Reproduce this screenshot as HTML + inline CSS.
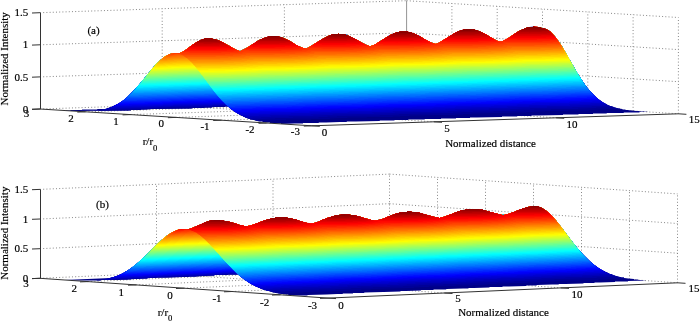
<!DOCTYPE html>
<html><head><meta charset="utf-8"><title>Normalized intensity</title>
<style>
html,body{margin:0;padding:0;background:#fff}
svg{display:block}
text{font-family:"Liberation Serif","Times New Roman",serif;font-size:11px;fill:#000;stroke:#000;stroke-width:.18px}
.g{stroke:#6a6a6a;stroke-width:.8;stroke-dasharray:1 2.2;fill:none}
.gs{stroke:#777;stroke-width:.8;fill:none}
.ax{stroke:#333;stroke-width:1;fill:none}
</style></head><body>
<svg width="700" height="323" viewBox="0 0 700 323">
<rect width="700" height="323" fill="#fff"/>
<g><path class="g" d="M40.0 109.0L406.6 97.0"/>
<path class="g" d="M406.6 97.0L678.4 113.8"/>
<path class="g" d="M40.0 76.9L406.6 64.9"/>
<path class="g" d="M406.6 64.9L678.4 81.7"/>
<path class="g" d="M40.0 44.8L406.6 32.8"/>
<path class="g" d="M406.6 32.8L678.4 49.6"/>
<path class="g" d="M40.0 12.7L406.6 0.7"/>
<path class="g" d="M406.6 0.7L678.4 17.5"/>
<path class="g" d="M162.2 105.0L162.2 8.7"/>
<path class="g" d="M162.2 105.0L434.0 121.8"/>
<path class="g" d="M284.4 101.0L284.4 4.7"/>
<path class="g" d="M284.4 101.0L556.2 117.8"/>
<path class="gs" d="M406.6 97.0L406.6 0.7"/>
<path class="g" d="M451.9 99.8L451.9 3.5"/>
<path class="g" d="M497.2 102.6L497.2 6.3"/>
<path class="g" d="M542.5 105.4L542.5 9.1"/>
<path class="g" d="M587.8 108.2L587.8 11.9"/>
<path class="g" d="M633.1 111.0L633.1 14.7"/>
<path class="g" d="M678.4 113.8L678.4 17.5"/>
<path class="g" d="M85.3 111.8L451.9 99.8"/>
<path class="g" d="M130.6 114.6L497.2 102.6"/>
<path class="g" d="M175.9 117.4L542.5 105.4"/>
<path class="g" d="M221.2 120.2L587.8 108.2"/>
<path class="g" d="M266.5 123.0L633.1 111.0"/></g>
<g shape-rendering="auto"><path fill="#000087" d="M648.9 111.9l-6 -0.3l-0.3 -0.2l-3 0l-0.2 -0.3l-2.8 0l-0.2 -0.2l-4.8 -0.3l-0.2 -0.2l-4 -0.3l-0.3 -0.2l-1.5 0l-0.2 -0.3l-1.3 0l-0.2 -0.2l-1.3 0l-0.2 -0.3l-3.5 -0.5l-0.3 -0.2l-3.7 -0.8l-6.3 -2.2l-5 -2.5l-4.5 -3l-6.5 -5.8l-4.2 -4.7l-4.8 -6.3l-4 -6l-5 -8.2l-0.5 -1.3l-4.5 -7.5l-0.7 -1.7l-0.5 -0.5l-0.5 -1.3l-0.5 -0.5l-0.5 -1.2l-5.5 -9.3l-3.5 -5.2l-3.5 -4.5l-4.3 -4.3l-4 -2.5l-2.2 -0.7l-1.5 0l-3.8 -1.3l-1 0l-0.2 -0.2l-3 0l-0.3 -0.3l-5 0.5l-5.5 1.8l-6.2 3.2l-10.5 6.8l-5.3 2.5l-2.5 0l-2.7 -1l-6.3 -3.3l-4 -2.5l-6 -3l-0.5 0l-1.2 -0.7l-2.3 -0.8l-0.7 0l-2.3 -0.7l-1.5 0l-0.2 -0.3l-5.3 0l-0.2 0.3l-1.5 0l-5 1.5l-5.3 2.5l-12.2 7.7l-3.3 1.8l-2.7 1l-2 -0.3l-2.8 -1l-6.2 -3.2l-4.5 -2.8l-5.5 -2.7l-5 -1.8l-2 -0.2l-0.3 -0.3l-2 0l-0.2 -0.2l-3.8 0l-0.2 0.2l-2.8 0.3l-3.5 1l-2.5 1.2l-0.5 0l-6.7 3.8l-8 5.2l-4.3 2.3l-0.5 0l-1.5 0.7l-1.7 0l-3 -1l-5 -2.5l-6.3 -3.7l-5 -2.5l-4.7 -1.8l-0.8 0l-1.2 -0.5l-1.3 0l-0.2 -0.2l-3.5 0l-0.3 -0.3l-0.2 0.3l-4 0.2l-5.5 1.8l-5 2.5l-12.3 7.7l-3.5 1.8l-2.2 0.7l-3.8 -1l-5.5 -2.7l-6.2 -3.8l-6.3 -3l-3.7 -1.2l-2 -0.3l-0.3 -0.2l-1.2 0l-0.3 -0.3l-5.2 0l-0.3 0.3l-1.5 0l-6.2 2l-4.5 2.2l-11.8 7.5l-6 2.8l-1.2 0l-3 -1l-5.5 -2.8l-0.5 -0.5l-5.8 -3l-0.5 -0.5l-6.5 -3l-4.2 -1.2l-1 0l-0.3 -0.3l-2 0l-0.2 -0.2l-5 0.2l-4 1.3l-3 1.5l-5 3.2l-6.5 5l-5 3l-1.5 0.5l-6.3 0l-0.2 0.3l-2.3 0.2l-4.2 1.8l-3.8 2.5l-3 2.5l-6.5 6.7l-10.5 13l-7.2 8.5l-10 9.8l-3.3 2.5l-5 3.2l-6.2 3l-6.5 2l-7.5 0l-0.3 0.3l-7.2 0l-0.3 0.2l-7.5 0l-0.2 0.3l-8 0l-0.3 0.2l-7.7 0l-0.3 0.3l-2.7 0l7.5 0.2l0.2 0.3l6.3 0l0.2 0.2l46.5 -0.5l0.3 -0.2l7 0l0.2 -0.3l9.8 -0.2l0.2 -0.3l3.8 0l0.2 -0.2l7.5 -0.3l0.3 -0.2l31.5 -0.3l0.2 -0.2l8 0l0.3 -0.3l11 -0.2l0.2 -0.3l4 0l0.3 -0.2l3.7 0l0.3 -0.3l3.5 0l0.2 -0.2l8.8 0l0.2 -0.3l3.3 0l5.5 4.5l4.7 3l6.8 3.3l5.7 2l0.8 0l5.2 1.5l3.8 0.5l0.2 0.2l1.3 0l0.2 0.3l5.3 0.5l0.2 0.2l1.8 0l0.2 0.3l4.8 0.2l0.2 0.3l5.8 0.2l0.2 0.3l13.3 -0.3l0.2 -0.2l8.3 0l0.2 -0.3l7.8 0l0.2 -0.2l7.5 0l0.3 -0.3l7 0l0.2 -0.2l13.8 -0.3l0.2 -0.2l6.5 0l0.3 -0.3l8.5 0l0.2 -0.2l24 -0.5l0.3 -0.3l14.5 -0.2l0.2 -0.3l6.8 0l0.2 -0.2l6.5 0l0.3 -0.3l16.2 -0.2l0.3 -0.3l8 0l0.2 -0.2l7.8 0l0.2 -0.3l14.8 -0.2l0.2 -0.3l13.8 -0.2l0.2 -0.3l6.5 0l0.3 -0.2l25 -0.5l0.2 -0.3l15 -0.2l0.3 -0.3l7 0l0.2 -0.2l6.8 0l0.2 -0.3l6.5 0l0.3 -0.2l24.5 -0.5l0.2 -0.3l7.5 0l0.3 -0.2l7.5 0l0.2 -0.3l7 0l0.3 -0.2l7 0l0.2 -0.3l13.5 -0.2l0.3 -0.3l16.7 -0.2l0.3 -0.3l7.7 0l0.3 -0.2l7.5 0l0.2 -0.3l7.3 0l0.2 -0.2z"/>
<path fill="#000097" d="M621.1 108.9l-1 0l-0.2 -0.3l-1 0l-0.3 -0.2l-3.7 -0.8l-6.3 -2.2l-5 -2.5l-2.7 -1.8l-4.3 -3.2l-3 -2.8l-3.7 -4l-3.5 -4.2l-6.8 -9.8l-5 -8.2l-0.5 -1.3l-4.5 -7.5l-0.7 -1.7l-0.5 -0.5l-0.5 -1.3l-0.5 -0.5l-0.5 -1.2l-5.5 -9.3l-3.5 -5.2l-3.5 -4.5l-4.3 -4.3l-4 -2.5l-2.2 -0.7l-1.5 0l-1.8 -0.8l-3 -0.5l-0.2 -0.2l-3 0l-0.3 -0.3l-1 0l-0.2 0.3l-3.8 0.2l-5.5 1.8l-6.2 3.2l-10.5 6.8l-5.3 2.5l-2.5 0l-2.7 -1l-6.3 -3.3l-4 -2.5l-6 -3l-0.5 0l-1.2 -0.7l-2.3 -0.8l-0.7 0l-2.3 -0.7l-1.5 0l-0.2 -0.3l-5.3 0l-0.2 0.3l-1.5 0l-5 1.5l-5.3 2.5l-12.2 7.7l-3.3 1.8l-2.7 1l-2 -0.3l-2.8 -1l-6.2 -3.2l-4.5 -2.8l-5.5 -2.7l-5 -1.8l-2 -0.2l-0.3 -0.3l-2 0l-0.2 -0.2l-3.8 0l-0.2 0.2l-2.8 0.3l-3.5 1l-2.5 1.2l-0.5 0l-6.7 3.8l-8 5.2l-4.3 2.3l-0.5 0l-1.5 0.7l-1.7 0l-3 -1l-5 -2.5l-6.3 -3.7l-5 -2.5l-4.7 -1.8l-0.8 0l-1.2 -0.5l-1.3 0l-0.2 -0.2l-3.5 0l-0.3 -0.3l-0.2 0.3l-4 0.2l-5.5 1.8l-5 2.5l-12.3 7.7l-3.5 1.8l-2.2 0.7l-3.8 -1l-5.5 -2.7l-6.2 -3.8l-6.3 -3l-3.7 -1.2l-2 -0.3l-0.3 -0.2l-1.2 0l-0.3 -0.3l-5.2 0l-0.3 0.3l-1.5 0l-6.2 2l-4.5 2.2l-11.8 7.5l-6 2.8l-1.2 0l-3 -1l-5.5 -2.8l-0.5 -0.5l-5.8 -3l-0.5 -0.5l-6.5 -3l-4.2 -1.2l-1 0l-0.3 -0.3l-2 0l-0.2 -0.2l-5 0.2l-4 1.3l-3 1.5l-5 3.2l-6.5 5l-5 3l-1.5 0.5l-6.3 0l-0.2 0.3l-2.3 0.2l-4.2 1.8l-3.8 2.5l-3 2.5l-6.5 6.7l-10.5 13l-7.2 8.5l-8.3 8.3l-5 4l-3.7 2.5l-5.8 3l-7 2.5l-4.2 0.7l-0.3 0.3l-1 0l-0.2 0.2l-1.5 0l-0.3 0.3l-4.2 0.2l-0.3 0.3l-2.7 0l38.2 -0.5l0.3 -0.3l11 -0.2l0.2 -0.3l3.8 0l0.2 -0.2l7.5 -0.3l0.3 -0.2l38 -0.5l0.2 -0.3l7.3 0l0.2 -0.2l9.5 -0.3l0.3 -0.2l3.7 0l0.3 -0.3l7.7 -0.2l0.3 -0.3l8 0l2.5 2.3l5.2 3.7l7.5 4l7.5 2.8l0.8 0l5.2 1.5l3.3 0.5l0.2 -0.3l4 0l0.3 -0.2l3.7 0l0.3 -0.3l6.5 -0.2l0.2 -0.3l4.3 0l0.2 -0.2l5.8 0l0.2 -0.3l25 -0.2l0.3 -0.3l14 0l0.2 -0.2l4 0l0.3 -0.3l11.7 -0.5l0.3 -0.2l5.2 0l0.3 -0.3l19.2 -0.2l0.3 -0.3l25.7 -0.2l0.3 -0.3l3.5 0l0.2 -0.2l3.5 0l0.3 -0.3l8.7 -0.2l0.3 -0.3l6 0l0.2 -0.2l23.8 -0.3l0.2 -0.2l15.3 0l0.2 -0.3l4.3 0l0.2 -0.2l3.5 0l0.3 -0.3l3.5 0l0.2 -0.2l4.3 0l0.2 -0.3l5 0l0.3 -0.2l18.5 -0.3l0.2 -0.2l26.5 -0.3l0.3 -0.2l3.7 0l0.3 -0.3l7.5 -0.2l0.2 -0.3l4.5 0l0.3 -0.2l6 0l0.2 -0.3l22.8 -0.2l0.2 -0.3l16 0l0.3 -0.2l4.5 0l0.2 -0.3l3.8 0l0.2 -0.2l7.8 -0.3l0.2 -0.2l5 0l0.3 -0.3z"/>
<path fill="#0000a7" d="M613.9 107.1l-5.3 -1.7l-5 -2.5l-2.7 -1.8l-4.3 -3.2l-3 -2.8l-5.2 -5.7l-4.8 -6.3l-5.2 -8l-17 -29.5l-5.8 -8.2l-5.5 -5.8l-2.5 -1.7l-3.7 -1.5l-1.5 0l-1.8 -0.8l-3 -0.5l-0.2 -0.2l-3 0l-0.3 -0.3l-1 0l-0.2 0.3l-3.8 0.2l-5.5 1.8l-6.2 3.2l-10.5 6.8l-5.3 2.5l-2.5 0l-2.7 -1l-6.3 -3.3l-4 -2.5l-6 -3l-0.5 0l-1.2 -0.7l-2.3 -0.8l-0.7 0l-2.3 -0.7l-1.5 0l-0.2 -0.3l-5.3 0l-0.2 0.3l-1.5 0l-5 1.5l-5.3 2.5l-12.2 7.7l-3.3 1.8l-2.7 1l-2 -0.3l-2.8 -1l-6.2 -3.2l-4.5 -2.8l-5.5 -2.7l-5 -1.8l-2 -0.2l-0.3 -0.3l-2 0l-0.2 -0.2l-3.8 0l-0.2 0.2l-2.8 0.3l-3.5 1l-2.5 1.2l-0.5 0l-6.7 3.8l-8 5.2l-4.3 2.3l-0.5 0l-1.5 0.7l-1.7 0l-3 -1l-5 -2.5l-6.3 -3.7l-5 -2.5l-4.7 -1.8l-0.8 0l-1.2 -0.5l-1.3 0l-0.2 -0.2l-3.5 0l-0.3 -0.3l-0.2 0.3l-4 0.2l-5.5 1.8l-5 2.5l-12.3 7.7l-3.5 1.8l-2.2 0.7l-3.8 -1l-5.5 -2.7l-6.2 -3.8l-6.3 -3l-3.7 -1.2l-2 -0.3l-0.3 -0.2l-1.2 0l-0.3 -0.3l-5.2 0l-0.3 0.3l-1.5 0l-6.2 2l-4.5 2.2l-11.8 7.5l-6 2.8l-1.2 0l-3 -1l-5.5 -2.8l-0.5 -0.5l-5.8 -3l-0.5 -0.5l-6.5 -3l-4.2 -1.2l-1 0l-0.3 -0.3l-2 0l-0.2 -0.2l-5 0.2l-4 1.3l-3 1.5l-5 3.2l-6.5 5l-5 3l-1.5 0.5l-6.3 0l-0.2 0.3l-2.3 0.2l-2.2 0.8l-4.8 2.7l-4 3.3l-4.2 4.2l-6.3 7.3l-13.7 16.7l-10 9.8l-7 5l-5.8 3l-7 2.5l-4.2 0.7l-0.3 0.3l-1 0l-0.2 0.2l-1.3 0l36 -0.5l0.3 -0.2l11.7 -0.3l0.3 -0.2l4.2 0l0.3 -0.3l4 0l0.2 -0.2l4 0l0.3 -0.3l35.5 -0.5l0.2 -0.2l7.5 0l0.3 -0.3l6 0l0.2 -0.2l4.5 0l0.3 -0.3l4 0l0.2 -0.2l4 0l0.3 -0.3l4.5 0l1.5 1.5l4.5 3.5l4.7 3l8 3.8l4.5 1.5l1.5 0.2l0.3 -0.2l5 0l0.2 -0.3l3.8 0l0.2 -0.2l7.8 -0.3l0.2 -0.2l5 0l0.3 -0.3l17.5 -0.2l0.2 -0.3l25.5 -0.2l0.3 -0.3l4.2 0l0.3 -0.2l4 0l0.2 -0.3l4 0l0.3 -0.2l5 0l0.2 -0.3l6 0l0.3 -0.2l21.2 -0.3l0.3 -0.2l14.7 0l0.3 -0.3l6 0l0.2 -0.2l12.8 -0.5l0.2 -0.3l5.3 0l0.2 -0.2l17.5 -0.3l0.3 -0.2l26 -0.3l0.2 -0.2l4.3 0l0.2 -0.3l8.3 -0.2l0.2 -0.3l4.8 0l0.2 -0.2l6 0l0.3 -0.3l20.7 -0.2l0.3 -0.3l15 0l0.2 -0.2l6.5 0l0.3 -0.3l8 -0.2l0.2 -0.3l4.5 0l0.3 -0.2l5.2 0l0.3 -0.3l16.5 -0.2l0.2 -0.3l26.8 -0.2l0.2 -0.3l4.5 0l0.3 -0.2l13 -0.5l0.2 -0.3z"/>
<path fill="#0000b7" d="M609.6 105.6l-1 -0.2l-5 -2.5l-7 -5l-4 -3.8l-6.2 -7.2l-8 -11.8l-17 -29.5l-3.5 -5.2l-3.5 -4.5l-4.3 -4.3l-4 -2.5l-2.2 -0.7l-1.5 0l-1.8 -0.8l-3 -0.5l-0.2 -0.2l-3 0l-0.3 -0.3l-1 0l-0.2 0.3l-3.8 0.2l-5.5 1.8l-6.2 3.2l-10.5 6.8l-5.3 2.5l-2.5 0l-2.7 -1l-6.3 -3.3l-4 -2.5l-6 -3l-0.5 0l-1.2 -0.7l-2.3 -0.8l-0.7 0l-2.3 -0.7l-1.5 0l-0.2 -0.3l-5.3 0l-0.2 0.3l-1.5 0l-5 1.5l-5.3 2.5l-12.2 7.7l-3.3 1.8l-2.7 1l-2 -0.3l-2.8 -1l-6.2 -3.2l-4.5 -2.8l-5.5 -2.7l-5 -1.8l-2 -0.2l-0.3 -0.3l-2 0l-0.2 -0.2l-3.8 0l-0.2 0.2l-2.8 0.3l-3.5 1l-2.5 1.2l-0.5 0l-6.7 3.8l-8 5.2l-4.3 2.3l-0.5 0l-1.5 0.7l-1.7 0l-3 -1l-5 -2.5l-6.3 -3.7l-5 -2.5l-4.7 -1.8l-0.8 0l-1.2 -0.5l-1.3 0l-0.2 -0.2l-3.5 0l-0.3 -0.3l-0.2 0.3l-4 0.2l-5.5 1.8l-5 2.5l-12.3 7.7l-3.5 1.8l-2.2 0.7l-3.8 -1l-5.5 -2.7l-6.2 -3.8l-6.3 -3l-3.7 -1.2l-2 -0.3l-0.3 -0.2l-1.2 0l-0.3 -0.3l-5.2 0l-0.3 0.3l-1.5 0l-6.2 2l-4.5 2.2l-11.8 7.5l-6 2.8l-1.2 0l-3 -1l-5.5 -2.8l-0.5 -0.5l-5.8 -3l-0.5 -0.5l-6.5 -3l-4.2 -1.2l-1 0l-0.3 -0.3l-2 0l-0.2 -0.2l-5 0.2l-4 1.3l-3 1.5l-5 3.2l-6.5 5l-5 3l-1.5 0.5l-6.3 0l-0.2 0.3l-2.3 0.2l-2.2 0.8l-4.8 2.7l-4 3.3l-4.2 4.2l-6.3 7.3l-11.7 14.5l-10.3 10.5l-5 4l-5 3.2l-6.2 3l-7.3 2.3l0.8 0l0.2 -0.3l11 0l0.3 -0.2l24.2 -0.3l0.3 -0.2l11.7 -0.3l0.3 -0.2l4.5 0l0.2 -0.3l9 -0.2l0.3 -0.3l34.7 -0.5l0.3 -0.2l7.2 0l0.3 -0.3l5.7 0l0.3 -0.2l4.7 0l0.3 -0.3l6.5 -0.2l4 3.5l5.2 3.7l7.5 4l0.5 0l1.3 0.8l2.2 0.7l0.3 -0.2l4.5 0l0.2 -0.3l4.3 0l0.2 -0.2l4 0l0.3 -0.3l4 0l0.2 -0.2l5.3 0l0.2 -0.3l17.5 -0.2l0.3 -0.3l13.5 0l0.2 -0.2l10.5 0l0.3 -0.3l4.7 0l0.3 -0.2l8.7 -0.3l0.3 -0.2l5 0l0.2 -0.3l6.5 0l0.3 -0.2l20.2 -0.3l0.3 -0.2l13.7 0l0.3 -0.3l6.7 0l0.3 -0.2l13.7 -0.5l0.3 -0.3l5.5 0l0.2 -0.2l17 -0.3l0.3 -0.2l13.5 0l0.2 -0.3l11.3 0l0.2 -0.2l4.5 0l0.3 -0.3l9 -0.2l0.2 -0.3l5 0l0.3 -0.2l6 0l0.2 -0.3l20 -0.2l0.3 -0.3l13.7 0l0.3 -0.2l7.2 0l0.3 -0.3l4.5 0l0.2 -0.2l9 -0.3l0.3 -0.2l5.5 0l0.2 -0.3l16.8 -0.2l0.2 -0.3l13.3 0l0.2 -0.2l11.8 0l0.2 -0.3l4.8 0l0.2 -0.2l14 -0.5l0.3 -0.3l6.2 0l0.3 -0.2z"/>
<path fill="#0000c7" d="M606.4 104.1l-4.8 -2.5l-5 -3.7l-4 -3.8l-6.2 -7.2l-8 -11.8l-17 -29.5l-3.5 -5.2l-3.5 -4.5l-4.3 -4.3l-4 -2.5l-2.2 -0.7l-1.5 0l-1.8 -0.8l-3 -0.5l-0.2 -0.2l-3 0l-0.3 -0.3l-1 0l-0.2 0.3l-3.8 0.2l-5.5 1.8l-6.2 3.2l-10.5 6.8l-5.3 2.5l-2.5 0l-2.7 -1l-6.3 -3.3l-4 -2.5l-6 -3l-0.5 0l-1.2 -0.7l-2.3 -0.8l-0.7 0l-2.3 -0.7l-1.5 0l-0.2 -0.3l-5.3 0l-0.2 0.3l-1.5 0l-5 1.5l-5.3 2.5l-12.2 7.7l-3.3 1.8l-2.7 1l-2 -0.3l-2.8 -1l-6.2 -3.2l-4.5 -2.8l-5.5 -2.7l-5 -1.8l-2 -0.2l-0.3 -0.3l-2 0l-0.2 -0.2l-3.8 0l-0.2 0.2l-2.8 0.3l-3.5 1l-2.5 1.2l-0.5 0l-6.7 3.8l-8 5.2l-4.3 2.3l-0.5 0l-1.5 0.7l-1.7 0l-3 -1l-5 -2.5l-6.3 -3.7l-5 -2.5l-4.7 -1.8l-0.8 0l-1.2 -0.5l-1.3 0l-0.2 -0.2l-3.5 0l-0.3 -0.3l-0.2 0.3l-4 0.2l-5.5 1.8l-5 2.5l-12.3 7.7l-3.5 1.8l-2.2 0.7l-3.8 -1l-5.5 -2.7l-6.2 -3.8l-6.3 -3l-3.7 -1.2l-2 -0.3l-0.3 -0.2l-1.2 0l-0.3 -0.3l-5.2 0l-0.3 0.3l-1.5 0l-6.2 2l-4.5 2.2l-11.8 7.5l-6 2.8l-1.2 0l-3 -1l-5.5 -2.8l-0.5 -0.5l-5.8 -3l-0.5 -0.5l-6.5 -3l-4.2 -1.2l-1 0l-0.3 -0.3l-2 0l-0.2 -0.2l-5 0.2l-4 1.3l-3 1.5l-5 3.2l-6.5 5l-5 3l-1.5 0.5l-6.3 0l-0.2 0.3l-2.3 0.2l-2.2 0.8l-4.8 2.7l-4 3.3l-4.2 4.2l-6.3 7.3l-11.7 14.5l-10.3 10.5l-5 4l-5 3.2l-4.5 2.3l-0.5 0l-3.2 1.5l-1.5 0.2l0 0.3l0.7 0l0.3 -0.3l10.5 0l0.2 -0.2l23.5 -0.3l0.3 -0.2l12.2 -0.3l0.3 -0.2l4.7 0l0.3 -0.3l9.5 -0.2l0.2 -0.3l33.3 -0.5l0.2 -0.2l7.5 0l0.3 -0.3l6 0l0.2 -0.2l8 -0.3l3.3 3l4.5 3.5l4.7 3l5.3 2.5l0.2 -0.2l5.8 0l0.2 -0.3l4.3 0l0.2 -0.2l4 0l0.3 -0.3l4.7 0l0.3 -0.2l5.7 0l0.3 -0.3l40.7 -0.7l0.3 -0.3l14.2 -0.5l0.3 -0.2l12.7 -0.3l0.3 -0.2l9 0l0.2 -0.3l24.5 -0.2l0.3 -0.3l5.5 0l0.2 -0.2l14.5 -0.5l0.3 -0.3l6.2 0l0.3 -0.2l40.7 -0.8l0.3 -0.2l4.7 0l0.3 -0.3l9.5 -0.2l0.2 -0.3l5.5 0l0.3 -0.2l15.7 -0.3l0.3 -0.2l11.7 0l0.3 -0.3l12.2 0l0.3 -0.2l6.2 0l0.3 -0.3l14.5 -0.5l0.2 -0.2l6 0l0.3 -0.3l18 -0.2l0.2 -0.3l12.5 0l0.3 -0.2l10 0l0.2 -0.3l4.8 0l0.2 -0.2l9.5 -0.3l0.3 -0.2l12 -0.3l0.2 -0.2l9 0z"/>
<path fill="#0000d7" d="M603.9 102.9l-4.8 -3l-5.5 -4.8l-5.2 -5.7l-3.5 -4.5l-5.3 -7.8l-5 -8.2l-0.5 -1.3l-4.5 -7.5l-0.7 -1.7l-0.5 -0.5l-0.5 -1.3l-0.5 -0.5l-0.5 -1.2l-5.5 -9.3l-3.5 -5.2l-3.5 -4.5l-4.3 -4.3l-4 -2.5l-2.2 -0.7l-1.5 0l-1.8 -0.8l-3 -0.5l-0.2 -0.2l-3 0l-0.3 -0.3l-1 0l-0.2 0.3l-3.8 0.2l-5.5 1.8l-6.2 3.2l-10.5 6.8l-5.3 2.5l-2.5 0l-2.7 -1l-6.3 -3.3l-4 -2.5l-6 -3l-0.5 0l-1.2 -0.7l-2.3 -0.8l-0.7 0l-2.3 -0.7l-1.5 0l-0.2 -0.3l-5.3 0l-0.2 0.3l-1.5 0l-5 1.5l-5.3 2.5l-12.2 7.7l-3.3 1.8l-2.7 1l-2 -0.3l-2.8 -1l-6.2 -3.2l-4.5 -2.8l-5.5 -2.7l-5 -1.8l-2 -0.2l-0.3 -0.3l-2 0l-0.2 -0.2l-3.8 0l-0.2 0.2l-2.8 0.3l-3.5 1l-2.5 1.2l-0.5 0l-6.7 3.8l-8 5.2l-4.3 2.3l-0.5 0l-1.5 0.7l-1.7 0l-3 -1l-5 -2.5l-6.3 -3.7l-5 -2.5l-4.7 -1.8l-0.8 0l-1.2 -0.5l-1.3 0l-0.2 -0.2l-3.5 0l-0.3 -0.3l-0.2 0.3l-4 0.2l-5.5 1.8l-5 2.5l-12.3 7.7l-3.5 1.8l-2.2 0.7l-3.8 -1l-5.5 -2.7l-6.2 -3.8l-6.3 -3l-3.7 -1.2l-2 -0.3l-0.3 -0.2l-1.2 0l-0.3 -0.3l-5.2 0l-0.3 0.3l-1.5 0l-6.2 2l-4.5 2.2l-11.8 7.5l-6 2.8l-1.2 0l-3 -1l-5.5 -2.8l-0.5 -0.5l-5.8 -3l-0.5 -0.5l-6.5 -3l-4.2 -1.2l-1 0l-0.3 -0.3l-2 0l-0.2 -0.2l-5 0.2l-4 1.3l-3 1.5l-5 3.2l-6.5 5l-5 3l-1.5 0.5l-6.3 0l-0.2 0.3l-2.3 0.2l-2.2 0.8l-4.8 2.7l-4 3.3l-4.2 4.2l-6.3 7.3l-11.7 14.5l-10.3 10.5l-5 4l-3.7 2.5l-5.8 3l-2.2 0.7l33 -0.5l0.2 -0.2l12.8 -0.3l0.2 -0.2l5.3 0l0.2 -0.3l9.8 -0.2l0.2 -0.3l31.8 -0.5l0.2 -0.2l8 0l0.3 -0.3l6.2 0l0.3 -0.2l5.5 0l0.2 -0.3l5.8 5.3l5.2 3.7l4.5 2.5l2 0l0.3 -0.2l5.5 0l0.2 -0.3l14.5 -0.5l0.3 -0.2l7 0l0.2 -0.3l20 -0.2l0.3 -0.3l12 0l0.2 -0.2l6.3 0l0.2 -0.3l15.3 -0.5l0.2 -0.2l6 0l0.3 -0.3l18 -0.2l0.2 -0.3l12 0l0.3 -0.2l9.7 0l0.3 -0.3l5 0l0.2 -0.2l9.8 -0.3l0.2 -0.2l5.5 0l0.3 -0.3l6.7 0l0.3 -0.2l20 -0.3l0.2 -0.2l12 0l0.3 -0.3l6.7 0l0.3 -0.2l15.2 -0.5l0.3 -0.3l6 0l0.2 -0.2l17.3 -0.3l0.2 -0.2l12 0l0.3 -0.3l10.2 0l0.3 -0.2l5.2 0l0.3 -0.3l4.7 0l0.3 -0.2l4.7 0l0.3 -0.3l5.5 0l0.2 -0.2l6.5 0l0.3 -0.3l20 -0.2l0.2 -0.3l11.8 0l0.2 -0.2l7.3 0l0.2 -0.3l15.3 -0.5l0.2 -0.2l5.8 0l0.2 -0.3z"/>
<path fill="#0000e7" d="M601.4 101.4l-4.8 -3.5l-3 -2.8l-5.2 -5.7l-3.5 -4.5l-5.3 -7.8l-5 -8.2l-0.5 -1.3l-4.5 -7.5l-0.7 -1.7l-0.5 -0.5l-0.5 -1.3l-0.5 -0.5l-0.5 -1.2l-5.5 -9.3l-3.5 -5.2l-3.5 -4.5l-4.3 -4.3l-4 -2.5l-2.2 -0.7l-1.5 0l-1.8 -0.8l-3 -0.5l-0.2 -0.2l-3 0l-0.3 -0.3l-1 0l-0.2 0.3l-3.8 0.2l-5.5 1.8l-6.2 3.2l-10.5 6.8l-5.3 2.5l-2.5 0l-2.7 -1l-6.3 -3.3l-4 -2.5l-6 -3l-0.5 0l-1.2 -0.7l-2.3 -0.8l-0.7 0l-2.3 -0.7l-1.5 0l-0.2 -0.3l-5.3 0l-0.2 0.3l-1.5 0l-5 1.5l-5.3 2.5l-12.2 7.7l-3.3 1.8l-2.7 1l-2 -0.3l-2.8 -1l-6.2 -3.2l-4.5 -2.8l-5.5 -2.7l-5 -1.8l-2 -0.2l-0.3 -0.3l-2 0l-0.2 -0.2l-3.8 0l-0.2 0.2l-2.8 0.3l-3.5 1l-2.5 1.2l-0.5 0l-6.7 3.8l-8 5.2l-4.3 2.3l-0.5 0l-1.5 0.7l-1.7 0l-3 -1l-5 -2.5l-6.3 -3.7l-5 -2.5l-4.7 -1.8l-0.8 0l-1.2 -0.5l-1.3 0l-0.2 -0.2l-3.5 0l-0.3 -0.3l-0.2 0.3l-4 0.2l-5.5 1.8l-5 2.5l-12.3 7.7l-3.5 1.8l-2.2 0.7l-3.8 -1l-5.5 -2.7l-6.2 -3.8l-6.3 -3l-3.7 -1.2l-2 -0.3l-0.3 -0.2l-1.2 0l-0.3 -0.3l-5.2 0l-0.3 0.3l-1.5 0l-6.2 2l-4.5 2.2l-11.8 7.5l-6 2.8l-1.2 0l-3 -1l-5.5 -2.8l-0.5 -0.5l-5.8 -3l-0.5 -0.5l-6.5 -3l-4.2 -1.2l-1 0l-0.3 -0.3l-2 0l-0.2 -0.2l-5 0.2l-4 1.3l-3 1.5l-5 3.2l-6.5 5l-5 3l-1.5 0.5l-6.3 0l-0.2 0.3l-2.3 0.2l-2.2 0.8l-4.8 2.7l-4 3.3l-4.2 4.2l-6.3 7.3l-11.7 14.5l-10.3 10.5l-5 4l-3.7 2.5l-5.5 2.7l18.2 -0.2l0.3 -0.3l11 0l0.2 -0.2l14.3 -0.3l0.2 -0.2l5.5 0l0.3 -0.3l10 -0.2l0.2 -0.3l7 0l0.3 -0.2l22.2 -0.3l0.3 -0.2l8.7 0l0.3 -0.3l12 -0.2l3.2 3.2l6.3 5l4.5 2.8l0.2 -0.3l14.5 -0.5l0.3 -0.2l5 0l0.2 -0.3l6 0l0.3 -0.2l17.7 -0.3l0.3 -0.2l11.5 0l0.2 -0.3l9.5 0l0.3 -0.2l5 0l0.2 -0.3l5 0l0.3 -0.2l5 0l0.2 -0.3l5.8 0l0.2 -0.2l15.8 -0.3l0.2 -0.2l11.3 0l0.2 -0.3l11.3 0l0.2 -0.2l6.5 0l0.3 -0.3l15.7 -0.5l0.3 -0.2l6.2 0l0.3 -0.3l17.7 -0.2l0.3 -0.3l11.2 0l0.3 -0.2l9.7 0l0.3 -0.3l5.2 0l0.3 -0.2l5 0l0.2 -0.3l5 0l0.3 -0.2l5.7 0l0.3 -0.3l15.5 -0.2l0.2 -0.3l10.5 0l0.3 -0.2l11.7 0l0.3 -0.3l7 0l0.2 -0.2l15.8 -0.5l0.2 -0.3l6.3 0l0.2 -0.2l7.5 0l0.3 -0.3l31.2 -0.5l0.3 -0.2l5.5 0l0.2 -0.3l5 0l0.3 -0.2l5 0l0.2 -0.3l12.5 -0.2l0.3 -0.3l8.5 0z"/>
<path fill="#0000f7" d="M599.6 100.1l-3 -2.2l-4 -3.8l-4.2 -4.7l-4.8 -6.3l-4 -6l-5 -8.2l-0.5 -1.3l-4.5 -7.5l-0.7 -1.7l-0.5 -0.5l-0.5 -1.3l-0.5 -0.5l-0.5 -1.2l-5.5 -9.3l-3.5 -5.2l-3.5 -4.5l-4.3 -4.3l-4 -2.5l-2.2 -0.7l-1.5 0l-1.8 -0.8l-3 -0.5l-0.2 -0.2l-3 0l-0.3 -0.3l-1 0l-0.2 0.3l-3.8 0.2l-5.5 1.8l-6.2 3.2l-10.5 6.8l-5.3 2.5l-2.5 0l-2.7 -1l-6.3 -3.3l-4 -2.5l-6 -3l-0.5 0l-1.2 -0.7l-2.3 -0.8l-0.7 0l-2.3 -0.7l-1.5 0l-0.2 -0.3l-5.3 0l-0.2 0.3l-1.5 0l-5 1.5l-5.3 2.5l-12.2 7.7l-3.3 1.8l-2.7 1l-2 -0.3l-2.8 -1l-6.2 -3.2l-4.5 -2.8l-5.5 -2.7l-5 -1.8l-2 -0.2l-0.3 -0.3l-2 0l-0.2 -0.2l-3.8 0l-0.2 0.2l-2.8 0.3l-3.5 1l-2.5 1.2l-0.5 0l-6.7 3.8l-8 5.2l-4.3 2.3l-0.5 0l-1.5 0.7l-1.7 0l-3 -1l-5 -2.5l-6.3 -3.7l-5 -2.5l-4.7 -1.8l-0.8 0l-1.2 -0.5l-1.3 0l-0.2 -0.2l-3.5 0l-0.3 -0.3l-0.2 0.3l-4 0.2l-5.5 1.8l-5 2.5l-12.3 7.7l-3.5 1.8l-2.2 0.7l-3.8 -1l-5.5 -2.7l-6.2 -3.8l-6.3 -3l-3.7 -1.2l-2 -0.3l-0.3 -0.2l-1.2 0l-0.3 -0.3l-5.2 0l-0.3 0.3l-1.5 0l-6.2 2l-4.5 2.2l-11.8 7.5l-6 2.8l-1.2 0l-3 -1l-5.5 -2.8l-0.5 -0.5l-5.8 -3l-0.5 -0.5l-6.5 -3l-4.2 -1.2l-1 0l-0.3 -0.3l-2 0l-0.2 -0.2l-5 0.2l-4 1.3l-3 1.5l-5 3.2l-6.5 5l-5 3l-1.5 0.5l-6.3 0l-0.2 0.3l-2.3 0.2l-2.2 0.8l-4.8 2.7l-4 3.3l-4.2 4.2l-6.3 7.3l-11.7 14.5l-10.3 10.5l-5 4l-3.7 2.5l-3.3 1.7l2.8 0l0.2 -0.2l10.3 0l0.2 -0.3l11.5 0l0.3 -0.2l16 -0.3l0.2 -0.2l5.8 0l0.2 -0.3l16.5 -0.5l0.3 -0.2l21.2 -0.3l0.3 -0.2l9.5 0l0.2 -0.3l12.3 -0.2l6 5.7l6.7 5l1.8 -0.5l6 0l0.2 -0.2l15.8 -0.5l0.2 -0.3l7 0l0.3 -0.2l19.5 -0.3l0.2 -0.2l11.3 0l0.2 -0.3l6.3 0l0.2 -0.2l5.3 0l0.2 -0.3l10.8 -0.2l0.2 -0.3l6.5 0l0.3 -0.2l17.7 -0.3l0.3 -0.2l11.2 0l0.3 -0.3l9 0l0.2 -0.2l10.8 -0.3l0.2 -0.2l5 0l0.3 -0.3l6 0l0.2 -0.2l16.3 -0.3l0.2 -0.2l10.3 0l0.2 -0.3l11.3 0l0.2 -0.2l6.5 0l0.3 -0.3l16.5 -0.5l0.2 -0.2l6 0l0.3 -0.3l17.7 -0.2l0.3 -0.3l11 0l0.2 -0.2l9.3 0l0.2 -0.3l5.8 0l0.2 -0.2l16.5 -0.5l0.3 -0.3l15.7 -0.2l0.3 -0.3l10.5 0l0.2 -0.2l10.8 0l0.2 -0.3l7.3 0l0.2 -0.2l5.3 0l0.2 -0.3l10.8 -0.2l0.2 -0.3z"/>
<path fill="#0008ff" d="M598.1 98.9l-1.5 -1l-4 -3.8l-4.2 -4.7l-4.8 -6.3l-4 -6l-5 -8.2l-0.5 -1.3l-4.5 -7.5l-0.7 -1.7l-0.5 -0.5l-0.5 -1.3l-0.5 -0.5l-0.5 -1.2l-5.5 -9.3l-3.5 -5.2l-3.5 -4.5l-4.3 -4.3l-4 -2.5l-2.2 -0.7l-1.5 0l-1.8 -0.8l-3 -0.5l-0.2 -0.2l-3 0l-0.3 -0.3l-1 0l-0.2 0.3l-3.8 0.2l-5.5 1.8l-6.2 3.2l-10.5 6.8l-5.3 2.5l-2.5 0l-2.7 -1l-6.3 -3.3l-4 -2.5l-6 -3l-0.5 0l-1.2 -0.7l-2.3 -0.8l-0.7 0l-2.3 -0.7l-1.5 0l-0.2 -0.3l-5.3 0l-0.2 0.3l-1.5 0l-5 1.5l-5.3 2.5l-12.2 7.7l-3.3 1.8l-2.7 1l-2 -0.3l-2.8 -1l-6.2 -3.2l-4.5 -2.8l-5.5 -2.7l-5 -1.8l-2 -0.2l-0.3 -0.3l-2 0l-0.2 -0.2l-3.8 0l-0.2 0.2l-2.8 0.3l-3.5 1l-2.5 1.2l-0.5 0l-6.7 3.8l-8 5.2l-4.3 2.3l-0.5 0l-1.5 0.7l-1.7 0l-3 -1l-5 -2.5l-6.3 -3.7l-5 -2.5l-4.7 -1.8l-0.8 0l-1.2 -0.5l-1.3 0l-0.2 -0.2l-3.5 0l-0.3 -0.3l-0.2 0.3l-4 0.2l-5.5 1.8l-5 2.5l-12.3 7.7l-3.5 1.8l-2.2 0.7l-3.8 -1l-5.5 -2.7l-6.2 -3.8l-6.3 -3l-3.7 -1.2l-2 -0.3l-0.3 -0.2l-1.2 0l-0.3 -0.3l-5.2 0l-0.3 0.3l-1.5 0l-6.2 2l-4.5 2.2l-11.8 7.5l-6 2.8l-1.2 0l-3 -1l-5.5 -2.8l-0.5 -0.5l-5.8 -3l-0.5 -0.5l-6.5 -3l-4.2 -1.2l-1 0l-0.3 -0.3l-2 0l-0.2 -0.2l-5 0.2l-4 1.3l-3 1.5l-5 3.2l-6.5 5l-5 3l-1.5 0.5l-6.3 0l-0.2 0.3l-2.3 0.2l-2.2 0.8l-4.8 2.7l-4 3.3l-6.5 6.7l-10.5 13l-7.2 8.5l-10 9.8l-3.3 2.5l-4.7 3l29.7 -0.5l0.3 -0.3l14 -0.2l0.2 -0.3l5.8 0l0.2 -0.2l11 -0.3l0.3 -0.2l7.7 0l0.3 -0.3l10.5 0l0.2 -0.2l10 0l0.3 -0.3l14 -0.2l5.2 5.2l3.3 2.8l3.2 2.2l0.3 -0.2l5.5 0l0.2 -0.3l16 -0.5l0.3 -0.2l6.7 0l0.3 -0.3l37.2 -0.7l0.3 -0.3l5.5 0l0.2 -0.2l11 -0.3l0.3 -0.2l6 0l0.2 -0.3l16.3 -0.2l0.2 -0.3l10.8 0l0.2 -0.2l10.3 0l0.2 -0.3l6.3 0l0.2 -0.2l5.3 0l0.2 -0.3l5.3 0l0.2 -0.2l6 0l0.3 -0.3l6.5 0l0.2 -0.2l37.8 -0.8l0.2 -0.2l5.5 0l0.3 -0.3l5.2 0l0.3 -0.2l5.2 0l0.3 -0.3l6.2 0l0.3 -0.2l16.2 -0.3l0.3 -0.2l10.2 0l0.3 -0.3l10.7 0l0.3 -0.2l6.2 0l0.3 -0.3l5.2 0l0.3 -0.2l5.2 0l0.3 -0.3l6 0l0.2 -0.2l6.8 0l0.2 -0.3l17.5 -0.2l0.3 -0.3l10.2 0l0.3 -0.2l0.2 0.2l0.3 -0.2l8.5 0l0.2 -0.3l5.8 0l0.2 -0.2l17.3 -0.5l0.2 -0.3z"/>
<path fill="#0018ff" d="M596.1 97.4l-2.5 -2.3l-3.7 -4l-6.3 -8l-4 -6l-5 -8.2l-0.5 -1.3l-4.5 -7.5l-0.7 -1.7l-0.5 -0.5l-0.5 -1.3l-0.5 -0.5l-0.5 -1.2l-5.5 -9.3l-3.5 -5.2l-3.5 -4.5l-4.3 -4.3l-4 -2.5l-2.2 -0.7l-1.5 0l-1.8 -0.8l-3 -0.5l-0.2 -0.2l-3 0l-0.3 -0.3l-1 0l-0.2 0.3l-3.8 0.2l-5.5 1.8l-6.2 3.2l-10.5 6.8l-5.3 2.5l-2.5 0l-2.7 -1l-6.3 -3.3l-4 -2.5l-6 -3l-0.5 0l-1.2 -0.7l-2.3 -0.8l-0.7 0l-2.3 -0.7l-1.5 0l-0.2 -0.3l-5.3 0l-0.2 0.3l-1.5 0l-5 1.5l-5.3 2.5l-12.2 7.7l-3.3 1.8l-2.7 1l-2 -0.3l-2.8 -1l-6.2 -3.2l-4.5 -2.8l-5.5 -2.7l-5 -1.8l-2 -0.2l-0.3 -0.3l-2 0l-0.2 -0.2l-3.8 0l-0.2 0.2l-2.8 0.3l-3.5 1l-2.5 1.2l-0.5 0l-6.7 3.8l-8 5.2l-4.3 2.3l-0.5 0l-1.5 0.7l-1.7 0l-3 -1l-5 -2.5l-6.3 -3.7l-5 -2.5l-4.7 -1.8l-0.8 0l-1.2 -0.5l-1.3 0l-0.2 -0.2l-3.5 0l-0.3 -0.3l-0.2 0.3l-4 0.2l-5.5 1.8l-5 2.5l-12.3 7.7l-3.5 1.8l-2.2 0.7l-3.8 -1l-5.5 -2.7l-6.2 -3.8l-6.3 -3l-3.7 -1.2l-2 -0.3l-0.3 -0.2l-1.2 0l-0.3 -0.3l-5.2 0l-0.3 0.3l-1.5 0l-6.2 2l-4.5 2.2l-11.8 7.5l-6 2.8l-1.2 0l-3 -1l-5.5 -2.8l-0.5 -0.5l-5.8 -3l-0.5 -0.5l-6.5 -3l-4.2 -1.2l-1 0l-0.3 -0.3l-2 0l-0.2 -0.2l-5 0.2l-4 1.3l-3 1.5l-5 3.2l-6.5 5l-5 3l-1.5 0.5l-6.3 0l-0.2 0.3l-2.3 0.2l-4.2 1.8l-3.8 2.5l-3 2.5l-6.5 6.7l-10.5 13l-7.2 8.5l-8.3 8.3l-3 2.5l-5 3.5l3.5 0l0.3 -0.3l10.5 0l0.2 -0.2l10.5 0l0.3 -0.3l8.2 0l0.3 -0.2l7 0l0.2 -0.3l6 0l0.3 -0.2l5.5 0l0.2 -0.3l5.5 0l0.3 -0.2l6.2 0l0.3 -0.3l9.7 0l0.3 -0.2l10 0l0.2 -0.3l0.3 0.3l0.2 -0.3l15.8 -0.2l6.2 6.2l4.3 3.5l3.5 0l0.2 -0.2l5.8 0l0.2 -0.3l5.3 0l0.2 -0.2l5.3 0l0.2 -0.3l6.5 0l0.3 -0.2l17 -0.3l0.2 -0.2l10.3 0l0.2 -0.3l9.3 0l0.2 -0.2l6 0l0.3 -0.3l17.5 -0.5l0.2 -0.2l6.8 0l0.2 -0.3l36.8 -0.7l0.2 -0.3l17.3 -0.5l0.2 -0.2l6.5 0l0.3 -0.3l7.5 0l0.2 -0.2l29.5 -0.5l0.3 -0.3l6 0l0.2 -0.2l17.3 -0.5l0.2 -0.3l15.8 -0.2l0.2 -0.3l9.5 0l0.3 -0.2l10.2 0l0.3 -0.3l8 0l0.2 -0.2l17.3 -0.5l0.2 -0.3l6.3 0l0.2 -0.2l16.8 -0.3l0.2 -0.2l9.8 0l0.2 -0.3l10 0l0.3 -0.2l6.2 0l0.3 -0.3l5.2 0l0.3 -0.2l11.7 -0.3l0.3 -0.2l7 0l0.2 -0.3l8 0l0.3 -0.2z"/>
<path fill="#0028ff" d="M594.9 96.1l-1.3 -1l-3.7 -4l-6.3 -8l-4 -6l-5 -8.2l-0.5 -1.3l-4.5 -7.5l-0.7 -1.7l-0.5 -0.5l-0.5 -1.3l-0.5 -0.5l-0.5 -1.2l-5.5 -9.3l-3.5 -5.2l-3.5 -4.5l-4.3 -4.3l-4 -2.5l-2.2 -0.7l-1.5 0l-1.8 -0.8l-3 -0.5l-0.2 -0.2l-3 0l-0.3 -0.3l-1 0l-0.2 0.3l-3.8 0.2l-5.5 1.8l-6.2 3.2l-10.5 6.8l-5.3 2.5l-2.5 0l-2.7 -1l-6.3 -3.3l-4 -2.5l-6 -3l-0.5 0l-1.2 -0.7l-2.3 -0.8l-0.7 0l-2.3 -0.7l-1.5 0l-0.2 -0.3l-5.3 0l-0.2 0.3l-1.5 0l-5 1.5l-5.3 2.5l-12.2 7.7l-3.3 1.8l-2.7 1l-2 -0.3l-2.8 -1l-6.2 -3.2l-4.5 -2.8l-5.5 -2.7l-5 -1.8l-2 -0.2l-0.3 -0.3l-2 0l-0.2 -0.2l-3.8 0l-0.2 0.2l-2.8 0.3l-3.5 1l-2.5 1.2l-0.5 0l-6.7 3.8l-8 5.2l-4.3 2.3l-0.5 0l-1.5 0.7l-1.7 0l-3 -1l-5 -2.5l-6.3 -3.7l-5 -2.5l-4.7 -1.8l-0.8 0l-1.2 -0.5l-1.3 0l-0.2 -0.2l-3.5 0l-0.3 -0.3l-0.2 0.3l-4 0.2l-5.5 1.8l-5 2.5l-12.3 7.7l-3.5 1.8l-2.2 0.7l-3.8 -1l-5.5 -2.7l-6.2 -3.8l-6.3 -3l-3.7 -1.2l-2 -0.3l-0.3 -0.2l-1.2 0l-0.3 -0.3l-5.2 0l-0.3 0.3l-1.5 0l-6.2 2l-4.5 2.2l-11.8 7.5l-6 2.8l-1.2 0l-3 -1l-5.5 -2.8l-0.5 -0.5l-5.8 -3l-0.5 -0.5l-6.5 -3l-4.2 -1.2l-1 0l-0.3 -0.3l-2 0l-0.2 -0.2l-5 0.2l-4 1.3l-3 1.5l-5 3.2l-6.5 5l-5 3l-1.5 0.5l-6.3 0l-0.2 0.3l-2.3 0.2l-4.2 1.8l-3.8 2.5l-3 2.5l-6.5 6.7l-10.5 13l-7.2 8.5l-8.3 8.3l-3 2.5l-3.2 2.2l29 -0.5l0.2 -0.2l14.3 -0.3l0.2 -0.2l6 0l0.3 -0.3l11.5 -0.2l0.2 -0.3l28 -0.5l0.3 -0.2l8.2 0l0.8 -0.3l7.2 7.5l2.8 2.3l0.7 0l0.3 -0.3l6.7 0l0.3 -0.2l17.2 -0.5l0.3 -0.3l16.2 -0.2l0.3 -0.3l9.2 0l0.3 -0.2l0.2 0.2l0.3 -0.2l9.5 0l0.2 -0.3l6.8 0l0.2 -0.2l6 0l0.3 -0.3l11.7 -0.2l0.3 -0.3l6.7 0l0.3 -0.2l27.2 -0.5l0.3 -0.3l9 0l0.2 -0.2l6 0l0.3 -0.3l11.2 -0.2l0.3 -0.3l6.5 0l0.2 -0.2l15.8 -0.3l0.2 -0.2l10 0l0.3 -0.3l9.7 0l0.3 -0.2l6.7 0l0.3 -0.3l18 -0.5l0.2 -0.2l6.5 0l0.3 -0.3l17 -0.2l0.2 -0.3l10.3 0l0.2 -0.2l9 0l0.3 -0.3l11.7 -0.2l0.3 -0.3l5.5 0l0.2 -0.2l6.3 0l0.2 -0.3l16.3 -0.2l0.2 -0.3l9.3 0l0.2 -0.2l10.3 0l0.2 -0.3l7 0l0.3 -0.2l5.7 0l0.3 -0.3l5.5 0l0.2 -0.2l6 0l0.3 -0.3l6.7 0l0.3 -0.2z"/>
<path fill="#0038ff" d="M593.4 94.9l-7 -8l-6.8 -9.8l-5 -8.2l-0.5 -1.3l-4.5 -7.5l-0.7 -1.7l-0.5 -0.5l-0.5 -1.3l-0.5 -0.5l-0.5 -1.2l-5.5 -9.3l-3.5 -5.2l-3.5 -4.5l-4.3 -4.3l-4 -2.5l-2.2 -0.7l-1.5 0l-1.8 -0.8l-3 -0.5l-0.2 -0.2l-3 0l-0.3 -0.3l-1 0l-0.2 0.3l-3.8 0.2l-5.5 1.8l-6.2 3.2l-10.5 6.8l-5.3 2.5l-2.5 0l-2.7 -1l-6.3 -3.3l-4 -2.5l-6 -3l-0.5 0l-1.2 -0.7l-2.3 -0.8l-0.7 0l-2.3 -0.7l-1.5 0l-0.2 -0.3l-5.3 0l-0.2 0.3l-1.5 0l-5 1.5l-5.3 2.5l-12.2 7.7l-3.3 1.8l-2.7 1l-2 -0.3l-2.8 -1l-6.2 -3.2l-4.5 -2.8l-5.5 -2.7l-5 -1.8l-2 -0.2l-0.3 -0.3l-2 0l-0.2 -0.2l-3.8 0l-0.2 0.2l-2.8 0.3l-3.5 1l-2.5 1.2l-0.5 0l-6.7 3.8l-8 5.2l-4.3 2.3l-0.5 0l-1.5 0.7l-1.7 0l-3 -1l-5 -2.5l-6.3 -3.7l-5 -2.5l-4.7 -1.8l-0.8 0l-1.2 -0.5l-1.3 0l-0.2 -0.2l-3.5 0l-0.3 -0.3l-0.2 0.3l-4 0.2l-5.5 1.8l-5 2.5l-12.3 7.7l-3.5 1.8l-2.2 0.7l-3.8 -1l-5.5 -2.7l-6.2 -3.8l-6.3 -3l-3.7 -1.2l-2 -0.3l-0.3 -0.2l-1.2 0l-0.3 -0.3l-5.2 0l-0.3 0.3l-1.5 0l-6.2 2l-4.5 2.2l-11.8 7.5l-6 2.8l-1.2 0l-3 -1l-5.5 -2.8l-0.5 -0.5l-5.8 -3l-0.5 -0.5l-6.5 -3l-4.2 -1.2l-1 0l-0.3 -0.3l-2 0l-0.2 -0.2l-5 0.2l-4 1.3l-3 1.5l-5 3.2l-6.5 5l-5 3l-1.5 0.5l-6.3 0l-0.2 0.3l-2.3 0.2l-4.2 1.8l-3.8 2.5l-3 2.5l-6.5 6.7l-10.5 13l-7.2 8.5l-8.3 8.3l-4.7 3.7l13.7 -0.2l0.3 -0.3l9.7 0l0.3 -0.2l8.2 0l0.3 -0.3l13.7 -0.2l0.3 -0.3l5.7 0l0.3 -0.2l5.7 0l0.3 -0.3l6.7 0l0.3 -0.2l9 0l0.2 -0.3l9.5 0l0.3 -0.2l9 0l0.2 -0.3l2.8 0l1.7 2l7.8 7.5l0.2 -0.2l5.8 0l0.2 -0.3l17.5 -0.5l0.3 -0.2l7 0l0.2 -0.3l35.5 -0.7l0.3 -0.3l6 0l0.2 -0.2l12 -0.3l0.3 -0.2l6.5 0l0.2 -0.3l16.5 -0.2l0.3 -0.3l9.5 0l0.2 -0.2l9.5 0l0.3 -0.3l6.5 0l0.2 -0.2l18 -0.5l0.3 -0.3l15.5 -0.2l0.2 -0.3l9.3 0l0.2 -0.2l9.8 0l0.2 -0.3l8 0l0.3 -0.2l18 -0.5l0.2 -0.3l6.5 0l0.3 -0.2l16.5 -0.3l0.2 -0.2l9.3 0l0.2 -0.3l9.8 0l0.2 -0.2l6.3 0l0.2 -0.3l6 0l0.3 -0.2l12.2 -0.3l0.3 -0.2l6.7 0l0.3 -0.3l27.2 -0.5l0.3 -0.2l8.5 0l0.2 -0.3l18 -0.5l0.3 -0.2z"/>
<path fill="#0048ff" d="M592.4 93.6l-2.5 -2.5l-3.5 -4.2l-6.8 -9.8l-5 -8.2l-0.5 -1.3l-4.5 -7.5l-0.7 -1.7l-0.5 -0.5l-0.5 -1.3l-0.5 -0.5l-0.5 -1.2l-5.5 -9.3l-3.5 -5.2l-3.5 -4.5l-4.3 -4.3l-4 -2.5l-2.2 -0.7l-1.5 0l-1.8 -0.8l-3 -0.5l-0.2 -0.2l-3 0l-0.3 -0.3l-1 0l-0.2 0.3l-3.8 0.2l-5.5 1.8l-6.2 3.2l-10.5 6.8l-5.3 2.5l-2.5 0l-2.7 -1l-6.3 -3.3l-4 -2.5l-6 -3l-0.5 0l-1.2 -0.7l-2.3 -0.8l-0.7 0l-2.3 -0.7l-1.5 0l-0.2 -0.3l-5.3 0l-0.2 0.3l-1.5 0l-5 1.5l-5.3 2.5l-12.2 7.7l-3.3 1.8l-2.7 1l-2 -0.3l-2.8 -1l-6.2 -3.2l-4.5 -2.8l-5.5 -2.7l-5 -1.8l-2 -0.2l-0.3 -0.3l-2 0l-0.2 -0.2l-3.8 0l-0.2 0.2l-2.8 0.3l-3.5 1l-2.5 1.2l-0.5 0l-6.7 3.8l-8 5.2l-4.3 2.3l-0.5 0l-1.5 0.7l-1.7 0l-3 -1l-5 -2.5l-6.3 -3.7l-5 -2.5l-4.7 -1.8l-0.8 0l-1.2 -0.5l-1.3 0l-0.2 -0.2l-3.5 0l-0.3 -0.3l-0.2 0.3l-4 0.2l-5.5 1.8l-5 2.5l-12.3 7.7l-3.5 1.8l-2.2 0.7l-3.8 -1l-5.5 -2.7l-6.2 -3.8l-6.3 -3l-3.7 -1.2l-2 -0.3l-0.3 -0.2l-1.2 0l-0.3 -0.3l-5.2 0l-0.3 0.3l-1.5 0l-6.2 2l-4.5 2.2l-11.8 7.5l-6 2.8l-1.2 0l-3 -1l-5.5 -2.8l-0.5 -0.5l-5.8 -3l-0.5 -0.5l-6.5 -3l-4.2 -1.2l-1 0l-0.3 -0.3l-2 0l-0.2 -0.2l-5 0.2l-4 1.3l-3 1.5l-5 3.2l-6.5 5l-5 3l-1.5 0.5l-6.3 0l-0.2 0.3l-2.3 0.2l-4.2 1.8l-3.8 2.5l-3 2.5l-6.5 6.7l-10.5 13l-7.2 8.5l-8.3 8.3l-3.2 2.5l27.2 -0.5l0.3 -0.3l14.7 -0.2l0.3 -0.3l6.2 0l0.3 -0.2l6 0l0.2 -0.3l6 0l0.3 -0.2l7.7 0l0.3 -0.3l9.2 0l0.3 -0.2l15.2 -0.3l2.5 3l6.3 6.3l0.2 -0.3l4 0l0.3 -0.2l18.2 -0.5l0.3 -0.3l6.5 0l0.2 -0.2l17 -0.3l0.3 -0.2l9.5 0l0.2 -0.3l8.3 0l0.2 -0.2l6.3 0l0.2 -0.3l19 -0.5l0.3 -0.2l16 -0.3l0.2 -0.2l9 0l0.3 -0.3l9.2 0l0.3 -0.2l7.5 0l0.2 -0.3l18.5 -0.5l0.3 -0.2l6.7 0l0.3 -0.3l16.7 -0.2l0.3 -0.3l9.5 0l0.2 -0.2l8.5 0l0.3 -0.3l6.2 0l0.3 -0.2l18.7 -0.5l0.3 -0.3l0.2 0.3l0.3 -0.3l6.7 0l0.3 -0.2l27.5 -0.5l0.2 -0.3l7.3 0l0.2 -0.2l18.8 -0.5l0.2 -0.3l6.5 0l0.3 -0.2l16.7 -0.3l0.3 -0.2l9.5 0l0.2 -0.3l8.8 0l0.2 -0.2l6.3 0l0.2 -0.3l6 0l0.3 -0.2l5.7 0l0.3 -0.3z"/>
<path fill="#0058ff" d="M590.9 92.1l-4.5 -5.2l-6.8 -9.8l-5 -8.2l-0.5 -1.3l-4.5 -7.5l-0.7 -1.7l-0.5 -0.5l-0.5 -1.3l-0.5 -0.5l-0.5 -1.2l-5.5 -9.3l-3.5 -5.2l-3.5 -4.5l-4.3 -4.3l-4 -2.5l-2.2 -0.7l-1.5 0l-1.8 -0.8l-3 -0.5l-0.2 -0.2l-3 0l-0.3 -0.3l-1 0l-0.2 0.3l-3.8 0.2l-5.5 1.8l-6.2 3.2l-10.5 6.8l-5.3 2.5l-2.5 0l-2.7 -1l-6.3 -3.3l-4 -2.5l-6 -3l-0.5 0l-1.2 -0.7l-2.3 -0.8l-0.7 0l-2.3 -0.7l-1.5 0l-0.2 -0.3l-5.3 0l-0.2 0.3l-1.5 0l-5 1.5l-5.3 2.5l-12.2 7.7l-3.3 1.8l-2.7 1l-2 -0.3l-2.8 -1l-6.2 -3.2l-4.5 -2.8l-5.5 -2.7l-5 -1.8l-2 -0.2l-0.3 -0.3l-2 0l-0.2 -0.2l-3.8 0l-0.2 0.2l-2.8 0.3l-3.5 1l-2.5 1.2l-0.5 0l-6.7 3.8l-8 5.2l-4.3 2.3l-0.5 0l-1.5 0.7l-1.7 0l-3 -1l-5 -2.5l-6.3 -3.7l-5 -2.5l-4.7 -1.8l-0.8 0l-1.2 -0.5l-1.3 0l-0.2 -0.2l-3.5 0l-0.3 -0.3l-0.2 0.3l-4 0.2l-5.5 1.8l-5 2.5l-12.3 7.7l-3.5 1.8l-2.2 0.7l-3.8 -1l-5.5 -2.7l-6.2 -3.8l-6.3 -3l-3.7 -1.2l-2 -0.3l-0.3 -0.2l-1.2 0l-0.3 -0.3l-5.2 0l-0.3 0.3l-1.5 0l-6.2 2l-4.5 2.2l-11.8 7.5l-6 2.8l-1.2 0l-3 -1l-5.5 -2.8l-0.5 -0.5l-5.8 -3l-0.5 -0.5l-6.5 -3l-4.2 -1.2l-1 0l-0.3 -0.3l-2 0l-0.2 -0.2l-5 0.2l-4 1.3l-3 1.5l-5 3.2l-6.5 5l-5 3l-1.5 0.5l-6.3 0l-0.2 0.3l-2.3 0.2l-4.2 1.8l-3.8 2.5l-3 2.5l-4.2 4.2l-6.3 7.3l-13.7 16.7l-10 9.8l3 0l0.2 -0.3l8.5 0l0.3 -0.2l9.5 0l0.2 -0.3l8.8 0l0.2 -0.2l14 -0.3l0.3 -0.2l6.2 0l0.3 -0.3l12.7 -0.2l0.3 -0.3l17.7 -0.2l0.3 -0.3l0.2 0.3l0.3 -0.3l8.2 0l0.3 -0.2l3.7 4.2l4.8 4.8l2.2 0l0.3 -0.3l6.5 0l0.2 -0.2l19 -0.5l0.3 -0.3l25.5 -0.5l0.2 -0.2l9 0l0.3 -0.3l6.5 0l0.2 -0.2l6.3 0l0.2 -0.3l6.3 0l0.2 -0.2l6.3 0l0.2 -0.3l24.5 -0.5l0.3 -0.2l9 0l0.2 -0.3l8 0l0.3 -0.2l6.2 0l0.3 -0.3l12.5 -0.2l0.2 -0.3l6.8 0l0.2 -0.2l16.3 -0.3l0.2 -0.2l9.3 0l0.2 -0.3l8.5 0l0.3 -0.2l7 0l0.2 -0.3l19 -0.5l0.3 -0.2l15.5 -0.3l0.2 -0.2l9 0l0.3 -0.3l8.5 0l0.2 -0.2l0.3 0.2l0.2 -0.2l7.8 0l0.2 -0.3l6.3 0l0.2 -0.2l12.3 -0.3l0.2 -0.2l14.8 -0.3l0.2 -0.2l8.3 0l0.2 -0.3l9.3 0l0.2 -0.2l8.8 0l0.2 -0.3l7 0l0.3 -0.2l19 -0.5l0.2 -0.3l7 0l0.3 -0.2l8.2 0z"/>
<path fill="#0068ff" d="M589.9 90.9l-1.5 -1.5l-3.5 -4.5l-5.3 -7.8l-5 -8.2l-0.5 -1.3l-4.5 -7.5l-0.7 -1.7l-0.5 -0.5l-0.5 -1.3l-0.5 -0.5l-0.5 -1.2l-5.5 -9.3l-3.5 -5.2l-3.5 -4.5l-4.3 -4.3l-4 -2.5l-2.2 -0.7l-1.5 0l-1.8 -0.8l-3 -0.5l-0.2 -0.2l-3 0l-0.3 -0.3l-1 0l-0.2 0.3l-3.8 0.2l-5.5 1.8l-6.2 3.2l-10.5 6.8l-5.3 2.5l-2.5 0l-2.7 -1l-6.3 -3.3l-4 -2.5l-6 -3l-0.5 0l-1.2 -0.7l-2.3 -0.8l-0.7 0l-2.3 -0.7l-1.5 0l-0.2 -0.3l-5.3 0l-0.2 0.3l-1.5 0l-5 1.5l-5.3 2.5l-12.2 7.7l-3.3 1.8l-2.7 1l-2 -0.3l-2.8 -1l-6.2 -3.2l-4.5 -2.8l-5.5 -2.7l-5 -1.8l-2 -0.2l-0.3 -0.3l-2 0l-0.2 -0.2l-3.8 0l-0.2 0.2l-2.8 0.3l-3.5 1l-2.5 1.2l-0.5 0l-6.7 3.8l-8 5.2l-4.3 2.3l-0.5 0l-1.5 0.7l-1.7 0l-3 -1l-5 -2.5l-6.3 -3.7l-5 -2.5l-4.7 -1.8l-0.8 0l-1.2 -0.5l-1.3 0l-0.2 -0.2l-3.5 0l-0.3 -0.3l-0.2 0.3l-4 0.2l-5.5 1.8l-5 2.5l-12.3 7.7l-3.5 1.8l-2.2 0.7l-3.8 -1l-5.5 -2.7l-6.2 -3.8l-6.3 -3l-3.7 -1.2l-2 -0.3l-0.3 -0.2l-1.2 0l-0.3 -0.3l-5.2 0l-0.3 0.3l-1.5 0l-6.2 2l-4.5 2.2l-11.8 7.5l-6 2.8l-1.2 0l-3 -1l-5.5 -2.8l-0.5 -0.5l-5.8 -3l-0.5 -0.5l-6.5 -3l-4.2 -1.2l-1 0l-0.3 -0.3l-2 0l-0.2 -0.2l-5 0.2l-4 1.3l-3 1.5l-5 3.2l-6.5 5l-5 3l-1.5 0.5l-6.3 0l-0.2 0.3l-2.3 0.2l-4.2 1.8l-3.8 2.5l-3 2.5l-4.2 4.2l-6.3 7.3l-13.7 16.7l-8.8 8.5l16 -0.2l0.3 -0.3l9 0l0.2 -0.2l15 -0.3l0.3 -0.2l6.5 0l0.2 -0.3l12.8 -0.2l0.2 -0.3l7.3 0l0.2 -0.2l9 0l0.3 -0.3l8.7 0l0.3 -0.2l3.2 0l4.5 5.2l3.8 3.5l0.2 -0.2l7 0l0.3 -0.3l19.5 -0.5l0.2 -0.2l7 0l0.3 -0.3l26.5 -0.5l0.2 -0.2l7.3 0l0.2 -0.3l19.3 -0.5l0.2 -0.2l15.3 -0.3l0.2 -0.2l8.8 0l0.2 -0.3l8.5 0l0.3 -0.2l8 0l0.2 -0.3l0.3 0.3l0.2 -0.3l13 -0.2l0.3 -0.3l13 -0.2l0.2 -0.3l24.8 -0.5l0.2 -0.2l8.8 0l0.2 -0.3l7.5 0l0.3 -0.2l19.2 -0.5l0.3 -0.3l15 -0.2l0.2 -0.3l8.3 0l0.2 -0.2l0.3 0.2l0.5 -0.2l8.5 0l0.2 -0.3l8.3 0l0.2 -0.2l13.3 -0.3l0.2 -0.2l6.3 0l0.2 -0.3l6.3 0l0.2 -0.2l0.3 0.2l0.2 -0.2l7 0l0.3 -0.3l26.5 -0.5l0.2 -0.2l7 0l0.3 -0.3l6.5 0l0.2 -0.2l6.3 0l0.2 -0.3l6.5 0l0.3 -0.2l7 0l0.2 -0.3l7.8 0l0.2 -0.2z"/>
<path fill="#0078ff" d="M588.6 89.6l-3.7 -4.7l-5.3 -7.8l-5 -8.2l-0.5 -1.3l-4.5 -7.5l-0.7 -1.7l-0.5 -0.5l-0.5 -1.3l-0.5 -0.5l-0.5 -1.2l-5.5 -9.3l-3.5 -5.2l-3.5 -4.5l-4.3 -4.3l-4 -2.5l-2.2 -0.7l-1.5 0l-1.8 -0.8l-3 -0.5l-0.2 -0.2l-3 0l-0.3 -0.3l-1 0l-0.2 0.3l-3.8 0.2l-5.5 1.8l-6.2 3.2l-10.5 6.8l-5.3 2.5l-2.5 0l-2.7 -1l-6.3 -3.3l-4 -2.5l-6 -3l-0.5 0l-1.2 -0.7l-2.3 -0.8l-0.7 0l-2.3 -0.7l-1.5 0l-0.2 -0.3l-5.3 0l-0.2 0.3l-1.5 0l-5 1.5l-5.3 2.5l-12.2 7.7l-3.3 1.8l-2.7 1l-2 -0.3l-2.8 -1l-6.2 -3.2l-4.5 -2.8l-5.5 -2.7l-5 -1.8l-2 -0.2l-0.3 -0.3l-2 0l-0.2 -0.2l-3.8 0l-0.2 0.2l-2.8 0.3l-3.5 1l-2.5 1.2l-0.5 0l-6.7 3.8l-8 5.2l-4.3 2.3l-0.5 0l-1.5 0.7l-1.7 0l-3 -1l-5 -2.5l-6.3 -3.7l-5 -2.5l-4.7 -1.8l-0.8 0l-1.2 -0.5l-1.3 0l-0.2 -0.2l-3.5 0l-0.3 -0.3l-0.2 0.3l-4 0.2l-5.5 1.8l-5 2.5l-12.3 7.7l-3.5 1.8l-2.2 0.7l-3.8 -1l-5.5 -2.7l-6.2 -3.8l-6.3 -3l-3.7 -1.2l-2 -0.3l-0.3 -0.2l-1.2 0l-0.3 -0.3l-5.2 0l-0.3 0.3l-1.5 0l-6.2 2l-4.5 2.2l-11.8 7.5l-6 2.8l-1.2 0l-3 -1l-5.5 -2.8l-0.5 -0.5l-5.8 -3l-0.5 -0.5l-6.5 -3l-4.2 -1.2l-1 0l-0.3 -0.3l-2 0l-0.2 -0.2l-5 0.2l-4 1.3l-3 1.5l-5 3.2l-6.5 5l-5 3l-1.5 0.5l-6.3 0l-0.2 0.3l-2.3 0.2l-4.2 1.8l-3.8 2.5l-3 2.5l-4.2 4.2l-6.3 7.3l-11.7 14.5l-9.3 9.7l1.8 0l0.2 -0.2l7.8 0l0.2 -0.3l9 0l0.3 -0.2l8.7 0l0.3 -0.3l14.5 -0.2l0.2 -0.3l6.5 0l0.3 -0.2l13 -0.3l0.2 -0.2l24.3 -0.5l3.2 4l4.3 4.5l0.2 -0.3l18.8 -0.5l0.2 -0.2l6.8 0l0.2 -0.3l7.5 0l0.3 -0.2l8 0l0.2 -0.3l25 -0.5l0.3 -0.2l6.5 0l0.2 -0.3l20 -0.5l0.3 -0.2l16.2 -0.3l0.3 -0.2l9 0l0.2 -0.3l8 0l0.3 -0.2l7 0l0.2 -0.3l6.5 0l0.3 -0.2l13.2 -0.3l0.3 -0.2l15.2 -0.3l0.3 -0.2l8.7 0l0.3 -0.3l8.2 0l0.3 -0.2l0.2 0.2l0.3 -0.2l7.5 0l0.2 -0.3l19.8 -0.5l0.2 -0.2l7.3 0l0.2 -0.3l7.3 0l0.2 -0.2l8.5 0l0.3 -0.3l8.5 0l0.2 -0.2l8.5 0l0.3 -0.3l6.7 0l0.3 -0.2l6.5 0l0.2 -0.3l13.3 -0.2l0.2 -0.3l24 -0.5l0.3 -0.2l8.5 0l0.2 -0.3l0.3 0.3l0.2 -0.3l7.5 0l0.3 -0.2l6.5 0l0.2 -0.3l6.5 0l0.3 -0.2l6.5 0l0.2 -0.3l7 0l0.3 -0.2z"/>
<path fill="#0087ff" d="M587.6 88.4l-4 -5.3l-4 -6l-5 -8.2l-0.5 -1.3l-4.5 -7.5l-0.7 -1.7l-0.5 -0.5l-0.5 -1.3l-0.5 -0.5l-0.5 -1.2l-5.5 -9.3l-3.5 -5.2l-3.5 -4.5l-4.3 -4.3l-4 -2.5l-2.2 -0.7l-1.5 0l-1.8 -0.8l-3 -0.5l-0.2 -0.2l-3 0l-0.3 -0.3l-1 0l-0.2 0.3l-3.8 0.2l-5.5 1.8l-6.2 3.2l-10.5 6.8l-5.3 2.5l-2.5 0l-2.7 -1l-6.3 -3.3l-4 -2.5l-6 -3l-0.5 0l-1.2 -0.7l-2.3 -0.8l-0.7 0l-2.3 -0.7l-1.5 0l-0.2 -0.3l-5.3 0l-0.2 0.3l-1.5 0l-5 1.5l-5.3 2.5l-12.2 7.7l-3.3 1.8l-2.7 1l-2 -0.3l-2.8 -1l-6.2 -3.2l-4.5 -2.8l-5.5 -2.7l-5 -1.8l-2 -0.2l-0.3 -0.3l-2 0l-0.2 -0.2l-3.8 0l-0.2 0.2l-2.8 0.3l-3.5 1l-2.5 1.2l-0.5 0l-6.7 3.8l-8 5.2l-4.3 2.3l-0.5 0l-1.5 0.7l-1.7 0l-3 -1l-5 -2.5l-6.3 -3.7l-5 -2.5l-4.7 -1.8l-0.8 0l-1.2 -0.5l-1.3 0l-0.2 -0.2l-3.5 0l-0.3 -0.3l-0.2 0.3l-4 0.2l-5.5 1.8l-5 2.5l-12.3 7.7l-3.5 1.8l-2.2 0.7l-3.8 -1l-5.5 -2.7l-6.2 -3.8l-6.3 -3l-3.7 -1.2l-2 -0.3l-0.3 -0.2l-1.2 0l-0.3 -0.3l-5.2 0l-0.3 0.3l-1.5 0l-6.2 2l-4.5 2.2l-11.8 7.5l-6 2.8l-1.2 0l-3 -1l-5.5 -2.8l-0.5 -0.5l-5.8 -3l-0.5 -0.5l-6.5 -3l-4.2 -1.2l-1 0l-0.3 -0.3l-2 0l-0.2 -0.2l-5 0.2l-4 1.3l-3 1.5l-5 3.2l-6.5 5l-5 3l-1.5 0.5l-6.3 0l-0.2 0.3l-2.3 0.2l-2.2 0.8l-4.8 2.7l-4 3.3l-4.2 4.2l-6.3 7.3l-11.7 14.5l-8 8.5l13.7 -0.3l0.3 -0.2l8 0l0.2 -0.3l8 0l0.3 -0.2l0.2 0.2l0.3 -0.2l6.7 0l0.3 -0.3l6.7 0l0.3 -0.2l6.7 0l0.3 -0.3l6.7 0l0.3 -0.2l15.7 -0.3l0.3 -0.2l8 0l0.2 -0.3l1.8 0l2.7 3.5l4.5 5l0.3 -0.2l4.5 0l0.2 -0.3l6.8 0l0.2 -0.2l6.5 0l0.3 -0.3l6.2 0l0.3 -0.2l23.7 -0.5l0.3 -0.3l8.2 0l0.3 -0.2l7.7 0l0.3 -0.3l6.7 0l0.3 -0.2l6.7 0l0.3 -0.3l13.7 -0.2l0.3 -0.3l24.5 -0.5l0.2 -0.2l8.3 0l0.2 -0.3l7 0l0.3 -0.2l20.5 -0.5l0.2 -0.3l23.8 -0.5l0.2 -0.2l8.5 0l0.3 -0.3l7.5 0l0.2 -0.2l0.3 0.2l0.2 -0.2l6.8 0l0.2 -0.3l20.3 -0.5l0.2 -0.2l15.5 -0.3l0.3 -0.2l0.2 0.2l0.3 -0.2l8.2 0l0.3 -0.3l8 0l0.2 -0.2l0.3 0.2l0.2 -0.2l14 -0.3l0.3 -0.2l13 -0.3l0.2 -0.2l0.3 0.2l0.2 -0.2l6.8 0l0.2 -0.3l8 0l0.3 -0.2l25.2 -0.5l0.3 -0.3l6.5 0l0.2 -0.2l6.3 0l0.2 -0.3l6.8 0l0.2 -0.2l7.3 0l0.2 -0.3z"/>
<path fill="#0097ff" d="M586.6 87.1l-3 -4l-5.2 -8l-17 -29.5l-3.5 -5.2l-3.5 -4.5l-4.3 -4.3l-4 -2.5l-2.2 -0.7l-1.5 0l-1.8 -0.8l-3 -0.5l-0.2 -0.2l-3 0l-0.3 -0.3l-1 0l-0.2 0.3l-3.8 0.2l-5.5 1.8l-6.2 3.2l-10.5 6.8l-5.3 2.5l-2.5 0l-2.7 -1l-6.3 -3.3l-4 -2.5l-6 -3l-0.5 0l-1.2 -0.7l-2.3 -0.8l-0.7 0l-2.3 -0.7l-1.5 0l-0.2 -0.3l-5.3 0l-0.2 0.3l-1.5 0l-5 1.5l-5.3 2.5l-12.2 7.7l-3.3 1.8l-2.7 1l-2 -0.3l-2.8 -1l-6.2 -3.2l-4.5 -2.8l-5.5 -2.7l-5 -1.8l-2 -0.2l-0.3 -0.3l-2 0l-0.2 -0.2l-3.8 0l-0.2 0.2l-2.8 0.3l-3.5 1l-2.5 1.2l-0.5 0l-6.7 3.8l-8 5.2l-4.3 2.3l-0.5 0l-1.5 0.7l-1.7 0l-3 -1l-5 -2.5l-6.3 -3.7l-5 -2.5l-4.7 -1.8l-0.8 0l-1.2 -0.5l-1.3 0l-0.2 -0.2l-3.5 0l-0.3 -0.3l-0.2 0.3l-4 0.2l-5.5 1.8l-5 2.5l-12.3 7.7l-3.5 1.8l-2.2 0.7l-3.8 -1l-5.5 -2.7l-6.2 -3.8l-6.3 -3l-3.7 -1.2l-2 -0.3l-0.3 -0.2l-1.2 0l-0.3 -0.3l-5.2 0l-0.3 0.3l-1.5 0l-6.2 2l-4.5 2.2l-11.8 7.5l-6 2.8l-1.2 0l-3 -1l-5.5 -2.8l-0.5 -0.5l-5.8 -3l-0.5 -0.5l-6.5 -3l-4.2 -1.2l-1 0l-0.3 -0.3l-2 0l-0.2 -0.2l-5 0.2l-4 1.3l-3 1.5l-5 3.2l-6.5 5l-5 3l-1.5 0.5l-6.3 0l-0.2 0.3l-2.3 0.2l-2.2 0.8l-4.8 2.7l-4 3.3l-4.2 4.2l-6.3 7.3l-10.2 12.7l-8.5 9.3l0.5 -0.3l24.5 -0.5l0.2 -0.2l7.8 0l0.2 -0.3l7 0l0.3 -0.2l6.7 0l0.3 -0.3l7 0l0.2 -0.2l7 0l0.3 -0.3l21.2 -0.5l3.5 4.5l3.3 3.5l3.2 0l0.3 -0.2l7 0l0.2 -0.3l21 -0.5l0.3 -0.2l24.2 -0.5l0.3 -0.3l15.2 -0.2l0.3 -0.3l20.5 -0.5l0.2 -0.2l24.3 -0.5l0.2 -0.3l8.3 0l0.2 -0.2l6.8 0l0.2 -0.3l0.3 0.3l0.2 -0.3l6.5 0l0.3 -0.2l6.5 0l0.2 -0.3l0.3 0.3l0.2 -0.3l6.8 0l0.2 -0.2l7.3 0l0.2 -0.3l7.3 0l0.2 -0.2l25 -0.5l0.3 -0.3l6.7 0l0.3 -0.2l6.7 0l0.3 -0.3l6.7 0l0.3 -0.2l7 0l0.2 -0.3l7.8 0l0.2 -0.2l15.8 -0.3l0.2 -0.2l8.3 0l0.2 -0.3l14.5 -0.2l0.3 -0.3l6.7 0l0.3 -0.2l6.7 0l0.3 -0.3l6.7 0l0.3 -0.2l8 0l0.2 -0.3l7.8 0l0.2 -0.2l0.3 0.2l0.2 -0.2l8 0l0.3 -0.3l8 0l0.2 -0.2l7 0l0.3 -0.3l6.7 0l0.3 -0.2l6.5 0l0.2 -0.3z"/>
<path fill="#00a7ff" d="M585.6 85.6l-2 -2.5l-5.2 -8l-17 -29.5l-3.5 -5.2l-3.5 -4.5l-4.3 -4.3l-4 -2.5l-2.2 -0.7l-1.5 0l-1.8 -0.8l-3 -0.5l-0.2 -0.2l-3 0l-0.3 -0.3l-1 0l-0.2 0.3l-3.8 0.2l-5.5 1.8l-6.2 3.2l-10.5 6.8l-5.3 2.5l-2.5 0l-2.7 -1l-6.3 -3.3l-4 -2.5l-6 -3l-0.5 0l-1.2 -0.7l-2.3 -0.8l-0.7 0l-2.3 -0.7l-1.5 0l-0.2 -0.3l-5.3 0l-0.2 0.3l-1.5 0l-5 1.5l-5.3 2.5l-12.2 7.7l-3.3 1.8l-2.7 1l-2 -0.3l-2.8 -1l-6.2 -3.2l-4.5 -2.8l-5.5 -2.7l-5 -1.8l-2 -0.2l-0.3 -0.3l-2 0l-0.2 -0.2l-3.8 0l-0.2 0.2l-2.8 0.3l-3.5 1l-2.5 1.2l-0.5 0l-6.7 3.8l-8 5.2l-4.3 2.3l-0.5 0l-1.5 0.7l-1.7 0l-3 -1l-5 -2.5l-6.3 -3.7l-5 -2.5l-4.7 -1.8l-0.8 0l-1.2 -0.5l-1.3 0l-0.2 -0.2l-3.5 0l-0.3 -0.3l-0.2 0.3l-4 0.2l-5.5 1.8l-5 2.5l-12.3 7.7l-3.5 1.8l-2.2 0.7l-3.8 -1l-5.5 -2.7l-6.2 -3.8l-6.3 -3l-3.7 -1.2l-2 -0.3l-0.3 -0.2l-1.2 0l-0.3 -0.3l-5.2 0l-0.3 0.3l-1.5 0l-6.2 2l-4.5 2.2l-11.8 7.5l-6 2.8l-1.2 0l-3 -1l-5.5 -2.8l-0.5 -0.5l-5.8 -3l-0.5 -0.5l-6.5 -3l-4.2 -1.2l-1 0l-0.3 -0.3l-2 0l-0.2 -0.2l-5 0.2l-4 1.3l-3 1.5l-5 3.2l-6.5 5l-5 3l-1.5 0.5l-6.3 0l-0.2 0.3l-2.3 0.2l-2.2 0.8l-4.8 2.7l-4 3.3l-4.2 4.2l-6.3 7.3l-10.2 12.7l-7.3 8l3 0l0.3 -0.2l0.2 0.2l0.3 -0.2l7.7 0l0.3 -0.3l8 0l0.2 -0.2l7.8 0l0.2 -0.3l7.5 0l0.3 -0.2l6.7 0l0.3 -0.3l7.2 0l0.3 -0.2l6.5 0l0.2 -0.3l7.5 0l0.3 -0.2l7.5 0l0.2 -0.3l8 0l0.5 -0.2l6.5 8l2 0l0.3 -0.3l7 0l0.2 -0.2l14 -0.3l0.3 -0.2l6.7 0l0.3 -0.3l8 0l0.2 -0.2l7.8 0l0.2 -0.3l16.3 -0.2l0.2 -0.3l7 0l0.3 -0.2l21 -0.5l0.2 -0.3l23.5 -0.5l0.3 -0.2l8 0l0.2 -0.3l7.5 0l0.3 -0.2l7 0l0.2 -0.3l7 0l0.3 -0.2l14.2 -0.3l0.3 -0.2l7.5 0l0.2 -0.3l8 0l0.3 -0.2l8 0l0.2 -0.3l7.8 0l0.2 -0.2l7.3 0l0.2 -0.3l7 0l0.3 -0.2l13.7 -0.3l0.3 -0.2l7.7 0l0.3 -0.3l7.2 0l0.3 -0.2l24.2 -0.5l0.3 -0.3l7 0l0.2 -0.2l21 -0.5l0.3 -0.3l16 -0.2l0.2 -0.3l7.8 0l0.2 -0.2l8 0l0.3 -0.3l7 0l0.2 -0.2l0.3 0.2l0.2 -0.2l6.5 0l0.3 -0.3l0.2 0.3l0.3 -0.3l13.5 -0.2l0.2 -0.3l0.3 0.3l0.2 -0.3l6.8 0l0.2 -0.2l7 0z"/>
<path fill="#00b7ff" d="M584.9 84.6l-1.3 -1.5l-5.2 -8l-17 -29.5l-3.5 -5.2l-3.5 -4.5l-4.3 -4.3l-4 -2.5l-2.2 -0.7l-1.5 0l-1.8 -0.8l-3 -0.5l-0.2 -0.2l-3 0l-0.3 -0.3l-1 0l-0.2 0.3l-3.8 0.2l-5.5 1.8l-6.2 3.2l-10.5 6.8l-5.3 2.5l-2.5 0l-2.7 -1l-6.3 -3.3l-4 -2.5l-6 -3l-0.5 0l-1.2 -0.7l-2.3 -0.8l-0.7 0l-2.3 -0.7l-1.5 0l-0.2 -0.3l-5.3 0l-0.2 0.3l-1.5 0l-5 1.5l-5.3 2.5l-12.2 7.7l-3.3 1.8l-2.7 1l-2 -0.3l-2.8 -1l-6.2 -3.2l-4.5 -2.8l-5.5 -2.7l-5 -1.8l-2 -0.2l-0.3 -0.3l-2 0l-0.2 -0.2l-3.8 0l-0.2 0.2l-2.8 0.3l-3.5 1l-2.5 1.2l-0.5 0l-6.7 3.8l-8 5.2l-4.3 2.3l-0.5 0l-1.5 0.7l-1.7 0l-3 -1l-5 -2.5l-6.3 -3.7l-5 -2.5l-4.7 -1.8l-0.8 0l-1.2 -0.5l-1.3 0l-0.2 -0.2l-3.5 0l-0.3 -0.3l-0.2 0.3l-4 0.2l-5.5 1.8l-5 2.5l-12.3 7.7l-3.5 1.8l-2.2 0.7l-3.8 -1l-5.5 -2.7l-6.2 -3.8l-6.3 -3l-3.7 -1.2l-2 -0.3l-0.3 -0.2l-1.2 0l-0.3 -0.3l-5.2 0l-0.3 0.3l-1.5 0l-6.2 2l-4.5 2.2l-11.8 7.5l-6 2.8l-1.2 0l-3 -1l-5.5 -2.8l-0.5 -0.5l-5.8 -3l-0.5 -0.5l-6.5 -3l-4.2 -1.2l-1 0l-0.3 -0.3l-2 0l-0.2 -0.2l-5 0.2l-4 1.3l-3 1.5l-5 3.2l-6.5 5l-5 3l-1.5 0.5l-6.3 0l-0.2 0.3l-2.3 0.2l-2.2 0.8l-4.8 2.7l-4 3.3l-4.2 4.2l-6.3 7.3l-10.2 12.7l-6.3 6.8l13.8 -0.3l0.2 -0.2l8 0l0.3 -0.3l8 0l0.2 -0.2l7 0l0.3 -0.3l7.5 0l0.2 -0.2l6.8 0l0.2 -0.3l7.3 0l0.2 -0.2l7.3 0l0.2 -0.3l11.8 -0.2l5.2 6.7l1 1l0.5 0l0.3 -0.2l7.2 0l0.3 -0.3l21.7 -0.5l0.3 -0.2l7.5 0l0.2 -0.3l7.8 0l0.2 -0.2l8 0l0.3 -0.3l7.2 0l0.3 -0.2l7 0l0.2 -0.3l14.8 -0.2l0.2 -0.3l6.8 0l0.2 -0.2l15.5 -0.3l0.3 -0.2l7.5 0l0.2 -0.3l8.3 0l0.2 -0.2l7.3 0l0.2 -0.3l7 0l0.3 -0.2l0.2 0.2l0.3 -0.2l6.7 0l0.3 -0.3l6.5 0l0.2 -0.2l0.3 0.2l0.2 -0.2l14.5 -0.3l0.3 -0.2l8 0l0.2 -0.3l8 0l0.3 -0.2l7.5 0l0.2 -0.3l7.5 0l0.3 -0.2l7 0l0.2 -0.3l7 0l0.3 -0.2l7 0l0.2 -0.3l7 0l0.3 -0.2l24.2 -0.5l0.3 -0.3l14.7 -0.2l0.3 -0.3l7 0l0.2 -0.2l6.8 0l0.2 -0.3l0.3 0.3l0.2 -0.3l6.8 0l0.2 -0.2l7.8 0l0.2 -0.3l8 0l0.3 -0.2l7.2 0l0.3 -0.3l15.5 -0.2l0.2 -0.3l7 0l0.3 -0.2l7 0l0.2 -0.3l7 0l0.3 -0.2z"/>
<path fill="#00c7ff" d="M583.6 82.9l-4 -5.8l-5 -8.2l-0.5 -1.3l-4.5 -7.5l-0.7 -1.7l-0.5 -0.5l-0.5 -1.3l-0.5 -0.5l-0.5 -1.2l-5.5 -9.3l-3.5 -5.2l-3.5 -4.5l-4.3 -4.3l-4 -2.5l-2.2 -0.7l-1.5 0l-1.8 -0.8l-3 -0.5l-0.2 -0.2l-3 0l-0.3 -0.3l-1 0l-0.2 0.3l-3.8 0.2l-5.5 1.8l-6.2 3.2l-10.5 6.8l-5.3 2.5l-2.5 0l-2.7 -1l-6.3 -3.3l-4 -2.5l-6 -3l-0.5 0l-1.2 -0.7l-2.3 -0.8l-0.7 0l-2.3 -0.7l-1.5 0l-0.2 -0.3l-5.3 0l-0.2 0.3l-1.5 0l-5 1.5l-5.3 2.5l-12.2 7.7l-3.3 1.8l-2.7 1l-2 -0.3l-2.8 -1l-6.2 -3.2l-4.5 -2.8l-5.5 -2.7l-5 -1.8l-2 -0.2l-0.3 -0.3l-2 0l-0.2 -0.2l-3.8 0l-0.2 0.2l-2.8 0.3l-3.5 1l-2.5 1.2l-0.5 0l-6.7 3.8l-8 5.2l-4.3 2.3l-0.5 0l-1.5 0.7l-1.7 0l-3 -1l-5 -2.5l-6.3 -3.7l-5 -2.5l-4.7 -1.8l-0.8 0l-1.2 -0.5l-1.3 0l-0.2 -0.2l-3.5 0l-0.3 -0.3l-0.2 0.3l-4 0.2l-5.5 1.8l-5 2.5l-12.3 7.7l-3.5 1.8l-2.2 0.7l-3.8 -1l-5.5 -2.7l-6.2 -3.8l-6.3 -3l-3.7 -1.2l-2 -0.3l-0.3 -0.2l-1.2 0l-0.3 -0.3l-5.2 0l-0.3 0.3l-1.5 0l-6.2 2l-4.5 2.2l-11.8 7.5l-6 2.8l-1.2 0l-3 -1l-5.5 -2.8l-0.5 -0.5l-5.8 -3l-0.5 -0.5l-6.5 -3l-4.2 -1.2l-1 0l-0.3 -0.3l-2 0l-0.2 -0.2l-5 0.2l-4 1.3l-3 1.5l-5 3.2l-6.5 5l-5 3l-1.5 0.5l-6.3 0l-0.2 0.3l-2.3 0.2l-2.2 0.8l-4.8 2.7l-4 3.3l-6.5 6.7l-10.5 13l-8.7 10.3l1 0l0.2 -0.3l0.3 0.3l0.2 -0.3l7 0l0.3 -0.2l7.5 0l0.2 -0.3l15.3 -0.2l0.2 -0.3l0.3 0.3l0.2 -0.3l7 0l0.3 -0.2l7.5 0l0.2 -0.3l7 0l0.3 -0.2l7.2 0l0.3 -0.3l14.7 -0.2l5.8 7.2l6.7 0l0.3 -0.2l7.5 0l0.2 -0.3l7 0l0.3 -0.2l7 0l0.2 -0.3l8 0l0.3 -0.2l7 0l0.2 -0.3l8.3 0l0.2 -0.2l15 -0.3l0.3 -0.2l22 -0.5l0.2 -0.3l7.3 0l0.2 -0.2l7.5 0l0.3 -0.3l7.2 0l0.3 -0.2l7.7 0l0.3 -0.3l7.7 0l0.3 -0.2l22 -0.5l0.2 -0.3l7 0l0.3 -0.2l7.7 0l0.3 -0.3l7.5 0l0.2 -0.2l7.5 0l0.3 -0.3l7.5 0l0.2 -0.2l7.8 0l0.2 -0.3l14.5 -0.2l0.3 -0.3l7 0l0.2 -0.2l0.3 0.2l0.2 -0.2l7 0l0.3 -0.3l7.7 0l0.3 -0.2l7.2 0l0.3 -0.3l7.7 0l0.3 -0.2l7.2 0l0.3 -0.3l7.2 0l0.3 -0.2l7.2 0l0.3 -0.3l0.2 0.3l0.3 -0.3l14.2 -0.2l0.3 -0.3l7.5 0l0.2 -0.2l7.8 0l0.2 -0.3l7.3 0l0.2 -0.2l15.5 -0.3l0.3 -0.2l7 0l0.2 -0.3l0.3 0.3l0.2 -0.3l21.8 -0.5l0.2 -0.2l7.8 0l0.7 -0.3z"/>
<path fill="#00d7ff" d="M582.9 81.9l-3.3 -4.8l-5 -8.2l-0.5 -1.3l-4.5 -7.5l-0.7 -1.7l-0.5 -0.5l-0.5 -1.3l-0.5 -0.5l-0.5 -1.2l-5.5 -9.3l-3.5 -5.2l-3.5 -4.5l-4.3 -4.3l-4 -2.5l-2.2 -0.7l-1.5 0l-1.8 -0.8l-3 -0.5l-0.2 -0.2l-3 0l-0.3 -0.3l-1 0l-0.2 0.3l-3.8 0.2l-5.5 1.8l-6.2 3.2l-10.5 6.8l-5.3 2.5l-2.5 0l-2.7 -1l-6.3 -3.3l-4 -2.5l-6 -3l-0.5 0l-1.2 -0.7l-2.3 -0.8l-0.7 0l-2.3 -0.7l-1.5 0l-0.2 -0.3l-5.3 0l-0.2 0.3l-1.5 0l-5 1.5l-5.3 2.5l-12.2 7.7l-3.3 1.8l-2.7 1l-2 -0.3l-2.8 -1l-6.2 -3.2l-4.5 -2.8l-5.5 -2.7l-5 -1.8l-2 -0.2l-0.3 -0.3l-2 0l-0.2 -0.2l-3.8 0l-0.2 0.2l-2.8 0.3l-3.5 1l-2.5 1.2l-0.5 0l-6.7 3.8l-8 5.2l-4.3 2.3l-0.5 0l-1.5 0.7l-1.7 0l-3 -1l-5 -2.5l-6.3 -3.7l-5 -2.5l-4.7 -1.8l-0.8 0l-1.2 -0.5l-1.3 0l-0.2 -0.2l-3.5 0l-0.3 -0.3l-0.2 0.3l-4 0.2l-5.5 1.8l-5 2.5l-12.3 7.7l-3.5 1.8l-2.2 0.7l-3.8 -1l-5.5 -2.7l-6.2 -3.8l-6.3 -3l-3.7 -1.2l-2 -0.3l-0.3 -0.2l-1.2 0l-0.3 -0.3l-5.2 0l-0.3 0.3l-1.5 0l-6.2 2l-4.5 2.2l-11.8 7.5l-6 2.8l-1.2 0l-3 -1l-5.5 -2.8l-0.5 -0.5l-5.8 -3l-0.5 -0.5l-6.5 -3l-4.2 -1.2l-1 0l-0.3 -0.3l-2 0l-0.2 -0.2l-5 0.2l-4 1.3l-3 1.5l-5 3.2l-6.5 5l-5 3l-1.5 0.5l-6.3 0l-0.2 0.3l-2.3 0.2l-2.2 0.8l-4.8 2.7l-4 3.3l-6.5 6.7l-10.5 13l-7.7 9l75.2 -2.5l5.8 7.3l5.7 0l0.3 -0.3l7.2 0l0.3 -0.2l7 0l0.2 -0.3l0.3 0.3l0.2 -0.3l6.8 0l0.2 -0.2l0.3 0.2l0.2 -0.2l7.5 0l0.3 -0.3l7.2 0l0.3 -0.2l15.2 -0.3l0.3 -0.2l15 -0.3l0.2 -0.2l7.3 0l0.2 -0.3l7.3 0l0.2 -0.2l7.3 0l0.2 -0.3l7.3 0l0.2 -0.2l8 0l0.3 -0.3l7.5 0l0.2 -0.2l6.8 0l0.2 -0.3l7.8 0l0.2 -0.2l15 -0.3l0.3 -0.2l7 0l0.2 -0.3l23 -0.5l0.3 -0.2l22.7 -0.5l0.3 -0.3l7.2 0l0.3 -0.2l0.2 0.2l0.3 -0.2l6.5 0l0.2 -0.3l0.3 0.3l0.2 -0.3l22.5 -0.5l0.3 -0.2l8 0l0.2 -0.3l6.5 0l0.3 -0.2l0.2 0.2l0.3 -0.2l7.5 0l0.2 -0.3l7 0l0.3 -0.2l7.5 0l0.2 -0.3l7.3 0l0.2 -0.2l15.3 -0.3l0.2 -0.2l7.3 0l0.2 -0.3l7.5 0l0.3 -0.2l15.2 -0.3l0.3 -0.2l7.5 0l0.2 -0.3l7 0l0.3 -0.2l7 0l0.2 -0.3l7.8 0l0.2 -0.2z"/>
<path fill="#00e7ff" d="M582.1 80.6l-2.5 -3.5l-5 -8.2l-0.5 -1.3l-4.5 -7.5l-0.7 -1.7l-0.5 -0.5l-0.5 -1.3l-0.5 -0.5l-0.5 -1.2l-5.5 -9.3l-3.5 -5.2l-3.5 -4.5l-4.3 -4.3l-4 -2.5l-2.2 -0.7l-1.5 0l-1.8 -0.8l-3 -0.5l-0.2 -0.2l-3 0l-0.3 -0.3l-1 0l-0.2 0.3l-3.8 0.2l-5.5 1.8l-6.2 3.2l-10.5 6.8l-5.3 2.5l-2.5 0l-2.7 -1l-6.3 -3.3l-4 -2.5l-6 -3l-0.5 0l-1.2 -0.7l-2.3 -0.8l-0.7 0l-2.3 -0.7l-1.5 0l-0.2 -0.3l-5.3 0l-0.2 0.3l-1.5 0l-5 1.5l-5.3 2.5l-12.2 7.7l-3.3 1.8l-2.7 1l-2 -0.3l-2.8 -1l-6.2 -3.2l-4.5 -2.8l-5.5 -2.7l-5 -1.8l-2 -0.2l-0.3 -0.3l-2 0l-0.2 -0.2l-3.8 0l-0.2 0.2l-2.8 0.3l-3.5 1l-2.5 1.2l-0.5 0l-6.7 3.8l-8 5.2l-4.3 2.3l-0.5 0l-1.5 0.7l-1.7 0l-3 -1l-5 -2.5l-6.3 -3.7l-5 -2.5l-4.7 -1.8l-0.8 0l-1.2 -0.5l-1.3 0l-0.2 -0.2l-3.5 0l-0.3 -0.3l-0.2 0.3l-4 0.2l-5.5 1.8l-5 2.5l-12.3 7.7l-3.5 1.8l-2.2 0.7l-3.8 -1l-5.5 -2.7l-6.2 -3.8l-6.3 -3l-3.7 -1.2l-2 -0.3l-0.3 -0.2l-1.2 0l-0.3 -0.3l-5.2 0l-0.3 0.3l-1.5 0l-6.2 2l-4.5 2.2l-11.8 7.5l-6 2.8l-1.2 0l-3 -1l-5.5 -2.8l-0.5 -0.5l-5.8 -3l-0.5 -0.5l-6.5 -3l-4.2 -1.2l-1 0l-0.3 -0.3l-2 0l-0.2 -0.2l-5 0.2l-4 1.3l-3 1.5l-5 3.2l-6.5 5l-5 3l-1.5 0.5l-6.3 0l-0.2 0.3l-2.3 0.2l-2.2 0.8l-4.8 2.7l-4 3.3l-4.2 4.2l-6.3 7.3l-10.2 12.7l-3 3.3l6.7 0l0.3 -0.3l6.7 0l0.3 -0.2l7.2 0l0.3 -0.3l0.2 0.3l0.3 -0.3l6.7 0l0.3 -0.2l0.2 0.2l0.3 -0.2l7.5 0l0.2 -0.3l7 0l0.3 -0.2l0.2 0.2l0.3 -0.2l7 0l0.2 -0.3l7.8 0l0.2 -0.2l13.3 -0.3l5.5 7.3l0.2 -0.3l4.3 0l0.2 -0.2l15.5 -0.3l0.3 -0.2l6.7 0l0.3 -0.3l0.5 0.3l0.2 -0.3l22.5 -0.5l0.3 -0.2l7 0l0.2 -0.3l7 0l0.3 -0.2l8.2 0l0.3 -0.3l7.2 0l0.3 -0.2l7 0l0.2 -0.3l23.3 -0.5l0.2 -0.2l7 0l0.3 -0.3l6.7 0l0.3 -0.2l0.2 0.2l0.3 -0.2l15.2 -0.3l0.3 -0.2l15 -0.3l0.2 -0.2l15 -0.3l0.3 -0.2l7.7 0l0.3 -0.3l7 0l0.2 -0.2l6.8 0l0.2 -0.3l8 0l0.3 -0.2l7.5 0l0.2 -0.3l7.5 0l0.3 -0.2l7 0l0.2 -0.3l7.5 0l0.3 -0.2l7.5 0l0.2 -0.3l7.3 0l0.2 -0.2l7 0l0.3 -0.3l15.5 -0.2l0.2 -0.3l7.3 0l0.2 -0.2l15.3 -0.3l0.2 -0.2l7 0l0.3 -0.3l7.5 0l0.2 -0.2l7.5 0l0.3 -0.3l7.2 0l0.3 -0.2l7.2 0l0.3 -0.3l7.7 0l0.3 -0.2l7.5 0l0.2 -0.3l7.5 0l0.3 -0.2l7.2 0l0.3 -0.3z"/>
<path fill="#00f7ff" d="M581.1 79.1l-1.5 -2l-5 -8.2l-0.5 -1.3l-4.5 -7.5l-0.7 -1.7l-0.5 -0.5l-0.5 -1.3l-0.5 -0.5l-0.5 -1.2l-5.5 -9.3l-3.5 -5.2l-3.5 -4.5l-4.3 -4.3l-4 -2.5l-2.2 -0.7l-1.5 0l-1.8 -0.8l-3 -0.5l-0.2 -0.2l-3 0l-0.3 -0.3l-1 0l-0.2 0.3l-3.8 0.2l-5.5 1.8l-6.2 3.2l-10.5 6.8l-5.3 2.5l-2.5 0l-2.7 -1l-6.3 -3.3l-4 -2.5l-6 -3l-0.5 0l-1.2 -0.7l-2.3 -0.8l-0.7 0l-2.3 -0.7l-1.5 0l-0.2 -0.3l-5.3 0l-0.2 0.3l-1.5 0l-5 1.5l-5.3 2.5l-12.2 7.7l-3.3 1.8l-2.7 1l-2 -0.3l-2.8 -1l-6.2 -3.2l-4.5 -2.8l-5.5 -2.7l-5 -1.8l-2 -0.2l-0.3 -0.3l-2 0l-0.2 -0.2l-3.8 0l-0.2 0.2l-2.8 0.3l-3.5 1l-2.5 1.2l-0.5 0l-6.7 3.8l-8 5.2l-4.3 2.3l-0.5 0l-1.5 0.7l-1.7 0l-3 -1l-5 -2.5l-6.3 -3.7l-5 -2.5l-4.7 -1.8l-0.8 0l-1.2 -0.5l-1.3 0l-0.2 -0.2l-3.5 0l-0.3 -0.3l-0.2 0.3l-4 0.2l-5.5 1.8l-5 2.5l-12.3 7.7l-3.5 1.8l-2.2 0.7l-3.8 -1l-5.5 -2.7l-6.2 -3.8l-6.3 -3l-3.7 -1.2l-2 -0.3l-0.3 -0.2l-1.2 0l-0.3 -0.3l-5.2 0l-0.3 0.3l-1.5 0l-6.2 2l-4.5 2.2l-11.8 7.5l-6 2.8l-1.2 0l-3 -1l-5.5 -2.8l-0.5 -0.5l-5.8 -3l-0.5 -0.5l-6.5 -3l-4.2 -1.2l-1 0l-0.3 -0.3l-2 0l-0.2 -0.2l-5 0.2l-4 1.3l-3 1.5l-5 3.2l-6.5 5l-5 3l-1.5 0.5l-6.3 0l-0.2 0.3l-2.3 0.2l-2.2 0.8l-4.8 2.7l-4 3.3l-6.5 6.7l-16.2 19.8l1.5 0l0.2 -0.3l0.3 0.3l0.2 -0.3l7 0l0.3 -0.2l6.5 0l0.2 -0.3l7.3 0l0.2 -0.2l0.3 0.2l0.2 -0.2l7 0l0.3 -0.3l15 -0.2l0.2 -0.3l16.3 -0.2l0.2 -0.3l6.8 0l0.2 -0.2l1.3 0l5.5 7l3 0l0.2 -0.3l8 0l0.3 -0.2l7.2 0l0.3 -0.3l15.7 -0.2l0.3 -0.3l7.2 0l0.3 -0.2l7 0l0.2 -0.3l0.3 0.3l0.2 -0.3l13.5 -0.2l0.3 -0.3l0.2 0.3l0.3 -0.3l7.5 0l0.2 -0.2l8 0l0.3 -0.3l7.7 0l0.3 -0.2l7 0l0.2 -0.3l22.8 -0.5l0.2 -0.2l14 -0.3l0.3 -0.2l8.5 0l0.2 -0.3l7.8 0l0.2 -0.2l7.3 0l0.2 -0.3l7.3 0l0.2 -0.2l15 -0.3l0.3 -0.2l14 -0.3l0.2 -0.2l8 0l0.3 -0.3l7.2 0l0.3 -0.2l8 0l0.2 -0.3l7 0l0.3 -0.2l15.5 -0.3l0.2 -0.2l7 0l0.3 -0.3l14.2 -0.2l0.3 -0.3l8 0l0.2 -0.2l8 0l0.3 -0.3l7.2 0l0.3 -0.2l7.2 0l0.3 -0.3l7.5 0l0.2 -0.2l14.5 -0.3l0.3 -0.2l6.7 0l0.3 -0.3l7.7 0l0.3 -0.2l7.7 0l0.3 -0.3l23.2 -0.5l0.3 -0.2l3.2 0z"/>
<path fill="#09fff6" d="M580.4 78.1l-5.8 -9.2l-0.5 -1.3l-4.5 -7.5l-0.7 -1.7l-0.5 -0.5l-0.5 -1.3l-0.5 -0.5l-0.5 -1.2l-5.5 -9.3l-3.5 -5.2l-3.5 -4.5l-4.3 -4.3l-4 -2.5l-2.2 -0.7l-1.5 0l-1.8 -0.8l-3 -0.5l-0.2 -0.2l-3 0l-0.3 -0.3l-1 0l-0.2 0.3l-3.8 0.2l-5.5 1.8l-6.2 3.2l-10.5 6.8l-5.3 2.5l-2.5 0l-2.7 -1l-6.3 -3.3l-4 -2.5l-6 -3l-0.5 0l-1.2 -0.7l-2.3 -0.8l-0.7 0l-2.3 -0.7l-1.5 0l-0.2 -0.3l-5.3 0l-0.2 0.3l-1.5 0l-5 1.5l-5.3 2.5l-12.2 7.7l-3.3 1.8l-2.7 1l-2 -0.3l-2.8 -1l-6.2 -3.2l-4.5 -2.8l-5.5 -2.7l-5 -1.8l-2 -0.2l-0.3 -0.3l-2 0l-0.2 -0.2l-3.8 0l-0.2 0.2l-2.8 0.3l-3.5 1l-2.5 1.2l-0.5 0l-6.7 3.8l-8 5.2l-4.3 2.3l-0.5 0l-1.5 0.7l-1.7 0l-3 -1l-5 -2.5l-6.3 -3.7l-5 -2.5l-4.7 -1.8l-0.8 0l-1.2 -0.5l-1.3 0l-0.2 -0.2l-3.5 0l-0.3 -0.3l-0.2 0.3l-4 0.2l-5.5 1.8l-5 2.5l-12.3 7.7l-3.5 1.8l-2.2 0.7l-3.8 -1l-5.5 -2.7l-6.2 -3.8l-6.3 -3l-3.7 -1.2l-2 -0.3l-0.3 -0.2l-1.2 0l-0.3 -0.3l-5.2 0l-0.3 0.3l-1.5 0l-6.2 2l-4.5 2.2l-11.8 7.5l-6 2.8l-1.2 0l-3 -1l-5.5 -2.8l-0.5 -0.5l-5.8 -3l-0.5 -0.5l-6.5 -3l-4.2 -1.2l-1 0l-0.3 -0.3l-2 0l-0.2 -0.2l-5 0.2l-4 1.3l-3 1.5l-5 3.2l-6.5 5l-5 3l-1.5 0.5l-6.3 0l-0.2 0.3l-2.3 0.2l-2.2 0.8l-4.8 2.7l-4 3.3l-4.2 4.2l-17.5 21l69.7 -2.2l5.3 6.7l2 0l0.2 -0.2l24.3 -0.5l0.2 -0.3l14.5 -0.2l0.3 -0.3l0.2 0.3l0.3 -0.3l6.7 0l0.3 -0.2l0.2 0.2l0.3 -0.2l13.5 -0.3l0.2 -0.2l24.5 -0.5l0.3 -0.3l14.7 -0.2l0.3 -0.3l7 0l0.2 -0.2l0.3 0.2l0.2 -0.2l21.3 -0.5l0.2 -0.3l16.5 -0.2l0.3 -0.3l14.7 -0.2l0.3 -0.3l7.2 0l0.3 -0.2l7.2 0l0.3 -0.3l14 -0.2l0.2 -0.3l8 0l0.3 -0.2l7.7 0l0.3 -0.3l7.5 0l0.2 -0.2l8 0l0.3 -0.3l14.5 -0.2l0.2 -0.3l7 0l0.3 -0.2l7 0l0.2 -0.3l7 0l0.3 -0.2l8.5 0l0.2 -0.3l7.5 0l0.3 -0.2l7.2 0l0.3 -0.3l7.5 0l0.2 -0.2l7.5 0l0.3 -0.3l7 0l0.2 -0.2l0.3 0.2l0.2 -0.2l6.8 0l0.2 -0.3l6.8 0l0.2 -0.2l7.5 0l0.3 -0.3l0.2 0.3l0.3 -0.3l7.2 0l0.3 -0.2l7.7 0l0.3 -0.3l7.5 0l0.2 -0.2z"/>
<path fill="#1affe5" d="M579.6 76.9l-5 -8l-0.5 -1.3l-4.5 -7.5l-0.7 -1.7l-0.5 -0.5l-0.5 -1.3l-0.5 -0.5l-0.5 -1.2l-5.5 -9.3l-3.5 -5.2l-3.5 -4.5l-4.3 -4.3l-4 -2.5l-2.2 -0.7l-1.5 0l-1.8 -0.8l-3 -0.5l-0.2 -0.2l-3 0l-0.3 -0.3l-1 0l-0.2 0.3l-3.8 0.2l-5.5 1.8l-6.2 3.2l-10.5 6.8l-5.3 2.5l-2.5 0l-2.7 -1l-6.3 -3.3l-4 -2.5l-6 -3l-0.5 0l-1.2 -0.7l-2.3 -0.8l-0.7 0l-2.3 -0.7l-1.5 0l-0.2 -0.3l-5.3 0l-0.2 0.3l-1.5 0l-5 1.5l-5.3 2.5l-12.2 7.7l-3.3 1.8l-2.7 1l-2 -0.3l-2.8 -1l-6.2 -3.2l-4.5 -2.8l-5.5 -2.7l-5 -1.8l-2 -0.2l-0.3 -0.3l-2 0l-0.2 -0.2l-3.8 0l-0.2 0.2l-2.8 0.3l-3.5 1l-2.5 1.2l-0.5 0l-6.7 3.8l-8 5.2l-4.3 2.3l-0.5 0l-1.5 0.7l-1.7 0l-3 -1l-5 -2.5l-6.3 -3.7l-5 -2.5l-4.7 -1.8l-0.8 0l-1.2 -0.5l-1.3 0l-0.2 -0.2l-3.5 0l-0.3 -0.3l-0.2 0.3l-4 0.2l-5.5 1.8l-5 2.5l-12.3 7.7l-3.5 1.8l-2.2 0.7l-3.8 -1l-5.5 -2.7l-6.2 -3.8l-6.3 -3l-3.7 -1.2l-2 -0.3l-0.3 -0.2l-1.2 0l-0.3 -0.3l-5.2 0l-0.3 0.3l-1.5 0l-6.2 2l-4.5 2.2l-11.8 7.5l-6 2.8l-1.2 0l-3 -1l-5.5 -2.8l-0.5 -0.5l-5.8 -3l-0.5 -0.5l-6.5 -3l-4.2 -1.2l-1 0l-0.3 -0.3l-2 0l-0.2 -0.2l-5 0.2l-4 1.3l-3 1.5l-5 3.2l-6.5 5l-5 3l-1.5 0.5l-6.3 0l-0.2 0.3l-2.3 0.2l-2.2 0.8l-4.8 2.7l-4 3.3l-4.2 4.2l-16.5 19.8l6.5 0l0.2 -0.3l0.3 0.3l0.2 -0.3l20.5 -0.5l0.3 -0.2l0.2 0.2l0.3 -0.2l7 0l0.2 -0.3l7.5 0l0.3 -0.2l8 0l0.2 -0.3l8.5 0l0.3 -0.2l7 0l0.2 -0.3l1 1l4.3 5.8l0.7 0l0.3 -0.3l8 0l0.2 -0.2l8.5 0l0.3 -0.3l7.5 0l0.2 -0.2l7.8 0l0.2 -0.3l7.3 0l0.2 -0.2l6.8 0l0.2 -0.3l7.3 0l0.2 -0.2l6 0l0.3 -0.3l8 0l0.2 -0.2l8 0l0.3 -0.3l0.5 0.3l0.2 -0.3l7.5 0l0.3 -0.2l7.2 0l0.3 -0.3l7.2 0l0.3 -0.2l0.2 0.2l0.3 -0.2l6.7 0l0.3 -0.3l0.2 0.3l0.3 -0.3l6.7 0l0.3 -0.2l13.7 -0.3l0.3 -0.2l16.7 -0.3l0.3 -0.2l22.7 -0.5l0.3 -0.3l7 0l0.2 -0.2l0.3 0.2l0.2 -0.2l6.5 0l0.3 -0.3l6.5 0l0.2 -0.2l16.3 -0.3l0.2 -0.2l7.8 0l0.2 -0.3l7.8 0l0.2 -0.2l14.5 -0.3l0.3 -0.2l0.2 0.2l0.3 -0.2l21 -0.5l0.2 -0.3l8 0l0.3 -0.2l15.7 -0.3l0.3 -0.2l7.5 0l0.2 -0.3l7 0l0.3 -0.2l0.5 0.2l0.2 -0.2l6.8 0l0.2 -0.3l6.5 0l0.3 -0.2l0.2 0.2l0.3 -0.2l6.5 0l0.2 -0.3l7.5 0l0.3 -0.2l8 0l0.2 -0.3l0.5 0.3l0.3 -0.3l7 0l0.2 -0.2l8.3 0l0.2 -0.3z"/>
<path fill="#2bffd4" d="M578.9 75.6l-4.3 -6.7l-0.5 -1.3l-4.5 -7.5l-0.7 -1.7l-0.5 -0.5l-0.5 -1.3l-0.5 -0.5l-0.5 -1.2l-5.5 -9.3l-3.5 -5.2l-3.5 -4.5l-4.3 -4.3l-4 -2.5l-2.2 -0.7l-1.5 0l-1.8 -0.8l-3 -0.5l-0.2 -0.2l-3 0l-0.3 -0.3l-1 0l-0.2 0.3l-3.8 0.2l-5.5 1.8l-6.2 3.2l-10.5 6.8l-5.3 2.5l-2.5 0l-2.7 -1l-6.3 -3.3l-4 -2.5l-6 -3l-0.5 0l-1.2 -0.7l-2.3 -0.8l-0.7 0l-2.3 -0.7l-1.5 0l-0.2 -0.3l-5.3 0l-0.2 0.3l-1.5 0l-5 1.5l-5.3 2.5l-12.2 7.7l-3.3 1.8l-2.7 1l-2 -0.3l-2.8 -1l-6.2 -3.2l-4.5 -2.8l-5.5 -2.7l-5 -1.8l-2 -0.2l-0.3 -0.3l-2 0l-0.2 -0.2l-3.8 0l-0.2 0.2l-2.8 0.3l-3.5 1l-2.5 1.2l-0.5 0l-6.7 3.8l-8 5.2l-4.3 2.3l-0.5 0l-1.5 0.7l-1.7 0l-3 -1l-5 -2.5l-6.3 -3.7l-5 -2.5l-4.7 -1.8l-0.8 0l-1.2 -0.5l-1.3 0l-0.2 -0.2l-3.5 0l-0.3 -0.3l-0.2 0.3l-4 0.2l-5.5 1.8l-5 2.5l-12.3 7.7l-3.5 1.8l-2.2 0.7l-3.8 -1l-5.5 -2.7l-6.2 -3.8l-6.3 -3l-3.7 -1.2l-2 -0.3l-0.3 -0.2l-1.2 0l-0.3 -0.3l-5.2 0l-0.3 0.3l-1.5 0l-6.2 2l-4.5 2.2l-11.8 7.5l-6 2.8l-1.2 0l-3 -1l-5.5 -2.8l-0.5 -0.5l-5.8 -3l-0.5 -0.5l-6.5 -3l-4.2 -1.2l-1 0l-0.3 -0.3l-2 0l-0.2 -0.2l-5 0.2l-4 1.3l-3 1.5l-5 3.2l-6.5 5l-5 3l-1.5 0.5l-6.3 0l-0.2 0.3l-2.3 0.2l-2.2 0.8l-4.8 2.7l-4 3.3l-4.2 4.2l-6.3 7.3l-9.2 11.5l2 0l0.2 -0.3l6.8 0l0.2 -0.2l6.3 0l0.2 -0.3l6.8 0l0.2 -0.2l7 0l0.3 -0.3l7.5 0l0.2 -0.2l0.3 0.2l0.2 -0.2l7.3 0l0.2 -0.3l8.8 0l0.2 -0.2l8.3 0l0.2 -0.3l3 0l4.8 6.5l0.2 -0.2l7.3 0l0.2 -0.3l8.5 0l0.3 -0.2l0.2 0.2l0.3 -0.2l7.7 0l0.3 -0.3l22.5 -0.5l0.2 -0.2l6.5 0l0.3 -0.3l6.5 0l0.2 -0.2l7.8 0l0.2 -0.3l8.5 0l0.3 -0.2l8.5 0l0.2 -0.3l22.3 -0.5l0.2 -0.2l20.3 -0.5l0.2 -0.3l8.5 0l0.3 -0.2l24.5 -0.5l0.2 -0.3l21.3 -0.5l0.2 -0.2l6 0l0.3 -0.3l8 0l0.2 -0.2l8 0l0.3 -0.3l0.2 0.3l0.3 -0.3l7.7 0l0.3 -0.2l23 -0.5l0.2 -0.3l6.8 0l0.2 -0.2l13 -0.3l0.3 -0.2l8.2 0l0.3 -0.3l0.2 0.3l0.3 -0.3l7.7 0l0.3 -0.2l0.5 0.2l0.2 -0.2l22.8 -0.5l0.2 -0.3l7 0l0.3 -0.2l6.7 0l0.3 -0.3l6.5 0l0.2 -0.2l7.5 0l0.3 -0.3l8.2 0l0.3 -0.2l0.2 0.2l0.3 -0.2l8 0l0.2 -0.3l7.5 0l0.3 -0.2z"/>
<path fill="#3dffc2" d="M578.1 74.4l-3.5 -5.5l-0.5 -1.3l-4.5 -7.5l-0.7 -1.7l-0.5 -0.5l-0.5 -1.3l-0.5 -0.5l-0.5 -1.2l-5.5 -9.3l-3.5 -5.2l-3.5 -4.5l-4.3 -4.3l-4 -2.5l-2.2 -0.7l-1.5 0l-1.8 -0.8l-3 -0.5l-0.2 -0.2l-3 0l-0.3 -0.3l-1 0l-0.2 0.3l-3.8 0.2l-5.5 1.8l-6.2 3.2l-10.5 6.8l-5.3 2.5l-2.5 0l-2.7 -1l-6.3 -3.3l-4 -2.5l-6 -3l-0.5 0l-1.2 -0.7l-2.3 -0.8l-0.7 0l-2.3 -0.7l-1.5 0l-0.2 -0.3l-5.3 0l-0.2 0.3l-1.5 0l-5 1.5l-5.3 2.5l-12.2 7.7l-3.3 1.8l-2.7 1l-2 -0.3l-2.8 -1l-6.2 -3.2l-4.5 -2.8l-5.5 -2.7l-5 -1.8l-2 -0.2l-0.3 -0.3l-2 0l-0.2 -0.2l-3.8 0l-0.2 0.2l-2.8 0.3l-3.5 1l-2.5 1.2l-0.5 0l-6.7 3.8l-8 5.2l-4.3 2.3l-0.5 0l-1.5 0.7l-1.7 0l-3 -1l-5 -2.5l-6.3 -3.7l-7.5 -3.5l-4.2 -1.3l-1.3 0l-0.2 -0.2l-3.5 0l-0.3 -0.3l-0.2 0.3l-2.5 0l-0.3 0.2l-1.2 0l-0.3 0.3l-1.7 0.2l-3.5 1.3l-6.8 3.5l-10.5 6.7l-3.5 1.8l-2.2 0.7l-3.8 -1l-5.5 -2.7l-6.2 -3.8l-6.3 -3l-3.7 -1.2l-2 -0.3l-0.3 -0.2l-1.2 0l-0.3 -0.3l-5.2 0l-0.3 0.3l-1.5 0l-6.2 2l-4.5 2.2l-11.8 7.5l-6 2.8l-1.2 0l-3 -1l-5.5 -2.8l-0.5 -0.5l-5.8 -3l-0.5 -0.5l-6.5 -3l-4.2 -1.2l-1 0l-0.3 -0.3l-5.5 -0.2l-0.2 0.2l-2.5 0.3l-3 1l-3 1.5l-5 3.2l-6.5 5l-5 3l-1.5 0.5l-6.3 0l-0.2 0.3l-2.3 0.2l-2.2 0.8l-4.8 2.7l-4 3.3l-4.2 4.2l-6.3 7.3l-8.2 10.2l17.2 -0.5l0.3 -0.2l7 0l0.2 -0.3l7 0l0.3 -0.2l7.7 0l0.3 -0.3l24.5 -0.5l4.5 6.3l0.2 -0.3l6.3 0l0.2 -0.2l9 0l0.3 -0.3l16.2 -0.2l0.3 -0.3l14.5 -0.2l0.2 -0.3l6.8 0l0.2 -0.2l13.3 -0.3l0.2 -0.2l0.3 0.2l0.2 -0.2l8.5 0l0.3 -0.3l0.2 0.3l0.3 -0.3l23.7 -0.5l0.3 -0.2l6.7 0l0.3 -0.3l6.5 0l0.2 -0.2l6.5 0l0.3 -0.3l6.5 0l0.2 -0.2l8.5 0l0.3 -0.3l8.5 0l0.2 -0.2l8.5 0l0.3 -0.3l7 0l0.2 -0.2l7.8 0l0.2 -0.3l13.8 -0.2l0.2 -0.3l13.3 -0.2l0.2 -0.3l17.8 -0.2l0.2 -0.3l7.3 0l0.2 -0.2l7.3 0l0.2 -0.3l0.5 0.3l0.3 -0.3l14 -0.2l0.2 -0.3l13 -0.2l0.3 -0.3l17 -0.2l0.2 -0.3l7.8 0l0.2 -0.2l7.5 0l0.3 -0.3l7.5 0l0.2 -0.2l0.3 0.2l0.2 -0.2l6.3 0l0.2 -0.3l0.3 0.3l0.2 -0.3l6.5 0l0.3 -0.2l6 0l0.2 -0.3l7.3 0l0.2 -0.2l8.8 0l0.2 -0.3l8.3 0l0.2 -0.2l8 0l0.3 -0.3z"/>
<path fill="#4effb1" d="M577.1 72.9l-15.7 -27.3l-3.5 -5.2l-3.5 -4.5l-4.3 -4.3l-4 -2.5l-2.2 -0.7l-1.5 0l-1.8 -0.8l-3 -0.5l-0.2 -0.2l-3 0l-0.3 -0.3l-1 0l-0.2 0.3l-3.8 0.2l-5.5 1.8l-6.2 3.2l-10.5 6.8l-5.3 2.5l-2.5 0l-2.7 -1l-6.3 -3.3l-4 -2.5l-6 -3l-0.5 0l-1.2 -0.7l-2.3 -0.8l-0.7 0l-2.3 -0.7l-1.5 0l-0.2 -0.3l-5.3 0l-0.2 0.3l-1.5 0l-5 1.5l-5.3 2.5l-12.2 7.7l-3.3 1.8l-2.7 1l-2 -0.3l-2.8 -1l-6.2 -3.2l-4.5 -2.8l-5.5 -2.7l-5 -1.8l-2 -0.2l-0.3 -0.3l-2 0l-0.2 -0.2l-3.8 0l-0.2 0.2l-2.8 0.3l-3.5 1l-2.5 1.2l-0.5 0l-6.7 3.8l-8 5.2l-4.3 2.3l-0.5 0l-1.5 0.7l-1.7 0l-3 -1l-5 -2.5l-6.3 -3.7l-7.5 -3.5l-4.2 -1.3l-1.3 0l-0.2 -0.2l-3.5 0l-0.3 -0.3l-0.2 0.3l-2.5 0l-0.3 0.2l-1.2 0l-0.3 0.3l-1.7 0.2l-3.5 1.3l-6.8 3.5l-10.5 6.7l-3.5 1.8l-2.2 0.7l-3.8 -1l-5.5 -2.7l-6.2 -3.8l-6.3 -3l-3.7 -1.2l-2 -0.3l-0.3 -0.2l-1.2 0l-0.3 -0.3l-5.2 0l-0.3 0.3l-1.5 0l-6.2 2l-4.5 2.2l-11.8 7.5l-6 2.8l-1.2 0l-3 -1l-5.5 -2.8l-0.5 -0.5l-5.8 -3l-0.5 -0.5l-6.5 -3l-4.2 -1.2l-1 0l-0.3 -0.3l-5.5 -0.2l-0.2 0.2l-2.5 0.3l-3 1l-3 1.5l-5 3.2l-6.5 5l-5 3l-1.5 0.5l-6.3 0l-0.2 0.3l-1.3 0l-3.2 1l-3.3 1.7l-5.5 4.3l-4.2 4.2l-13.5 16.3l6.7 0l0.3 -0.3l12 -0.2l0.2 -0.3l7 0l0.3 -0.2l7.5 0l0.2 -0.3l7.5 0l0.3 -0.2l8.7 0l0.3 -0.3l8.7 0l0.3 -0.2l0.2 0.2l0.3 -0.2l2 0l4.5 6l5.2 0l0.3 -0.3l9.5 0l0.2 -0.2l8.3 0l0.2 -0.3l0.3 0.3l0.2 -0.3l22.3 -0.5l0.2 -0.2l6.5 0l0.3 -0.3l12.7 -0.2l0.3 -0.3l0.2 0.3l0.3 -0.3l17.7 -0.2l0.3 -0.3l8.2 0l0.3 -0.2l6.7 0l0.3 -0.3l0.5 0.3l0.2 -0.3l20.3 -0.5l0.2 -0.2l6 0l0.3 -0.3l7.7 0l0.3 -0.2l0.5 0.2l0.2 -0.2l8.8 0l0.2 -0.3l8.3 0l0.2 -0.2l22.3 -0.5l0.2 -0.3l12.5 -0.2l0.3 -0.3l7 0l0.2 -0.2l26.5 -0.5l0.3 -0.3l7 0l0.2 -0.2l7 0l0.3 -0.3l0.2 0.3l0.3 -0.3l13 -0.2l0.2 -0.3l5.8 0l0.2 -0.2l8 0l0.3 -0.3l0.5 0.3l0.2 -0.3l8.5 0l0.3 -0.2l8.5 0l0.2 -0.3l15 -0.2l0.3 -0.3l7 0l0.2 -0.2l19.8 -0.5l0.2 -0.3l26.3 -0.5l0.2 -0.2l14.5 -0.3z"/>
<path fill="#5fffa0" d="M576.4 71.6l-15 -26l-3.5 -5.2l-3.5 -4.5l-4.3 -4.3l-4 -2.5l-2.2 -0.7l-1.5 0l-1.8 -0.8l-3 -0.5l-0.2 -0.2l-3 0l-0.3 -0.3l-1 0l-0.2 0.3l-3.8 0.2l-5.5 1.8l-6.2 3.2l-10.5 6.8l-5.3 2.5l-2.5 0l-2.7 -1l-6.3 -3.3l-4 -2.5l-6 -3l-0.5 0l-1.2 -0.7l-2.3 -0.8l-0.7 0l-2.3 -0.7l-1.5 0l-0.2 -0.3l-5.3 0l-0.2 0.3l-1.5 0l-5 1.5l-5.3 2.5l-12.2 7.7l-3.3 1.8l-2.7 1l-2 -0.3l-2.8 -1l-6.2 -3.2l-4.5 -2.8l-5.5 -2.7l-5 -1.8l-2 -0.2l-0.3 -0.3l-2 0l-0.2 -0.2l-3.8 0l-0.2 0.2l-2.8 0.3l-3.5 1l-2.5 1.2l-0.5 0l-6.7 3.8l-8 5.2l-4.3 2.3l-0.5 0l-1.5 0.7l-1.7 0l-3 -1l-5 -2.5l-6.3 -3.7l-7.5 -3.5l-4.2 -1.3l-1.3 0l-0.2 -0.2l-3.5 0l-0.3 -0.3l-0.2 0.3l-2.5 0l-0.3 0.2l-1.2 0l-0.3 0.3l-1.7 0.2l-3.5 1.3l-6.8 3.5l-10.5 6.7l-3.5 1.8l-2.2 0.7l-3.8 -1l-5.5 -2.7l-6.2 -3.8l-6.3 -3l-3.7 -1.2l-2 -0.3l-0.3 -0.2l-1.2 0l-0.3 -0.3l-5.2 0l-0.3 0.3l-1.5 0l-6.2 2l-4.5 2.2l-11.8 7.5l-6 2.8l-1.2 0l-3 -1l-5.5 -2.8l-0.5 -0.5l-5.8 -3l-0.5 -0.5l-6.5 -3l-4.2 -1.2l-1 0l-0.3 -0.3l-5.5 -0.2l-0.2 0.2l-2.5 0.3l-3 1l-3 1.5l-5 3.2l-6.5 5l-5 3l-1.5 0.5l-6.3 0l-0.2 0.3l-1.3 0l-3.2 1l-3.3 1.7l-5.5 4.3l-4.2 4.2l-6.3 7.3l-4.2 5.5l-1.3 1.2l-0.7 1.3l2 0l0.2 -0.3l6.5 0l0.3 -0.2l5.2 0l0.3 -0.3l6.5 0l0.2 -0.2l6.5 0l0.3 -0.3l0.2 0.3l0.3 -0.3l15.5 -0.2l0.2 -0.3l16.5 -0.2l4.3 5.7l3.7 0l0.3 -0.2l10.5 0l0.2 -0.3l8.8 0l0.2 -0.2l7.8 0l0.2 -0.3l14 -0.2l0.3 -0.3l6.5 0l0.2 -0.2l12.8 -0.3l0.2 -0.2l9.5 0l0.3 -0.3l8.5 0l0.2 -0.2l0.3 0.2l0.2 -0.2l7.8 0l0.2 -0.3l7.3 0l0.2 -0.2l0.3 0.2l0.2 -0.2l6.5 0l0.3 -0.3l0.2 0.3l0.3 -0.3l6.2 0l0.3 -0.2l6 0l0.2 -0.3l6 0l0.3 -0.2l8.2 0l0.3 -0.3l9 0l0.2 -0.2l24 -0.5l0.3 -0.3l7 0l0.2 -0.2l19 -0.5l0.3 -0.3l9.7 0l0.3 -0.2l8.2 0l0.3 -0.3l0.2 0.3l0.3 -0.3l8.2 0l0.3 -0.2l7 0l0.2 -0.3l7 0l0.3 -0.2l0.2 0.2l0.3 -0.2l6.2 0l0.3 -0.3l12.5 -0.2l0.2 -0.3l7.8 0l0.2 -0.2l9 0l0.3 -0.3l0.2 0.3l0.3 -0.3l24 -0.5l0.2 -0.2l13.3 -0.3l0.2 -0.2l12.8 -0.3l0.2 -0.2l26.8 -0.5l0.2 -0.3l7 0l0.3 -0.2l0.2 0.2l0.3 -0.2l6.7 0z"/>
<path fill="#71ff8e" d="M575.6 70.4l-14.2 -24.8l-3.5 -5.2l-3.5 -4.5l-4.3 -4.3l-4 -2.5l-2.2 -0.7l-1.5 0l-1.8 -0.8l-3 -0.5l-0.2 -0.2l-3 0l-0.3 -0.3l-1 0l-0.2 0.3l-3.8 0.2l-5.5 1.8l-6.2 3.2l-10.5 6.8l-5.3 2.5l-2.5 0l-2.7 -1l-6.3 -3.3l-4 -2.5l-6 -3l-0.5 0l-1.2 -0.7l-2.3 -0.8l-0.7 0l-2.3 -0.7l-1.5 0l-0.2 -0.3l-5.3 0l-0.2 0.3l-1.5 0l-5 1.5l-5.3 2.5l-12.2 7.7l-3.3 1.8l-2.7 1l-2 -0.3l-2.8 -1l-6.2 -3.2l-4.5 -2.8l-5.5 -2.7l-5 -1.8l-2 -0.2l-0.3 -0.3l-2 0l-0.2 -0.2l-3.8 0l-0.2 0.2l-2.8 0.3l-3.5 1l-2.5 1.2l-0.5 0l-6.7 3.8l-8 5.2l-4.3 2.3l-0.5 0l-1.5 0.7l-1.7 0l-3 -1l-5 -2.5l-6.3 -3.7l-7.5 -3.5l-4.2 -1.3l-1.3 0l-0.2 -0.2l-3.5 0l-0.3 -0.3l-0.2 0.3l-2.5 0l-0.3 0.2l-1.2 0l-0.3 0.3l-1.7 0.2l-3.5 1.3l-6.8 3.5l-10.5 6.7l-3.5 1.8l-2.2 0.7l-3.8 -1l-5.5 -2.7l-6.2 -3.8l-6.3 -3l-3.7 -1.2l-2 -0.3l-0.3 -0.2l-1.2 0l-0.3 -0.3l-5.2 0l-0.3 0.3l-1.5 0l-6.2 2l-4.5 2.2l-11.8 7.5l-6 2.8l-1.2 0l-3 -1l-5.5 -2.8l-0.5 -0.5l-5.8 -3l-0.5 -0.5l-6.5 -3l-4.2 -1.2l-1 0l-0.3 -0.3l-5.5 -0.2l-0.2 0.2l-2.5 0.3l-3 1l-3 1.5l-5 3.2l-6.5 5l-5 3l-1.5 0.5l-6.3 0l-0.2 0.3l-1.3 0l-3.2 1l-3.3 1.7l-5.5 4.3l-4.2 4.2l-6.3 7.3l-5.2 6.7l10 -0.2l0.2 -0.3l0.3 0.3l0.2 -0.3l5.5 0l0.3 -0.2l6 0l0.2 -0.3l7.3 0l0.2 -0.2l7.5 0l0.3 -0.3l8.5 0l0.2 -0.2l9.5 0l0.3 -0.3l2.2 0l3.8 4.8l0.5 1l3.2 0l0.3 -0.3l9.5 0l0.2 -0.2l9.3 0l0.2 -0.3l15.8 -0.2l0.2 -0.3l6.5 0l0.3 -0.2l6.2 0l0.3 -0.3l0.2 0.3l0.3 -0.3l11.5 -0.2l0.2 -0.3l0.3 0.3l0.2 -0.3l9.3 0l0.2 -0.2l9.3 0l0.2 -0.3l16 -0.2l0.3 -0.3l7 0l0.2 -0.2l6.5 0l0.3 -0.3l6 0l0.2 -0.2l6 0l0.3 -0.3l7 0l0.2 -0.2l19.3 -0.3l0.2 -0.2l22.3 -0.5l0.2 -0.3l6 0l0.3 -0.2l5.7 0l0.3 -0.3l0.2 0.3l0.3 -0.3l6 0l0.2 -0.2l27.3 -0.5l0.2 -0.3l21.5 -0.5l0.3 -0.2l6 0l0.2 -0.3l5.8 0l0.2 -0.2l34.8 -0.8l0.2 -0.2l14.3 -0.3l0.2 -0.2l12.5 -0.3l0.3 -0.2l5.7 0l0.3 -0.3l18.7 -0.2l0.3 -0.3l8 0l0.2 -0.2l8 0l0.3 -0.3l6.7 0l0.3 -0.2l0.2 0.2l0.3 -0.2z"/>
<path fill="#82ff7d" d="M574.9 69.1l-13.5 -23.5l-3.5 -5.2l-3.5 -4.5l-4.3 -4.3l-4 -2.5l-2.2 -0.7l-1.5 0l-1.8 -0.8l-3 -0.5l-0.2 -0.2l-3 0l-0.3 -0.3l-1 0l-0.2 0.3l-3.8 0.2l-5.5 1.8l-6.2 3.2l-10.5 6.8l-5.3 2.5l-2.5 0l-2.7 -1l-6.3 -3.3l-4 -2.5l-6 -3l-0.5 0l-1.2 -0.7l-2.3 -0.8l-0.7 0l-2.3 -0.7l-1.5 0l-0.2 -0.3l-5.3 0l-0.2 0.3l-1.5 0l-5 1.5l-5.3 2.5l-12.2 7.7l-3.3 1.8l-2.7 1l-2 -0.3l-2.8 -1l-6.2 -3.2l-4.5 -2.8l-5.5 -2.7l-5 -1.8l-2 -0.2l-0.3 -0.3l-2 0l-0.2 -0.2l-3.8 0l-0.2 0.2l-2.8 0.3l-3.5 1l-2.5 1.2l-0.5 0l-6.7 3.8l-8 5.2l-4.3 2.3l-0.5 0l-1.5 0.7l-1.7 0l-3 -1l-5 -2.5l-6.3 -3.7l-7.5 -3.5l-4.2 -1.3l-1.3 0l-0.2 -0.2l-3.5 0l-0.3 -0.3l-0.2 0.3l-2.5 0l-0.3 0.2l-1.2 0l-0.3 0.3l-1.7 0.2l-3.5 1.3l-6.8 3.5l-10.5 6.7l-3.5 1.8l-2.2 0.7l-3.8 -1l-5.5 -2.7l-6.2 -3.8l-6.3 -3l-3.7 -1.2l-2 -0.3l-0.3 -0.2l-1.2 0l-0.3 -0.3l-5.2 0l-0.3 0.3l-1.5 0l-6.2 2l-4.5 2.2l-11.8 7.5l-6 2.8l-1.2 0l-3 -1l-5.5 -2.8l-0.5 -0.5l-5.8 -3l-0.5 -0.5l-6.5 -3l-4.2 -1.2l-1 0l-0.3 -0.3l-5.5 -0.2l-0.2 0.2l-2.5 0.3l-3 1l-3 1.5l-5 3.2l-6.5 5l-5 3l-1.5 0.5l-6.3 0l-0.2 0.3l-1.3 0l-3.2 1l-3.3 1.7l-5.5 4.3l-4.2 4.2l-6.3 7.3l-4.2 5.5l6.2 0l0.3 -0.3l11.2 -0.2l0.3 -0.3l6.2 0l0.3 -0.2l7.5 0l0.2 -0.3l7.5 0l0.3 -0.2l17 -0.3l1 1l0.5 1l2.7 3.5l2 0l0.3 -0.2l28 -0.5l0.2 -0.3l14.3 -0.2l0.2 -0.3l6.3 0l0.2 -0.2l11.8 -0.3l0.2 -0.2l18.5 -0.3l0.3 -0.2l0.5 0.2l0.2 -0.2l7.8 0l0.2 -0.3l0.5 0.3l0.3 -0.3l15 -0.2l0.2 -0.3l12.5 -0.2l0.3 -0.3l5.7 0l0.3 -0.2l7 0l0.2 -0.3l27.5 -0.5l0.3 -0.2l14 -0.3l0.2 -0.2l6.3 0l0.2 -0.3l11.5 -0.2l0.3 -0.3l9.5 0l0.2 -0.2l9 0l0.3 -0.3l0.5 0.3l0.2 -0.3l16 -0.2l0.3 -0.3l14 -0.2l0.2 -0.3l5.8 0l0.2 -0.2l5.8 0l0.2 -0.3l6.8 0l0.2 -0.2l19.3 -0.3l0.2 -0.2l8 0l0.3 -0.3l7.5 0l0.2 -0.2l0.3 0.2l0.2 -0.2l12.8 -0.3l0.2 -0.2l5.8 0l0.2 -0.3l5.8 0l0.2 -0.2l19 -0.3l0.3 -0.2l8.5 0l0.2 -0.3l7.5 0l0.3 -0.2l6.7 0l0.3 -0.3l0.2 0.3l0.3 -0.3z"/>
<path fill="#93ff6c" d="M574.1 67.6l-0.5 -0.5l-0.5 -1.2l-3.5 -5.8l-0.7 -1.7l-0.5 -0.5l-0.5 -1.3l-0.5 -0.5l-0.5 -1.2l-5.5 -9.3l-3.5 -5.2l-3.5 -4.5l-4.3 -4.3l-4 -2.5l-2.2 -0.7l-1.5 0l-1.8 -0.8l-3 -0.5l-0.2 -0.2l-3 0l-0.3 -0.3l-1 0l-0.2 0.3l-3.8 0.2l-5.5 1.8l-6.2 3.2l-10.5 6.8l-5.3 2.5l-2.5 0l-2.7 -1l-6.3 -3.3l-4 -2.5l-6 -3l-0.5 0l-1.2 -0.7l-2.3 -0.8l-0.7 0l-2.3 -0.7l-1.5 0l-0.2 -0.3l-5.3 0l-0.2 0.3l-1.5 0l-5 1.5l-5.3 2.5l-12.2 7.7l-3.3 1.8l-2.7 1l-2 -0.3l-2.8 -1l-6.2 -3.2l-4.5 -2.8l-5.5 -2.7l-5 -1.8l-2 -0.2l-0.3 -0.3l-2 0l-0.2 -0.2l-3.8 0l-0.2 0.2l-2.8 0.3l-3.5 1l-2.5 1.2l-0.5 0l-6.7 3.8l-8 5.2l-4.3 2.3l-0.5 0l-1.5 0.7l-1.7 0l-3 -1l-5 -2.5l-6.3 -3.7l-7.5 -3.5l-4.2 -1.3l-1.3 0l-0.2 -0.2l-3.5 0l-0.3 -0.3l-0.2 0.3l-2.5 0l-0.3 0.2l-1.2 0l-0.3 0.3l-1.7 0.2l-3.5 1.3l-6.8 3.5l-10.5 6.7l-3.5 1.8l-2.2 0.7l-3.8 -1l-5.5 -2.7l-6.2 -3.8l-6.3 -3l-3.7 -1.2l-2 -0.3l-0.3 -0.2l-1.2 0l-0.3 -0.3l-5.2 0l-0.3 0.3l-1.5 0l-6.2 2l-4.5 2.2l-11.8 7.5l-6 2.8l-1.2 0l-3 -1l-5.5 -2.8l-0.5 -0.5l-5.8 -3l-0.5 -0.5l-6.5 -3l-4.2 -1.2l-1 0l-0.3 -0.3l-5.5 -0.2l-0.2 0.2l-2.5 0.3l-3 1l-3 1.5l-5 3.2l-6.5 5l-5 3l-1.5 0.5l-6.3 0l-0.2 0.3l-1.3 0l-3.2 1l-3.3 1.7l-5.5 4.3l-4.2 4.2l-6.3 7.3l-3.5 4.5l2 0l0.3 -0.3l5.7 0l0.3 -0.2l5.2 0l0.3 -0.3l5.7 0l0.3 -0.2l6.5 0l0.2 -0.3l7.5 0l0.3 -0.2l8.2 0l0.3 -0.3l0.2 0.3l0.3 -0.3l9.5 0l0.2 -0.2l2.5 0l4 5.5l1 0l0.3 -0.3l8.5 0l0.2 -0.2l0.3 0.2l0.2 -0.2l10.5 0l0.3 -0.3l9 0l0.2 -0.2l14.3 -0.3l0.2 -0.2l11.8 -0.3l0.2 -0.2l5.3 0l0.2 -0.3l8.8 0l0.2 -0.2l0.3 0.2l0.2 -0.2l9.8 0l0.2 -0.3l9 0l0.3 -0.2l15 -0.3l0.2 -0.2l12.3 -0.3l0.2 -0.2l12 -0.3l0.3 -0.2l10 0l0.2 -0.3l0.5 0.3l0.3 -0.3l8.7 0l0.3 -0.2l0.2 0.2l0.3 -0.2l7.7 0l0.3 -0.3l7.5 0l0.2 -0.2l0.3 0.2l0.2 -0.2l12.8 -0.3l0.2 -0.2l5.8 0l0.2 -0.3l5.5 0l0.3 -0.2l19 -0.3l0.2 -0.2l8.5 0l0.3 -0.3l0.2 0.3l0.3 -0.3l7 0l0.2 -0.2l0.5 0.2l0.3 -0.2l7 0l0.2 -0.3l6 0l0.3 -0.2l6 0l0.2 -0.3l12.3 -0.2l0.2 -0.3l10.3 0l0.2 -0.2l9.5 0l0.3 -0.3l15.7 -0.2l0.3 -0.3l6.7 0l0.3 -0.2l6 0l0.2 -0.3l0.3 0.3l0.2 -0.3l11 -0.2l0.3 -0.3l8.2 0l0.3 -0.2l0.5 0.2l0.2 -0.2l9.8 0l0.2 -0.3l16.3 -0.2l0.2 -0.3l7.3 0l0.2 -0.2l2.5 0z"/>
<path fill="#a5ff5a" d="M573.4 66.4l-3.8 -6.3l-3.7 -7l-8 -12.7l-3.5 -4.5l-4.3 -4.3l-2.5 -1.7l-3.7 -1.5l-1.5 0l-1.8 -0.8l-3 -0.5l-0.2 -0.2l-3 0l-0.3 -0.3l-1 0l-0.2 0.3l-3.8 0.2l-5.5 1.8l-6.2 3.2l-10.5 6.8l-5.3 2.5l-2.5 0l-2.7 -1l-6.3 -3.3l-4 -2.5l-6 -3l-0.5 0l-1.2 -0.7l-2.3 -0.8l-0.7 0l-2.3 -0.7l-1.5 0l-0.2 -0.3l-5.3 0l-0.2 0.3l-1.5 0l-5 1.5l-5.3 2.5l-12.2 7.7l-3.3 1.8l-2.7 1l-2 -0.3l-2.8 -1l-6.2 -3.2l-4.5 -2.8l-5.5 -2.7l-5 -1.8l-2 -0.2l-0.3 -0.3l-2 0l-0.2 -0.2l-3.8 0l-0.2 0.2l-2.8 0.3l-3.5 1l-2.5 1.2l-0.5 0l-6.7 3.8l-8 5.2l-4.3 2.3l-0.5 0l-1.5 0.7l-1.7 0l-3 -1l-5 -2.5l-6.3 -3.7l-7.5 -3.5l-4.2 -1.3l-1.3 0l-0.2 -0.2l-3.5 0l-0.3 -0.3l-0.2 0.3l-2.5 0l-0.3 0.2l-1.2 0l-0.3 0.3l-1.7 0.2l-3.5 1.3l-6.8 3.5l-10.5 6.7l-3.5 1.8l-2.2 0.7l-3.8 -1l-5.5 -2.7l-6.2 -3.8l-6.3 -3l-3.7 -1.2l-2 -0.3l-0.3 -0.2l-1.2 0l-0.3 -0.3l-5.2 0l-0.3 0.3l-1.5 0l-6.2 2l-4.5 2.2l-11.8 7.5l-6 2.8l-1.2 0l-3 -1l-5.5 -2.8l-0.5 -0.5l-5.8 -3l-0.5 -0.5l-6.5 -3l-4.2 -1.2l-1 0l-0.3 -0.3l-5.5 -0.2l-0.2 0.2l-2.5 0.3l-3 1l-3 1.5l-5 3.2l-6.5 5l-5 3l-1.5 0.5l-6.3 0l-0.2 0.3l-1.3 0l-3.2 1l-3.3 1.7l-5.5 4.3l-4.2 4.2l-8.8 10.5l15 -0.5l0.3 -0.2l6 0l0.2 -0.3l6.5 0l0.3 -0.2l0.2 0.2l0.3 -0.2l7.7 0l0.3 -0.3l17 -0.2l3.7 5.2l0.3 -0.2l8.2 0l0.3 -0.3l0.5 0.3l0.2 -0.3l11 0l0.3 -0.2l8.2 0l0.3 -0.3l0.5 0.3l0.2 -0.3l14.3 -0.2l0.2 -0.3l11.8 -0.2l0.2 -0.3l5 0l0.3 -0.2l8.2 0l0.3 -0.3l0.2 0.3l0.3 -0.3l10 0l0.2 -0.2l9 0l0.3 -0.3l0.2 0.3l0.3 -0.3l15.2 -0.2l0.3 -0.3l5.7 0l0.3 -0.2l0.2 0.2l0.3 -0.2l17.5 -0.5l0.2 -0.3l20.3 -0.2l0.2 -0.3l8.5 0l0.3 -0.2l7.2 0l0.3 -0.3l0.2 0.3l0.3 -0.3l6.7 0l0.3 -0.2l11.7 -0.3l0.3 -0.2l5.2 0l0.3 -0.3l36.5 -0.7l0.2 -0.3l6.3 0l0.2 -0.2l0.5 0.2l0.3 -0.2l12.2 -0.3l0.3 -0.2l11.5 -0.3l0.2 -0.2l20.5 -0.3l0.3 -0.2l8 0l0.2 -0.3l7.3 0l0.2 -0.2l0.3 0.2l0.2 -0.2l13 -0.3l0.3 -0.2l5.7 0l0.3 -0.3l5.2 0l0.3 -0.2l27.7 -0.5l0.3 -0.3l7.7 0l0.3 -0.2l7 0l0.2 -0.3l0.3 0.3l0.2 -0.3l2.8 0z"/>
<path fill="#b6ff49" d="M572.6 65.1l-3 -5l-1.7 -3.5l-0.5 -0.5l-0.5 -1.2l-0.5 -0.5l-0.5 -1.3l-8 -12.7l-3.5 -4.5l-4.3 -4.3l-2.5 -1.7l-3.7 -1.5l-1.5 0l-1.8 -0.8l-3 -0.5l-0.2 -0.2l-3 0l-0.3 -0.3l-1 0l-0.2 0.3l-3.8 0.2l-5.5 1.8l-6.2 3.2l-10.5 6.8l-5.3 2.5l-2.5 0l-2.7 -1l-6.3 -3.3l-4 -2.5l-6 -3l-0.5 0l-1.2 -0.7l-2.3 -0.8l-0.7 0l-2.3 -0.7l-1.5 0l-0.2 -0.3l-5.3 0l-0.2 0.3l-1.5 0l-5 1.5l-5.3 2.5l-12.2 7.7l-3.3 1.8l-2.7 1l-2 -0.3l-2.8 -1l-6.2 -3.2l-4.5 -2.8l-5.5 -2.7l-5 -1.8l-2 -0.2l-0.3 -0.3l-2 0l-0.2 -0.2l-3.8 0l-0.2 0.2l-2.8 0.3l-3.5 1l-2.5 1.2l-0.5 0l-6.7 3.8l-8 5.2l-4.3 2.3l-0.5 0l-1.5 0.7l-1.7 0l-3 -1l-5 -2.5l-6.3 -3.7l-7.5 -3.5l-4.2 -1.3l-1.3 0l-0.2 -0.2l-3.5 0l-0.3 -0.3l-0.2 0.3l-2.5 0l-0.3 0.2l-1.2 0l-0.3 0.3l-1.7 0.2l-3.5 1.3l-6.8 3.5l-10.5 6.7l-3.5 1.8l-2.2 0.7l-3.8 -1l-5.5 -2.7l-6.2 -3.8l-6.3 -3l-3.7 -1.2l-2 -0.3l-0.3 -0.2l-1.2 0l-0.3 -0.3l-5.2 0l-0.3 0.3l-1.5 0l-6.2 2l-4.5 2.2l-11.8 7.5l-6 2.8l-1.2 0l-3 -1l-5.5 -2.8l-0.5 -0.5l-5.8 -3l-0.5 -0.5l-6.5 -3l-4.2 -1.2l-1 0l-0.3 -0.3l-5.5 -0.2l-0.2 0.2l-2.5 0.3l-3 1l-3 1.5l-5 3.2l-6.5 5l-5 3l-1.5 0.5l-6.3 0l-0.2 0.3l-1.3 0l-3.2 1l-3.3 1.7l-5.5 4.3l-4.2 4.2l-7.8 9.3l6.3 0l0.2 -0.3l10 -0.2l0.3 -0.3l6 0l0.2 -0.2l6.8 0l0.2 -0.3l8 0l0.3 -0.2l0.2 0.2l0.3 -0.2l13 -0.3l3.7 5l7.3 0l0.2 -0.2l0.5 0.2l0.3 -0.2l11.2 0l0.3 -0.3l9 0l0.2 -0.2l0.3 0.2l0.2 -0.2l14.5 -0.3l0.3 -0.2l11.5 -0.3l0.2 -0.2l4.8 0l0.2 -0.3l7.5 0l0.3 -0.2l0.2 0.2l0.3 -0.2l10.5 0l0.2 -0.3l0.3 0.3l0.2 -0.3l8.8 0l0.2 -0.2l0.3 0.2l0.2 -0.2l15.5 -0.3l0.3 -0.2l6.2 0l0.3 -0.3l11.2 -0.2l0.3 -0.3l5.2 0l0.3 -0.2l10 0l0.2 -0.3l0.3 0.3l0.2 -0.3l10.5 0l0.3 -0.2l16.2 -0.3l0.3 -0.2l6.7 0l0.3 -0.3l11.5 -0.2l0.2 -0.3l5 0l0.3 -0.2l7.5 0l0.2 -0.3l11 0l0.3 -0.2l18.2 -0.3l0.3 -0.2l19.5 -0.5l0.2 -0.3l10.8 -0.2l0.2 -0.3l9.8 0l0.2 -0.2l0.3 0.2l0.2 -0.2l9.8 0l0.2 -0.3l16.8 -0.2l0.2 -0.3l7 0l0.3 -0.2l6 0l0.2 -0.3l5.5 0l0.3 -0.2l5.2 0l0.3 -0.3l7 0l0.2 -0.2l0.3 0.2l0.2 -0.2l10.8 0l0.2 -0.3l17.5 -0.2l0.3 -0.3l6.7 0l0.3 -0.2l0.2 0.2l0.3 -0.2l3.2 0z"/>
<path fill="#c7ff38" d="M572.1 64.1l-2.5 -4l-3.7 -7l-8 -12.7l-3.5 -4.5l-4.3 -4.3l-2.5 -1.7l-3.7 -1.5l-1.5 0l-1.8 -0.8l-3 -0.5l-0.2 -0.2l-3 0l-0.3 -0.3l-1 0l-0.2 0.3l-3.8 0.2l-5.5 1.8l-6.2 3.2l-10.5 6.8l-5.3 2.5l-2.5 0l-2.7 -1l-6.3 -3.3l-4 -2.5l-6 -3l-0.5 0l-1.2 -0.7l-2.3 -0.8l-0.7 0l-2.3 -0.7l-1.5 0l-0.2 -0.3l-5.3 0l-0.2 0.3l-1.5 0l-5 1.5l-5.3 2.5l-12.2 7.7l-3.3 1.8l-2.7 1l-2 -0.3l-2.8 -1l-6.2 -3.2l-4.5 -2.8l-5.5 -2.7l-5 -1.8l-2 -0.2l-0.3 -0.3l-2 0l-0.2 -0.2l-3.8 0l-0.2 0.2l-2.8 0.3l-3.5 1l-2.5 1.2l-0.5 0l-6.7 3.8l-8 5.2l-4.3 2.3l-0.5 0l-1.5 0.7l-1.7 0l-3 -1l-5 -2.5l-6.3 -3.7l-7.5 -3.5l-4.2 -1.3l-1.3 0l-0.2 -0.2l-3.5 0l-0.3 -0.3l-0.2 0.3l-2.5 0l-0.3 0.2l-1.2 0l-0.3 0.3l-1.7 0.2l-3.5 1.3l-6.8 3.5l-10.5 6.7l-3.5 1.8l-2.2 0.7l-3.8 -1l-5.5 -2.7l-6.2 -3.8l-6.3 -3l-3.7 -1.2l-2 -0.3l-0.3 -0.2l-1.2 0l-0.3 -0.3l-5.2 0l-0.3 0.3l-1.5 0l-6.2 2l-4.5 2.2l-11.8 7.5l-6 2.8l-1.2 0l-3 -1l-5.5 -2.8l-0.5 -0.5l-5.8 -3l-0.5 -0.5l-6.5 -3l-4.2 -1.2l-1 0l-0.3 -0.3l-5.5 -0.2l-0.2 0.2l-2.5 0.3l-3 1l-3 1.5l-5 3.2l-6.5 5l-5 3l-1.5 0.5l-6.3 0l-0.2 0.3l-1.3 0l-3.2 1l-2 1l-2.8 1.7l-4 3.3l-6.5 6.7l-4 4.8l-0.5 1l1.5 0l0.3 -0.3l0.2 0.3l0.3 -0.3l10.2 -0.2l0.3 -0.3l5.2 0l0.3 -0.2l6 0l0.2 -0.3l15.8 -0.2l0.2 -0.3l0.3 0.3l0.2 -0.3l9 0l3.8 5l0.2 -0.2l5.5 0l0.3 -0.3l12 0l0.2 -0.2l0.3 0.2l0.2 -0.2l9.5 0l0.3 -0.3l0.2 0.3l0.3 -0.3l7 0l0.2 -0.2l0.3 0.2l0.2 -0.2l12.5 -0.3l0.3 -0.2l5.5 0l0.2 -0.3l4.8 0l0.2 -0.2l7 0l0.3 -0.3l11 0l0.2 -0.2l0.8 0.2l0.2 -0.2l8.8 0l0.2 -0.3l0.5 0.3l0.3 -0.3l8 0l0.2 -0.2l6.8 0l0.2 -0.3l0.5 0.3l0.3 -0.3l12 -0.2l0.2 -0.3l5 0l0.3 -0.2l4.7 0l0.3 -0.3l9.7 0l0.3 -0.2l0.5 0.2l0.2 -0.2l10 0l0.3 -0.3l17.2 -0.2l0.3 -0.3l7 0l0.2 -0.2l11.5 -0.3l0.3 -0.2l5 0l0.2 -0.3l6.5 0l0.3 -0.2l11 0l0.2 -0.3l0.3 0.3l0.2 -0.3l18.3 -0.2l0.2 -0.3l13.8 -0.2l0.2 -0.3l5.8 0l0.2 -0.2l10.5 -0.3l0.3 -0.2l9 0l0.2 -0.3l0.5 0.3l0.3 -0.3l10.7 0l0.3 -0.2l16.7 -0.3l0.3 -0.2l13 -0.3l0.2 -0.2l17.3 -0.5l0.2 -0.3l0.3 0.3l0.5 -0.3l10.5 0l0.2 -0.2l0.3 0.2l0.2 -0.2l9.3 0l0.2 -0.3l0.5 0.3l0.3 -0.3l8.5 0l0.2 -0.2z"/>
<path fill="#d9ff26" d="M571.4 62.9l-1.8 -2.8l-2.7 -5.2l-0.5 -0.5l-0.5 -1.3l-8 -12.7l-3.5 -4.5l-4.3 -4.3l-2.5 -1.7l-3.7 -1.5l-1.5 0l-1.8 -0.8l-3 -0.5l-0.2 -0.2l-3 0l-0.3 -0.3l-1 0l-0.2 0.3l-3.8 0.2l-5.5 1.8l-6.2 3.2l-10.5 6.8l-5.3 2.5l-2.5 0l-2.7 -1l-6.3 -3.3l-4 -2.5l-6 -3l-0.5 0l-1.2 -0.7l-2.3 -0.8l-0.7 0l-2.3 -0.7l-1.5 0l-0.2 -0.3l-5.3 0l-0.2 0.3l-1.5 0l-5 1.5l-5.3 2.5l-12.2 7.7l-3.3 1.8l-2.7 1l-2 -0.3l-2.8 -1l-6.2 -3.2l-4.5 -2.8l-5.5 -2.7l-5 -1.8l-2 -0.2l-0.3 -0.3l-2 0l-0.2 -0.2l-3.8 0l-0.2 0.2l-2.8 0.3l-3.5 1l-2.5 1.2l-0.5 0l-6.7 3.8l-8 5.2l-4.3 2.3l-0.5 0l-1.5 0.7l-1.7 0l-3 -1l-5 -2.5l-6.3 -3.7l-7.5 -3.5l-4.2 -1.3l-1.3 0l-0.2 -0.2l-3.5 0l-0.3 -0.3l-0.2 0.3l-2.5 0l-0.3 0.2l-1.2 0l-0.3 0.3l-1.7 0.2l-3.5 1.3l-6.8 3.5l-10.5 6.7l-3.5 1.8l-2.2 0.7l-3.8 -1l-5.5 -2.7l-6.2 -3.8l-6.3 -3l-3.7 -1.2l-2 -0.3l-0.3 -0.2l-1.2 0l-0.3 -0.3l-5.2 0l-0.3 0.3l-1.5 0l-6.2 2l-4.5 2.2l-11.8 7.5l-6 2.8l-1.2 0l-3 -1l-5.5 -2.8l-0.5 -0.5l-5.8 -3l-0.5 -0.5l-6.5 -3l-4.2 -1.2l-1 0l-0.3 -0.3l-5.5 -0.2l-0.2 0.2l-2.5 0.3l-3 1l-3 1.5l-5 3.2l-6.5 5l-5 3l-1.5 0.5l-6.3 0l-0.2 0.3l-1.3 0l-3.2 1l-2 1l-2.8 1.7l-4 3.3l-6.5 6.7l-2.7 3.3l-0.8 1.2l14 -0.5l0.3 -0.2l5 0l0.2 -0.3l6.3 0l0.2 -0.2l7.8 0l0.2 -0.3l14 -0.2l3.8 5l0.2 -0.3l3.8 0l0.2 -0.2l12.8 0l0.2 -0.3l10.5 0l0.3 -0.2l14.7 -0.3l0.3 -0.2l6 0l0.2 -0.3l5.3 0l0.2 -0.2l4.8 0l0.2 -0.3l6 0l0.3 -0.2l22.5 -0.3l0.2 -0.2l8.5 0l0.3 -0.3l6.7 0l0.3 -0.2l0.2 0.2l0.3 -0.2l11.7 -0.3l0.3 -0.2l10.5 -0.3l0.2 -0.2l20.8 -0.3l0.2 -0.2l9.5 0l0.3 -0.3l14.7 -0.2l0.3 -0.3l11.2 -0.2l0.3 -0.3l10.7 -0.2l0.3 -0.3l0.5 0.3l0.2 -0.3l11.3 0l0.2 -0.2l18.8 -0.3l0.2 -0.2l7 0l0.3 -0.3l0.2 0.3l0.3 -0.3l12.2 -0.2l0.3 -0.3l10 -0.2l0.2 -0.3l9.3 0l0.2 -0.2l10.8 0l0.2 -0.3l0.5 0.3l0.3 -0.3l17 -0.2l0.2 -0.3l13.3 -0.2l0.2 -0.3l5 0l0.3 -0.2l5 0l0.2 -0.3l6.3 0l0.2 -0.2l10.8 0l0.2 -0.3l0.3 0.3l0.2 -0.3l9.8 0l0.2 -0.2l8.8 0l0.2 -0.3z"/>
<path fill="#eaff15" d="M570.6 61.6l-4.7 -8.5l-8 -12.7l-3.5 -4.5l-4.3 -4.3l-2.5 -1.7l-3.7 -1.5l-1.5 0l-1.8 -0.8l-3 -0.5l-0.2 -0.2l-3 0l-0.3 -0.3l-1 0l-0.2 0.3l-3.8 0.2l-5.5 1.8l-6.2 3.2l-10.5 6.8l-5.3 2.5l-2.5 0l-2.7 -1l-6.3 -3.3l-4 -2.5l-6 -3l-0.5 0l-1.2 -0.7l-2.3 -0.8l-0.7 0l-2.3 -0.7l-1.5 0l-0.2 -0.3l-5.3 0l-0.2 0.3l-1.5 0l-5 1.5l-5.3 2.5l-12.2 7.7l-3.3 1.8l-2.7 1l-2 -0.3l-2.8 -1l-6.2 -3.2l-4.5 -2.8l-5.5 -2.7l-5 -1.8l-2 -0.2l-0.3 -0.3l-2 0l-0.2 -0.2l-3.8 0l-0.2 0.2l-2.8 0.3l-3.5 1l-2.5 1.2l-0.5 0l-6.7 3.8l-8 5.2l-4.3 2.3l-0.5 0l-1.5 0.7l-1.7 0l-3 -1l-5 -2.5l-6.3 -3.7l-7.5 -3.5l-4.2 -1.3l-1.3 0l-0.2 -0.2l-3.5 0l-0.3 -0.3l-0.2 0.3l-2.5 0l-0.3 0.2l-1.2 0l-0.3 0.3l-1.7 0.2l-3.5 1.3l-6.8 3.5l-10.5 6.7l-3.5 1.8l-2.2 0.7l-3.8 -1l-5.5 -2.7l-6.2 -3.8l-6.3 -3l-3.7 -1.2l-2 -0.3l-0.3 -0.2l-1.2 0l-0.3 -0.3l-5.2 0l-0.3 0.3l-1.5 0l-6.2 2l-4.5 2.2l-11.8 7.5l-6 2.8l-1.2 0l-3 -1l-5.5 -2.8l-0.5 -0.5l-5.8 -3l-0.5 -0.5l-6.5 -3l-4.2 -1.2l-1 0l-0.3 -0.3l-5.5 -0.2l-0.2 0.2l-2.5 0.3l-3 1l-3 1.5l-5 3.2l-6.5 5l-5 3l-1.5 0.5l-6.3 0l-0.2 0.3l-1.3 0l-3.2 1l-2 1l-2.8 1.7l-4 3.3l-4.2 4.2l-5 5.8l6 0l0.2 -0.3l9.3 -0.2l0.2 -0.3l5.5 0l0.3 -0.2l6.5 0l0.2 -0.3l18.3 -0.2l3.5 4.5l3.2 0l0.3 -0.3l13 0l0.2 -0.2l10.8 0l0.2 -0.3l7.8 0l0.2 -0.2l13 -0.3l0.3 -0.2l5.2 0l0.3 -0.3l10.2 -0.2l0.3 -0.3l12.5 0l0.2 -0.2l10 0l0.3 -0.3l16.5 -0.2l0.2 -0.3l11.8 -0.2l0.2 -0.3l10 -0.2l0.3 -0.3l38.5 -0.7l0.2 -0.3l13.3 -0.2l0.2 -0.3l5 0l0.3 -0.2l5 0l0.2 -0.3l5 0l0.3 -0.2l23 -0.3l0.2 -0.2l8.5 0l0.3 -0.3l7.2 0l0.3 -0.2l12.2 -0.3l0.3 -0.2l5 0l0.2 -0.3l4.8 0l0.2 -0.2l38.8 -0.8l0.2 -0.2l12.5 -0.3l0.3 -0.2l5.5 0l0.2 -0.3l10 -0.2l0.3 -0.3l23 -0.2l0.2 -0.3l8.3 0l0.2 -0.2z"/>
<path fill="#fbff04" d="M569.9 60.4l-4 -7.3l-8 -12.7l-3.5 -4.5l-4.3 -4.3l-2.5 -1.7l-3.7 -1.5l-1.5 0l-1.8 -0.8l-3 -0.5l-0.2 -0.2l-3 0l-0.3 -0.3l-1 0l-0.2 0.3l-3.8 0.2l-5.5 1.8l-6.2 3.2l-10.5 6.8l-5.3 2.5l-2.5 0l-2.7 -1l-6.3 -3.3l-4 -2.5l-6 -3l-0.5 0l-1.2 -0.7l-2.3 -0.8l-0.7 0l-2.3 -0.7l-1.5 0l-0.2 -0.3l-5.3 0l-0.2 0.3l-1.5 0l-5 1.5l-5.3 2.5l-12.2 7.7l-3.3 1.8l-2.7 1l-2 -0.3l-2.8 -1l-6.2 -3.2l-4.5 -2.8l-5.5 -2.7l-5 -1.8l-2 -0.2l-0.3 -0.3l-2 0l-0.2 -0.2l-3.8 0l-0.2 0.2l-2.8 0.3l-3.5 1l-2.5 1.2l-0.5 0l-6.7 3.8l-8 5.2l-4.3 2.3l-0.5 0l-1.5 0.7l-1.7 0l-3 -1l-5 -2.5l-6.3 -3.7l-7.5 -3.5l-4.2 -1.3l-1.3 0l-0.2 -0.2l-3.5 0l-0.3 -0.3l-0.2 0.3l-2.5 0l-0.3 0.2l-1.2 0l-0.3 0.3l-1.7 0.2l-3.5 1.3l-6.8 3.5l-10.5 6.7l-3.5 1.8l-2.2 0.7l-3.8 -1l-5.5 -2.7l-6.2 -3.8l-6.3 -3l-3.7 -1.2l-2 -0.3l-0.3 -0.2l-1.2 0l-0.3 -0.3l-5.2 0l-0.3 0.3l-1.5 0l-6.2 2l-4.5 2.2l-11.8 7.5l-6 2.8l-1.2 0l-3 -1l-5.5 -2.8l-0.5 -0.5l-5.8 -3l-0.5 -0.5l-6.5 -3l-4.2 -1.2l-1 0l-0.3 -0.3l-5.5 -0.2l-0.2 0.2l-2.5 0.3l-3 1l-3 1.5l-5 3.2l-6.5 5l-5 3l-1.5 0.5l-6.3 0l-0.2 0.3l-1.3 0l-3.2 1l-2 1l-2.8 1.7l-4 3.3l-4.2 4.2l-4 4.8l1.7 0l0.3 -0.3l0.2 0.3l0.3 -0.3l5 0l0.2 -0.2l4.3 0l0.2 -0.3l4.3 0l0.2 -0.2l5.5 0l0.3 -0.3l0.2 0.3l0.3 -0.3l21.2 -0.5l1.5 1.5l2.3 3l2 0l0.2 -0.2l12.3 0l0.2 -0.3l11.5 0l0.3 -0.2l8.5 0l0.2 -0.3l0.5 0.3l0.3 -0.3l12.7 -0.2l0.3 -0.3l9.5 -0.2l0.2 -0.3l4.5 0l0.3 -0.2l11.2 0l0.3 -0.3l0.2 0.3l0.8 0l0.2 -0.3l20 -0.2l0.3 -0.3l7.5 0l0.2 -0.2l12.3 -0.3l0.2 -0.2l9 -0.3l0.3 -0.2l20.2 -0.3l0.3 -0.2l0.5 0.2l0.2 -0.2l9.5 0l0.3 -0.3l0.5 0.3l0.2 -0.3l14.8 -0.2l0.2 -0.3l11.3 -0.2l0.2 -0.3l9.8 -0.2l0.2 -0.3l11.5 0l0.3 -0.2l20.5 -0.3l0.2 -0.2l7.5 0l0.3 -0.3l12 -0.2l0.2 -0.3l9.5 -0.2l0.3 -0.3l30.5 -0.5l0.2 -0.2l7.8 0l0.2 -0.3l13.5 -0.2l0.3 -0.3l5 0l0.2 -0.2l10 -0.3l0.3 -0.2l22.5 -0.3l0.2 -0.2l9 0l0.3 -0.3l0.5 0.3l0.2 -0.3z"/>
<path fill="#fff300" d="M569.1 58.9l-7.7 -13.3l-3.5 -5.2l-3.5 -4.5l-4.3 -4.3l-2.5 -1.7l-3.7 -1.5l-1.5 0l-1.8 -0.8l-3 -0.5l-0.2 -0.2l-3 0l-0.3 -0.3l-1 0l-0.2 0.3l-3.8 0.2l-5.5 1.8l-6.2 3.2l-10.5 6.8l-5.3 2.5l-2.5 0l-2.7 -1l-6.3 -3.3l-4 -2.5l-6 -3l-0.5 0l-1.2 -0.7l-2.3 -0.8l-0.7 0l-2.3 -0.7l-1.5 0l-0.2 -0.3l-5.3 0l-0.2 0.3l-1.5 0l-5 1.5l-5.3 2.5l-12.2 7.7l-3.3 1.8l-2.7 1l-2 -0.3l-2.8 -1l-6.2 -3.2l-4.5 -2.8l-5.5 -2.7l-5 -1.8l-2 -0.2l-0.3 -0.3l-2 0l-0.2 -0.2l-3.8 0l-0.2 0.2l-2.8 0.3l-3.5 1l-2.5 1.2l-0.5 0l-6.7 3.8l-8 5.2l-4.3 2.3l-0.5 0l-1.5 0.7l-1.7 0l-3 -1l-5 -2.5l-6.3 -3.7l-7.5 -3.5l-4.2 -1.3l-1.3 0l-0.2 -0.2l-3.5 0l-0.3 -0.3l-0.2 0.3l-2.5 0l-0.3 0.2l-1.2 0l-0.3 0.3l-1.7 0.2l-3.5 1.3l-6.8 3.5l-10.5 6.7l-3.5 1.8l-2.2 0.7l-3.8 -1l-5.5 -2.7l-6.2 -3.8l-6.3 -3l-3.7 -1.2l-2 -0.3l-0.3 -0.2l-1.2 0l-0.3 -0.3l-5.2 0l-0.3 0.3l-1.5 0l-6.2 2l-4.5 2.2l-11.8 7.5l-6 2.8l-1.2 0l-3 -1l-5.5 -2.8l-0.5 -0.5l-5.8 -3l-0.5 -0.5l-6.5 -3l-4.2 -1.2l-1 0l-0.3 -0.3l-5.5 -0.2l-0.2 0.2l-2.5 0.3l-3 1l-3 1.5l-5 3.2l-6.5 5l-5 3l-1.5 0.5l-6.3 0l-0.2 0.3l-1.3 0l-3.2 1l-2 1l-2.8 1.7l-4 3.3l-4.2 4.2l-3 3.5l4.5 0l0.2 -0.2l8.5 -0.3l0.3 -0.2l4.7 0l0.3 -0.3l5.7 0l0.3 -0.2l16 -0.3l0.2 -0.2l1.5 0l3.8 4.5l0.7 0l0.3 -0.3l11.7 0l0.3 -0.2l0.5 0.2l0.2 -0.2l12.5 0l0.3 -0.3l8.5 0l0.2 -0.2l13 -0.3l0.3 -0.2l4.7 0l0.3 -0.3l4.5 0l0.2 -0.2l4.5 0l0.3 -0.3l23.2 -0.2l0.3 -0.3l0.2 0.3l0.3 -0.3l9 0l0.2 -0.2l0.3 0.2l0.2 -0.2l13.8 -0.3l0.2 -0.2l5 0l0.3 -0.3l0.2 0.3l0.3 -0.3l4.5 0l0.2 -0.2l4.3 0l0.2 -0.3l6.3 0l0.2 -0.2l13 0l0.3 -0.3l20 -0.2l0.2 -0.3l6.8 0l0.2 -0.2l5.5 0l0.3 -0.3l9.7 -0.2l0.3 -0.3l4.2 0l0.3 -0.2l0.2 0.2l0.3 -0.2l10.2 0l0.3 -0.3l0.5 0.3l0.2 -0.3l21.3 -0.2l0.2 -0.3l14.3 -0.2l0.2 -0.3l5.5 0l0.3 -0.2l4.5 0l0.2 -0.3l4.5 0l0.3 -0.2l6.2 0l0.3 -0.3l24 -0.2l0.2 -0.3l8 0l0.3 -0.2l7.5 0l0.2 -0.3l11 -0.2l0.3 -0.3l9.5 -0.2l0.2 -0.3l22.5 -0.2l0.3 -0.3l0.2 0.3l0.3 -0.3l9 0l0.2 -0.2l14 -0.3z"/>
<path fill="#ffe500" d="M568.4 57.6l-7 -12l-3.5 -5.2l-3.5 -4.5l-4.3 -4.3l-2.5 -1.7l-3.7 -1.5l-1.5 0l-1.8 -0.8l-3 -0.5l-0.2 -0.2l-3 0l-0.3 -0.3l-1 0l-0.2 0.3l-3.8 0.2l-5.5 1.8l-6.2 3.2l-10.5 6.8l-5.3 2.5l-2.5 0l-2.7 -1l-6.3 -3.3l-4 -2.5l-6 -3l-0.5 0l-1.2 -0.7l-2.3 -0.8l-0.7 0l-2.3 -0.7l-1.5 0l-0.2 -0.3l-5.3 0l-0.2 0.3l-1.5 0l-5 1.5l-5.3 2.5l-12.2 7.7l-3.3 1.8l-2.7 1l-2 -0.3l-2.8 -1l-6.2 -3.2l-4.5 -2.8l-5.5 -2.7l-5 -1.8l-2 -0.2l-0.3 -0.3l-2 0l-0.2 -0.2l-3.8 0l-0.2 0.2l-2.8 0.3l-3.5 1l-2.5 1.2l-0.5 0l-6.7 3.8l-8 5.2l-4.3 2.3l-0.5 0l-1.5 0.7l-1.7 0l-3 -1l-5 -2.5l-6.3 -3.7l-7.5 -3.5l-4.2 -1.3l-1.3 0l-0.2 -0.2l-3.5 0l-0.3 -0.3l-0.2 0.3l-2.5 0l-0.3 0.2l-1.2 0l-0.3 0.3l-1.7 0.2l-3.5 1.3l-6.8 3.5l-10.5 6.7l-3.5 1.8l-2.2 0.7l-3.8 -1l-5.5 -2.7l-6.2 -3.8l-6.3 -3l-3.7 -1.2l-2 -0.3l-0.3 -0.2l-1.2 0l-0.3 -0.3l-5.2 0l-0.3 0.3l-1.5 0l-6.2 2l-4.5 2.2l-11.8 7.5l-6 2.8l-1.2 0l-3 -1l-5.5 -2.8l-0.5 -0.5l-5.8 -3l-0.5 -0.5l-6.5 -3l-4.2 -1.2l-1 0l-0.3 -0.3l-5.5 -0.2l-0.2 0.2l-2.5 0.3l-3 1l-3 1.5l-5 3.2l-6.5 5l-5 3l-1.5 0.5l-6.3 0l-0.2 0.3l-1.3 0l-3.2 1l-2 1l-2.8 1.7l-4 3.3l-6.2 6.5l6 0l0.2 -0.3l3.8 0l0.2 -0.2l3.8 0l0.2 -0.3l5 0l0.3 -0.2l6 0l0.2 -0.3l14.8 -0.2l3.5 4.2l0.2 -0.2l10.3 0l0.2 -0.3l14.3 0l0.2 -0.2l0.8 0.2l0.2 -0.2l8.8 0l0.2 -0.3l12.8 -0.2l0.2 -0.3l4.8 0l0.2 -0.2l4.3 0l0.2 -0.3l4 0l0.3 -0.2l23.7 -0.3l0.3 -0.2l0.2 0.2l0.3 -0.2l8.7 0l0.3 -0.3l0.2 0.3l0.3 -0.3l7.5 0l0.2 -0.2l12 -0.3l0.3 -0.2l4.5 0l0.2 -0.3l4.3 0l0.2 -0.2l5.3 0l0.2 -0.3l13.5 0l0.3 -0.2l0.5 0.2l0.2 -0.2l19.5 -0.3l0.3 -0.2l7.2 0l0.3 -0.3l5.5 0l0.2 -0.2l9.8 -0.3l0.2 -0.2l4 0l0.3 -0.3l23 -0.2l0.2 -0.3l10 0l0.3 -0.2l7.5 0l0.2 -0.3l0.3 0.3l0.2 -0.3l11.8 -0.2l0.2 -0.3l4.3 0l0.2 -0.2l4.3 0l0.2 -0.3l5.3 0l0.2 -0.2l13.3 0l0.2 -0.3l0.8 0.3l0.2 -0.3l19.8 -0.2l0.2 -0.3l7.3 0l0.2 -0.2l15.5 -0.5l0.3 -0.3l4.2 0l0.3 -0.2l32.7 -0.5l0.3 -0.3l7.5 0l0.2 -0.2l0.3 0.2l0.2 -0.2l6 0z"/>
<path fill="#ffd600" d="M567.6 56.4l-6.2 -10.8l-3.5 -5.2l-3.5 -4.5l-4.3 -4.3l-2.5 -1.7l-3.7 -1.5l-1.5 0l-1.8 -0.8l-3 -0.5l-0.2 -0.2l-3 0l-0.3 -0.3l-1 0l-0.2 0.3l-3.8 0.2l-5.5 1.8l-6.2 3.2l-10.5 6.8l-5.3 2.5l-2.5 0l-2.7 -1l-6.3 -3.3l-4 -2.5l-6 -3l-0.5 0l-1.2 -0.7l-2.3 -0.8l-0.7 0l-2.3 -0.7l-1.5 0l-0.2 -0.3l-5.3 0l-0.2 0.3l-1.5 0l-5 1.5l-5.3 2.5l-12.2 7.7l-3.3 1.8l-2.7 1l-2 -0.3l-2.8 -1l-6.2 -3.2l-4.5 -2.8l-5.5 -2.7l-5 -1.8l-2 -0.2l-0.3 -0.3l-2 0l-0.2 -0.2l-3.8 0l-0.2 0.2l-2.8 0.3l-3.5 1l-2.5 1.2l-0.5 0l-6.7 3.8l-8 5.2l-4.3 2.3l-0.5 0l-1.5 0.7l-1.7 0l-3 -1l-5 -2.5l-6.3 -3.7l-7.5 -3.5l-4.2 -1.3l-1.3 0l-0.2 -0.2l-3.5 0l-0.3 -0.3l-0.2 0.3l-2.5 0l-0.3 0.2l-1.2 0l-0.3 0.3l-1.7 0.2l-3.5 1.3l-6.8 3.5l-10.5 6.7l-3.5 1.8l-2.2 0.7l-3.8 -1l-5.5 -2.7l-6.2 -3.8l-6.3 -3l-3.7 -1.2l-2 -0.3l-0.3 -0.2l-1.2 0l-0.3 -0.3l-5.2 0l-0.3 0.3l-1.5 0l-6.2 2l-4.5 2.2l-11.8 7.5l-6 2.8l-1.2 0l-3 -1l-5.5 -2.8l-0.5 -0.5l-5.8 -3l-0.5 -0.5l-6.5 -3l-4.2 -1.2l-1 0l-0.3 -0.3l-5.5 -0.2l-0.2 0.2l-2.5 0.3l-3 1l-3 1.5l-5 3.2l-6.5 5l-5 3l-1.5 0.5l-6.3 0l-0.2 0.3l-1.3 0l-3.2 1l-2 1l-2.8 1.7l-4 3.3l-4.2 4.2l-0.8 1.3l7.3 -0.3l0.2 -0.2l3.5 0l0.3 -0.3l4 0l0.2 -0.2l5 0l0.3 -0.3l15.2 -0.2l0.3 -0.3l1.7 0l2 2l1.8 2.3l0.2 -0.3l8.5 0l0.3 -0.2l15.2 0l0.3 -0.3l0.5 0.3l0.2 -0.3l8.8 0l0.2 -0.2l7.3 0l0.2 -0.3l11 -0.2l0.3 -0.3l4 0l0.2 -0.2l4 0l0.3 -0.3l23 -0.2l0.2 -0.3l10.5 0l0.3 -0.2l0.2 0.2l0.3 -0.2l7.2 0l0.3 -0.3l0.2 0.3l0.3 -0.3l11.2 -0.2l0.3 -0.3l4.5 0l0.2 -0.2l4.3 0l0.2 -0.3l4 0l0.3 -0.2l14 0l0.2 -0.3l21.8 -0.2l0.2 -0.3l6.8 0l0.2 -0.2l5.8 0l0.2 -0.3l9.3 -0.2l0.2 -0.3l4 0l0.3 -0.2l33.5 -0.5l0.2 -0.3l7.3 0l0.2 -0.2l0.3 0.2l0.2 -0.2l12 -0.3l0.3 -0.2l4.2 0l0.3 -0.3l8.7 -0.2l0.3 -0.3l13 0l0.2 -0.2l0.8 0.2l0.2 -0.2l21 -0.3l0.3 -0.2l6.7 0l0.3 -0.3l5.7 0l0.3 -0.2l9.7 -0.3l0.3 -0.2l4 0l0.2 -0.3l22.8 -0.2l0.2 -0.3l9.8 0l0.2 -0.2l0.3 0.2l0.2 -0.2l7.5 0l0.3 -0.3l0.2 0.3l0.3 -0.3l5.7 0l0.3 -0.2l0.2 0.2z"/>
<path fill="#ffc700" d="M566.9 54.9l-5.5 -9.3l-3.5 -5.2l-3.5 -4.5l-4.3 -4.3l-2.5 -1.7l-3.7 -1.5l-1.5 0l-1.8 -0.8l-3 -0.5l-0.2 -0.2l-3 0l-0.3 -0.3l-1 0l-0.2 0.3l-3.8 0.2l-5.5 1.8l-6.2 3.2l-10.5 6.8l-5.3 2.5l-2.5 0l-2.7 -1l-6.3 -3.3l-4 -2.5l-6 -3l-0.5 0l-1.2 -0.7l-2.3 -0.8l-0.7 0l-2.3 -0.7l-1.5 0l-0.2 -0.3l-5.3 0l-0.2 0.3l-1.5 0l-5 1.5l-5.3 2.5l-12.2 7.7l-3.3 1.8l-2.7 1l-2 -0.3l-2.8 -1l-6.2 -3.2l-4.5 -2.8l-5.5 -2.7l-5 -1.8l-2 -0.2l-0.3 -0.3l-2 0l-0.2 -0.2l-3.8 0l-0.2 0.2l-2.8 0.3l-3.5 1l-2.5 1.2l-0.5 0l-6.7 3.8l-8 5.2l-4.3 2.3l-0.5 0l-1.5 0.7l-1.7 0l-3 -1l-5 -2.5l-6.3 -3.7l-7.5 -3.5l-4.2 -1.3l-1.3 0l-0.2 -0.2l-3.5 0l-0.3 -0.3l-0.2 0.3l-2.5 0l-0.3 0.2l-1.2 0l-0.3 0.3l-1.7 0.2l-3.5 1.3l-6.8 3.5l-10.5 6.7l-3.5 1.8l-2.2 0.7l-3.8 -1l-5.5 -2.7l-6.2 -3.8l-6.3 -3l-3.7 -1.2l-2 -0.3l-0.3 -0.2l-1.2 0l-0.3 -0.3l-5.2 0l-0.3 0.3l-1.5 0l-6.2 2l-4.5 2.2l-11.8 7.5l-6 2.8l-1.2 0l-3 -1l-5.5 -2.8l-0.5 -0.5l-5.8 -3l-0.5 -0.5l-6.5 -3l-4.2 -1.2l-1 0l-0.3 -0.3l-5.5 -0.2l-0.2 0.2l-2.5 0.3l-3 1l-3 1.5l-5 3.2l-6.5 5l-5 3l-1.5 0.5l-6.3 0l-0.2 0.3l-1.3 0l-3.2 1l-2 1l-2.8 1.7l-4 3.3l-4 4.2l4.8 0l0.2 -0.2l3.5 0l0.3 -0.3l3.2 0l0.3 -0.2l4 0l0.2 -0.3l5.5 0l0.3 -0.2l14 -0.3l3.2 3.8l5.3 0l0.2 -0.3l0.3 0.3l0.2 -0.3l17.5 0l0.3 -0.2l10.2 0l0.3 -0.3l0.2 0.3l0.3 -0.3l12.7 -0.2l0.3 -0.3l5 0l0.2 -0.2l4 0l0.3 -0.3l3.7 0l0.3 -0.2l6.2 0l0.3 -0.3l0.2 0.3l0.3 -0.3l15.7 0l0.3 -0.2l19 -0.3l0.2 -0.2l6.5 0l0.3 -0.3l5 0l0.2 -0.2l8.8 -0.3l0.2 -0.2l3.8 0l0.2 -0.3l13 0l0.3 -0.2l0.5 0.2l0.2 -0.2l12.3 0l0.2 -0.3l0.3 0.3l0.2 -0.3l8.5 0l0.3 -0.2l0.7 0.2l0.3 -0.2l12.5 -0.3l0.2 -0.2l5 0l0.3 -0.3l4 0l0.2 -0.2l4 0l0.3 -0.3l6.2 0l0.3 -0.2l0.2 0.2l0.3 -0.2l26.7 -0.3l0.3 -0.2l7.5 0l0.2 -0.3l0.3 0.3l0.2 -0.3l11.5 -0.2l0.3 -0.3l4.5 0l0.2 -0.2l8.3 -0.3l0.2 -0.2l12 0l0.3 -0.3l0.2 0.3l0.5 -0.3l0.5 0.3l0.3 -0.3l22 -0.2l0.2 -0.3l13 -0.2l0.3 -0.3l5 0l0.2 -0.2l4 0l0.3 -0.3l3.7 0l0.3 -0.2l6.7 0l0.3 -0.3l0.2 0.3l0.3 -0.3l15 0l0.2 -0.2l10.5 0l0.3 -0.3l8.2 0l0.3 -0.2l6.2 0l0.3 -0.3l0.2 0.3l0.8 -0.3z"/>
<path fill="#ffb800" d="M566.1 53.6l-4.7 -8l-3.5 -5.2l-3.5 -4.5l-4.3 -4.3l-2.5 -1.7l-3.7 -1.5l-1.5 0l-1.8 -0.8l-3 -0.5l-0.2 -0.2l-3 0l-0.3 -0.3l-1 0l-0.2 0.3l-3.8 0.2l-5.5 1.8l-6.2 3.2l-10.5 6.8l-5.3 2.5l-2.5 0l-2.7 -1l-6.3 -3.3l-4 -2.5l-6 -3l-0.5 0l-1.2 -0.7l-2.3 -0.8l-0.7 0l-2.3 -0.7l-1.5 0l-0.2 -0.3l-5.3 0l-0.2 0.3l-1.5 0l-5 1.5l-5.3 2.5l-12.2 7.7l-3.3 1.8l-2.7 1l-2 -0.3l-2.8 -1l-6.2 -3.2l-4.5 -2.8l-5.5 -2.7l-5 -1.8l-2 -0.2l-0.3 -0.3l-2 0l-0.2 -0.2l-3.8 0l-0.2 0.2l-2.8 0.3l-3.5 1l-2.5 1.2l-0.5 0l-6.7 3.8l-8 5.2l-4.3 2.3l-0.5 0l-1.5 0.7l-1.7 0l-3 -1l-5 -2.5l-6.3 -3.7l-7.5 -3.5l-4.2 -1.3l-1.3 0l-0.2 -0.2l-3.5 0l-0.3 -0.3l-0.2 0.3l-2.5 0l-0.3 0.2l-1.2 0l-0.3 0.3l-1.7 0.2l-3.5 1.3l-6.8 3.5l-10.5 6.7l-3.5 1.8l-2.2 0.7l-3.8 -1l-5.5 -2.7l-6.2 -3.8l-6.3 -3l-3.7 -1.2l-2 -0.3l-0.3 -0.2l-1.2 0l-0.3 -0.3l-5.2 0l-0.3 0.3l-1.5 0l-6.2 2l-4.5 2.2l-11.8 7.5l-6 2.8l-1.2 0l-3 -1l-5.5 -2.8l-0.5 -0.5l-5.8 -3l-0.5 -0.5l-6.5 -3l-4.2 -1.2l-1 0l-0.3 -0.3l-5.5 -0.2l-0.2 0.2l-2.5 0.3l-3 1l-3 1.5l-5 3.2l-6.5 5l-5 3l-1.5 0.5l-6.3 0l-0.2 0.3l-1.3 0l-3.2 1l-2 1l-5 3.5l-1.8 1.5l-3 3.2l0.5 -0.2l5.5 0l0.3 -0.3l6.7 -0.2l0.3 -0.3l4.2 0l0.3 -0.2l16.2 -0.5l3.5 3.7l3.8 0l0.2 -0.2l30 -0.3l0.3 -0.2l6.7 0l0.3 -0.3l11 -0.2l0.2 -0.3l12.3 -0.5l0.2 -0.2l0.8 0.2l0.2 -0.2l16.3 0l0.2 -0.3l0.3 0.3l0.2 -0.3l19.8 -0.2l0.2 -0.3l6.5 0l0.3 -0.2l10 -0.3l0.2 -0.2l7.5 -0.3l0.3 -0.2l36.5 -0.5l0.2 -0.3l7 0l0.3 -0.2l11 -0.3l0.2 -0.2l3.8 0l0.2 -0.3l3.5 0l0.3 -0.2l5 0l0.2 -0.3l17 0l0.3 -0.2l0.2 0.2l0.3 -0.2l10.5 0l0.2 -0.3l8.5 0l0.3 -0.2l0.2 0.2l0.3 -0.2l6 0l0.2 -0.3l10 -0.2l0.3 -0.3l3.7 0l0.3 -0.2l3.5 0l0.2 -0.3l36 -0.5l0.3 -0.2l7.2 0l0.3 -0.3l11 -0.2l0.2 -0.3l4 0l0.3 -0.2l4 0l0.2 -0.3l5.3 0l0.2 -0.2l15.5 0l0.3 -0.3l0.2 0.3l0.3 -0.3l11.2 0l0.3 -0.2l8.2 0l0.3 -0.3l0.2 0.3l0.3 -0.3l6.2 0l0.3 -0.2l1.2 0z"/>
<path fill="#ffaa00" d="M565.4 52.4l-4 -6.8l-3.5 -5.2l-3.5 -4.5l-4.3 -4.3l-2.5 -1.7l-3.7 -1.5l-1.5 0l-1.8 -0.8l-3 -0.5l-0.2 -0.2l-3 0l-0.3 -0.3l-1 0l-0.2 0.3l-3.8 0.2l-5.5 1.8l-6.2 3.2l-10.5 6.8l-5.3 2.5l-2.5 0l-2.7 -1l-6.3 -3.3l-4 -2.5l-6 -3l-0.5 0l-1.2 -0.7l-2.3 -0.8l-0.7 0l-2.3 -0.7l-1.5 0l-0.2 -0.3l-5.3 0l-0.2 0.3l-1.5 0l-5 1.5l-5.3 2.5l-12.2 7.7l-3.3 1.8l-2.7 1l-2 -0.3l-2.8 -1l-6.2 -3.2l-4.5 -2.8l-5.5 -2.7l-5 -1.8l-2 -0.2l-0.3 -0.3l-2 0l-0.2 -0.2l-3.8 0l-0.2 0.2l-2.8 0.3l-3.5 1l-2.5 1.2l-0.5 0l-6.7 3.8l-8 5.2l-4.3 2.3l-0.5 0l-1.5 0.7l-1.7 0l-3 -1l-5 -2.5l-6.3 -3.7l-7.5 -3.5l-4.2 -1.3l-1.3 0l-0.2 -0.2l-3.5 0l-0.3 -0.3l-0.2 0.3l-2.5 0l-0.3 0.2l-1.2 0l-0.3 0.3l-1.7 0.2l-3.5 1.3l-6.8 3.5l-10.5 6.7l-3.5 1.8l-2.2 0.7l-3.8 -1l-5.5 -2.7l-6.2 -3.8l-6.3 -3l-3.7 -1.2l-2 -0.3l-0.3 -0.2l-1.2 0l-0.3 -0.3l-5.2 0l-0.3 0.3l-1.5 0l-6.2 2l-4.5 2.2l-11.8 7.5l-6 2.8l-1.2 0l-3 -1l-5.5 -2.8l-0.5 -0.5l-5.8 -3l-0.5 -0.5l-6.5 -3l-4.2 -1.2l-1 0l-0.3 -0.3l-5.5 -0.2l-0.2 0.2l-2.5 0.3l-3 1l-3 1.5l-5 3.2l-6.5 5l-5 3l-1.5 0.5l-6.3 0l-0.2 0.3l-1.3 0l-3.2 1l-3.3 1.7l-2.5 1.8l-3 2.5l-1.7 2l7 -0.3l0.2 -0.2l6.5 -0.3l0.3 -0.2l4.2 0l0.3 -0.3l13.2 -0.2l3.5 3.7l0.3 -0.2l1.5 0l0.2 -0.3l18.3 0l0.2 -0.2l1.5 0.2l0.3 -0.2l10.7 0l0.3 -0.3l0.5 0.3l0.2 -0.3l7 0l0.3 -0.2l5.7 0l0.3 -0.3l9 -0.2l0.2 -0.3l7.3 -0.2l0.2 -0.3l17 0l0.3 -0.2l0.5 0.2l0.2 -0.2l20.5 -0.3l0.3 -0.2l6.7 0l0.3 -0.3l9.5 -0.2l0.2 -0.3l3.5 0l0.3 -0.2l3.5 0l0.2 -0.3l26.8 -0.2l0.2 -0.3l17.5 -0.2l0.3 -0.3l10.7 -0.2l0.3 -0.3l3.7 0l0.3 -0.2l7.5 -0.3l0.2 -0.2l15.8 0l0.2 -0.3l0.8 0.3l0.2 -0.3l21.5 -0.2l0.3 -0.3l6.2 0l0.3 -0.2l9.7 -0.3l0.3 -0.2l3.7 0l0.3 -0.3l3.5 0l0.2 -0.2l36.3 -0.5l0.2 -0.3l7.3 0l0.2 -0.2l11.3 -0.3l0.2 -0.2l3.8 0l0.2 -0.3l7.5 -0.2l0.3 -0.3l29.7 -0.2l0.3 -0.3l8.5 0l0.2 -0.2l6 0l0.3 -0.3l0.2 0.3l0.3 -0.3l1.5 0z"/>
<path fill="#ff9b00" d="M564.6 51.1l-6.7 -10.7l-3.5 -4.5l-4.3 -4.3l-2.5 -1.7l-3.7 -1.5l-1.5 0l-1.8 -0.8l-3 -0.5l-0.2 -0.2l-3 0l-0.3 -0.3l-1 0l-0.2 0.3l-3.8 0.2l-5.5 1.8l-6.2 3.2l-10.5 6.8l-5.3 2.5l-2.5 0l-2.7 -1l-6.3 -3.3l-4 -2.5l-6 -3l-0.5 0l-1.2 -0.7l-2.3 -0.8l-0.7 0l-2.3 -0.7l-1.5 0l-0.2 -0.3l-5.3 0l-0.2 0.3l-1.5 0l-5 1.5l-5.3 2.5l-12.2 7.7l-3.3 1.8l-2.7 1l-2 -0.3l-2.8 -1l-6.2 -3.2l-4.5 -2.8l-5.5 -2.7l-5 -1.8l-2 -0.2l-0.3 -0.3l-2 0l-0.2 -0.2l-3.8 0l-0.2 0.2l-2.8 0.3l-3.5 1l-2.5 1.2l-0.5 0l-6.7 3.8l-8 5.2l-4.3 2.3l-0.5 0l-1.5 0.7l-1.7 0l-3 -1l-5 -2.5l-6.3 -3.7l-7.5 -3.5l-4.2 -1.3l-1.3 0l-0.2 -0.2l-3.5 0l-0.3 -0.3l-0.2 0.3l-2.5 0l-0.3 0.2l-1.2 0l-0.3 0.3l-1.7 0.2l-3.5 1.3l-6.8 3.5l-10.5 6.7l-3.5 1.8l-2.2 0.7l-3.8 -1l-5.5 -2.7l-6.2 -3.8l-6.3 -3l-3.7 -1.2l-2 -0.3l-0.3 -0.2l-1.2 0l-0.3 -0.3l-5.2 0l-0.3 0.3l-1.5 0l-6.2 2l-4.5 2.2l-11.8 7.5l-6 2.8l-1.2 0l-3 -1l-5.5 -2.8l-0.5 -0.5l-5.8 -3l-0.5 -0.5l-6.5 -3l-4.2 -1.2l-1 0l-0.3 -0.3l-5.5 -0.2l-0.2 0.2l-2.5 0.3l-3 1l-3 1.5l-5 3.2l-6.5 5l-5 3l-1.5 0.5l-6.3 0l-0.2 0.3l-1.3 0l-3.2 1l-4.8 2.7l-4.7 4l5 0l0.2 -0.2l2.8 0l0.2 -0.3l2.8 0l0.2 -0.2l3.5 0l0.3 -0.3l14.5 -0.5l3.5 3.5l0.7 0l0.3 -0.2l32.5 -0.3l0.2 -0.2l7.5 0l0.3 -0.3l10.5 -0.2l0.2 -0.3l3.8 0l0.2 -0.2l6.5 -0.3l0.3 -0.2l16 0l0.2 -0.3l0.8 0.3l0.2 -0.3l21.8 -0.2l0.2 -0.3l12.8 -0.2l0.2 -0.3l4 0l0.3 -0.2l3.5 0l0.2 -0.3l3 0l0.3 -0.2l6.7 0l0.3 -0.3l18.7 0l0.3 -0.2l19 -0.3l0.2 -0.2l5.8 0l0.2 -0.3l8.5 -0.2l0.3 -0.3l7 -0.2l0.2 -0.3l15.3 0l0.2 -0.2l1 0.2l0.3 -0.2l22.5 -0.3l0.2 -0.2l6 0l0.3 -0.3l0.2 0.3l0.3 -0.3l9.5 -0.2l0.2 -0.3l3.5 0l0.3 -0.2l3.2 0l0.3 -0.3l6.7 0l0.3 -0.2l18.2 0l0.3 -0.3l0.5 0.3l0.2 -0.3l10 0l0.3 -0.2l0.2 0.2l0.3 -0.2l7 0l0.2 -0.3l0.5 0.3l0.3 -0.3l10.5 -0.2l0.2 -0.3l3.8 0l0.2 -0.2l3.5 0l0.3 -0.3l3.5 0l0.2 -0.2l29.8 -0.3l0.2 -0.2l15.5 -0.3l0.3 -0.2l2.2 0z"/>
<path fill="#ff8c00" d="M561.4 45.6l-5.8 -8.2l-5.5 -5.8l-2.5 -1.7l-3.7 -1.5l-1.5 0l-1.8 -0.8l-3 -0.5l-0.2 -0.2l-3 0l-0.3 -0.3l-1 0l-0.2 0.3l-3.8 0.2l-5.5 1.8l-6.2 3.2l-10.5 6.8l-5.3 2.5l-2.5 0l-2.7 -1l-6.3 -3.3l-4 -2.5l-6 -3l-0.5 0l-1.2 -0.7l-2.3 -0.8l-0.7 0l-2.3 -0.7l-1.5 0l-0.2 -0.3l-5.3 0l-0.2 0.3l-1.5 0l-5 1.5l-5.3 2.5l-12.2 7.7l-3.3 1.8l-2.7 1l-2 -0.3l-2.8 -1l-6.2 -3.2l-4.5 -2.8l-5.5 -2.7l-5 -1.8l-2 -0.2l-0.3 -0.3l-2 0l-0.2 -0.2l-3.8 0l-0.2 0.2l-2.8 0.3l-3.5 1l-2.5 1.2l-0.5 0l-6.7 3.8l-8 5.2l-4.3 2.3l-0.5 0l-1.5 0.7l-1.7 0l-3 -1l-5 -2.5l-6.3 -3.7l-7.5 -3.5l-4.2 -1.3l-1.3 0l-0.2 -0.2l-3.5 0l-0.3 -0.3l-0.2 0.3l-2.5 0l-0.3 0.2l-1.2 0l-0.3 0.3l-1.7 0.2l-3.5 1.3l-6.8 3.5l-10.5 6.7l-3.5 1.8l-2.2 0.7l-3.8 -1l-5.5 -2.7l-6.2 -3.8l-6.3 -3l-3.7 -1.2l-2 -0.3l-0.3 -0.2l-1.2 0l-0.3 -0.3l-5.2 0l-0.3 0.3l-1.5 0l-6.2 2l-4.5 2.2l-11.8 7.5l-6 2.8l-1.2 0l-3 -1l-5.5 -2.8l-0.5 -0.5l-5.8 -3l-0.5 -0.5l-6.5 -3l-4.2 -1.2l-1 0l-0.3 -0.3l-5.5 -0.2l-0.2 0.2l-2.5 0.3l-3 1l-3 1.5l-5 3.2l-6.5 5l-5 3l-1.5 0.5l-6.3 0l-0.2 0.3l-1.3 0l-3.2 1l-4.8 2.7l-3.5 3l1.5 0l0.3 -0.2l4.5 0l0.2 -0.3l5.3 -0.2l0.2 -0.3l4 0l0.3 -0.2l10.7 -0.3l3.5 3.3l0.3 -0.3l14.5 0l0.2 -0.2l0.5 0.2l1.5 0l0.3 -0.2l0.2 0.2l0.3 -0.2l14.7 0l0.3 -0.3l8.5 0l0.2 -0.2l10.5 -0.3l0.3 -0.2l3.5 0l0.2 -0.3l3 0l0.3 -0.2l2.7 0l0.3 -0.3l40.2 -0.5l0.3 -0.2l6.5 0l0.2 -0.3l9.5 -0.2l0.3 -0.3l3.2 0l0.3 -0.2l3 0l0.2 -0.3l3.8 0l0.2 -0.2l21 0l0.3 -0.3l0.2 0.3l0.3 -0.3l19.5 -0.2l0.2 -0.3l5.8 0l0.2 -0.2l8.8 -0.3l0.2 -0.2l3 0l0.3 -0.3l3 0l0.2 -0.2l12.8 0l0.2 -0.3l0.3 0.3l0.2 -0.3l0.5 0.3l0.3 -0.3l0.2 0.3l0.3 -0.3l24.7 -0.2l0.3 -0.3l6.7 0l0.3 -0.2l9.7 -0.3l0.3 -0.2l3.2 0l0.3 -0.3l3.2 0l0.3 -0.2l4 0l0.2 -0.3l32.3 -0.2l0.2 -0.3l7.8 0l0.2 -0.2l11 -0.3l0.3 -0.2l3.7 0l0.3 -0.3l3.2 0l0.3 -0.2l3.2 0l0.3 -0.3l29.5 -0.2l0.2 -0.3l0.3 0.3l0.2 -0.3l9 0l0.3 -0.2l6.2 0l0.3 -0.3l0.2 0.3l0.3 -0.3l2.5 0z"/>
<path fill="#ff7d00" d="M561.4 45.6l-5.8 -8.2l-1.2 -1.5l-5.3 -5l-3 -1.8l-2.2 -0.7l-1.5 0l-1.8 -0.8l-3 -0.5l-0.2 -0.2l-3 0l-0.3 -0.3l-1 0l-0.2 0.3l-3.8 0.2l-5.5 1.8l-6.2 3.2l-10.5 6.8l-5.3 2.5l-2.5 0l-2.7 -1l-6.3 -3.3l-4 -2.5l-6 -3l-0.5 0l-1.2 -0.7l-2.3 -0.8l-0.7 0l-2.3 -0.7l-1.5 0l-0.2 -0.3l-5.3 0l-0.2 0.3l-1.5 0l-5 1.5l-5.3 2.5l-12.2 7.7l-3.3 1.8l-2.7 1l-2 -0.3l-2.8 -1l-6.2 -3.2l-4.5 -2.8l-5.5 -2.7l-5 -1.8l-2 -0.2l-0.3 -0.3l-2 0l-0.2 -0.2l-3.8 0l-0.2 0.2l-2.8 0.3l-3.5 1l-2.5 1.2l-0.5 0l-6.7 3.8l-8 5.2l-4.3 2.3l-0.5 0l-1.5 0.7l-1.7 0l-3 -1l-5 -2.5l-6.3 -3.7l-7.5 -3.5l-4.2 -1.3l-1.3 0l-0.2 -0.2l-3.5 0l-0.3 -0.3l-0.2 0.3l-2.5 0l-0.3 0.2l-1.2 0l-0.3 0.3l-1.7 0.2l-3.5 1.3l-6.8 3.5l-10.5 6.7l-3.5 1.8l-2.2 0.7l-3.8 -1l-5.5 -2.7l-6.2 -3.8l-6.3 -3l-3.7 -1.2l-2 -0.3l-0.3 -0.2l-1.2 0l-0.3 -0.3l-5.2 0l-0.3 0.3l-1.5 0l-6.2 2l-4.5 2.2l-11.8 7.5l-6 2.8l-1.2 0l-3 -1l-5.5 -2.8l-0.5 -0.5l-5.8 -3l-0.5 -0.5l-6.5 -3l-4.2 -1.2l-1 0l-0.3 -0.3l-5.5 -0.2l-0.2 0.2l-2.5 0.3l-3 1l-3 1.5l-5 3.2l-6.5 5l-5 3l-1.5 0.5l-6.3 0l-0.2 0.3l-2.3 0.2l-4.2 1.8l-2.8 1.7l-2 1.8l4.3 0l0.2 -0.3l2.5 0l0.3 -0.2l5 -0.3l0.2 -0.2l11.5 -0.5l3.8 3.2l0.2 -0.2l6.3 0l0.2 -0.3l0.5 0.3l0.3 -0.3l24.5 0l0.2 -0.2l0.8 0.2l0.2 -0.2l7.8 0l0.2 -0.3l10.5 -0.2l0.3 -0.3l3.5 0l0.2 -0.2l3 0l0.3 -0.3l2.5 0l0.2 -0.2l40.5 -0.5l0.3 -0.3l6.7 0l0.3 -0.2l9.5 -0.3l0.2 -0.2l3.3 0l0.2 -0.3l2.8 0l0.2 -0.2l2.8 0l0.2 -0.3l21 0l0.3 -0.2l21.2 -0.3l0.3 -0.2l5.5 0l0.2 -0.3l0.3 0.3l0.2 -0.3l8.3 -0.2l0.2 -0.3l3 0l0.3 -0.2l2.7 0l0.3 -0.3l39.7 -0.5l0.3 -0.2l7 0l0.2 -0.3l9.8 -0.2l0.2 -0.3l3.3 0l0.2 -0.2l6 -0.3l0.3 -0.2l34 -0.3l0.2 -0.2l7.5 0l0.3 -0.3l11 -0.2l0.2 -0.3l3.8 0l0.2 -0.2l6 -0.3l0.3 -0.2l40 -0.5l0.2 -0.3l10 -0.2z"/>
<path fill="#ff6f00" d="M562.4 47.4l-4.5 -7l-3.5 -4.5l-5.3 -5l-3 -1.8l-2.2 -0.7l-1.5 0l-1.8 -0.8l-3 -0.5l-0.2 -0.2l-3 0l-0.3 -0.3l-1 0l-0.2 0.3l-3.8 0.2l-5.5 1.8l-6.2 3.2l-10.5 6.8l-5.3 2.5l-2.5 0l-2.7 -1l-6.3 -3.3l-4 -2.5l-6 -3l-0.5 0l-1.2 -0.7l-2.3 -0.8l-0.7 0l-2.3 -0.7l-1.5 0l-0.2 -0.3l-5.3 0l-0.2 0.3l-1.5 0l-5 1.5l-5.3 2.5l-12.2 7.7l-3.3 1.8l-2.7 1l-2 -0.3l-2.8 -1l-6.2 -3.2l-4.5 -2.8l-5.5 -2.7l-5 -1.8l-2 -0.2l-0.3 -0.3l-2 0l-0.2 -0.2l-3.8 0l-0.2 0.2l-2.8 0.3l-3.5 1l-2.5 1.2l-0.5 0l-6.7 3.8l-8 5.2l-4.3 2.3l-0.5 0l-1.5 0.7l-1.7 0l-3 -1l-5 -2.5l-6.3 -3.7l-7.5 -3.5l-4.2 -1.3l-1.3 0l-0.2 -0.2l-3.5 0l-0.3 -0.3l-0.2 0.3l-2.5 0l-0.3 0.2l-1.2 0l-0.3 0.3l-1.7 0.2l-3.5 1.3l-6.8 3.5l-10.5 6.7l-3.5 1.8l-2.2 0.7l-3.8 -1l-5.5 -2.7l-6.2 -3.8l-6.3 -3l-3.7 -1.2l-2 -0.3l-0.3 -0.2l-1.2 0l-0.3 -0.3l-5.2 0l-0.3 0.3l-1.5 0l-6.2 2l-4.5 2.2l-11.8 7.5l-6 2.8l-1.2 0l-3 -1l-5.5 -2.8l-0.5 -0.5l-5.8 -3l-0.5 -0.5l-6.5 -3l-4.2 -1.2l-1 0l-0.3 -0.3l-5.5 -0.2l-0.2 0.2l-2.5 0.3l-3 1l-3 1.5l-5 3.2l-6.5 5l-5 3l-1.5 0.5l-6.3 0l-0.2 0.3l-2.3 0.2l-4.2 1.8l-3.5 2.5l1 0l0.2 -0.3l4.3 0l0.2 -0.2l4.3 -0.3l0.2 -0.2l2.8 0l0.2 -0.3l8 -0.2l2.5 1.7l1.3 1.3l0.2 -0.3l2.5 0l0.3 -0.2l28.2 0l0.3 -0.3l0.7 0l0.3 0.3l0.2 -0.3l8.3 0l0.2 -0.2l10.5 -0.3l0.3 -0.2l3.5 0l0.2 -0.3l2.8 0l0.2 -0.2l2.5 0l0.3 -0.3l3.2 0l0.3 -0.2l26.5 0l0.2 -0.3l10.3 0l0.2 -0.2l0.3 0.2l0.2 -0.2l6.8 0l0.2 -0.3l9.5 -0.2l0.3 -0.3l3 0l0.2 -0.2l2.5 0l0.3 -0.3l2.5 0l0.2 -0.2l18.5 0l0.3 -0.3l0.2 0.3l0.5 -0.3l0.8 0.3l0.2 -0.3l13.8 0l0.2 -0.2l0.5 0.2l0.3 -0.2l7.5 0l0.2 -0.3l0.3 0.3l0.2 -0.3l10.8 -0.2l0.2 -0.3l3.3 0l0.2 -0.2l2.8 0l0.2 -0.3l2.5 0l0.3 -0.2l3.7 0l0.3 -0.3l25.2 0l0.3 -0.2l0.5 0.2l0.2 -0.2l10 0l0.3 -0.3l0.2 0.3l0.3 -0.3l6.7 0l0.3 -0.2l9.5 -0.3l0.2 -0.2l3 0l0.3 -0.3l2.7 0l0.3 -0.2l2.7 0l0.3 -0.3l33.7 -0.2l0.3 -0.3l8.2 0l0.3 -0.2l11 -0.3l0.2 -0.2l3.8 0l0.2 -0.3l3 0l0.3 -0.2l2.5 0l0.2 -0.3l4.3 0l0.2 -0.2l0.5 0.2l0.3 -0.2l0.2 0.2l0.3 -0.2l23.5 0l0.2 -0.3l17.5 -0.2l0.3 -0.3l4 0z"/>
<path fill="#ff6000" d="M561.6 46.1l-6 -8.7l-1.2 -1.5l-5.3 -5l-3 -1.8l-2.2 -0.7l-1.5 0l-1.8 -0.8l-3 -0.5l-0.2 -0.2l-3 0l-0.3 -0.3l-1 0l-0.2 0.3l-3.8 0.2l-5.5 1.8l-6.2 3.2l-10.5 6.8l-5.3 2.5l-2.5 0l-2.7 -1l-6.3 -3.3l-4 -2.5l-6 -3l-0.5 0l-1.2 -0.7l-2.3 -0.8l-0.7 0l-2.3 -0.7l-1.5 0l-0.2 -0.3l-5.3 0l-0.2 0.3l-1.5 0l-5 1.5l-5.3 2.5l-12.2 7.7l-3.3 1.8l-2.7 1l-2 -0.3l-2.8 -1l-6.2 -3.2l-4.5 -2.8l-5.5 -2.7l-5 -1.8l-2 -0.2l-0.3 -0.3l-2 0l-0.2 -0.2l-3.8 0l-0.2 0.2l-2.8 0.3l-3.5 1l-2.5 1.2l-0.5 0l-6.7 3.8l-8 5.2l-4.3 2.3l-0.5 0l-1.5 0.7l-1.7 0l-3 -1l-5 -2.5l-6.3 -3.7l-7.5 -3.5l-4.2 -1.3l-1.3 0l-0.2 -0.2l-3.5 0l-0.3 -0.3l-0.2 0.3l-2.5 0l-0.3 0.2l-1.2 0l-0.3 0.3l-1.7 0.2l-3.5 1.3l-6.8 3.5l-10.5 6.7l-3.5 1.8l-2.2 0.7l-3.8 -1l-5.5 -2.7l-6.2 -3.8l-6.3 -3l-3.7 -1.2l-2 -0.3l-0.3 -0.2l-1.2 0l-0.3 -0.3l-5.2 0l-0.3 0.3l-1.5 0l-6.2 2l-4.5 2.2l-11.8 7.5l-6 2.8l-1.2 0l-3 -1l-5.5 -2.8l-0.5 -0.5l-5.8 -3l-0.5 -0.5l-6.5 -3l-4.2 -1.2l-1 0l-0.3 -0.3l-5.5 -0.2l-0.2 0.2l-2.5 0.3l-3 1l-3 1.5l-5 3.2l-6.5 5l-5 3l-1.5 0.5l-6.3 0l-0.2 0.3l-1.3 0l-3.2 1l-3.8 2.2l4 0l0.3 -0.2l1.7 0l0.3 -0.3l1.5 0l0.2 -0.2l5.3 -0.3l0.2 -0.2l4.5 0l3.5 2.5l0.8 0l0.2 -0.3l30 0l0.3 -0.2l0.5 0.2l0.2 -0.2l9.3 0l0.2 -0.3l0.3 0.3l0.2 -0.3l5.5 0l0.3 -0.2l8.2 -0.3l0.3 -0.2l2.5 0l0.2 -0.3l4.5 -0.2l0.3 -0.3l26.2 0l0.3 -0.2l0.7 0.2l0.3 -0.2l11.2 0l0.3 -0.3l7 0l0.2 -0.2l9.5 -0.3l0.3 -0.2l3 0l0.2 -0.3l2.3 0l0.2 -0.2l2 0l0.3 -0.3l34.7 -0.2l0.3 -0.3l0.2 0.3l0.3 -0.3l8.2 0l0.3 -0.2l0.2 0.2l0.3 -0.2l5.7 0l0.3 -0.3l8.2 -0.2l0.3 -0.3l2.5 0l0.2 -0.2l5 -0.3l0.3 -0.2l26 0l0.2 -0.3l0.5 0.3l0.3 -0.3l10.7 0l0.3 -0.2l7 0l0.2 -0.3l10 -0.2l0.3 -0.3l2.7 0l0.3 -0.2l2.5 0l0.2 -0.3l2.3 0l0.2 -0.2l34 -0.3l0.3 -0.2l0.2 0.2l0.3 -0.2l8.2 0l0.3 -0.3l0.2 0.3l0.3 -0.3l5.7 0l0.3 -0.2l8.5 -0.3l0.2 -0.2l2.8 0l0.2 -0.3l2.5 0l0.3 -0.2l2.5 0l0.2 -0.3l25 0l0.3 -0.2l0.2 0.2l0.5 -0.2l0.5 0.2l0.3 -0.2l18 -0.3l0.2 -0.2l4.5 0z"/>
<path fill="#ff5100" d="M560.9 44.9l-3 -4.5l-3.5 -4.5l-4.3 -4.3l-2.5 -1.7l-3.7 -1.5l-1.5 0l-3.8 -1.3l-5.5 -0.5l-0.2 0.3l-3.8 0.2l-5.5 1.8l-6.2 3.2l-10.5 6.8l-5.3 2.5l-2.5 0l-2.7 -1l-6.3 -3.3l-4 -2.5l-6 -3l-0.5 0l-1.2 -0.7l-2.3 -0.8l-0.7 0l-2.3 -0.7l-1.5 0l-0.2 -0.3l-5.3 0l-0.2 0.3l-1.5 0l-5 1.5l-5.3 2.5l-12.2 7.7l-3.3 1.8l-2.7 1l-2 -0.3l-2.8 -1l-6.2 -3.2l-4.5 -2.8l-5.5 -2.7l-5 -1.8l-2 -0.2l-0.3 -0.3l-2 0l-0.2 -0.2l-3.8 0l-0.2 0.2l-2.8 0.3l-3.5 1l-2.5 1.2l-0.5 0l-6.7 3.8l-8 5.2l-4.3 2.3l-0.5 0l-1.5 0.7l-1.7 0l-3 -1l-5 -2.5l-6.3 -3.7l-7.5 -3.5l-4.2 -1.3l-1.3 0l-0.2 -0.2l-3.5 0l-0.3 -0.3l-0.2 0.3l-2.5 0l-0.3 0.2l-1.2 0l-0.3 0.3l-1.7 0.2l-3.5 1.3l-6.8 3.5l-10.5 6.7l-3.5 1.8l-2.2 0.7l-3.8 -1l-5.5 -2.7l-6.2 -3.8l-6.3 -3l-3.7 -1.2l-2 -0.3l-0.3 -0.2l-1.2 0l-0.3 -0.3l-5.2 0l-0.3 0.3l-1.5 0l-6.2 2l-4.5 2.2l-11.8 7.5l-6 2.8l-1.2 0l-3 -1l-5.5 -2.8l-0.5 -0.5l-5.8 -3l-0.5 -0.5l-6.5 -3l-4.2 -1.2l-1 0l-0.3 -0.3l-5.5 -0.2l-0.2 0.2l-2.5 0.3l-3 1l-3 1.5l-5 3.2l-6.5 5l-5 3l-1.5 0.5l-6.3 0l-0.2 0.3l-1.3 0l-3.2 1l-2 1l0 0.2l0.7 0l0.3 -0.2l4 0l1.5 -0.5l3.7 -0.3l0.3 -0.2l3.7 0l3.8 2.2l0.2 -0.2l30.5 0l0.3 -0.3l10.7 0l0.3 -0.2l6 0l0.2 -0.3l8 -0.2l0.3 -0.3l4.5 -0.2l0.2 -0.3l1.5 0l0.3 -0.2l25.7 0l0.3 -0.3l0.2 0.3l0.3 -0.3l0.5 0.3l0.2 -0.3l20 -0.2l0.3 -0.3l5.2 0l0.3 -0.2l7 -0.3l0.2 -0.2l2 0l0.3 -0.3l4 -0.2l0.2 -0.3l32.8 0l0.2 -0.2l9 0l0.3 -0.3l6.5 0l0.2 -0.2l8 -0.3l0.3 -0.2l2.5 0l0.2 -0.3l2 0l0.3 -0.2l1.7 0l0.3 -0.3l38.5 -0.2l0.2 -0.3l7.8 0l0.2 -0.2l9.5 -0.3l0.3 -0.2l3 0l0.2 -0.3l2.3 0l0.2 -0.2l4.8 -0.3l0.2 -0.2l31.8 0l0.2 -0.3l8.8 0l0.2 -0.2l11.3 -0.3l0.2 -0.2l3.5 0l0.3 -0.3l2.5 0l0.2 -0.2l2 0l0.3 -0.3l2 0l0.2 -0.2l24.3 0l0.2 -0.3l0.5 0.3l0.3 -0.3l12.5 0l0.2 -0.2l0.8 0.2l0.2 -0.2l12.3 -0.3z"/>
<path fill="#ff4200" d="M559.9 43.4l-5.5 -7.5l-4.3 -4.3l-2.5 -1.7l-3.7 -1.5l-1.5 0l-3.8 -1.3l-5.5 -0.5l-0.2 0.3l-3.8 0.2l-5.5 1.8l-6.2 3.2l-10.5 6.8l-5.3 2.5l-2.5 0l-2.7 -1l-6.3 -3.3l-4 -2.5l-6 -3l-0.5 0l-1.2 -0.7l-2.3 -0.8l-0.7 0l-2.3 -0.7l-1.5 0l-0.2 -0.3l-5.3 0l-0.2 0.3l-1.5 0l-5 1.5l-5.3 2.5l-12.2 7.7l-3.3 1.8l-2.7 1l-2 -0.3l-2.8 -1l-6.2 -3.2l-4.5 -2.8l-5.5 -2.7l-5 -1.8l-2 -0.2l-0.3 -0.3l-2 0l-0.2 -0.2l-3.8 0l-0.2 0.2l-2.8 0.3l-3.5 1l-2.5 1.2l-0.5 0l-6.7 3.8l-8 5.2l-4.3 2.3l-0.5 0l-1.5 0.7l-1.7 0l-3 -1l-5 -2.5l-6.3 -3.7l-7.5 -3.5l-4.2 -1.3l-1.3 0l-0.2 -0.2l-3.5 0l-0.3 -0.3l-0.2 0.3l-2.5 0l-0.3 0.2l-1.2 0l-0.3 0.3l-1.7 0.2l-3.5 1.3l-6.8 3.5l-10.5 6.7l-3.5 1.8l-2.2 0.7l-3.8 -1l-5.5 -2.7l-6.2 -3.8l-6.3 -3l-3.7 -1.2l-2 -0.3l-0.3 -0.2l-1.2 0l-0.3 -0.3l-5.2 0l-0.3 0.3l-1.5 0l-6.2 2l-4.5 2.2l-11.8 7.5l-6 2.8l-1.2 0l-3 -1l-5.5 -2.8l-0.5 -0.5l-5.8 -3l-0.5 -0.5l-6.5 -3l-4.2 -1.2l-1 0l-0.3 -0.3l-5.5 -0.2l-0.2 0.2l-2.5 0.3l-3 1l-3 1.5l-5 3.2l-6.5 5l-5 3l-1.5 0.5l-6.3 0l-0.2 0.3l-2.3 0.2l-2 0.8l4.3 0l2 -0.8l2.5 -0.2l3.2 1l1.3 0.7l2.2 0l0.3 -0.2l10.2 0l0.3 0.2l0.2 -0.2l0.3 0.2l0.2 -0.2l0.3 0.2l28.5 -0.2l0.2 -0.3l6.3 0l0.2 -0.2l8 -0.3l0.3 -0.2l2.2 0l0.3 -0.3l1.5 0l0.2 -0.2l3 -0.3l0.3 -0.2l6 0l0.2 0.2l1 0l0.3 -0.2l0.7 0l0.3 0.2l1 0l0.2 -0.2l0.3 0.2l10 0l0.2 -0.2l0.3 0.2l0.2 -0.2l0.5 0.2l0.5 -0.2l0.3 0.2l0.2 -0.2l15.5 0l0.3 -0.3l0.2 0.3l0.3 -0.3l7.5 0l0.2 -0.2l9.8 -0.3l0.2 -0.2l2.8 0l0.2 -0.3l3.5 -0.2l1.8 -0.5l32.7 0l0.3 -0.3l0.5 0.3l0.2 -0.3l10 0l0.3 -0.2l6 0l0.2 -0.3l8 -0.2l0.3 -0.3l4.2 -0.2l1.8 -0.5l22 0l0.2 -0.3l0.8 0.3l0.2 -0.3l24.5 -0.2l0.3 -0.3l5 0l0.2 -0.2l7.3 -0.3l0.2 -0.2l2 0l0.3 -0.3l1.5 0l0.2 -0.2l1.5 0l0.3 -0.3l32 0l0.2 -0.2l0.5 0.2l0.3 -0.2l9.7 0l0.3 -0.3l6.2 0l0.3 -0.2l8.2 -0.3l0.3 -0.2l2.5 0l0.2 -0.3l1.8 0l0.2 -0.2l1.5 0l0.3 -0.3l39.2 -0.2l0.3 -0.3l13 -0.2z"/>
<path fill="#ff3400" d="M559.1 42.4l-4.7 -6.5l-4.3 -4.3l-2.5 -1.7l-3.7 -1.5l-1.5 0l-3.8 -1.3l-5.5 -0.5l-0.2 0.3l-3.8 0.2l-5.5 1.8l-6.2 3.2l-10.5 6.8l-5.3 2.5l-2.5 0l-2.7 -1l-6.3 -3.3l-4 -2.5l-6 -3l-0.5 0l-1.2 -0.7l-2.3 -0.8l-0.7 0l-2.3 -0.7l-1.5 0l-0.2 -0.3l-5.3 0l-0.2 0.3l-1.5 0l-5 1.5l-5.3 2.5l-12.2 7.7l-3.3 1.8l-2.7 1l-2 -0.3l-2.8 -1l-6.2 -3.2l-4.5 -2.8l-5.5 -2.7l-5 -1.8l-2 -0.2l-0.3 -0.3l-2 0l-0.2 -0.2l-3.8 0l-0.2 0.2l-2.8 0.3l-3.5 1l-2.5 1.2l-0.5 0l-6.7 3.8l-8 5.2l-4.3 2.3l-0.5 0l-1.5 0.7l-1.7 0l-3 -1l-5 -2.5l-6.3 -3.7l-7.5 -3.5l-4.2 -1.3l-1.3 0l-0.2 -0.2l-3.5 0l-0.3 -0.3l-0.2 0.3l-2.5 0l-0.3 0.2l-1.2 0l-0.3 0.3l-1.7 0.2l-3.5 1.3l-6.8 3.5l-10.5 6.7l-3.5 1.8l-2.2 0.7l-3.8 -1l-5.5 -2.7l-6.2 -3.8l-6.3 -3l-3.7 -1.2l-2 -0.3l-0.3 -0.2l-1.2 0l-0.3 -0.3l-5.2 0l-0.3 0.3l-1.5 0l-6.2 2l-4.5 2.2l-11.8 7.5l-6 2.8l-1.2 0l-3 -1l-5.5 -2.8l-0.5 -0.5l-5.8 -3l-0.5 -0.5l-6.5 -3l-4.2 -1.2l-1 0l-0.3 -0.3l-5.5 -0.2l-0.2 0.2l-2.5 0.3l-3 1l-3 1.5l-5 3.2l-6.5 5l-5 3l-1.5 0.5l-6.3 0l-0.2 0.3l-1 0l5.5 0l1.2 0.5l0.5 -0.3l43.5 0l0.3 -0.2l6.5 0l0.2 -0.3l8 -0.2l0.3 -0.3l3.7 -0.2l1.8 -0.8l39.7 0l0.3 -0.2l13.7 -0.3l0.3 -0.2l4 0l0.2 -0.3l4.5 -0.2l3.5 -1l3.3 0l0.2 0.2l27.5 0l0.3 -0.2l1.2 0l0.3 0.2l0.2 -0.2l10.3 0l0.2 -0.3l7 0l0.3 -0.2l7.7 -0.3l0.3 -0.2l4 -0.3l2.2 -0.7l38.8 0l0.2 -0.3l8.5 0l0.3 -0.2l9.2 -0.3l0.3 -0.2l5 -0.3l0.2 -0.2l1.3 0l1.2 -0.5l31.8 0l0.2 -0.3l0.8 0.3l0.2 -0.3l11 0l0.3 -0.2l6.2 0l0.3 -0.3l8.2 -0.2l0.3 -0.3l4.2 -0.2l0.3 -0.3l1 0l1.5 -0.5l37.5 0l0.2 -0.2l0.3 0.2l0.2 -0.2l8.3 0l0.2 -0.3l5.5 0z"/>
<path fill="#ff2500" d="M182.4 52.1l7 0l0.2 0.3l31.5 0l0.3 -0.3l12 -0.2l0.2 -0.3l5.3 -0.2l0.2 -0.3l1.8 -0.2l-1.5 0l-3 -1l-5.5 -2.8l-0.5 -0.5l-5.8 -3l-0.5 -0.5l-6.5 -3l-4.2 -1.2l-1 0l-0.3 -0.3l-5.5 -0.2l-0.2 0.2l-2.5 0.3l-3 1l-3 1.5l-5 3.2l-6.5 5zM242.4 50.1l6.5 0l0.2 0.3l0.3 -0.3l0.2 0.3l31.5 0l0.3 -0.3l9 0l0.2 -0.2l0.3 0.2l0.2 -0.2l9.3 -0.3l0.2 -0.2l4.3 -0.3l1.5 -0.5l-0.5 -0.2l-1 0.2l-3.3 -1l-5.5 -2.7l-6.2 -3.8l-4.5 -2.2l-0.5 0l-3.3 -1.5l-0.7 0l-1 -0.5l-2 -0.3l-0.3 -0.2l-1.2 0l-0.3 -0.3l-5.2 0l-0.3 0.3l-1.5 0l-0.2 0.2l-1.8 0.3l-4.2 1.5l-4.5 2.2l-11.8 7.5zM558.4 41.1l-4 -5.2l-4.3 -4.3l-2.5 -1.7l-3.7 -1.5l-1.5 0l-3.8 -1.3l-5.5 -0.5l-0.2 0.3l-3.8 0.2l-5.5 1.8l-6.2 3.2l-10.5 6.8l-5.3 2.5l-2.5 0l-2.7 -1l-6.3 -3.3l-4 -2.5l-7.7 -3.7l-5.3 -1.5l-1.5 0l-0.2 -0.3l-5.3 0l-0.2 0.3l-1.5 0l-0.3 0.2l-1.7 0.3l-4.8 1.7l-3.5 1.8l-14 8.7l-4.2 1.8l-2 -0.3l-2.8 -1l-6.2 -3.2l-4.5 -2.8l-5.5 -2.7l-2.5 -0.8l-0.8 -0.5l-0.7 0l-1 -0.5l-2 -0.2l-0.3 -0.3l-6 -0.2l-0.2 0.2l-1.5 0l-0.3 0.3l-3 0.5l-2.7 1l-1.3 0.7l-0.5 0l-6.7 3.8l-8 5.2l-4.3 2.3l-0.5 0l-1.5 0.7l-1.7 0l-3 -1l-5 -2.5l-6.3 -3.7l-7.5 -3.5l-4.2 -1.3l-5 -0.2l-0.3 -0.3l-0.2 0.3l-4 0.2l-5.5 1.8l-6.8 3.5l-10.5 6.7l-3.5 1.8l-0.5 0l1.8 0l0.2 0.2l11.8 0l0.2 0.3l0.3 -0.3l0.7 0.3l0.5 -0.3l0.3 0.3l28.7 -0.3l0.3 -0.2l7 0l0.2 -0.3l4.8 0l0.2 -0.2l5.3 -0.3l0.2 -0.2l2 -0.3l0.3 -0.2l-0.5 0l-0.3 -0.3l0.3 -0.2l6 0l0.2 0.2l33.8 0l0.2 -0.2l9.5 0l0.3 -0.3l9.5 -0.2l0.2 -0.3l2.5 0l0.3 -0.2l3 -0.3l0.5 -0.2l-0.3 -0.3l0.3 -0.2l12.2 0l0.3 0.2l0.5 -0.2l0.5 0.2l17 0l0.2 -0.2l0.5 0.2l0.3 -0.2l0.2 0.2l0.3 -0.2l20 -0.3l0.2 -0.2l4.5 0l0.3 -0.3l5.7 -0.2l0.3 -0.3l2.2 -0.2l0.5 -0.8l2 0l0.3 0.3l36.2 0l0.8 -0.3l0.2 0.3l0.3 -0.3l8.2 0l0.3 -0.2l0.2 0.2l0.3 -0.2l5.5 0l0.2 -0.3z"/>
<path fill="#ff1600" d="M184.6 50.6l0.8 0.3l7.5 0l0.2 0.2l26 0l0.3 -0.2l7.5 0l0.2 -0.3l4.5 0l0.3 -0.2l5.2 -0.3l-6.2 -3l-0.5 -0.5l-5.8 -3l-0.5 -0.5l-6.5 -3l-4.2 -1.2l-1 0l-0.3 -0.3l-5.5 -0.2l-0.2 0.2l-2.5 0.3l-3 1l-3 1.5l-5 3.2l-6.5 5zM245.4 48.6l0.7 0.3l8.3 0l0.2 0.2l23.8 0l0.2 -0.2l0.8 0.2l0.2 -0.2l15 -0.3l0.3 -0.2l4 0l0.2 -0.3l3.8 -0.2l-1.3 -0.3l-5.5 -2.7l-6.2 -3.8l-4.5 -2.2l-0.5 0l-3.3 -1.5l-0.7 0l-1 -0.5l-2 -0.3l-0.3 -0.2l-1.2 0l-0.3 -0.3l-5.2 0l-0.3 0.3l-1.5 0l-0.2 0.2l-1.8 0.3l-4.2 1.5l-4.5 2.2l-10.5 6.8zM309.9 46.6l3.2 0l0.3 0.3l0.2 -0.3l0.3 0.3l36.2 0l0.3 -0.3l11.7 -0.2l0.3 -0.3l3.2 0l0.3 -0.2l1.7 0l0.5 -0.3l-1.7 -0.5l-5 -2.5l-4 -2.5l-7.3 -3.7l-6.7 -2.3l-5 -0.2l-0.3 -0.3l-0.2 0.3l-4 0.2l-5.5 1.8l-6.8 3.5l-8 5.2zM374.9 44.4l0.2 0.2l8 0l0.3 0.3l25.7 0l0.3 -0.3l0.2 0.3l0.3 -0.3l15.5 -0.2l0.2 -0.3l3.8 0l0.2 -0.2l4.3 -0.3l-2.8 -1l-4 -2l-0.5 -0.5l-1.7 -0.7l-4.5 -2.8l-6.8 -3.2l-6 -1.8l-6 -0.2l-0.2 0.2l-1.5 0l-0.3 0.3l-3 0.5l-2.7 1l-1.3 0.7l-0.5 0l-4.2 2.3l-9.3 6zM439.4 42.4l3 0l0.2 0.2l19.3 0l0.2 0.3l0.5 -0.3l18 0l0.3 -0.2l11.7 -0.3l0.3 -0.2l3.2 0l0.3 -0.3l3.5 -0.2l-0.8 0l-2.7 -1l-6.3 -3.3l-4 -2.5l-7.7 -3.7l-5.3 -1.5l-1.5 0l-0.2 -0.3l-5.3 0l-0.2 0.3l-1.5 0l-0.3 0.2l-1.7 0.3l-4.8 1.7l-3.5 1.8l-9.7 6.2zM557.4 39.9l-3 -4l-4.3 -4.3l-2.5 -1.7l-3.7 -1.5l-1.5 0l-3.8 -1.3l-5.5 -0.5l-0.2 0.3l-3.8 0.2l-5.5 1.8l-6.2 3.2l-8 5.3l-5.3 2.7l0 0.3l7.5 0l0.3 0.2l27.5 0l0.2 -0.2l0.3 0.2l0.2 -0.2l9.5 0l0.3 -0.3l5.5 0l0.2 -0.2z"/>
<path fill="#ff0700" d="M186.6 49.4l1.3 0l0.2 0.2l8.3 0l0.2 0.3l19.8 0l0.2 -0.3l13.5 -0.2l0.3 -0.3l3 0l0.2 -0.2l1 0l-3.7 -1.8l-0.5 -0.5l-5.8 -3l-0.5 -0.5l-6.5 -3l-4.2 -1.2l-1 0l-0.3 -0.3l-5.5 -0.2l-0.2 0.2l-2.5 0.3l-3 1l-3 1.5l-5 3.2zM247.6 47.4l1.3 0l0.2 0.2l9.8 0l0.2 0.3l0.3 -0.3l0.5 0.3l14.5 0l0.2 -0.3l0.3 0.3l0.2 -0.3l0.3 0.3l0.2 -0.3l17.3 -0.2l0.2 -0.3l6.8 -0.2l0 -0.3l-3.8 -1.7l-6.2 -3.8l-4.5 -2.2l-0.5 0l-3.3 -1.5l-0.7 0l-1 -0.5l-2 -0.3l-0.3 -0.2l-1.2 0l-0.3 -0.3l-5.2 0l-0.3 0.3l-1.5 0l-0.2 0.2l-1.8 0.3l-4.2 1.5l-4.5 2.2zM312.1 45.4l5 0l0.3 0.2l30 0l0.2 -0.2l0.3 0.2l0.2 -0.2l7.5 0l0.3 -0.3l4.7 0l0.3 -0.2l4.7 -0.3l-4.2 -2l-4 -2.5l-7.3 -3.7l-6.7 -2.3l-5 -0.2l-0.3 -0.3l-0.2 0.3l-4 0.2l-5.5 1.8l-6.8 3.5l-1.2 1zM377.1 43.1l1.3 0l0.2 0.3l9.8 0l0.2 0.2l16.8 0l0.2 -0.2l0.8 0.2l0.2 -0.2l17 -0.3l0.3 -0.2l4 0l0.2 -0.3l2.3 0l0.5 -0.2l-3.8 -1.8l-0.5 -0.5l-1.7 -0.7l-4.5 -2.8l-6.8 -3.2l-6 -1.8l-6 -0.2l-0.2 0.2l-1.5 0l-0.3 0.3l-3 0.5l-2.7 1l-1.3 0.7l-0.5 0l-4.2 2.3zM441.6 41.1l5 0l0.3 0.3l31 0l0.2 -0.3l0.3 0.3l0.2 -0.3l7.5 0l0.3 -0.2l4.7 0l0.3 -0.3l5.2 -0.2l-4.2 -2l-6.3 -3.8l-7.7 -3.7l-5.3 -1.5l-1.5 0l-0.2 -0.3l-5.3 0l-0.2 0.3l-1.5 0l-0.3 0.2l-1.7 0.3l-4.8 1.7l-3.5 1.8zM556.4 38.4l-2 -2.5l-4.3 -4.3l-2.5 -1.7l-3.7 -1.5l-1.5 0l-3.8 -1.3l-5.5 -0.5l-0.2 0.3l-3.8 0.2l-5.5 1.8l-6.2 3.2l-8 5.3l-2.8 1.5l1 0l0.3 0.2l9.2 0l0.3 0.3l19.5 0l0.2 -0.3l17 -0.2l0.3 -0.3l2 0z"/>
<path fill="#f70000" d="M188.1 48.1l2.5 0l0.3 0.3l10.2 0l0.3 0.2l11.2 0l0.3 -0.2l0.5 0.2l0.2 -0.2l15 -0.3l0.3 -0.2l2.7 0l0.5 -0.3l-7.5 -4l-0.5 -0.5l-6.5 -3l-4.2 -1.2l-1 0l-0.3 -0.3l-5.5 -0.2l-0.2 0.2l-2.5 0.3l-3 1l-3 1.5zM249.6 46.1l2.8 0l0.2 0.3l32.3 0l0.2 -0.3l6.3 0l0.2 -0.2l6.3 -0.3l-1.8 -0.7l-6.2 -3.8l-4.5 -2.2l-0.5 0l-3.3 -1.5l-0.7 0l-1 -0.5l-2 -0.3l-0.3 -0.2l-1.2 0l-0.3 -0.3l-5.2 0l-0.3 0.3l-1.5 0l-0.2 0.2l-1.8 0.3l-4.2 1.5l-4.5 2.2zM314.6 44.1l7 0l0.3 0.3l23.7 0l0.3 -0.3l13.2 -0.2l0.3 -0.3l3 0l0.7 -0.2l-1.7 -0.8l-6.3 -3.7l-7.5 -3.5l-4.2 -1.3l-5 -0.2l-0.3 -0.3l-0.2 0.3l-4 0.2l-5.5 1.8l-6.8 3.5l-6 4l-0.7 0.2zM379.1 41.9l2.5 0l0.3 0.2l13.7 0l0.3 0.3l0.2 -0.3l0.5 0.3l0.3 -0.3l0.2 0.3l0.3 -0.3l0.5 0.3l0.2 -0.3l1.8 0l0.2 0.3l0.3 -0.3l15.2 0l0.3 -0.2l6 0l0.2 -0.3l6.5 -0.2l-5.5 -3l-0.5 -0.5l-1.7 -0.8l-0.5 -0.5l-5.5 -2.7l-2.5 -0.8l-0.8 -0.5l-0.7 0l-1 -0.5l-2 -0.2l-0.3 -0.3l-6 -0.2l-0.2 0.2l-1.5 0l-0.3 0.3l-3 0.5l-2.7 1l-1.3 0.7l-0.5 0l-4.2 2.3zM443.9 39.9l6.7 0l0.3 0.2l24.7 0l0.3 -0.2l13.7 -0.3l0.3 -0.2l3 0l0.2 -0.3l1 0l-4 -2l-4 -2.5l-7.7 -3.7l-5.3 -1.5l-1.5 0l-0.2 -0.3l-5.3 0l-0.2 0.3l-1.5 0l-0.3 0.2l-1.7 0.3l-4.8 1.7l-3.5 1.8zM555.6 37.4l-5.5 -5.8l-4 -2.5l-2.2 -0.7l-1.5 0l-1.8 -0.8l-3 -0.5l-0.2 -0.2l-3 0l-0.3 -0.3l-1 0l-0.2 0.3l-3.8 0.2l-5.5 1.8l-6.2 3.2l-8 5.3l-0.8 0.2l2 0l0.3 0.3l13 0l0.2 0.2l1.5 0l0.3 -0.2l0.2 0.2l2 0l0.3 -0.2l1 0l0.2 0.2l0.8 -0.2l0.2 0.2l0.3 -0.2l0.2 0.2l0.5 -0.2l0.3 0.2l0.2 -0.2l13.8 0l0.2 -0.3z"/>
<path fill="#e70000" d="M189.9 46.9l3.2 0l0.3 0.2l28 0l0.2 -0.2l8.3 -0.3l0 -0.2l-5.3 -2.8l-0.5 -0.5l-6.5 -3l-4.2 -1.2l-1 0l-0.3 -0.3l-5.5 -0.2l-0.2 0.2l-2.5 0.3l-3 1l-3 1.5zM251.6 44.9l4 0l0.3 0.2l26.5 0l0.2 -0.2l7 0l0.3 -0.3l5.7 -0.2l-5.2 -2.8l-0.5 -0.5l-4.5 -2.2l-0.5 0l-3.3 -1.5l-0.7 0l-1 -0.5l-2 -0.3l-0.3 -0.2l-1.2 0l-0.3 -0.3l-5.2 0l-0.3 0.3l-1.5 0l-0.2 0.2l-1.8 0.3l-4.2 1.5l-4.5 2.2zM316.6 42.6l0.8 0.3l8 0l0.2 0.2l0.3 -0.2l0.5 0.2l15.7 0l0.3 -0.2l15 -0.3l0.2 -0.2l3 0l0.3 -0.3l-5.3 -2.7l-0.5 -0.5l-7.5 -3.5l-4.2 -1.3l-5 -0.2l-0.3 -0.3l-0.2 0.3l-4 0.2l-5.5 1.8l-6.8 3.5zM381.1 40.6l3.8 0l0.2 0.3l28.3 0l0.2 -0.3l6.5 0l0.3 -0.2l6.2 -0.3l-1.7 -0.7l-4.5 -2.8l-5.5 -2.7l-2.5 -0.8l-0.8 -0.5l-0.7 0l-1 -0.5l-2 -0.2l-0.3 -0.3l-6 -0.2l-0.2 0.2l-1.5 0l-0.3 0.3l-3 0.5l-2.7 1l-1.3 0.7l-0.5 0l-4.2 2.3zM446.1 38.4l0.5 0.2l8 0l0.3 0.3l17.7 0l0.3 -0.3l15 -0.2l0.2 -0.3l3 0l0.8 -0.2l-1.8 -0.8l-4 -2.5l-7.7 -3.7l-5.3 -1.5l-1.5 0l-0.2 -0.3l-5.3 0l-0.2 0.3l-1.5 0l-0.3 0.2l-1.7 0.3l-4.8 1.7l-3.5 1.8zM554.4 35.9l-4.3 -4.3l-4 -2.5l-2.2 -0.7l-1.5 0l-1.8 -0.8l-3 -0.5l-0.2 -0.2l-3 0l-0.3 -0.3l-1 0l-0.2 0.3l-3.8 0.2l-5.5 1.8l-6.2 3.2l-6.8 4.3l3.3 0l0.2 0.2l29.8 0l0.2 -0.2l10.3 -0.3z"/>
<path fill="#d70000" d="M191.6 45.6l4.3 0l0.2 0.3l23 0l0.3 -0.3l8.5 -0.2l-7.3 -4l-0.5 0l-1.2 -0.8l-3.5 -1.2l-3 -0.5l-0.3 -0.3l-5.5 -0.2l-0.2 0.2l-2.5 0.3l-3 1l-4.3 2.2zM253.6 43.6l5.5 0l0.3 0.3l20 0l0.2 -0.3l8 0l0.3 -0.2l4 0l0.2 -0.3l1.3 0l-8 -4.2l-0.5 0l-3.3 -1.5l-0.7 0l-1 -0.5l-2 -0.3l-0.3 -0.2l-1.2 0l-0.3 -0.3l-5.2 0l-0.3 0.3l-1.5 0l-0.2 0.2l-1.8 0.3l-4.2 1.5l-4.5 2.2zM318.6 41.4l1.5 0l0.3 0.2l29.5 0l0.2 -0.2l8.5 -0.3l0 -0.2l-3 -1.5l-0.5 -0.5l-7.5 -3.5l-4.2 -1.3l-5 -0.2l-0.3 -0.3l-0.2 0.3l-4 0.2l-4.3 1.3l-6.2 3zM383.1 39.4l5.3 0l0.2 0.2l22 0l0.3 -0.2l7.2 0l0.3 -0.3l4.2 0l0.3 -0.2l1.5 0l-9.5 -5l-2.5 -0.8l-0.8 -0.5l-0.7 0l-1 -0.5l-2 -0.2l-0.3 -0.3l-6 -0.2l-0.2 0.2l-1.5 0l-0.3 0.3l-3 0.5l-2.7 1l-1.3 0.7l-0.5 0l-4.2 2.3zM448.1 37.1l1 0l0.3 0.3l11.5 0l0.2 0.2l0.3 -0.2l0.7 0l0.3 0.2l0.5 -0.2l0.2 0.2l0.8 -0.2l0.2 0.2l0.5 -0.2l1.3 0.2l0.5 -0.2l0.2 0.2l0.3 -0.2l13.5 0l0.2 -0.3l5.3 0l0.2 -0.2l3.3 0l0.2 -0.3l-9.5 -5l-0.5 0l-1.2 -0.7l-2.3 -0.8l-0.7 0l-2.3 -0.7l-1.5 0l-0.2 -0.3l-5.3 0l-0.2 0.3l-1.5 0l-0.3 0.2l-1.7 0.3l-4.8 1.7l-3.5 1.8zM553.1 34.6l-3 -3l-4 -2.5l-2.2 -0.7l-1.5 0l-1.8 -0.8l-3 -0.5l-0.2 -0.2l-3 0l-0.3 -0.3l-1 0l-0.2 0.3l-3.8 0.2l-5.5 1.8l-4.5 2.2l-6.5 4l4.5 0l0.3 0.3l23.7 0l0.3 -0.3l11.7 -0.2z"/>
<path fill="#c70000" d="M193.4 44.4l5.5 0l0.2 0.2l17.3 0l0.2 -0.2l9.3 -0.3l-5.3 -2.7l-0.5 0l-1.2 -0.8l-3.5 -1.2l-3 -0.5l-0.3 -0.3l-5.5 -0.2l-0.2 0.2l-2.5 0.3l-3 1l-3 1.5zM255.9 42.1l0.2 0.3l8 0l0.3 0.2l0.2 -0.2l0.3 0.2l10 0l0.2 -0.2l0.3 0.2l0.2 -0.2l9.8 0l0.2 -0.3l4.3 0l0.2 -0.2l1 0l-5.7 -3l-5.5 -2l-2 -0.3l-0.3 -0.2l-1.2 0l-0.3 -0.3l-5.2 0l-0.3 0.3l-1.5 0l-0.2 0.2l-1.8 0.3l-3 1l-5.7 2.7zM320.6 40.1l2.8 0l0.2 0.3l23.5 0l0.3 -0.3l9.2 -0.2l-1.5 -1l-7.5 -3.5l-4.2 -1.3l-5 -0.2l-0.3 -0.3l-0.2 0.3l-4 0.2l-4.3 1.3l-6.2 3zM385.4 38.1l21.7 0.3l0.3 -0.3l8.7 0l0.3 -0.2l4.2 0l0.3 -0.3l1.2 0l-7.2 -3.7l-2.5 -0.8l-0.8 -0.5l-0.7 0l-1 -0.5l-2 -0.2l-0.3 -0.3l-6 -0.2l-0.2 0.2l-1.5 0l-0.3 0.3l-3 0.5l-2.7 1l-6 3l-2.5 1.5zM450.1 35.9l2.3 0l0.2 0.2l25.3 0l0.2 -0.2l9.3 -0.3l0 -0.2l-7.3 -3.8l-0.5 0l-1.2 -0.7l-2.3 -0.8l-0.7 0l-2.3 -0.7l-1.5 0l-0.2 -0.3l-5.3 0l-0.2 0.3l-1.5 0l-0.3 0.2l-1.7 0.3l-3 1l-5.3 2.5zM514.6 33.9l6.8 0l0.2 0.2l15.8 0l0.2 -0.2l0.3 0.2l0.2 -0.2l8.5 0l0.3 -0.3l4.5 0l0.5 -0.2l-2.8 -2.5l-3 -1.8l-2.2 -0.7l-1.5 0l-1.8 -0.8l-3 -0.5l-0.2 -0.2l-3 0l-0.3 -0.3l-1 0l-0.2 0.3l-3.8 0.2l-4.2 1.3l-5.8 2.7z"/>
<path fill="#b70000" d="M195.6 43.1l7.8 0l0.2 0.3l0.3 -0.3l0.2 0.3l7.3 0l0.2 -0.3l0.5 0.3l0.3 -0.3l11.2 -0.2l-4.7 -2.3l-3.5 -1.2l-3 -0.5l-0.3 -0.3l-5.5 -0.2l-0.2 0.2l-2.5 0.3l-3 1l-5 2.7zM258.1 40.9l0.8 0l0.2 0.2l23.8 0l0.2 -0.2l4.5 0l0.3 -0.3l1 0l-5.3 -2.5l-3.7 -1.2l-2 -0.3l-0.3 -0.2l-1.2 0l-0.3 -0.3l-5.2 0l-0.3 0.3l-1.5 0l-0.2 0.2l-1.8 0.3l-3 1zM322.6 38.9l4.5 0l0.3 0.2l16.2 0l0.3 -0.2l10.5 -0.3l-4.3 -2.2l-4.7 -1.8l-0.8 0l-1.2 -0.5l-1.3 0l-0.2 -0.2l-3.5 0l-0.3 -0.3l-0.2 0.3l-4 0.2l-4.3 1.3zM387.6 36.6l0.8 0.3l25.5 0l0.2 -0.3l4.3 0l0.2 -0.2l1.3 0l-5 -2.5l-5 -1.8l-2 -0.2l-0.3 -0.3l-2 0l-0.2 -0.2l-3.8 0l-0.2 0.2l-1.5 0l-0.3 0.3l-1 0l-3.5 1l-2.5 1.2l-0.5 0zM452.1 34.6l3.8 0l0.2 0.3l18.5 0l0.3 -0.3l0.2 0.3l0.3 -0.3l10 -0.2l-5.3 -2.8l-5.7 -2l-2.8 -0.2l-0.2 -0.3l-5.3 0l-0.2 0.3l-1.5 0l-0.3 0.2l-1.7 0.3l-3 1l-5.3 2.5zM517.1 32.4l0.5 0.2l11.3 0l0.2 0.3l0.8 -0.3l0.2 0.3l0.3 -0.3l14 0l0.2 -0.2l4.8 0l0.2 -0.3l1 0l-3 -2.2l-3.7 -1.5l-1.5 0l-1.8 -0.8l-3 -0.5l-0.2 -0.2l-3 0l-0.3 -0.3l-1 0l-0.2 0.3l-3.8 0.2l-4.2 1.3l-5.8 2.7z"/>
<path fill="#a70000" d="M197.6 41.6l0.8 0.3l19 0l0.2 -0.3l3.5 0l-5.7 -2.2l-3 -0.5l-0.3 -0.3l-2 0l-0.2 -0.2l-3.3 0l-0.2 0.2l-2.5 0.3l-3 1zM260.4 39.6l2.2 0l0.3 0.3l16.5 0l0.2 -0.3l5.5 0l0.3 -0.2l1 0l-4.8 -2l-0.7 0l-2 -0.8l-2.5 -0.2l-0.3 -0.3l-5.2 0l-0.3 0.3l-1.5 0l-0.2 0.2l-1.8 0.3l-4.2 1.5zM324.9 37.6l9.7 0l0.3 0.3l0.2 -0.3l0.3 0.3l0.2 -0.3l0.3 0.3l1.5 -0.3l0.2 0.3l0.3 -0.3l10.5 0l0.2 -0.2l3.5 0l-6.7 -2.8l-0.8 0l-1.2 -0.5l-1.3 0l-0.2 -0.2l-3.5 0l-0.3 -0.3l-0.2 0.3l-2.5 0l-0.3 0.2l-1.2 0l-0.3 0.3l-1.7 0.2l-3.5 1.3zM389.9 35.4l1.5 0l0.2 0.2l19 0l0.3 -0.2l5.2 0l0.3 -0.3l1 0l-3.8 -1.7l-4.7 -1.5l-3.3 -0.3l-0.2 -0.2l-3.8 0l-0.2 0.2l-1.5 0l-0.3 0.3l-1 0l-3.5 1zM454.1 33.4l16 0.2l0.3 -0.2l9 0l0.2 -0.3l3.5 0l-4.7 -2.2l-2.3 -0.8l-0.7 0l-1 -0.5l-2.8 -0.2l-0.2 -0.3l-5.3 0l-0.2 0.3l-1.5 0l-0.3 0.2l-1.7 0.3l-3 1zM519.1 31.1l1.5 0l0.3 0.3l20.5 0l0.2 -0.3l5.5 0l0.3 -0.2l1.7 0l-3 -1.8l-2.2 -0.7l-1.5 0l-1.8 -0.8l-3 -0.5l-0.2 -0.2l-3 0l-0.3 -0.3l-1 0l-0.2 0.3l-2.3 0l-0.2 0.2l-1.3 0l-0.2 0.3l-1.8 0.2l-3.5 1.3z"/>
<path fill="#970000" d="M199.9 40.4l2.2 0l0.3 0.2l11 0l0.2 -0.2l4.3 0l-2.5 -1l-3 -0.5l-0.3 -0.3l-2 0l-0.2 -0.2l-5 0.2zM262.9 38.4l7.5 0l0.2 0.2l0.3 -0.2l0.2 0.2l0.3 -0.2l10.5 0l0.2 -0.3l1.5 0l-3.7 -1.2l-2 -0.3l-0.3 -0.2l-1.2 0l-0.3 -0.3l-5.2 0l-0.3 0.3l-1.5 0l-0.2 0.2l-1.8 0.3zM327.9 36.1l0.7 0.3l16.3 0l0.2 -0.3l4 0l-1.5 -0.7l-4.2 -1.3l-5 -0.2l-0.3 -0.3l-0.2 0.3l-4 0.2zM392.1 34.1l13.8 0.3l0.2 -0.3l7 0l0.3 -0.2l1.5 0l-2.5 -0.8l-0.8 -0.5l-0.7 0l-1 -0.5l-2 -0.2l-0.3 -0.3l-6 -0.2l-0.2 0.2l-1.5 0l-0.3 0.3l-3 0.5l-2.7 1l-1.3 0.7zM457.1 31.9l0.3 0.2l19 0l0.2 -0.2l3.8 0l-4.3 -1.8l-0.7 0l-2.3 -0.7l-1.5 0l-0.2 -0.3l-5.3 0l-0.2 0.3l-1.5 0l-5 1.5l-1.3 0.7zM521.6 29.9l3.5 0l0.3 0.2l12 0l0.2 -0.2l6.8 0l0.2 -0.3l2 0l0 -0.2l-2.7 -1l-1.5 0l-3.8 -1.3l-5.5 -0.5l-0.2 0.3l-2.3 0l-0.2 0.2l-1.3 0l-0.2 0.3l-1.8 0.2z"/>
<path fill="#870000" d="M203.1 39.1l10.3 0l0 -0.2l-3.3 -0.3l-0.2 -0.2l-3.3 0l-0.2 0.2l-1.5 0zM267.1 37.1l9.8 0l0.2 -0.2l2.8 0l-2 -0.3l-0.3 -0.2l-1.2 0l-0.3 -0.3l-5.2 0l-0.3 0.3l-1.5 0l-0.2 0.2l-1.8 0.3zM331.1 34.9l14 0l0.3 -0.3l-0.8 0l-1.2 -0.5l-1.3 0l-0.2 -0.2l-3.5 0l-0.3 -0.3l-0.2 0.3l-4 0.2l-0.3 0.3zM395.4 32.9l13.7 0l0.3 -0.3l2.2 0l-0.7 0l-1 -0.5l-2 -0.2l-0.3 -0.3l-6 -0.2l-0.2 0.2l-2.8 0.3zM460.1 30.6l2.3 0l0.2 0.3l8.8 0l0.2 -0.3l5.3 0l0 -0.2l-1.5 -0.3l-1 -0.5l-1 0l-0.3 -0.2l-1.5 0l-0.2 -0.3l-5.3 0l-0.2 0.3l-1.5 0zM524.4 28.6l16.2 0l0.3 -0.2l2.5 0l-1 0l-1.8 -0.8l-3 -0.5l-0.2 -0.2l-3 0l-0.3 -0.3l-1 0l-0.2 0.3l-3.8 0.2z"/></g>
<g><path class="ax" d="M40.5 109.0L40.5 12.7"/>
<path class="ax" d="M40.0 109.0L311.8 125.8"/>
<path class="ax" d="M311.8 125.8L678.4 113.8"/>
<path class="ax" d="M40.0 109.0L32.0 109.3"/>
<path class="ax" d="M40.0 76.9L32.0 77.2"/>
<path class="ax" d="M40.0 44.8L32.0 45.1"/>
<path class="ax" d="M40.0 12.7L32.0 13.0"/>
<path class="ax" d="M40.0 109.0L32.0 109.3"/>
<path class="ax" d="M85.3 111.8L77.3 112.1"/>
<path class="ax" d="M130.6 114.6L122.6 114.9"/>
<path class="ax" d="M175.9 117.4L167.9 117.7"/>
<path class="ax" d="M221.2 120.2L213.2 120.5"/>
<path class="ax" d="M266.5 123.0L258.5 123.3"/>
<path class="ax" d="M311.8 125.8L303.8 126.1"/>
<path class="ax" d="M311.8 125.8L319.8 126.3"/>
<path class="ax" d="M434.0 121.8L442.0 122.3"/>
<path class="ax" d="M556.2 117.8L564.2 118.3"/>
<path class="ax" d="M678.4 113.8L686.4 114.3"/></g>
<g><text x="26.5" y="117.4" text-anchor="middle">3</text>
<text x="71.0" y="121.6" text-anchor="middle">2</text>
<text x="116.0" y="125.1" text-anchor="middle">1</text>
<text x="161.3" y="127.2" text-anchor="middle">0</text>
<text x="205.0" y="130.2" text-anchor="middle">-1</text>
<text x="250.0" y="133.4" text-anchor="middle">-2</text>
<text x="295.4" y="135.4" text-anchor="middle">-3</text>
<text x="324.5" y="135.6" text-anchor="middle">0</text>
<text x="447.0" y="131.8" text-anchor="middle">5</text>
<text x="572.0" y="128.0" text-anchor="middle">10</text>
<text x="694.3" y="123.4" text-anchor="middle">15</text>
<text x="28.2" y="112.6" text-anchor="end">0</text>
<text x="28.2" y="80.5" text-anchor="end">0.5</text>
<text x="28.2" y="48.4" text-anchor="end">1</text>
<text x="28.2" y="16.3" text-anchor="end">1.5</text>
<text x="150.0" y="145.0" text-anchor="middle">r/r<tspan dy="5.6" font-size="8.6">0</tspan></text>
<text x="490.5" y="146.6" text-anchor="middle">Normalized distance</text>
<text transform="translate(8.4 58.8) rotate(-90)" text-anchor="middle" font-size="11.2">Normalized Intensity</text>
<text x="93.5" y="34.0" text-anchor="middle">(a)</text></g>
<g><path class="g" d="M40.0 278.3L389.5 263.0"/>
<path class="g" d="M389.5 263.0L677.5 282.8"/>
<path class="g" d="M40.0 248.7L389.5 233.3"/>
<path class="g" d="M389.5 233.3L677.5 253.2"/>
<path class="g" d="M40.0 219.0L389.5 203.7"/>
<path class="g" d="M389.5 203.7L677.5 223.5"/>
<path class="g" d="M40.0 189.4L389.5 174.1"/>
<path class="g" d="M389.5 174.1L677.5 193.9"/>
<path class="g" d="M156.5 273.2L156.5 184.2"/>
<path class="g" d="M156.5 273.2L444.5 293.0"/>
<path class="g" d="M273.0 268.1L273.0 179.2"/>
<path class="g" d="M273.0 268.1L561.0 287.9"/>
<path class="g" d="M389.5 263.0L389.5 174.1"/>
<path class="g" d="M437.5 266.3L437.5 177.4"/>
<path class="g" d="M485.5 269.6L485.5 180.7"/>
<path class="g" d="M533.5 272.9L533.5 183.9"/>
<path class="g" d="M581.5 276.2L581.5 187.2"/>
<path class="g" d="M629.5 279.5L629.5 190.6"/>
<path class="g" d="M677.5 282.8L677.5 193.9"/>
<path class="g" d="M88.0 281.6L437.5 266.3"/>
<path class="g" d="M136.0 284.9L485.5 269.6"/>
<path class="g" d="M184.0 288.2L533.5 272.9"/>
<path class="g" d="M232.0 291.5L581.5 276.2"/>
<path class="g" d="M280.0 294.8L629.5 279.5"/></g>
<g shape-rendering="auto"><path fill="#000087" d="M646.1 280.6l0 -0.2l-5.2 -0.3l-0.3 -0.2l-2.2 0l-0.3 -0.3l-2 0l-0.2 -0.2l-1.8 0l-0.2 -0.3l-5.3 -0.5l-0.2 -0.2l-4.3 -0.5l-0.2 -0.3l-1 0l-0.3 -0.2l-1 0l-1.2 -0.5l-3 -0.5l-1 -0.5l-0.8 0l-1 -0.5l-0.7 0l-2.3 -0.8l-0.7 -0.5l-1.3 -0.2l-2.5 -1.3l-0.5 0l-4.5 -2.2l-5.2 -3.3l-7 -5.5l-8 -8l-8.5 -10.2l-16.3 -21.5l-3.2 -3.8l-5.5 -5.5l-2.5 -2l-3.5 -2.2l-2.8 -1.3l-2.5 -0.7l-1.2 0l-0.3 -0.3l-3.7 0.3l-0.3 0.2l-1.2 0l-0.3 0.3l-3.2 0.5l-8.5 2.7l-0.8 0.5l-6.5 2.3l-0.7 0.5l-6.3 1.7l-4 -0.5l-0.2 -0.2l-3.8 -0.8l-1 -0.5l-0.7 0l-3.5 -1.2l-0.8 0l-1 -0.5l-0.7 0l-1 -0.5l-0.8 0l-2.2 -0.8l-1 0l-1.3 -0.5l-3 -0.2l-0.2 -0.3l-2.3 0l-0.2 -0.2l-6 0l-0.3 0.2l-2 0l-0.2 0.3l-2.8 0.2l-0.2 0.3l-3.8 0.7l-6 2l-0.7 0.5l-1.3 0.3l-0.7 0.5l-1.3 0.2l-4.7 2l-6.3 1.8l-1.5 0l-0.2 -0.3l-3.8 -0.5l-2 -0.7l-1.7 -0.3l-1.8 -0.7l-0.7 0l-1 -0.5l-0.8 0l-1 -0.5l-0.7 0l-1 -0.5l-0.8 0l-4.2 -1.3l-1 0l-0.3 -0.2l-3 -0.3l-0.2 -0.2l-3 0l-0.3 -0.3l-4 0l-0.2 0.3l-4.3 0.2l-0.2 0.3l-2.3 0.2l-3 1l-0.7 0l-5.3 1.8l-0.7 0.5l-1.3 0.2l-0.7 0.5l-1.3 0.3l-4.7 2l-6 1.7l-2.3 0l-0.2 -0.2l-2.5 -0.3l-15.8 -4.5l-3.7 -0.5l-0.3 -0.2l-5.7 -0.3l-0.3 -0.2l-6.7 0.5l-0.3 0.2l-4.5 0.8l-7 2.2l-0.7 0.5l-3.3 1l-4 1.8l-6.5 2l-3.2 0l-0.3 -0.3l-2.2 -0.2l-3 -1l-0.8 0l-1 -0.5l-0.7 0l-1 -0.5l-0.8 0l-1.7 -0.8l-0.8 0l-1 -0.5l-0.7 0l-4.3 -1.2l-2.2 -0.3l-0.3 -0.2l-3.5 -0.3l-0.2 -0.2l-7.8 0l-0.2 0.2l-1.8 0l-0.2 0.3l-2.5 0.2l-0.3 0.3l-2.7 0.5l-1 0.5l-0.8 0l-6.5 2.2l-0.7 0.5l-1.3 0.3l-4 1.7l-4.5 1.5l-3 0.5l-0.2 0.3l-2.5 -0.3l-0.3 -0.2l-1 0l-0.2 -0.3l-3.8 -0.7l-5.2 -1.8l-0.8 0l-2.7 -1l-0.8 0l-2.2 -0.7l-1 0l-1.3 -0.5l-1.2 0l-1.8 -0.5l-2.5 0l-0.2 -0.3l-6 0l-0.3 0.3l-1.7 0l-7 2l-5.3 2.5l-0.5 0l-2.2 1.2l-0.5 0l-1.8 1l-0.5 0l-2.7 1.3l-0.8 0l-1.2 0.5l-6.5 0l-0.3 0.2l-3 0.3l-3.2 1l-4.3 2l-4.2 2.7l-6.8 5.5l-15.5 15.3l-9.5 8.5l-8.2 6l-3.8 2l-0.5 0.5l-5.2 2.5l-7.3 2.5l-47 2l7.3 0.2l0.2 0.3l5.8 0l0.2 0.2l15 0l0.3 -0.2l7.7 0l0.3 -0.3l18.7 -0.2l0.3 -0.3l6 0l0.2 -0.2l5 0l0.3 -0.3l8.5 -0.2l0.2 -0.3l3.5 0l0.3 -0.2l3.5 0l0.2 -0.3l3.5 0l0.3 -0.2l4.7 0l0.3 -0.3l9.2 0l0.3 -0.2l16.5 -0.3l0.2 -0.2l6 0l0.3 -0.3l5.2 0l0.3 -0.2l8.7 -0.3l0.3 -0.2l3.5 0l0.2 -0.3l3.5 0l0.3 -0.2l3.5 0l0.2 -0.3l3.8 0l0.2 -0.2l9 0l0.3 -0.3l9 0l0.2 -0.2l1.3 0l4.7 4l7.3 5l5.5 3l0.5 0l5.2 2.5l6.8 2.2l0.7 0l4.3 1.3l1 0l1.2 0.5l2.5 0.2l0.3 0.3l2.5 0.2l0.2 0.3l3 0.2l0.3 0.3l1.7 0l0.3 0.2l1.7 0l0.3 0.3l1.7 0l0.3 0.2l2 0l0.2 0.3l2.3 0l0.2 0.2l5.8 0l0.2 -0.2l6.3 0l0.2 -0.3l18.8 -0.5l0.2 -0.2l10.8 -0.3l0.2 -0.2l5 0l0.3 -0.3l10 -0.2l0.2 -0.3l4.8 0l0.2 -0.2l6 0l0.3 -0.3l19 -0.5l0.2 -0.2l16.8 -0.5l0.2 -0.3l5 0l0.3 -0.2l15 -0.5l0.2 -0.3l5.8 0l0.2 -0.2l6.3 0l0.2 -0.3l6.3 0l0.2 -0.2l6 0l0.3 -0.3l16.7 -0.5l0.3 -0.2l5 0l0.2 -0.3l5 0l0.3 -0.2l15.5 -0.5l0.2 -0.3l6.5 0l0.3 -0.2l6 0l0.2 -0.3l6 0l0.3 -0.2l17.2 -0.5l0.3 -0.3l10.2 -0.2l0.3 -0.3l15.2 -0.5l0.3 -0.2l6.2 0l0.3 -0.3l6.2 0l0.3 -0.2l18 -0.5l0.2 -0.3l10.8 -0.2l0.2 -0.3l5 0l0.3 -0.2l15 -0.5l0.2 -0.3l6 0l0.3 -0.2l6.5 0l0.2 -0.3z"/>
<path fill="#000097" d="M626.9 278.1l-1.3 0l-0.2 -0.2l-1.3 0l-0.2 -0.3l-2.3 -0.2l-1.2 -0.5l-1 0l-3 -1l-0.8 0l-1 -0.5l-0.7 0l-3 -1.3l-1.3 -0.2l-7.5 -3.5l-0.5 -0.5l-2.5 -1.3l-5 -3.5l-4.2 -3.5l-9.8 -10l-6.7 -8.2l-16.3 -21.5l-3.2 -3.8l-5.5 -5.5l-2.5 -2l-5 -3l-3.8 -1.2l-3.2 -0.3l-0.3 0.3l-1.7 0l-0.3 0.2l-3.7 0.5l-4.5 1.5l-0.8 0l-1.5 0.8l-2.7 0.7l-2 1l-1.3 0.3l-0.7 0.5l-1.3 0.2l-0.7 0.5l-1.3 0.3l-0.7 0.5l-6.3 1.7l-4 -0.5l-0.2 -0.2l-3.8 -0.8l-1 -0.5l-0.7 0l-3.5 -1.2l-0.8 0l-1 -0.5l-0.7 0l-1 -0.5l-0.8 0l-2.2 -0.8l-1 0l-1.3 -0.5l-3 -0.2l-0.2 -0.3l-2.3 0l-0.2 -0.2l-6 0l-0.3 0.2l-2 0l-0.2 0.3l-2.8 0.2l-0.2 0.3l-3.8 0.7l-6 2l-0.7 0.5l-1.3 0.3l-0.7 0.5l-1.3 0.2l-4.7 2l-6.3 1.8l-1.5 0l-0.2 -0.3l-3.8 -0.5l-2 -0.7l-1.7 -0.3l-1.8 -0.7l-0.7 0l-1 -0.5l-0.8 0l-1 -0.5l-0.7 0l-1 -0.5l-0.8 0l-4.2 -1.3l-1 0l-0.3 -0.2l-3 -0.3l-0.2 -0.2l-3 0l-0.3 -0.3l-4 0l-0.2 0.3l-4.3 0.2l-0.2 0.3l-2.3 0.2l-3 1l-0.7 0l-5.3 1.8l-0.7 0.5l-1.3 0.2l-0.7 0.5l-1.3 0.3l-4.7 2l-6 1.7l-2.3 0l-0.2 -0.2l-2.5 -0.3l-15.8 -4.5l-3.7 -0.5l-0.3 -0.2l-5.7 -0.3l-0.3 -0.2l-6.7 0.5l-0.3 0.2l-4.5 0.8l-7 2.2l-0.7 0.5l-3.3 1l-4 1.8l-6.5 2l-3.2 0l-0.3 -0.3l-2.2 -0.2l-3 -1l-0.8 0l-1 -0.5l-0.7 0l-1 -0.5l-0.8 0l-1.7 -0.8l-0.8 0l-1 -0.5l-0.7 0l-4.3 -1.2l-2.2 -0.3l-0.3 -0.2l-3.5 -0.3l-0.2 -0.2l-7.8 0l-0.2 0.2l-1.8 0l-0.2 0.3l-2.5 0.2l-0.3 0.3l-2.7 0.5l-1 0.5l-0.8 0l-6.5 2.2l-0.7 0.5l-1.3 0.3l-4 1.7l-4.5 1.5l-3 0.5l-0.2 0.3l-2.5 -0.3l-0.3 -0.2l-1 0l-0.2 -0.3l-3.8 -0.7l-5.2 -1.8l-0.8 0l-2.7 -1l-0.8 0l-2.2 -0.7l-1 0l-1.3 -0.5l-1.2 0l-1.8 -0.5l-2.5 0l-0.2 -0.3l-6 0l-0.3 0.3l-1.7 0l-7 2l-5.3 2.5l-0.5 0l-2.2 1.2l-0.5 0l-1.8 1l-0.5 0l-2.7 1.3l-0.8 0l-1.2 0.5l-6.5 0l-0.3 0.2l-3 0.3l-3.2 1l-4.3 2l-4.2 2.7l-6.8 5.5l-15.5 15.3l-9.5 8.5l-8.2 6l-7.3 4l-0.5 0l-1.7 1l-6.3 2.2l-0.7 0l-4.3 1.3l-2.2 0.2l-0.3 0.3l-5 0.5l-0.2 0.2l-2.5 0l-0.3 0.3l-7.5 0.2l11.5 -0.2l0.3 -0.3l10.5 0l0.2 -0.2l14.3 -0.3l0.2 -0.2l9.5 -0.3l0.3 -0.2l4 0l0.2 -0.3l3.5 0l0.3 -0.2l3.5 0l0.2 -0.3l3.5 0l0.3 -0.2l4.7 0l0.3 -0.3l9.2 0l0.3 -0.2l16.5 -0.3l0.2 -0.2l6 0l0.3 -0.3l5.2 0l0.3 -0.2l8.7 -0.3l0.3 -0.2l3.5 0l0.2 -0.3l3.5 0l0.3 -0.2l3.5 0l0.2 -0.3l3.8 0l0.2 -0.2l9 0l0.3 -0.3l9 0l0.2 -0.2l1.3 0l4.7 4l4.5 3.2l0.8 0.3l3.7 2.5l6.5 3.2l9.8 3.5l0.7 0l4.3 1.3l1 0l1.2 0.5l6 1l0.3 -0.3l2.7 0l0.3 -0.2l3.7 0l0.3 -0.3l9.7 -0.5l0.3 -0.2l4 0l0.2 -0.3l4.8 0l0.2 -0.2l14.3 -0.3l0.2 -0.2l9.3 0l0.2 -0.3l9 0l0.3 -0.2l5 0l0.2 -0.3l3.5 0l0.3 -0.2l10.7 -0.5l0.3 -0.3l4.2 0l0.3 -0.2l4.7 0l0.3 -0.3l38.7 -1l0.3 -0.2l3.7 0l0.3 -0.3l10.5 -0.5l0.2 -0.2l4 0l0.3 -0.3l4.7 0l0.3 -0.2l13 -0.3l0.2 -0.2l8.5 0l0.3 -0.3l17 -0.2l0.2 -0.3l3.8 0l0.2 -0.2l10.5 -0.5l0.3 -0.3l4 0l0.2 -0.2l4.3 0l0.2 -0.3l12.5 -0.2l0.3 -0.3l8.2 0l0.3 -0.2l9.5 0l0.2 -0.3l8.3 0l0.2 -0.2l4 0l0.3 -0.3l10.5 -0.5l0.2 -0.2l3.8 0l0.2 -0.3l4.3 0l0.2 -0.2l11.8 -0.3l0.2 -0.2l8 0l0.3 -0.3l9.2 0l0.3 -0.2l9 0l0.2 -0.3l4.8 0l0.2 -0.2l3.5 0l0.3 -0.3l10.7 -0.5l0.3 -0.2z"/>
<path fill="#0000a7" d="M618.1 276.4l-4.2 -1l-5.5 -2l-1.3 -0.8l-0.5 0l-7.5 -4l-7.5 -5.5l-9.7 -9.5l-3.3 -3.7l-7.7 -9.8l-9 -12.2l-4.8 -6l-3.2 -3.8l-5.5 -5.5l-2.5 -2l-5 -3l-3.8 -1.2l-3.2 -0.3l-0.3 0.3l-1.7 0l-0.3 0.2l-3.7 0.5l-4.5 1.5l-0.8 0l-1.5 0.8l-2.7 0.7l-2 1l-1.3 0.3l-0.7 0.5l-1.3 0.2l-0.7 0.5l-1.3 0.3l-0.7 0.5l-6.3 1.7l-4 -0.5l-0.2 -0.2l-3.8 -0.8l-1 -0.5l-0.7 0l-3.5 -1.2l-0.8 0l-1 -0.5l-0.7 0l-1 -0.5l-0.8 0l-2.2 -0.8l-1 0l-1.3 -0.5l-3 -0.2l-0.2 -0.3l-2.3 0l-0.2 -0.2l-6 0l-0.3 0.2l-2 0l-0.2 0.3l-2.8 0.2l-0.2 0.3l-3.8 0.7l-6 2l-0.7 0.5l-1.3 0.3l-0.7 0.5l-1.3 0.2l-4.7 2l-6.3 1.8l-1.5 0l-0.2 -0.3l-3.8 -0.5l-2 -0.7l-1.7 -0.3l-1.8 -0.7l-0.7 0l-1 -0.5l-0.8 0l-1 -0.5l-0.7 0l-1 -0.5l-0.8 0l-4.2 -1.3l-1 0l-0.3 -0.2l-3 -0.3l-0.2 -0.2l-3 0l-0.3 -0.3l-4 0l-0.2 0.3l-4.3 0.2l-0.2 0.3l-2.3 0.2l-3 1l-0.7 0l-5.3 1.8l-0.7 0.5l-1.3 0.2l-0.7 0.5l-1.3 0.3l-4.7 2l-6 1.7l-2.3 0l-0.2 -0.2l-2.5 -0.3l-15.8 -4.5l-3.7 -0.5l-0.3 -0.2l-5.7 -0.3l-0.3 -0.2l-6.7 0.5l-0.3 0.2l-4.5 0.8l-7 2.2l-0.7 0.5l-3.3 1l-4 1.8l-6.5 2l-3.2 0l-0.3 -0.3l-2.2 -0.2l-3 -1l-0.8 0l-1 -0.5l-0.7 0l-1 -0.5l-0.8 0l-1.7 -0.8l-0.8 0l-1 -0.5l-0.7 0l-4.3 -1.2l-2.2 -0.3l-0.3 -0.2l-3.5 -0.3l-0.2 -0.2l-7.8 0l-0.2 0.2l-1.8 0l-0.2 0.3l-2.5 0.2l-0.3 0.3l-2.7 0.5l-1 0.5l-0.8 0l-6.5 2.2l-0.7 0.5l-1.3 0.3l-4 1.7l-4.5 1.5l-3 0.5l-0.2 0.3l-2.5 -0.3l-0.3 -0.2l-1 0l-0.2 -0.3l-3.8 -0.7l-5.2 -1.8l-0.8 0l-2.7 -1l-0.8 0l-2.2 -0.7l-1 0l-1.3 -0.5l-1.2 0l-1.8 -0.5l-2.5 0l-0.2 -0.3l-6 0l-0.3 0.3l-1.7 0l-7 2l-5.3 2.5l-0.5 0l-2.2 1.2l-0.5 0l-1.8 1l-0.5 0l-2.7 1.3l-0.8 0l-1.2 0.5l-6.5 0l-0.3 0.2l-3 0.3l-3.2 1l-4.3 2l-4.2 2.7l-4.8 3.8l-5.7 5.2l-15.8 15.5l-6.7 5.8l-7 5l-7.3 4l-0.5 0l-1.7 1l-6.3 2.2l-0.7 0l-4.3 1.3l-2.2 0.2l-0.3 0.3l-6.7 0.7l12.5 -0.2l0.2 -0.3l9.3 0l0.2 -0.2l7.5 0l0.3 -0.3l5.5 0l0.2 -0.2l9.3 -0.3l0.2 -0.2l7.5 -0.3l0.3 -0.2l3.5 0l0.2 -0.3l4 0l0.3 -0.2l31.5 -0.8l0.2 -0.2l5.8 0l0.2 -0.3l4.8 0l0.2 -0.2l12.3 -0.5l0.2 -0.3l7.5 -0.2l0.3 -0.3l15 -0.2l0.2 -0.3l1 0l7 5.8l5.3 3.5l4 2l0.5 0.5l9.5 4l2.2 0.5l1.8 0.7l4.7 1l0.3 -0.2l4.5 0l0.2 -0.3l3.5 0l0.3 -0.2l3.2 0l0.3 -0.3l3.2 0l0.3 -0.2l4 0l0.2 -0.3l4.5 0l0.3 -0.2l12.7 -0.3l0.3 -0.2l8 0l0.2 -0.3l8.5 0l0.3 -0.2l7.5 0l0.2 -0.3l4 0l0.3 -0.2l11.2 -0.5l0.3 -0.3l4.2 0l0.3 -0.2l4.5 0l0.2 -0.3l12.3 -0.2l0.2 -0.3l7.8 0l0.2 -0.2l8.8 0l0.2 -0.3l7.8 0l0.2 -0.2l4.8 0l0.2 -0.3l11.3 -0.5l0.2 -0.2l4 0l0.3 -0.3l4.5 0l0.2 -0.2l11.8 -0.3l0.2 -0.2l7.5 0l0.3 -0.3l8.5 0l0.2 -0.2l8.3 0l0.2 -0.3l5.3 0l0.2 -0.2l3.8 0l0.2 -0.3l11.5 -0.5l0.3 -0.2l9.7 -0.3l0.3 -0.2l6 0l0.2 -0.3l7.3 0l0.2 -0.2l8.3 0l0.2 -0.3l15 -0.2l0.3 -0.3l3.7 0l0.3 -0.2l3.5 0l0.2 -0.3l12.3 -0.5l0.2 -0.2l4.8 0l0.2 -0.3l5.8 0l0.2 -0.2l31.5 -0.8l0.3 -0.2l4 0l0.2 -0.3l11.5 -0.5l0.3 -0.2l4 0l0.2 -0.3l4.8 0z"/>
<path fill="#0000b7" d="M613.6 275.1l-5.2 -1.7l-6.3 -3l-5.2 -3.3l-7 -5.5l-8 -8l-3.3 -3.7l-7.7 -9.8l-9 -12.2l-4.8 -6l-3.2 -3.8l-5.5 -5.5l-2.5 -2l-5 -3l-3.8 -1.2l-3.2 -0.3l-0.3 0.3l-1.7 0l-0.3 0.2l-3.7 0.5l-4.5 1.5l-0.8 0l-1.5 0.8l-2.7 0.7l-2 1l-1.3 0.3l-0.7 0.5l-1.3 0.2l-0.7 0.5l-1.3 0.3l-0.7 0.5l-6.3 1.7l-4 -0.5l-0.2 -0.2l-3.8 -0.8l-1 -0.5l-0.7 0l-3.5 -1.2l-0.8 0l-1 -0.5l-0.7 0l-1 -0.5l-0.8 0l-2.2 -0.8l-1 0l-1.3 -0.5l-3 -0.2l-0.2 -0.3l-2.3 0l-0.2 -0.2l-6 0l-0.3 0.2l-2 0l-0.2 0.3l-2.8 0.2l-0.2 0.3l-3.8 0.7l-6 2l-0.7 0.5l-1.3 0.3l-0.7 0.5l-1.3 0.2l-4.7 2l-6.3 1.8l-1.5 0l-0.2 -0.3l-3.8 -0.5l-2 -0.7l-1.7 -0.3l-1.8 -0.7l-0.7 0l-1 -0.5l-0.8 0l-1 -0.5l-0.7 0l-1 -0.5l-0.8 0l-4.2 -1.3l-1 0l-0.3 -0.2l-3 -0.3l-0.2 -0.2l-3 0l-0.3 -0.3l-4 0l-0.2 0.3l-4.3 0.2l-0.2 0.3l-2.3 0.2l-3 1l-0.7 0l-5.3 1.8l-0.7 0.5l-1.3 0.2l-0.7 0.5l-1.3 0.3l-4.7 2l-6 1.7l-2.3 0l-0.2 -0.2l-2.5 -0.3l-15.8 -4.5l-3.7 -0.5l-0.3 -0.2l-5.7 -0.3l-0.3 -0.2l-6.7 0.5l-0.3 0.2l-4.5 0.8l-7 2.2l-0.7 0.5l-3.3 1l-4 1.8l-6.5 2l-3.2 0l-0.3 -0.3l-2.2 -0.2l-3 -1l-0.8 0l-1 -0.5l-0.7 0l-1 -0.5l-0.8 0l-1.7 -0.8l-0.8 0l-1 -0.5l-0.7 0l-4.3 -1.2l-2.2 -0.3l-0.3 -0.2l-3.5 -0.3l-0.2 -0.2l-7.8 0l-0.2 0.2l-1.8 0l-0.2 0.3l-2.5 0.2l-0.3 0.3l-2.7 0.5l-1 0.5l-0.8 0l-6.5 2.2l-0.7 0.5l-1.3 0.3l-4 1.7l-4.5 1.5l-3 0.5l-0.2 0.3l-2.5 -0.3l-0.3 -0.2l-1 0l-0.2 -0.3l-3.8 -0.7l-5.2 -1.8l-0.8 0l-2.7 -1l-0.8 0l-2.2 -0.7l-1 0l-1.3 -0.5l-1.2 0l-1.8 -0.5l-2.5 0l-0.2 -0.3l-6 0l-0.3 0.3l-1.7 0l-7 2l-5.3 2.5l-0.5 0l-2.2 1.2l-0.5 0l-1.8 1l-0.5 0l-2.7 1.3l-0.8 0l-1.2 0.5l-6.5 0l-0.3 0.2l-3 0.3l-3.2 1l-4.3 2l-4.2 2.7l-4.8 3.8l-5.7 5.2l-15.8 15.5l-5.5 4.8l-5.2 4l-7.3 4.5l-5.2 2.5l-9 3l-1 0l-0.3 0.2l-3.2 0.5l-0.3 0.3l-1.2 0l30.5 -0.8l0.2 -0.2l10.3 -0.3l0.2 -0.2l4.3 0l0.2 -0.3l3.8 0l0.2 -0.2l3.8 0l0.2 -0.3l3.8 0l0.2 -0.2l4.8 0l0.2 -0.3l7.5 0l0.3 -0.2l8.2 0l0.3 -0.3l14.2 -0.2l0.3 -0.3l5.5 0l0.2 -0.2l9.3 -0.3l0.2 -0.2l4 0l0.3 -0.3l3.7 0l0.3 -0.2l3.7 0l0.3 -0.3l11.5 -0.2l0.2 -0.3l1.5 0l5.5 4.8l7.3 5l8.2 4.2l9 3.3l1.3 -0.5l4.7 0l0.3 -0.3l11.2 -0.5l0.3 -0.2l4 0l0.2 -0.3l5 0l0.3 -0.2l36.2 -1l0.3 -0.3l4 0l0.2 -0.2l12 -0.5l0.3 -0.3l4.5 0l0.2 -0.2l4.8 0l0.2 -0.3l13 -0.2l0.3 -0.3l7.7 0l0.3 -0.2l8.2 0l0.3 -0.3l6.7 0l0.3 -0.2l4.2 0l0.3 -0.3l3.7 0l0.3 -0.2l3.7 0l0.3 -0.3l3.7 0l0.3 -0.2l4.5 0l0.2 -0.3l4.8 0l0.2 -0.2l12.3 -0.3l0.2 -0.2l7.8 0l0.2 -0.3l8.3 0l0.2 -0.2l7.3 0l0.2 -0.3l4.8 0l0.2 -0.2l3.8 0l0.2 -0.3l3.8 0l0.2 -0.2l3.8 0l0.2 -0.3l4.3 0l0.2 -0.2l4.5 0l0.3 -0.3l12 -0.2l0.2 -0.3l7.5 0l0.3 -0.2l8 0l0.2 -0.3l8 0l0.3 -0.2l5 0l0.2 -0.3l4 0l0.3 -0.2l12 -0.5l0.2 -0.3l4.5 0l0.3 -0.2l11.7 -0.3l0.3 -0.2l7 0l0.2 -0.3l8 0l0.3 -0.2l8 0l0.2 -0.3l6 0l0.3 -0.2l4 0l0.2 -0.3l3.8 0l0.2 -0.2l3.5 0l0.3 -0.3z"/>
<path fill="#0000c7" d="M609.4 273.6l-2.8 -1l-7.5 -4l-5 -3.5l-4.2 -3.5l-8 -8l-3.3 -3.7l-7.7 -9.8l-9 -12.2l-4.8 -6l-3.2 -3.8l-5.5 -5.5l-2.5 -2l-5 -3l-3.8 -1.2l-3.2 -0.3l-0.3 0.3l-1.7 0l-0.3 0.2l-3.7 0.5l-4.5 1.5l-0.8 0l-1.5 0.8l-2.7 0.7l-2 1l-1.3 0.3l-0.7 0.5l-1.3 0.2l-0.7 0.5l-1.3 0.3l-0.7 0.5l-6.3 1.7l-4 -0.5l-0.2 -0.2l-3.8 -0.8l-1 -0.5l-0.7 0l-3.5 -1.2l-0.8 0l-1 -0.5l-0.7 0l-1 -0.5l-0.8 0l-2.2 -0.8l-1 0l-1.3 -0.5l-3 -0.2l-0.2 -0.3l-2.3 0l-0.2 -0.2l-6 0l-0.3 0.2l-2 0l-0.2 0.3l-2.8 0.2l-0.2 0.3l-3.8 0.7l-6 2l-0.7 0.5l-1.3 0.3l-0.7 0.5l-1.3 0.2l-4.7 2l-6.3 1.8l-1.5 0l-0.2 -0.3l-3.8 -0.5l-2 -0.7l-1.7 -0.3l-1.8 -0.7l-0.7 0l-1 -0.5l-0.8 0l-1 -0.5l-0.7 0l-1 -0.5l-0.8 0l-4.2 -1.3l-1 0l-0.3 -0.2l-3 -0.3l-0.2 -0.2l-3 0l-0.3 -0.3l-4 0l-0.2 0.3l-4.3 0.2l-0.2 0.3l-2.3 0.2l-3 1l-0.7 0l-5.3 1.8l-0.7 0.5l-1.3 0.2l-0.7 0.5l-1.3 0.3l-4.7 2l-6 1.7l-2.3 0l-0.2 -0.2l-2.5 -0.3l-15.8 -4.5l-3.7 -0.5l-0.3 -0.2l-5.7 -0.3l-0.3 -0.2l-6.7 0.5l-0.3 0.2l-4.5 0.8l-7 2.2l-0.7 0.5l-3.3 1l-4 1.8l-6.5 2l-3.2 0l-0.3 -0.3l-2.2 -0.2l-3 -1l-0.8 0l-1 -0.5l-0.7 0l-1 -0.5l-0.8 0l-1.7 -0.8l-0.8 0l-1 -0.5l-0.7 0l-4.3 -1.2l-2.2 -0.3l-0.3 -0.2l-3.5 -0.3l-0.2 -0.2l-7.8 0l-0.2 0.2l-1.8 0l-0.2 0.3l-2.5 0.2l-0.3 0.3l-2.7 0.5l-1 0.5l-0.8 0l-6.5 2.2l-0.7 0.5l-1.3 0.3l-4 1.7l-4.5 1.5l-3 0.5l-0.2 0.3l-2.5 -0.3l-0.3 -0.2l-1 0l-0.2 -0.3l-3.8 -0.7l-5.2 -1.8l-0.8 0l-2.7 -1l-0.8 0l-2.2 -0.7l-1 0l-1.3 -0.5l-1.2 0l-1.8 -0.5l-2.5 0l-0.2 -0.3l-6 0l-0.3 0.3l-1.7 0l-7 2l-5.3 2.5l-0.5 0l-2.2 1.2l-0.5 0l-1.8 1l-0.5 0l-2.7 1.3l-0.8 0l-1.2 0.5l-6.5 0l-0.3 0.2l-3 0.3l-3.2 1l-4.3 2l-4.2 2.7l-4.8 3.8l-5.7 5.2l-15.8 15.5l-5.5 4.8l-5.2 4l-7.3 4.5l-5.2 2.5l-6.3 2.2l-4.7 1l35.2 -1l0.3 -0.2l9.2 -0.3l0.3 -0.2l8.2 -0.3l0.3 -0.2l3.7 0l0.3 -0.3l4.5 0l0.2 -0.2l7.3 0l0.2 -0.3l8 0l0.3 -0.2l14 -0.3l0.2 -0.2l5.8 0l0.2 -0.3l5 0l0.3 -0.2l4.5 0l0.2 -0.3l4 0l0.3 -0.2l8 -0.3l0.2 -0.2l8.8 -0.3l6.2 5.3l7.3 5l5.5 3l0.5 0l2.2 1.2l4.8 1.8l0.2 -0.3l4.5 0l0.3 -0.2l4 0l0.2 -0.3l3.5 0l0.3 -0.2l3.5 0l0.2 -0.3l4.3 0l0.2 -0.2l4.8 0l0.2 -0.3l12.8 -0.2l0.2 -0.3l7.3 0l0.2 -0.2l8 0l0.3 -0.3l7 0l0.2 -0.2l4.3 0l0.2 -0.3l4 0l0.3 -0.2l4 0l0.2 -0.3l4 0l0.3 -0.2l4.2 0l0.3 -0.3l4.7 0l0.3 -0.2l12.2 -0.3l0.3 -0.2l7.5 0l0.2 -0.3l7.8 0l0.2 -0.2l7.5 0l0.3 -0.3l4.7 0l0.3 -0.2l4 0l0.2 -0.3l12.5 -0.5l0.3 -0.2l4.7 0l0.3 -0.3l11.7 -0.2l0.3 -0.3l7.2 0l0.3 -0.2l7.7 0l0.3 -0.3l7.5 0l0.2 -0.2l5.5 0l0.3 -0.3l4 0l0.2 -0.2l4 0l0.3 -0.3l4 0l0.2 -0.2l4 0l0.3 -0.3l4.7 0l0.3 -0.2l5.2 0l0.3 -0.3l6 0l0.2 -0.2l7 0l0.3 -0.3l22 -0.5l0.2 -0.2l4 0l0.3 -0.3l4 0l0.2 -0.2l8.3 -0.3l0.2 -0.2l4.5 0l0.3 -0.3l5 0l0.2 -0.2l5.8 0l0.2 -0.3l22.5 -0.5l0.3 -0.2l7 0l0.2 -0.3l4.3 0l0.2 -0.2l12.3 -0.5l0.2 -0.3l4.5 0l0.3 -0.2l4.7 0z"/>
<path fill="#0000d7" d="M606.4 272.4l-6 -3l-6.3 -4.3l-4.2 -3.5l-8 -8l-8.5 -10.2l-16.3 -21.5l-3.2 -3.8l-5.5 -5.5l-2.5 -2l-5 -3l-3.8 -1.2l-3.2 -0.3l-0.3 0.3l-1.7 0l-0.3 0.2l-3.7 0.5l-4.5 1.5l-0.8 0l-1.5 0.8l-2.7 0.7l-2 1l-1.3 0.3l-0.7 0.5l-1.3 0.2l-0.7 0.5l-1.3 0.3l-0.7 0.5l-6.3 1.7l-4 -0.5l-0.2 -0.2l-3.8 -0.8l-1 -0.5l-0.7 0l-3.5 -1.2l-0.8 0l-1 -0.5l-0.7 0l-1 -0.5l-0.8 0l-2.2 -0.8l-1 0l-1.3 -0.5l-3 -0.2l-0.2 -0.3l-2.3 0l-0.2 -0.2l-6 0l-0.3 0.2l-2 0l-0.2 0.3l-2.8 0.2l-0.2 0.3l-3.8 0.7l-6 2l-0.7 0.5l-1.3 0.3l-0.7 0.5l-1.3 0.2l-4.7 2l-6.3 1.8l-1.5 0l-0.2 -0.3l-3.8 -0.5l-2 -0.7l-1.7 -0.3l-1.8 -0.7l-0.7 0l-1 -0.5l-0.8 0l-1 -0.5l-0.7 0l-1 -0.5l-0.8 0l-4.2 -1.3l-1 0l-0.3 -0.2l-3 -0.3l-0.2 -0.2l-3 0l-0.3 -0.3l-4 0l-0.2 0.3l-4.3 0.2l-0.2 0.3l-2.3 0.2l-3 1l-0.7 0l-5.3 1.8l-0.7 0.5l-1.3 0.2l-0.7 0.5l-1.3 0.3l-4.7 2l-6 1.7l-2.3 0l-0.2 -0.2l-2.5 -0.3l-15.8 -4.5l-3.7 -0.5l-0.3 -0.2l-5.7 -0.3l-0.3 -0.2l-6.7 0.5l-0.3 0.2l-4.5 0.8l-7 2.2l-0.7 0.5l-3.3 1l-4 1.8l-6.5 2l-3.2 0l-0.3 -0.3l-2.2 -0.2l-3 -1l-0.8 0l-1 -0.5l-0.7 0l-1 -0.5l-0.8 0l-1.7 -0.8l-0.8 0l-1 -0.5l-0.7 0l-4.3 -1.2l-2.2 -0.3l-0.3 -0.2l-3.5 -0.3l-0.2 -0.2l-7.8 0l-0.2 0.2l-1.8 0l-0.2 0.3l-2.5 0.2l-0.3 0.3l-2.7 0.5l-1 0.5l-0.8 0l-6.5 2.2l-0.7 0.5l-1.3 0.3l-4 1.7l-4.5 1.5l-3 0.5l-0.2 0.3l-2.5 -0.3l-0.3 -0.2l-1 0l-0.2 -0.3l-3.8 -0.7l-5.2 -1.8l-0.8 0l-2.7 -1l-0.8 0l-2.2 -0.7l-1 0l-1.3 -0.5l-1.2 0l-1.8 -0.5l-2.5 0l-0.2 -0.3l-6 0l-0.3 0.3l-1.7 0l-7 2l-5.3 2.5l-0.5 0l-2.2 1.2l-0.5 0l-1.8 1l-0.5 0l-2.7 1.3l-0.8 0l-1.2 0.5l-6.5 0l-0.3 0.2l-3 0.3l-3.2 1l-4.3 2l-4.2 2.7l-4.8 3.8l-5.7 5.2l-15.8 15.5l-5.5 4.8l-5.2 4l-5.5 3.5l-4.8 2.5l-0.5 0l-4.2 2l-5 1.5l10.7 -0.3l0.3 -0.2l8.2 0l0.3 -0.3l7.2 0l0.3 -0.2l5.7 0l0.3 -0.3l10 -0.2l0.2 -0.3l8.5 -0.2l0.3 -0.3l8.5 -0.2l0.2 -0.3l6.3 0l0.2 -0.2l7.5 0l0.3 -0.3l7.5 0l0.2 -0.2l12.8 -0.3l0.2 -0.2l10.3 -0.3l0.2 -0.2l4.3 0l0.2 -0.3l4 0l0.3 -0.2l4 0l0.2 -0.3l4.3 0l0.2 -0.2l1.5 0l4.5 4l7 5.2l0.8 0.3l3.7 2.5l2.3 1l0.5 0.5l5.2 2.2l0.3 -0.2l8.2 -0.3l0.3 -0.2l12 -0.5l0.2 -0.3l5 0l0.3 -0.2l12.2 -0.3l0.3 -0.2l7.2 0l0.3 -0.3l7.7 0l0.3 -0.2l6.7 0l0.3 -0.3l4.7 0l0.3 -0.2l12.7 -0.5l0.3 -0.3l4.5 0l0.2 -0.2l4.8 0l0.2 -0.3l12 -0.2l0.3 -0.3l7 0l0.2 -0.2l7.8 0l0.2 -0.3l7.3 0l0.2 -0.2l5 0l0.3 -0.3l4.2 0l0.3 -0.2l4 0l0.2 -0.3l4 0l0.3 -0.2l9.2 -0.3l0.3 -0.2l5.5 0l0.2 -0.3l6 0l0.3 -0.2l7 0l0.2 -0.3l7.5 0l0.3 -0.2l13.5 -0.3l0.2 -0.2l4 0l0.3 -0.3l4 0l0.2 -0.2l4 0l0.3 -0.3l4.5 0l0.2 -0.2l4.5 0l0.3 -0.3l5.2 0l0.3 -0.2l12.7 -0.3l0.3 -0.2l7.7 0l0.3 -0.3l7.5 0l0.2 -0.2l6.3 0l0.2 -0.3l4.3 0l0.2 -0.2l12.8 -0.5l0.2 -0.3l4.5 0l0.3 -0.2l11 -0.3l0.2 -0.2l6.5 0l0.3 -0.3l7.2 0l0.3 -0.2l7.5 0l0.2 -0.3l7 0l0.3 -0.2l4.5 0l0.2 -0.3l4.3 0l0.2 -0.2l13 -0.5l0.3 -0.3l5 0z"/>
<path fill="#0000e7" d="M603.9 271.1l-4.8 -2.5l-5 -3.5l-4.2 -3.5l-8 -8l-8.5 -10.2l-16.3 -21.5l-3.2 -3.8l-5.5 -5.5l-2.5 -2l-5 -3l-3.8 -1.2l-3.2 -0.3l-0.3 0.3l-1.7 0l-0.3 0.2l-3.7 0.5l-4.5 1.5l-0.8 0l-1.5 0.8l-2.7 0.7l-2 1l-1.3 0.3l-0.7 0.5l-1.3 0.2l-0.7 0.5l-1.3 0.3l-0.7 0.5l-6.3 1.7l-4 -0.5l-0.2 -0.2l-3.8 -0.8l-1 -0.5l-0.7 0l-3.5 -1.2l-0.8 0l-1 -0.5l-0.7 0l-1 -0.5l-0.8 0l-2.2 -0.8l-1 0l-1.3 -0.5l-3 -0.2l-0.2 -0.3l-2.3 0l-0.2 -0.2l-6 0l-0.3 0.2l-2 0l-0.2 0.3l-2.8 0.2l-0.2 0.3l-3.8 0.7l-6 2l-0.7 0.5l-1.3 0.3l-0.7 0.5l-1.3 0.2l-4.7 2l-6.3 1.8l-1.5 0l-0.2 -0.3l-3.8 -0.5l-2 -0.7l-1.7 -0.3l-1.8 -0.7l-0.7 0l-1 -0.5l-0.8 0l-1 -0.5l-0.7 0l-1 -0.5l-0.8 0l-4.2 -1.3l-1 0l-0.3 -0.2l-3 -0.3l-0.2 -0.2l-3 0l-0.3 -0.3l-4 0l-0.2 0.3l-4.3 0.2l-0.2 0.3l-2.3 0.2l-3 1l-0.7 0l-5.3 1.8l-0.7 0.5l-1.3 0.2l-0.7 0.5l-1.3 0.3l-4.7 2l-6 1.7l-2.3 0l-0.2 -0.2l-2.5 -0.3l-15.8 -4.5l-3.7 -0.5l-0.3 -0.2l-5.7 -0.3l-0.3 -0.2l-6.7 0.5l-0.3 0.2l-4.5 0.8l-7 2.2l-0.7 0.5l-3.3 1l-4 1.8l-6.5 2l-3.2 0l-0.3 -0.3l-2.2 -0.2l-3 -1l-0.8 0l-1 -0.5l-0.7 0l-1 -0.5l-0.8 0l-1.7 -0.8l-0.8 0l-1 -0.5l-0.7 0l-4.3 -1.2l-2.2 -0.3l-0.3 -0.2l-3.5 -0.3l-0.2 -0.2l-7.8 0l-0.2 0.2l-1.8 0l-0.2 0.3l-2.5 0.2l-0.3 0.3l-2.7 0.5l-1 0.5l-0.8 0l-6.5 2.2l-0.7 0.5l-1.3 0.3l-4 1.7l-4.5 1.5l-3 0.5l-0.2 0.3l-2.5 -0.3l-0.3 -0.2l-1 0l-0.2 -0.3l-3.8 -0.7l-5.2 -1.8l-0.8 0l-2.7 -1l-0.8 0l-2.2 -0.7l-1 0l-1.3 -0.5l-1.2 0l-1.8 -0.5l-2.5 0l-0.2 -0.3l-6 0l-0.3 0.3l-1.7 0l-7 2l-5.3 2.5l-0.5 0l-2.2 1.2l-0.5 0l-1.8 1l-0.5 0l-2.7 1.3l-0.8 0l-1.2 0.5l-6.5 0l-0.3 0.2l-3 0.3l-3.2 1l-4.3 2l-4.2 2.7l-6.8 5.5l-15.5 15.3l-10.7 9.5l-4 3l-7.3 4.5l-5.2 2.5l-4.8 1.7l1 0l0.3 -0.2l6 0l0.2 -0.3l8 0l0.3 -0.2l14.2 -0.3l0.3 -0.2l10.2 -0.3l0.3 -0.2l4.5 0l0.2 -0.3l4.3 0l0.2 -0.2l8.5 -0.3l0.3 -0.2l12.7 -0.3l0.3 -0.2l7.2 0l0.3 -0.3l7 0l0.2 -0.2l6.3 0l0.2 -0.3l5.5 0l0.3 -0.2l9.7 -0.3l0.3 -0.2l8.5 -0.3l0.2 -0.2l4.5 0l5 4.5l7 5.2l0.8 0.3l3.7 2.5l5 2.5l0.3 -0.3l4 0l0.2 -0.2l4 0l0.3 -0.3l4 0l0.2 -0.2l4 0l0.3 -0.3l4.2 0l0.3 -0.2l4.7 0l0.3 -0.3l12.5 -0.2l0.2 -0.3l7 0l0.3 -0.2l7.5 0l0.2 -0.3l6.8 0l0.2 -0.2l4.8 0l0.2 -0.3l13 -0.5l0.3 -0.2l4.5 0l0.2 -0.3l5 0l0.3 -0.2l12 -0.3l0.2 -0.2l7 0l0.3 -0.3l7.5 0l0.2 -0.2l6.8 0l0.2 -0.3l5.3 0l0.2 -0.2l4.3 0l0.2 -0.3l4 0l0.3 -0.2l14 -0.5l0.2 -0.3l5.5 0l0.3 -0.2l6 0l0.2 -0.3l7 0l0.3 -0.2l20.5 -0.5l0.2 -0.3l4.5 0l0.3 -0.2l13 -0.5l0.2 -0.3l4.8 0l0.2 -0.2l5.3 0l0.2 -0.3l6 0l0.3 -0.2l6.7 0l0.3 -0.3l21 -0.5l0.2 -0.2l4.5 0l0.3 -0.3l13 -0.5l0.2 -0.2l4.8 0l0.2 -0.3l5.3 0l0.2 -0.2l5.5 0l0.3 -0.3l21.5 -0.5l0.2 -0.2l6.8 0l0.2 -0.3l4.5 0l0.3 -0.2l4.2 0l0.3 -0.3l4.2 0l0.3 -0.2l4.2 0l0.3 -0.3l4.5 0l0.2 -0.2l5 0z"/>
<path fill="#0000f7" d="M601.9 270.1l-5 -3l-5.3 -4l-9.7 -9.5l-8.5 -10.2l-16.3 -21.5l-3.2 -3.8l-5.5 -5.5l-2.5 -2l-5 -3l-3.8 -1.2l-3.2 -0.3l-0.3 0.3l-1.7 0l-0.3 0.2l-3.7 0.5l-4.5 1.5l-0.8 0l-1.5 0.8l-2.7 0.7l-2 1l-1.3 0.3l-0.7 0.5l-1.3 0.2l-0.7 0.5l-1.3 0.3l-0.7 0.5l-6.3 1.7l-4 -0.5l-0.2 -0.2l-3.8 -0.8l-1 -0.5l-0.7 0l-3.5 -1.2l-0.8 0l-1 -0.5l-0.7 0l-1 -0.5l-0.8 0l-2.2 -0.8l-1 0l-1.3 -0.5l-3 -0.2l-0.2 -0.3l-2.3 0l-0.2 -0.2l-6 0l-0.3 0.2l-2 0l-0.2 0.3l-2.8 0.2l-0.2 0.3l-3.8 0.7l-6 2l-0.7 0.5l-1.3 0.3l-0.7 0.5l-1.3 0.2l-4.7 2l-6.3 1.8l-1.5 0l-0.2 -0.3l-3.8 -0.5l-2 -0.7l-1.7 -0.3l-1.8 -0.7l-0.7 0l-1 -0.5l-0.8 0l-1 -0.5l-0.7 0l-1 -0.5l-0.8 0l-4.2 -1.3l-1 0l-0.3 -0.2l-3 -0.3l-0.2 -0.2l-3 0l-0.3 -0.3l-4 0l-0.2 0.3l-4.3 0.2l-0.2 0.3l-2.3 0.2l-3 1l-0.7 0l-5.3 1.8l-0.7 0.5l-1.3 0.2l-0.7 0.5l-1.3 0.3l-4.7 2l-6 1.7l-2.3 0l-0.2 -0.2l-2.5 -0.3l-15.8 -4.5l-3.7 -0.5l-0.3 -0.2l-5.7 -0.3l-0.3 -0.2l-6.7 0.5l-0.3 0.2l-4.5 0.8l-7 2.2l-0.7 0.5l-3.3 1l-4 1.8l-6.5 2l-3.2 0l-0.3 -0.3l-2.2 -0.2l-3 -1l-0.8 0l-1 -0.5l-0.7 0l-1 -0.5l-0.8 0l-1.7 -0.8l-0.8 0l-1 -0.5l-0.7 0l-4.3 -1.2l-2.2 -0.3l-0.3 -0.2l-3.5 -0.3l-0.2 -0.2l-7.8 0l-0.2 0.2l-1.8 0l-0.2 0.3l-2.5 0.2l-0.3 0.3l-2.7 0.5l-1 0.5l-0.8 0l-6.5 2.2l-0.7 0.5l-1.3 0.3l-4 1.7l-4.5 1.5l-3 0.5l-0.2 0.3l-2.5 -0.3l-0.3 -0.2l-1 0l-0.2 -0.3l-3.8 -0.7l-5.2 -1.8l-0.8 0l-2.7 -1l-0.8 0l-2.2 -0.7l-1 0l-1.3 -0.5l-1.2 0l-1.8 -0.5l-2.5 0l-0.2 -0.3l-6 0l-0.3 0.3l-1.7 0l-7 2l-5.3 2.5l-0.5 0l-2.2 1.2l-0.5 0l-1.8 1l-0.5 0l-2.7 1.3l-0.8 0l-1.2 0.5l-6.5 0l-0.3 0.2l-3 0.3l-3.2 1l-4.3 2l-4.2 2.7l-6.8 5.5l-15.5 15.3l-10.7 9.5l-4 3l-5.5 3.5l-4.8 2.5l-0.5 0l-1.7 1l-2.3 0.7l11 -0.2l0.3 -0.3l7.5 0l0.2 -0.2l7 0l0.3 -0.3l6 0l0.2 -0.2l10 -0.3l0.3 -0.2l4.5 0l0.2 -0.3l13.5 -0.5l0.3 -0.2l20.7 -0.5l0.3 -0.3l6.7 0l0.3 -0.2l5.7 0l0.3 -0.3l5.2 0l0.3 -0.2l4.7 0l0.3 -0.3l13 -0.5l4.2 4l6 4.8l5.3 3.5l4.2 2.2l0.3 -0.2l4.5 0l0.2 -0.3l4.3 0l0.2 -0.2l12.8 -0.5l0.2 -0.3l5.3 0l0.2 -0.2l12.5 -0.3l0.3 -0.2l7 0l0.2 -0.3l7 0l0.3 -0.2l6.5 0l0.2 -0.3l4.8 0l0.2 -0.2l4.3 0l0.2 -0.3l4.3 0l0.2 -0.2l4.3 0l0.2 -0.3l4.8 0l0.2 -0.2l5 0l0.3 -0.3l12.2 -0.2l0.3 -0.3l6.7 0l0.3 -0.2l7.2 0l0.3 -0.3l6.7 0l0.3 -0.2l5 0l0.2 -0.3l13.5 -0.5l0.3 -0.2l4.5 0l0.2 -0.3l5 0l0.3 -0.2l5.2 0l0.3 -0.3l20.7 -0.5l0.3 -0.2l7 0l0.2 -0.3l5.5 0l0.3 -0.2l4.2 0l0.3 -0.3l4.2 0l0.3 -0.2l4.2 0l0.3 -0.3l4.5 0l0.2 -0.2l4.8 0l0.2 -0.3l11.5 -0.2l0.3 -0.3l6.7 0l0.3 -0.2l7 0l0.2 -0.3l7.3 0l0.2 -0.2l5.8 0l0.2 -0.3l4.5 0l0.3 -0.2l13.5 -0.5l0.2 -0.3l4.8 0l0.2 -0.2l11.3 -0.3l0.2 -0.2l6.5 0l0.3 -0.3l7 0l0.2 -0.2l7.3 0l0.2 -0.3l6.3 0l0.2 -0.2l4.8 0l0.2 -0.3l8.5 -0.2l0.3 -0.3z"/>
<path fill="#0008ff" d="M599.9 268.9l-3 -1.8l-5.3 -4l-9.7 -9.5l-8.5 -10.2l-16.3 -21.5l-3.2 -3.8l-5.5 -5.5l-2.5 -2l-5 -3l-3.8 -1.2l-3.2 -0.3l-0.3 0.3l-1.7 0l-0.3 0.2l-3.7 0.5l-4.5 1.5l-0.8 0l-1.5 0.8l-2.7 0.7l-2 1l-1.3 0.3l-0.7 0.5l-1.3 0.2l-0.7 0.5l-1.3 0.3l-0.7 0.5l-6.3 1.7l-4 -0.5l-0.2 -0.2l-3.8 -0.8l-1 -0.5l-0.7 0l-3.5 -1.2l-0.8 0l-1 -0.5l-0.7 0l-1 -0.5l-0.8 0l-2.2 -0.8l-1 0l-1.3 -0.5l-3 -0.2l-0.2 -0.3l-2.3 0l-0.2 -0.2l-6 0l-0.3 0.2l-2 0l-0.2 0.3l-2.8 0.2l-0.2 0.3l-3.8 0.7l-6 2l-0.7 0.5l-1.3 0.3l-0.7 0.5l-1.3 0.2l-4.7 2l-6.3 1.8l-1.5 0l-0.2 -0.3l-3.8 -0.5l-2 -0.7l-1.7 -0.3l-1.8 -0.7l-0.7 0l-1 -0.5l-0.8 0l-1 -0.5l-0.7 0l-1 -0.5l-0.8 0l-4.2 -1.3l-1 0l-0.3 -0.2l-3 -0.3l-0.2 -0.2l-3 0l-0.3 -0.3l-4 0l-0.2 0.3l-4.3 0.2l-0.2 0.3l-2.3 0.2l-3 1l-0.7 0l-5.3 1.8l-0.7 0.5l-1.3 0.2l-0.7 0.5l-1.3 0.3l-4.7 2l-6 1.7l-2.3 0l-0.2 -0.2l-2.5 -0.3l-15.8 -4.5l-3.7 -0.5l-0.3 -0.2l-5.7 -0.3l-0.3 -0.2l-6.7 0.5l-0.3 0.2l-4.5 0.8l-7 2.2l-0.7 0.5l-3.3 1l-4 1.8l-6.5 2l-3.2 0l-0.3 -0.3l-2.2 -0.2l-3 -1l-0.8 0l-1 -0.5l-0.7 0l-1 -0.5l-0.8 0l-1.7 -0.8l-0.8 0l-1 -0.5l-0.7 0l-4.3 -1.2l-2.2 -0.3l-0.3 -0.2l-3.5 -0.3l-0.2 -0.2l-7.8 0l-0.2 0.2l-1.8 0l-0.2 0.3l-2.5 0.2l-0.3 0.3l-2.7 0.5l-1 0.5l-0.8 0l-6.5 2.2l-0.7 0.5l-1.3 0.3l-4 1.7l-4.5 1.5l-3 0.5l-0.2 0.3l-2.5 -0.3l-0.3 -0.2l-1 0l-0.2 -0.3l-3.8 -0.7l-5.2 -1.8l-0.8 0l-2.7 -1l-0.8 0l-2.2 -0.7l-1 0l-1.3 -0.5l-1.2 0l-1.8 -0.5l-2.5 0l-0.2 -0.3l-6 0l-0.3 0.3l-1.7 0l-7 2l-5.3 2.5l-0.5 0l-2.2 1.2l-0.5 0l-1.8 1l-0.5 0l-2.7 1.3l-0.8 0l-1.2 0.5l-6.5 0l-0.3 0.2l-3 0.3l-3.2 1l-4.3 2l-4.2 2.7l-6.8 5.5l-15.5 15.3l-9.5 8.5l-8.2 6l-3.8 2l-0.5 0.5l-5.2 2.5l0.7 -0.3l5.8 0l0.2 -0.2l7.3 0l0.2 -0.3l7.3 0l0.2 -0.2l12.3 -0.3l0.2 -0.2l5 0l0.3 -0.3l9.2 -0.2l0.3 -0.3l9 -0.2l0.2 -0.3l5 0l0.3 -0.2l21 -0.5l0.2 -0.3l6.3 0l0.2 -0.2l5.5 0l0.3 -0.3l5.2 0l0.3 -0.2l4.7 0l0.3 -0.3l8.2 -0.2l3 3l6 5l4.5 3.2l4.8 2.8l0.2 -0.3l5.3 0l0.2 -0.2l4.3 0l0.2 -0.3l8.5 -0.2l0.3 -0.3l4.7 0l0.3 -0.2l5.2 0l0.3 -0.3l12.5 -0.2l0.2 -0.3l7 0l0.3 -0.2l6.7 0l0.3 -0.3l6.2 0l0.3 -0.2l4.5 0l0.2 -0.3l4.5 0l0.3 -0.2l14 -0.5l0.2 -0.3l5.3 0l0.2 -0.2l12.3 -0.3l0.2 -0.2l7 0l0.3 -0.3l7 0l0.2 -0.2l6.5 0l0.3 -0.3l4.7 0l0.3 -0.2l13.5 -0.5l0.2 -0.3l4.8 0l0.2 -0.2l5.3 0l0.2 -0.3l11.8 -0.2l0.2 -0.3l6.8 0l0.2 -0.2l7 0l0.3 -0.3l6.7 0l0.3 -0.2l5.2 0l0.3 -0.3l9 -0.2l0.2 -0.3l4.3 0l0.2 -0.2l4.8 0l0.2 -0.3l5 0l0.3 -0.2l11.7 -0.3l0.3 -0.2l6.7 0l0.3 -0.3l6.7 0l0.3 -0.2l7 0l0.2 -0.3l5.5 0l0.3 -0.2l4.5 0l0.2 -0.3l13.8 -0.5l0.2 -0.2l5 0l0.3 -0.3l11.5 -0.2l0.2 -0.3l6.5 0l0.3 -0.2l6.7 0l0.3 -0.3l7 0l0.2 -0.2l6 0l0.3 -0.3l4.5 0l0.2 -0.2l4.3 0l0.2 -0.3l4.5 0l0.3 -0.2z"/>
<path fill="#0018ff" d="M597.9 267.6l-2.8 -1.7l-5.2 -4.3l-8 -8l-8.5 -10.2l-16.3 -21.5l-3.2 -3.8l-5.5 -5.5l-2.5 -2l-5 -3l-3.8 -1.2l-3.2 -0.3l-0.3 0.3l-1.7 0l-0.3 0.2l-3.7 0.5l-4.5 1.5l-0.8 0l-1.5 0.8l-2.7 0.7l-2 1l-1.3 0.3l-0.7 0.5l-1.3 0.2l-0.7 0.5l-1.3 0.3l-0.7 0.5l-6.3 1.7l-4 -0.5l-0.2 -0.2l-3.8 -0.8l-1 -0.5l-0.7 0l-3.5 -1.2l-0.8 0l-1 -0.5l-0.7 0l-1 -0.5l-0.8 0l-2.2 -0.8l-1 0l-1.3 -0.5l-3 -0.2l-0.2 -0.3l-2.3 0l-0.2 -0.2l-6 0l-0.3 0.2l-2 0l-0.2 0.3l-2.8 0.2l-0.2 0.3l-3.8 0.7l-6 2l-0.7 0.5l-1.3 0.3l-0.7 0.5l-1.3 0.2l-4.7 2l-6.3 1.8l-1.5 0l-0.2 -0.3l-3.8 -0.5l-2 -0.7l-1.7 -0.3l-1.8 -0.7l-0.7 0l-1 -0.5l-0.8 0l-1 -0.5l-0.7 0l-1 -0.5l-0.8 0l-4.2 -1.3l-1 0l-0.3 -0.2l-3 -0.3l-0.2 -0.2l-3 0l-0.3 -0.3l-4 0l-0.2 0.3l-4.3 0.2l-0.2 0.3l-2.3 0.2l-3 1l-0.7 0l-5.3 1.8l-0.7 0.5l-1.3 0.2l-0.7 0.5l-1.3 0.3l-4.7 2l-6 1.7l-2.3 0l-0.2 -0.2l-2.5 -0.3l-15.8 -4.5l-3.7 -0.5l-0.3 -0.2l-5.7 -0.3l-0.3 -0.2l-6.7 0.5l-0.3 0.2l-4.5 0.8l-7 2.2l-0.7 0.5l-3.3 1l-4 1.8l-6.5 2l-3.2 0l-0.3 -0.3l-2.2 -0.2l-3 -1l-0.8 0l-1 -0.5l-0.7 0l-1 -0.5l-0.8 0l-1.7 -0.8l-0.8 0l-1 -0.5l-0.7 0l-4.3 -1.2l-2.2 -0.3l-0.3 -0.2l-3.5 -0.3l-0.2 -0.2l-7.8 0l-0.2 0.2l-1.8 0l-0.2 0.3l-2.5 0.2l-0.3 0.3l-2.7 0.5l-1 0.5l-0.8 0l-6.5 2.2l-0.7 0.5l-1.3 0.3l-4 1.7l-4.5 1.5l-3 0.5l-0.2 0.3l-2.5 -0.3l-0.3 -0.2l-1 0l-0.2 -0.3l-3.8 -0.7l-5.2 -1.8l-0.8 0l-2.7 -1l-0.8 0l-2.2 -0.7l-1 0l-1.3 -0.5l-1.2 0l-1.8 -0.5l-2.5 0l-0.2 -0.3l-6 0l-0.3 0.3l-1.7 0l-7 2l-5.3 2.5l-0.5 0l-2.2 1.2l-0.5 0l-1.8 1l-0.5 0l-2.7 1.3l-0.8 0l-1.2 0.5l-6.5 0l-0.3 0.2l-3 0.3l-3.2 1l-4.3 2l-4.2 2.7l-6.8 5.5l-15.5 15.3l-9.5 8.5l-8.2 6l-7.3 4l2.3 0l0.2 -0.3l6.3 0l0.2 -0.2l7.3 0l0.2 -0.3l6.8 0l0.2 -0.2l6.3 0l0.2 -0.3l10.5 -0.2l0.3 -0.3l4.5 0l0.2 -0.2l4.5 0l0.3 -0.3l4.5 0l0.2 -0.2l4.5 0l0.3 -0.3l12.5 -0.2l0.2 -0.3l7 0l0.3 -0.2l6.5 0l0.2 -0.3l6 0l0.3 -0.2l5.5 0l0.2 -0.3l5 0l0.3 -0.2l9 -0.3l3.7 3.8l8 6.5l5.3 3.5l1.5 -0.5l5 0l0.2 -0.3l13.5 -0.5l0.3 -0.2l4.7 0l0.3 -0.3l11.7 -0.2l0.3 -0.3l6.5 0l0.2 -0.2l6.8 0l0.2 -0.3l6.8 0l0.2 -0.2l5.5 0l0.3 -0.3l4.7 0l0.3 -0.2l14 -0.5l0.2 -0.3l5 0l0.3 -0.2l5.2 0l0.3 -0.3l19.5 -0.5l0.2 -0.2l6.8 0l0.2 -0.3l6.3 0l0.2 -0.2l4.5 0l0.3 -0.3l14 -0.5l0.2 -0.2l5 0l0.3 -0.3l5 0l0.2 -0.2l6 0l0.3 -0.3l6 0l0.2 -0.2l7 0l0.3 -0.3l6.7 0l0.3 -0.2l6.2 0l0.3 -0.3l5 0l0.2 -0.2l13.8 -0.5l0.2 -0.3l4.8 0l0.2 -0.2l5 0l0.3 -0.3l12.2 -0.2l0.3 -0.3l6.7 0l0.3 -0.2l6.7 0l0.3 -0.3l6.5 0l0.2 -0.2l5 0l0.3 -0.3l4.5 0l0.2 -0.2l4.5 0l0.3 -0.3l4.5 0l0.2 -0.2l4.5 0l0.3 -0.3l17.2 -0.5l0.3 -0.2l6.7 0l0.3 -0.3l6.7 0l0.3 -0.2l6.5 0l0.2 -0.3l5.5 0l0.3 -0.2l4.7 0l0.3 -0.3l4.2 0l0.3 -0.2l4.5 0l0.2 -0.3l4.5 0l0.3 -0.2z"/>
<path fill="#0028ff" d="M596.1 266.4l-2 -1.3l-4.2 -3.5l-8 -8l-8.5 -10.2l-16.3 -21.5l-3.2 -3.8l-5.5 -5.5l-2.5 -2l-5 -3l-3.8 -1.2l-3.2 -0.3l-0.3 0.3l-1.7 0l-0.3 0.2l-3.7 0.5l-4.5 1.5l-0.8 0l-1.5 0.8l-2.7 0.7l-2 1l-1.3 0.3l-0.7 0.5l-1.3 0.2l-0.7 0.5l-1.3 0.3l-0.7 0.5l-6.3 1.7l-4 -0.5l-0.2 -0.2l-3.8 -0.8l-1 -0.5l-0.7 0l-3.5 -1.2l-0.8 0l-1 -0.5l-0.7 0l-1 -0.5l-0.8 0l-2.2 -0.8l-1 0l-1.3 -0.5l-3 -0.2l-0.2 -0.3l-2.3 0l-0.2 -0.2l-6 0l-0.3 0.2l-2 0l-0.2 0.3l-2.8 0.2l-0.2 0.3l-3.8 0.7l-6 2l-0.7 0.5l-1.3 0.3l-0.7 0.5l-1.3 0.2l-4.7 2l-6.3 1.8l-1.5 0l-0.2 -0.3l-3.8 -0.5l-2 -0.7l-1.7 -0.3l-1.8 -0.7l-0.7 0l-1 -0.5l-0.8 0l-1 -0.5l-0.7 0l-1 -0.5l-0.8 0l-4.2 -1.3l-1 0l-0.3 -0.2l-3 -0.3l-0.2 -0.2l-3 0l-0.3 -0.3l-4 0l-0.2 0.3l-4.3 0.2l-0.2 0.3l-2.3 0.2l-3 1l-0.7 0l-5.3 1.8l-0.7 0.5l-1.3 0.2l-0.7 0.5l-1.3 0.3l-4.7 2l-6 1.7l-2.3 0l-0.2 -0.2l-2.5 -0.3l-15.8 -4.5l-3.7 -0.5l-0.3 -0.2l-5.7 -0.3l-0.3 -0.2l-6.7 0.5l-0.3 0.2l-4.5 0.8l-7 2.2l-0.7 0.5l-3.3 1l-4 1.8l-6.5 2l-3.2 0l-0.3 -0.3l-2.2 -0.2l-3 -1l-0.8 0l-1 -0.5l-0.7 0l-1 -0.5l-0.8 0l-1.7 -0.8l-0.8 0l-1 -0.5l-0.7 0l-4.3 -1.2l-2.2 -0.3l-0.3 -0.2l-3.5 -0.3l-0.2 -0.2l-7.8 0l-0.2 0.2l-1.8 0l-0.2 0.3l-2.5 0.2l-0.3 0.3l-2.7 0.5l-1 0.5l-0.8 0l-6.5 2.2l-0.7 0.5l-1.3 0.3l-4 1.7l-4.5 1.5l-3 0.5l-0.2 0.3l-2.5 -0.3l-0.3 -0.2l-1 0l-0.2 -0.3l-3.8 -0.7l-5.2 -1.8l-0.8 0l-2.7 -1l-0.8 0l-2.2 -0.7l-1 0l-1.3 -0.5l-1.2 0l-1.8 -0.5l-2.5 0l-0.2 -0.3l-6 0l-0.3 0.3l-1.7 0l-7 2l-5.3 2.5l-0.5 0l-2.2 1.2l-0.5 0l-1.8 1l-0.5 0l-2.7 1.3l-0.8 0l-1.2 0.5l-6.5 0l-0.3 0.2l-3 0.3l-3.2 1l-4.3 2l-4.2 2.7l-6.8 5.5l-15.5 15.3l-9.5 8.5l-8.2 6l-5.5 3l11.2 -0.3l0.3 -0.2l7 0l0.2 -0.3l6.3 0l0.2 -0.2l6 0l0.3 -0.3l5.2 0l0.3 -0.2l9.7 -0.3l0.3 -0.2l14.2 -0.5l0.3 -0.3l6.2 0l0.3 -0.2l6.5 0l0.2 -0.3l6.8 0l0.2 -0.2l12.3 -0.3l0.2 -0.2l5.3 0l0.2 -0.3l5 0l0.3 -0.2l4.7 0l0.3 -0.3l6.7 6.5l9 6.8l3.3 0l0.2 -0.3l4.8 0l0.2 -0.2l13.8 -0.5l0.2 -0.3l5 0l0.3 -0.2l5.7 0l0.3 -0.3l6 0l0.2 -0.2l6.8 0l0.2 -0.3l18.8 -0.5l0.2 -0.2l4.5 0l0.3 -0.3l4.5 0l0.2 -0.2l4.5 0l0.3 -0.3l16 -0.5l0.2 -0.2l6 0l0.3 -0.3l6.2 0l0.3 -0.2l6.7 0l0.3 -0.3l6.5 0l0.2 -0.2l5.5 0l0.3 -0.3l4.7 0l0.3 -0.2l14.2 -0.5l0.3 -0.3l5 0l0.2 -0.2l5.5 0l0.3 -0.3l5.7 0l0.3 -0.2l6.5 0l0.2 -0.3l19.8 -0.5l0.2 -0.2l4.5 0l0.3 -0.3l4.5 0l0.2 -0.2l4.5 0l0.3 -0.3l4.7 0l0.3 -0.2l5 0l0.2 -0.3l11.3 -0.2l0.2 -0.3l6.3 0l0.2 -0.2l6.5 0l0.3 -0.3l6.5 0l0.2 -0.2l6.5 0l0.3 -0.3l4.7 0l0.3 -0.2l9.5 -0.3l0.2 -0.2l9.5 -0.3l0.3 -0.2l17.5 -0.5l0.2 -0.3l6.5 0l0.3 -0.2l6.7 0l0.3 -0.3l6.5 0l0.2 -0.2l5.3 0l0.2 -0.3l4.5 0l0.3 -0.2l14.2 -0.5l0.3 -0.3l5.2 0z"/>
<path fill="#0038ff" d="M594.6 265.4l-4.7 -3.8l-8 -8l-8.5 -10.2l-16.3 -21.5l-3.2 -3.8l-5.5 -5.5l-2.5 -2l-5 -3l-3.8 -1.2l-3.2 -0.3l-0.3 0.3l-1.7 0l-0.3 0.2l-3.7 0.5l-4.5 1.5l-0.8 0l-1.5 0.8l-2.7 0.7l-2 1l-1.3 0.3l-0.7 0.5l-1.3 0.2l-0.7 0.5l-1.3 0.3l-0.7 0.5l-6.3 1.7l-4 -0.5l-0.2 -0.2l-3.8 -0.8l-1 -0.5l-0.7 0l-3.5 -1.2l-0.8 0l-1 -0.5l-0.7 0l-1 -0.5l-0.8 0l-2.2 -0.8l-1 0l-1.3 -0.5l-3 -0.2l-0.2 -0.3l-2.3 0l-0.2 -0.2l-6 0l-0.3 0.2l-2 0l-0.2 0.3l-2.8 0.2l-0.2 0.3l-3.8 0.7l-6 2l-0.7 0.5l-1.3 0.3l-0.7 0.5l-1.3 0.2l-4.7 2l-6.3 1.8l-1.5 0l-0.2 -0.3l-3.8 -0.5l-2 -0.7l-1.7 -0.3l-1.8 -0.7l-0.7 0l-1 -0.5l-0.8 0l-1 -0.5l-0.7 0l-1 -0.5l-0.8 0l-4.2 -1.3l-1 0l-0.3 -0.2l-3 -0.3l-0.2 -0.2l-3 0l-0.3 -0.3l-4 0l-0.2 0.3l-4.3 0.2l-0.2 0.3l-2.3 0.2l-3 1l-0.7 0l-5.3 1.8l-0.7 0.5l-1.3 0.2l-0.7 0.5l-1.3 0.3l-4.7 2l-6 1.7l-2.3 0l-0.2 -0.2l-2.5 -0.3l-15.8 -4.5l-3.7 -0.5l-0.3 -0.2l-5.7 -0.3l-0.3 -0.2l-6.7 0.5l-0.3 0.2l-4.5 0.8l-7 2.2l-0.7 0.5l-3.3 1l-4 1.8l-6.5 2l-3.2 0l-0.3 -0.3l-2.2 -0.2l-3 -1l-0.8 0l-1 -0.5l-0.7 0l-1 -0.5l-0.8 0l-1.7 -0.8l-0.8 0l-1 -0.5l-0.7 0l-4.3 -1.2l-2.2 -0.3l-0.3 -0.2l-3.5 -0.3l-0.2 -0.2l-7.8 0l-0.2 0.2l-1.8 0l-0.2 0.3l-2.5 0.2l-0.3 0.3l-2.7 0.5l-1 0.5l-0.8 0l-6.5 2.2l-0.7 0.5l-1.3 0.3l-4 1.7l-4.5 1.5l-3 0.5l-0.2 0.3l-2.5 -0.3l-0.3 -0.2l-1 0l-0.2 -0.3l-3.8 -0.7l-5.2 -1.8l-0.8 0l-2.7 -1l-0.8 0l-2.2 -0.7l-1 0l-1.3 -0.5l-1.2 0l-1.8 -0.5l-2.5 0l-0.2 -0.3l-6 0l-0.3 0.3l-1.7 0l-7 2l-5.3 2.5l-0.5 0l-2.2 1.2l-0.5 0l-1.8 1l-0.5 0l-2.7 1.3l-0.8 0l-1.2 0.5l-6.5 0l-0.3 0.2l-3 0.3l-3.2 1l-4.3 2l-4.2 2.7l-6.8 5.5l-15.5 15.3l-8 7.2l-6.7 5.3l-5.5 3.5l-1.3 0.5l0 0.2l0.3 -0.2l5.7 0l0.3 -0.3l6.7 0l0.3 -0.2l6.7 0l0.3 -0.3l12.2 -0.2l0.3 -0.3l10.2 -0.2l0.3 -0.3l14.2 -0.5l0.3 -0.2l11.7 -0.3l0.3 -0.2l6.5 0l0.2 -0.3l6.5 0l0.3 -0.2l6 0l0.2 -0.3l5.5 0l0.3 -0.2l5.5 0l0.2 -0.3l5 0l0.3 -0.2l1.2 0l7.5 7.2l7.5 5.8l0.3 -0.3l4.5 0l0.2 -0.2l4.5 0l0.3 -0.3l9.2 -0.2l0.3 -0.3l4.7 0l0.3 -0.2l5.2 0l0.3 -0.3l6 0l0.2 -0.2l6 0l0.3 -0.3l19.5 -0.5l0.2 -0.2l5 0l0.3 -0.3l9.5 -0.2l0.2 -0.3l4.5 0l0.3 -0.2l5 0l0.2 -0.3l5.3 0l0.2 -0.2l18.8 -0.5l0.2 -0.3l6.5 0l0.3 -0.2l6.2 0l0.3 -0.3l5.2 0l0.3 -0.2l14.2 -0.5l0.3 -0.3l5 0l0.2 -0.2l5.3 0l0.2 -0.3l11.5 -0.2l0.3 -0.3l6.5 0l0.2 -0.2l6.8 0l0.2 -0.3l6.3 0l0.2 -0.2l5.5 0l0.3 -0.3l9.5 -0.2l0.2 -0.3l9.5 -0.2l0.3 -0.3l5.2 0l0.3 -0.2l18 -0.5l0.2 -0.3l6.8 0l0.2 -0.2l6.5 0l0.3 -0.3l10.7 -0.2l0.3 -0.3l14.5 -0.5l0.2 -0.2l4.8 0l0.2 -0.3l18 -0.5l0.3 -0.2l6.5 0l0.2 -0.3l6.5 0l0.3 -0.2l6.2 0l0.3 -0.3l4.7 0l0.3 -0.2l4.5 0l0.2 -0.3l4.8 0l0.2 -0.2z"/>
<path fill="#0048ff" d="M593.1 264.1l-3.2 -2.5l-9.8 -10l-6.7 -8.2l-16.3 -21.5l-3.2 -3.8l-5.5 -5.5l-2.5 -2l-5 -3l-3.8 -1.2l-3.2 -0.3l-0.3 0.3l-1.7 0l-0.3 0.2l-3.7 0.5l-4.5 1.5l-0.8 0l-1.5 0.8l-2.7 0.7l-2 1l-1.3 0.3l-0.7 0.5l-1.3 0.2l-0.7 0.5l-1.3 0.3l-0.7 0.5l-6.3 1.7l-4 -0.5l-0.2 -0.2l-3.8 -0.8l-1 -0.5l-0.7 0l-3.5 -1.2l-0.8 0l-1 -0.5l-0.7 0l-1 -0.5l-0.8 0l-2.2 -0.8l-1 0l-1.3 -0.5l-3 -0.2l-0.2 -0.3l-2.3 0l-0.2 -0.2l-6 0l-0.3 0.2l-2 0l-0.2 0.3l-2.8 0.2l-0.2 0.3l-3.8 0.7l-6 2l-0.7 0.5l-1.3 0.3l-0.7 0.5l-1.3 0.2l-4.7 2l-6.3 1.8l-1.5 0l-0.2 -0.3l-3.8 -0.5l-2 -0.7l-1.7 -0.3l-1.8 -0.7l-0.7 0l-1 -0.5l-0.8 0l-1 -0.5l-0.7 0l-1 -0.5l-0.8 0l-4.2 -1.3l-1 0l-0.3 -0.2l-3 -0.3l-0.2 -0.2l-3 0l-0.3 -0.3l-4 0l-0.2 0.3l-4.3 0.2l-0.2 0.3l-2.3 0.2l-3 1l-0.7 0l-5.3 1.8l-0.7 0.5l-1.3 0.2l-0.7 0.5l-1.3 0.3l-4.7 2l-6 1.7l-2.3 0l-0.2 -0.2l-2.5 -0.3l-15.8 -4.5l-3.7 -0.5l-0.3 -0.2l-5.7 -0.3l-0.3 -0.2l-6.7 0.5l-0.3 0.2l-4.5 0.8l-7 2.2l-0.7 0.5l-3.3 1l-4 1.8l-6.5 2l-3.2 0l-0.3 -0.3l-2.2 -0.2l-3 -1l-0.8 0l-1 -0.5l-0.7 0l-1 -0.5l-0.8 0l-1.7 -0.8l-0.8 0l-1 -0.5l-0.7 0l-4.3 -1.2l-2.2 -0.3l-0.3 -0.2l-3.5 -0.3l-0.2 -0.2l-7.8 0l-0.2 0.2l-1.8 0l-0.2 0.3l-2.5 0.2l-0.3 0.3l-2.7 0.5l-1 0.5l-0.8 0l-6.5 2.2l-0.7 0.5l-1.3 0.3l-4 1.7l-4.5 1.5l-3 0.5l-0.2 0.3l-2.5 -0.3l-0.3 -0.2l-1 0l-0.2 -0.3l-3.8 -0.7l-5.2 -1.8l-0.8 0l-2.7 -1l-0.8 0l-2.2 -0.7l-1 0l-1.3 -0.5l-1.2 0l-1.8 -0.5l-2.5 0l-0.2 -0.3l-6 0l-0.3 0.3l-1.7 0l-7 2l-5.3 2.5l-0.5 0l-2.2 1.2l-0.5 0l-1.8 1l-0.5 0l-2.7 1.3l-0.8 0l-1.2 0.5l-6.5 0l-0.3 0.2l-3 0.3l-3.2 1l-4.3 2l-4.2 2.7l-6.8 5.5l-15.5 15.3l-8 7.2l-6.7 5.3l-5 3l0 0.2l1.2 0l0.3 -0.2l6 0l0.2 -0.3l6.8 0l0.2 -0.2l18.5 -0.5l0.3 -0.3l5.2 0l0.3 -0.2l4.7 0l0.3 -0.3l4.7 0l0.3 -0.2l4.7 0l0.3 -0.3l4.7 0l0.3 -0.2l5.5 0l0.2 -0.3l13 -0.2l0.3 -0.3l6 0l0.2 -0.2l6 0l0.3 -0.3l5.5 0l0.2 -0.2l8.8 -0.3l6.2 6.3l8 6.5l1 -0.5l5.3 0l0.2 -0.3l9.5 -0.2l0.3 -0.3l4.5 0l0.2 -0.2l5 0l0.3 -0.3l18 -0.5l0.2 -0.2l6.5 0l0.3 -0.3l6.2 0l0.3 -0.2l5.7 0l0.3 -0.3l4.7 0l0.3 -0.2l4.7 0l0.3 -0.3l9.7 -0.2l0.3 -0.3l5 0l0.2 -0.2l18 -0.5l0.3 -0.3l6.2 0l0.3 -0.2l6.2 0l0.3 -0.3l6 0l0.2 -0.2l5 0l0.3 -0.3l4.7 0l0.3 -0.2l4.7 0l0.3 -0.3l4.7 0l0.3 -0.2l5 0l0.2 -0.3l17.5 -0.5l0.3 -0.2l6.2 0l0.3 -0.3l6.7 0l0.3 -0.2l6 0l0.2 -0.3l5 0l0.3 -0.2l4.7 0l0.3 -0.3l4.7 0l0.3 -0.2l9.7 -0.3l0.3 -0.2l17.5 -0.5l0.2 -0.3l6.3 0l0.2 -0.2l6.5 0l0.3 -0.3l6.2 0l0.3 -0.2l5.2 0l0.3 -0.3l9.7 -0.2l0.3 -0.3l4.5 0l0.2 -0.2l5.3 0l0.2 -0.3l10.8 -0.2l0.2 -0.3l6 0l0.3 -0.2l6 0l0.2 -0.3l6.5 0l0.3 -0.2l6.2 0l0.3 -0.3l5.7 0l0.3 -0.2l4.7 0l0.3 -0.3l4.7 0l0.3 -0.2l4.7 0l0.3 -0.3l4.7 0l0.3 -0.2z"/>
<path fill="#0058ff" d="M591.6 263.1l-9.7 -9.5l-3.3 -3.7l-7.7 -9.8l-9 -12.2l-4.8 -6l-3.2 -3.8l-5.5 -5.5l-2.5 -2l-5 -3l-3.8 -1.2l-3.2 -0.3l-0.3 0.3l-1.7 0l-0.3 0.2l-3.7 0.5l-4.5 1.5l-0.8 0l-1.5 0.8l-2.7 0.7l-2 1l-1.3 0.3l-0.7 0.5l-1.3 0.2l-0.7 0.5l-1.3 0.3l-0.7 0.5l-6.3 1.7l-4 -0.5l-0.2 -0.2l-3.8 -0.8l-1 -0.5l-0.7 0l-3.5 -1.2l-0.8 0l-1 -0.5l-0.7 0l-1 -0.5l-0.8 0l-2.2 -0.8l-1 0l-1.3 -0.5l-3 -0.2l-0.2 -0.3l-2.3 0l-0.2 -0.2l-6 0l-0.3 0.2l-2 0l-0.2 0.3l-2.8 0.2l-0.2 0.3l-3.8 0.7l-6 2l-0.7 0.5l-1.3 0.3l-0.7 0.5l-1.3 0.2l-4.7 2l-6.3 1.8l-1.5 0l-0.2 -0.3l-3.8 -0.5l-2 -0.7l-1.7 -0.3l-1.8 -0.7l-0.7 0l-1 -0.5l-0.8 0l-1 -0.5l-0.7 0l-1 -0.5l-0.8 0l-4.2 -1.3l-1 0l-0.3 -0.2l-3 -0.3l-0.2 -0.2l-3 0l-0.3 -0.3l-4 0l-0.2 0.3l-4.3 0.2l-0.2 0.3l-2.3 0.2l-3 1l-0.7 0l-5.3 1.8l-0.7 0.5l-1.3 0.2l-0.7 0.5l-1.3 0.3l-4.7 2l-6 1.7l-2.3 0l-0.2 -0.2l-2.5 -0.3l-15.8 -4.5l-3.7 -0.5l-0.3 -0.2l-5.7 -0.3l-0.3 -0.2l-6.7 0.5l-0.3 0.2l-4.5 0.8l-7 2.2l-0.7 0.5l-3.3 1l-4 1.8l-6.5 2l-3.2 0l-0.3 -0.3l-2.2 -0.2l-3 -1l-0.8 0l-1 -0.5l-0.7 0l-1 -0.5l-0.8 0l-1.7 -0.8l-0.8 0l-1 -0.5l-0.7 0l-4.3 -1.2l-2.2 -0.3l-0.3 -0.2l-3.5 -0.3l-0.2 -0.2l-7.8 0l-0.2 0.2l-1.8 0l-0.2 0.3l-2.5 0.2l-0.3 0.3l-2.7 0.5l-1 0.5l-0.8 0l-6.5 2.2l-0.7 0.5l-1.3 0.3l-4 1.7l-4.5 1.5l-3 0.5l-0.2 0.3l-2.5 -0.3l-0.3 -0.2l-1 0l-0.2 -0.3l-3.8 -0.7l-5.2 -1.8l-0.8 0l-2.7 -1l-0.8 0l-2.2 -0.7l-1 0l-1.3 -0.5l-1.2 0l-1.8 -0.5l-2.5 0l-0.2 -0.3l-6 0l-0.3 0.3l-1.7 0l-7 2l-5.3 2.5l-0.5 0l-2.2 1.2l-0.5 0l-1.8 1l-0.5 0l-2.7 1.3l-0.8 0l-1.2 0.5l-6.5 0l-0.3 0.2l-3 0.3l-3.2 1l-4.3 2l-4.2 2.7l-6.8 5.5l-15.5 15.3l-8 7.2l-6.7 5.3l-3.5 2.2l9 -0.2l0.2 -0.3l6.5 0l0.3 -0.2l6.5 0l0.2 -0.3l6 0l0.3 -0.2l10.7 -0.3l0.3 -0.2l4.7 0l0.3 -0.3l4.7 0l0.3 -0.2l4.7 0l0.3 -0.3l4.7 0l0.3 -0.2l5.7 0l0.3 -0.3l6.2 0l0.3 -0.2l6.2 0l0.3 -0.3l6.2 0l0.3 -0.2l17.2 -0.5l7 7l6 5l3.5 0l0.3 -0.3l9.7 -0.2l0.3 -0.3l9.5 -0.2l0.2 -0.3l5.3 0l0.2 -0.2l18.5 -0.5l0.3 -0.3l6.2 0l0.3 -0.2l6 0l0.2 -0.3l5.3 0l0.2 -0.2l5 0l0.3 -0.3l15 -0.5l0.2 -0.2l5.3 0l0.2 -0.3l18 -0.5l0.3 -0.2l6.2 0l0.3 -0.3l6.2 0l0.3 -0.2l5.5 0l0.2 -0.3l5 0l0.3 -0.2l9.7 -0.3l0.3 -0.2l4.7 0l0.3 -0.3l5.2 0l0.3 -0.2l17.7 -0.5l0.3 -0.3l6.5 0l0.2 -0.2l6.3 0l0.2 -0.3l5.8 0l0.2 -0.2l10 -0.3l0.3 -0.2l10 -0.3l0.2 -0.2l5 0l0.3 -0.3l5.2 0l0.3 -0.2l6 0l0.2 -0.3l5.8 0l0.2 -0.2l19 -0.5l0.3 -0.3l5 0l0.2 -0.2l4.8 0l0.2 -0.3l4.8 0l0.2 -0.2l4.8 0l0.2 -0.3l5.3 0l0.2 -0.2l5.3 0l0.2 -0.3l18.5 -0.5l0.3 -0.2l6.2 0l0.3 -0.3l6.2 0l0.3 -0.2l10.2 -0.3l0.3 -0.2l9.7 -0.3l0.3 -0.2l4.7 0l0.3 -0.3z"/>
<path fill="#0068ff" d="M590.4 261.9l-8.5 -8.3l-3.3 -3.7l-7.7 -9.8l-9 -12.2l-4.8 -6l-3.2 -3.8l-5.5 -5.5l-2.5 -2l-5 -3l-3.8 -1.2l-3.2 -0.3l-0.3 0.3l-1.7 0l-0.3 0.2l-3.7 0.5l-4.5 1.5l-0.8 0l-1.5 0.8l-2.7 0.7l-2 1l-1.3 0.3l-0.7 0.5l-1.3 0.2l-0.7 0.5l-1.3 0.3l-0.7 0.5l-6.3 1.7l-4 -0.5l-0.2 -0.2l-3.8 -0.8l-1 -0.5l-0.7 0l-3.5 -1.2l-0.8 0l-1 -0.5l-0.7 0l-1 -0.5l-0.8 0l-2.2 -0.8l-1 0l-1.3 -0.5l-3 -0.2l-0.2 -0.3l-2.3 0l-0.2 -0.2l-6 0l-0.3 0.2l-2 0l-0.2 0.3l-2.8 0.2l-0.2 0.3l-3.8 0.7l-6 2l-0.7 0.5l-1.3 0.3l-0.7 0.5l-1.3 0.2l-4.7 2l-6.3 1.8l-1.5 0l-0.2 -0.3l-3.8 -0.5l-2 -0.7l-1.7 -0.3l-1.8 -0.7l-0.7 0l-1 -0.5l-0.8 0l-1 -0.5l-0.7 0l-1 -0.5l-0.8 0l-4.2 -1.3l-1 0l-0.3 -0.2l-3 -0.3l-0.2 -0.2l-3 0l-0.3 -0.3l-4 0l-0.2 0.3l-4.3 0.2l-0.2 0.3l-2.3 0.2l-3 1l-0.7 0l-5.3 1.8l-0.7 0.5l-1.3 0.2l-0.7 0.5l-1.3 0.3l-4.7 2l-6 1.7l-2.3 0l-0.2 -0.2l-2.5 -0.3l-15.8 -4.5l-3.7 -0.5l-0.3 -0.2l-5.7 -0.3l-0.3 -0.2l-6.7 0.5l-0.3 0.2l-4.5 0.8l-7 2.2l-0.7 0.5l-3.3 1l-4 1.8l-6.5 2l-3.2 0l-0.3 -0.3l-2.2 -0.2l-3 -1l-0.8 0l-1 -0.5l-0.7 0l-1 -0.5l-0.8 0l-1.7 -0.8l-0.8 0l-1 -0.5l-0.7 0l-4.3 -1.2l-2.2 -0.3l-0.3 -0.2l-3.5 -0.3l-0.2 -0.2l-7.8 0l-0.2 0.2l-1.8 0l-0.2 0.3l-2.5 0.2l-0.3 0.3l-2.7 0.5l-1 0.5l-0.8 0l-6.5 2.2l-0.7 0.5l-1.3 0.3l-4 1.7l-4.5 1.5l-3 0.5l-0.2 0.3l-2.5 -0.3l-0.3 -0.2l-1 0l-0.2 -0.3l-3.8 -0.7l-5.2 -1.8l-0.8 0l-2.7 -1l-0.8 0l-2.2 -0.7l-1 0l-1.3 -0.5l-1.2 0l-1.8 -0.5l-2.5 0l-0.2 -0.3l-6 0l-0.3 0.3l-1.7 0l-7 2l-5.3 2.5l-0.5 0l-2.2 1.2l-0.5 0l-1.8 1l-0.5 0l-2.7 1.3l-0.8 0l-1.2 0.5l-6.5 0l-0.3 0.2l-3 0.3l-3.2 1l-4.3 2l-4.2 2.7l-4.8 3.8l-5.7 5.2l-15.8 15.5l-6.7 5.8l-6 4.2l10.2 -0.2l0.3 -0.3l6.2 0l0.3 -0.2l6.2 0l0.3 -0.3l5.7 0l0.3 -0.2l11 -0.3l0.2 -0.2l10 -0.3l0.3 -0.2l10 -0.3l0.2 -0.2l5.8 0l0.2 -0.3l6.3 0l0.2 -0.2l6.3 0l0.2 -0.3l5.8 0l0.2 -0.2l5.8 0l0.2 -0.3l5.8 0l0.2 -0.2l2 0l8 8l4.8 4l0.2 -0.3l5 0l0.3 -0.2l4.7 0l0.3 -0.3l4.7 0l0.3 -0.2l4.7 0l0.3 -0.3l5 0l0.2 -0.2l17.8 -0.5l0.2 -0.3l6.3 0l0.2 -0.2l6 0l0.3 -0.3l6 0l0.2 -0.2l10 -0.3l0.3 -0.2l10 -0.3l0.2 -0.2l5.3 0l0.2 -0.3l5 0l0.3 -0.2l6 0l0.2 -0.3l5.8 0l0.2 -0.2l18.8 -0.5l0.2 -0.3l5.5 0l0.3 -0.2l15 -0.5l0.2 -0.3l4.8 0l0.2 -0.2l17.8 -0.5l0.2 -0.3l6 0l0.3 -0.2l6 0l0.2 -0.3l6.3 0l0.2 -0.2l10.5 -0.3l0.3 -0.2l10 -0.3l0.2 -0.2l4.8 0l0.2 -0.3l17.3 -0.5l0.2 -0.2l6.3 0l0.2 -0.3l6 0l0.3 -0.2l6 0l0.2 -0.3l5.8 0l0.2 -0.2l10 -0.3l0.3 -0.2l10 -0.3l0.2 -0.2l17 -0.5l0.3 -0.3l5.7 0l0.3 -0.2l6.5 0l0.2 -0.3l6 0l0.3 -0.2l6 0l0.2 -0.3l5 0l0.3 -0.2l4.7 0l0.3 -0.3l4.7 0l0.3 -0.2l5 0l0.2 -0.3z"/>
<path fill="#0078ff" d="M588.9 260.6l-7 -7l-3.3 -3.7l-7.7 -9.8l-9 -12.2l-4.8 -6l-3.2 -3.8l-5.5 -5.5l-2.5 -2l-5 -3l-3.8 -1.2l-3.2 -0.3l-0.3 0.3l-1.7 0l-0.3 0.2l-3.7 0.5l-4.5 1.5l-0.8 0l-1.5 0.8l-2.7 0.7l-2 1l-1.3 0.3l-0.7 0.5l-1.3 0.2l-0.7 0.5l-1.3 0.3l-0.7 0.5l-6.3 1.7l-4 -0.5l-0.2 -0.2l-3.8 -0.8l-1 -0.5l-0.7 0l-3.5 -1.2l-0.8 0l-1 -0.5l-0.7 0l-1 -0.5l-0.8 0l-2.2 -0.8l-1 0l-1.3 -0.5l-3 -0.2l-0.2 -0.3l-2.3 0l-0.2 -0.2l-6 0l-0.3 0.2l-2 0l-0.2 0.3l-2.8 0.2l-0.2 0.3l-3.8 0.7l-6 2l-0.7 0.5l-1.3 0.3l-0.7 0.5l-1.3 0.2l-4.7 2l-6.3 1.8l-1.5 0l-0.2 -0.3l-3.8 -0.5l-2 -0.7l-1.7 -0.3l-1.8 -0.7l-0.7 0l-1 -0.5l-0.8 0l-1 -0.5l-0.7 0l-1 -0.5l-0.8 0l-4.2 -1.3l-1 0l-0.3 -0.2l-3 -0.3l-0.2 -0.2l-3 0l-0.3 -0.3l-4 0l-0.2 0.3l-4.3 0.2l-0.2 0.3l-2.3 0.2l-3 1l-0.7 0l-5.3 1.8l-0.7 0.5l-1.3 0.2l-0.7 0.5l-1.3 0.3l-4.7 2l-6 1.7l-2.3 0l-0.2 -0.2l-2.5 -0.3l-15.8 -4.5l-3.7 -0.5l-0.3 -0.2l-5.7 -0.3l-0.3 -0.2l-6.7 0.5l-0.3 0.2l-4.5 0.8l-7 2.2l-0.7 0.5l-3.3 1l-4 1.8l-6.5 2l-3.2 0l-0.3 -0.3l-2.2 -0.2l-3 -1l-0.8 0l-1 -0.5l-0.7 0l-1 -0.5l-0.8 0l-1.7 -0.8l-0.8 0l-1 -0.5l-0.7 0l-4.3 -1.2l-2.2 -0.3l-0.3 -0.2l-3.5 -0.3l-0.2 -0.2l-7.8 0l-0.2 0.2l-1.8 0l-0.2 0.3l-2.5 0.2l-0.3 0.3l-2.7 0.5l-1 0.5l-0.8 0l-6.5 2.2l-0.7 0.5l-1.3 0.3l-4 1.7l-4.5 1.5l-3 0.5l-0.2 0.3l-2.5 -0.3l-0.3 -0.2l-1 0l-0.2 -0.3l-3.8 -0.7l-5.2 -1.8l-0.8 0l-2.7 -1l-0.8 0l-2.2 -0.7l-1 0l-1.3 -0.5l-1.2 0l-1.8 -0.5l-2.5 0l-0.2 -0.3l-6 0l-0.3 0.3l-1.7 0l-7 2l-5.3 2.5l-0.5 0l-2.2 1.2l-0.5 0l-1.8 1l-0.5 0l-2.7 1.3l-0.8 0l-1.2 0.5l-6.5 0l-0.3 0.2l-3 0.3l-3.2 1l-4.3 2l-4.2 2.7l-4.8 3.8l-5.7 5.2l-15.8 15.5l-5.5 4.8l-5.7 4.2l17.5 -0.5l0.2 -0.2l6 0l0.3 -0.3l6 0l0.2 -0.2l10.8 -0.3l0.2 -0.2l5 0l0.3 -0.3l15.2 -0.5l0.3 -0.2l6 0l0.2 -0.3l6 0l0.3 -0.2l6.2 0l0.3 -0.3l17 -0.5l8.7 8.8l3.5 3l0.3 -0.3l1.5 0l0.2 -0.2l10.3 -0.3l0.2 -0.2l4.8 0l0.2 -0.3l4.8 0l0.2 -0.2l5.5 0l0.3 -0.3l11.5 -0.2l0.2 -0.3l6 0l0.3 -0.2l18.2 -0.5l0.3 -0.3l5 0l0.2 -0.2l15.3 -0.5l0.2 -0.3l17.3 -0.5l0.2 -0.2l6 0l0.3 -0.3l6 0l0.2 -0.2l5.8 0l0.2 -0.3l5.8 0l0.2 -0.2l5.3 0l0.2 -0.3l10 -0.2l0.3 -0.3l4.7 0l0.3 -0.2l5.2 0l0.3 -0.3l5.5 0l0.2 -0.2l18.3 -0.5l0.2 -0.3l6 0l0.3 -0.2l6 0l0.2 -0.3l5.3 0l0.2 -0.2l15.3 -0.5l0.2 -0.3l5 0l0.3 -0.2l17.5 -0.5l0.2 -0.3l5.8 0l0.2 -0.2l6.3 0l0.2 -0.3l6 0l0.3 -0.2l5.2 0l0.3 -0.3l5 0l0.2 -0.2l15.3 -0.5l0.2 -0.3l17.5 -0.5l0.3 -0.2l6 0l0.2 -0.3l6 0l0.3 -0.2l6 0l0.2 -0.3l5.3 0l0.2 -0.2l5 0l0.3 -0.3l5 0l0.2 -0.2l5 0l0.3 -0.3l5 0l0.2 -0.2l5.3 0z"/>
<path fill="#0087ff" d="M587.9 259.6l-6 -6l-3.3 -3.7l-7.7 -9.8l-9 -12.2l-4.8 -6l-3.2 -3.8l-5.5 -5.5l-2.5 -2l-5 -3l-3.8 -1.2l-3.2 -0.3l-0.3 0.3l-1.7 0l-0.3 0.2l-3.7 0.5l-4.5 1.5l-0.8 0l-1.5 0.8l-2.7 0.7l-2 1l-1.3 0.3l-0.7 0.5l-1.3 0.2l-0.7 0.5l-1.3 0.3l-0.7 0.5l-6.3 1.7l-4 -0.5l-0.2 -0.2l-3.8 -0.8l-1 -0.5l-0.7 0l-3.5 -1.2l-0.8 0l-1 -0.5l-0.7 0l-1 -0.5l-0.8 0l-2.2 -0.8l-1 0l-1.3 -0.5l-3 -0.2l-0.2 -0.3l-2.3 0l-0.2 -0.2l-6 0l-0.3 0.2l-2 0l-0.2 0.3l-2.8 0.2l-0.2 0.3l-3.8 0.7l-6 2l-0.7 0.5l-1.3 0.3l-0.7 0.5l-1.3 0.2l-4.7 2l-6.3 1.8l-1.5 0l-0.2 -0.3l-3.8 -0.5l-2 -0.7l-1.7 -0.3l-1.8 -0.7l-0.7 0l-1 -0.5l-0.8 0l-1 -0.5l-0.7 0l-1 -0.5l-0.8 0l-4.2 -1.3l-1 0l-0.3 -0.2l-3 -0.3l-0.2 -0.2l-3 0l-0.3 -0.3l-4 0l-0.2 0.3l-4.3 0.2l-0.2 0.3l-2.3 0.2l-3 1l-0.7 0l-5.3 1.8l-0.7 0.5l-1.3 0.2l-0.7 0.5l-1.3 0.3l-4.7 2l-6 1.7l-2.3 0l-0.2 -0.2l-2.5 -0.3l-15.8 -4.5l-3.7 -0.5l-0.3 -0.2l-5.7 -0.3l-0.3 -0.2l-6.7 0.5l-0.3 0.2l-4.5 0.8l-7 2.2l-0.7 0.5l-3.3 1l-4 1.8l-6.5 2l-3.2 0l-0.3 -0.3l-2.2 -0.2l-3 -1l-0.8 0l-1 -0.5l-0.7 0l-1 -0.5l-0.8 0l-1.7 -0.8l-0.8 0l-1 -0.5l-0.7 0l-4.3 -1.2l-2.2 -0.3l-0.3 -0.2l-3.5 -0.3l-0.2 -0.2l-7.8 0l-0.2 0.2l-1.8 0l-0.2 0.3l-2.5 0.2l-0.3 0.3l-2.7 0.5l-1 0.5l-0.8 0l-6.5 2.2l-0.7 0.5l-1.3 0.3l-4 1.7l-4.5 1.5l-3 0.5l-0.2 0.3l-2.5 -0.3l-0.3 -0.2l-1 0l-0.2 -0.3l-3.8 -0.7l-5.2 -1.8l-0.8 0l-2.7 -1l-0.8 0l-2.2 -0.7l-1 0l-1.3 -0.5l-1.2 0l-1.8 -0.5l-2.5 0l-0.2 -0.3l-6 0l-0.3 0.3l-1.7 0l-7 2l-5.3 2.5l-0.5 0l-2.2 1.2l-0.5 0l-1.8 1l-0.5 0l-2.7 1.3l-0.8 0l-1.2 0.5l-6.5 0l-0.3 0.2l-3 0.3l-3.2 1l-4.3 2l-4.2 2.7l-6.8 5.5l-19.5 19l-5.5 4.8l-4.5 3.2l0 0.3l0.5 -0.3l5.3 0l0.2 -0.2l6.3 0l0.2 -0.3l18.3 -0.5l0.2 -0.2l10.8 -0.3l0.2 -0.2l5 0l0.3 -0.3l4.7 0l0.3 -0.2l5.2 0l0.3 -0.3l5.2 0l0.3 -0.2l5.7 0l0.3 -0.3l6 0l0.2 -0.2l6 0l0.3 -0.3l5.7 0l0.3 -0.2l5.7 0l0.3 -0.3l2 0l11.7 11.5l0.3 -0.2l4 0l0.2 -0.3l5 0l0.3 -0.2l5 0l0.2 -0.3l5 0l0.3 -0.2l5 0l0.2 -0.3l5.3 0l0.2 -0.2l5.8 0l0.2 -0.3l6 0l0.3 -0.2l5.7 0l0.3 -0.3l12 -0.2l0.2 -0.3l5.3 0l0.2 -0.2l5 0l0.3 -0.3l5 0l0.2 -0.2l5 0l0.3 -0.3l5.2 0l0.3 -0.2l17.2 -0.5l0.3 -0.3l6 0l0.2 -0.2l6 0l0.3 -0.3l6 0l0.2 -0.2l10.5 -0.3l0.3 -0.2l15.7 -0.5l0.3 -0.3l5.2 0l0.3 -0.2l11.7 -0.3l0.3 -0.2l5.7 0l0.3 -0.3l6 0l0.2 -0.2l5.8 0l0.2 -0.3l11 -0.2l0.3 -0.3l10.2 -0.2l0.3 -0.3l5 0l0.2 -0.2l5.3 0l0.2 -0.3l17.8 -0.5l0.2 -0.2l6 0l0.3 -0.3l6 0l0.2 -0.2l5.5 0l0.3 -0.3l5 0l0.2 -0.2l5 0l0.3 -0.3l5 0l0.2 -0.2l5 0l0.3 -0.3l11.2 -0.2l0.3 -0.3l5.5 0l0.2 -0.2l5.8 0l0.2 -0.3l6 0l0.3 -0.2l6 0l0.2 -0.3l5.8 0l0.2 -0.2l5.3 0l0.2 -0.3l5 0l0.3 -0.2l5 0l0.2 -0.3l5 0l0.3 -0.2z"/>
<path fill="#0097ff" d="M586.6 258.4l-4.7 -4.8l-4.5 -5.2l-20.3 -26.5l-3.2 -3.8l-5.5 -5.5l-2.5 -2l-5 -3l-3.8 -1.2l-3.2 -0.3l-0.3 0.3l-1.7 0l-0.3 0.2l-3.7 0.5l-4.5 1.5l-0.8 0l-1.5 0.8l-2.7 0.7l-2 1l-1.3 0.3l-0.7 0.5l-1.3 0.2l-0.7 0.5l-1.3 0.3l-0.7 0.5l-6.3 1.7l-4 -0.5l-0.2 -0.2l-3.8 -0.8l-1 -0.5l-0.7 0l-3.5 -1.2l-0.8 0l-1 -0.5l-0.7 0l-1 -0.5l-0.8 0l-2.2 -0.8l-1 0l-1.3 -0.5l-3 -0.2l-0.2 -0.3l-2.3 0l-0.2 -0.2l-6 0l-0.3 0.2l-2 0l-0.2 0.3l-2.8 0.2l-0.2 0.3l-3.8 0.7l-6 2l-0.7 0.5l-1.3 0.3l-0.7 0.5l-1.3 0.2l-4.7 2l-6.3 1.8l-1.5 0l-0.2 -0.3l-3.8 -0.5l-2 -0.7l-1.7 -0.3l-1.8 -0.7l-0.7 0l-1 -0.5l-0.8 0l-1 -0.5l-0.7 0l-1 -0.5l-0.8 0l-4.2 -1.3l-1 0l-0.3 -0.2l-3 -0.3l-0.2 -0.2l-3 0l-0.3 -0.3l-4 0l-0.2 0.3l-4.3 0.2l-0.2 0.3l-2.3 0.2l-3 1l-0.7 0l-5.3 1.8l-0.7 0.5l-1.3 0.2l-0.7 0.5l-1.3 0.3l-4.7 2l-6 1.7l-2.3 0l-0.2 -0.2l-2.5 -0.3l-15.8 -4.5l-3.7 -0.5l-0.3 -0.2l-5.7 -0.3l-0.3 -0.2l-6.7 0.5l-0.3 0.2l-4.5 0.8l-7 2.2l-0.7 0.5l-3.3 1l-4 1.8l-6.5 2l-3.2 0l-0.3 -0.3l-2.2 -0.2l-3 -1l-0.8 0l-1 -0.5l-0.7 0l-1 -0.5l-0.8 0l-1.7 -0.8l-0.8 0l-1 -0.5l-0.7 0l-4.3 -1.2l-2.2 -0.3l-0.3 -0.2l-3.5 -0.3l-0.2 -0.2l-7.8 0l-0.2 0.2l-1.8 0l-0.2 0.3l-2.5 0.2l-0.3 0.3l-2.7 0.5l-1 0.5l-0.8 0l-6.5 2.2l-0.7 0.5l-1.3 0.3l-4 1.7l-4.5 1.5l-3 0.5l-0.2 0.3l-2.5 -0.3l-0.3 -0.2l-1 0l-0.2 -0.3l-3.8 -0.7l-5.2 -1.8l-0.8 0l-2.7 -1l-0.8 0l-2.2 -0.7l-1 0l-1.3 -0.5l-1.2 0l-1.8 -0.5l-2.5 0l-0.2 -0.3l-6 0l-0.3 0.3l-1.7 0l-7 2l-5.3 2.5l-0.5 0l-2.2 1.2l-0.5 0l-1.8 1l-0.5 0l-2.7 1.3l-0.8 0l-1.2 0.5l-6.5 0l-0.3 0.2l-3 0.3l-3.2 1l-4.3 2l-4.2 2.7l-6.8 5.5l-15.5 15.3l-8 7.2l-4 3l-0.5 0.8l0.8 0l0.2 -0.3l5.8 0l0.2 -0.2l5.8 0l0.2 -0.3l6 0l0.3 -0.2l17.2 -0.5l0.3 -0.3l5.2 0l0.3 -0.2l5 0l0.2 -0.3l5 0l0.3 -0.2l5.2 0l0.3 -0.3l5.5 0l0.2 -0.2l5.8 0l0.2 -0.3l6 0l0.3 -0.2l17.2 -0.5l10.5 10.5l0.8 0.5l0.7 0l0.3 -0.3l5.5 0l0.2 -0.2l15.8 -0.5l0.2 -0.3l5.3 0l0.2 -0.2l5.3 0l0.2 -0.3l5.8 0l0.2 -0.2l18.3 -0.5l0.2 -0.3l11 -0.2l0.3 -0.3l15.7 -0.5l0.3 -0.2l5.2 0l0.3 -0.3l5.5 0l0.2 -0.2l5.5 0l0.3 -0.3l6 0l0.2 -0.2l5.8 0l0.2 -0.3l17.5 -0.5l0.3 -0.2l10.2 -0.3l0.3 -0.2l5 0l0.2 -0.3l5.3 0l0.2 -0.2l5.5 0l0.3 -0.3l5.7 0l0.3 -0.2l5.5 0l0.2 -0.3l6 0l0.3 -0.2l17.5 -0.5l0.2 -0.3l5 0l0.3 -0.2l5 0l0.2 -0.3l5 0l0.3 -0.2l5.5 0l0.2 -0.3l17 -0.5l0.3 -0.2l6 0l0.2 -0.3l6 0l0.3 -0.2l5.5 0l0.2 -0.3l5.8 0l0.2 -0.2l10.3 -0.3l0.2 -0.2l5 0l0.3 -0.3l5 0l0.2 -0.2l17.3 -0.5l0.2 -0.3l6 0l0.3 -0.2l5.7 0l0.3 -0.3l6 0l0.2 -0.2l5.5 0l0.3 -0.3l5 0l0.2 -0.2l5.3 0l0.2 -0.3l5 0l0.3 -0.2l5.2 0l0.3 -0.3l5.2 0l0.3 -0.2z"/>
<path fill="#00a7ff" d="M585.6 257.4l-3.7 -3.8l-4.5 -5.2l-20.3 -26.5l-3.2 -3.8l-5.5 -5.5l-2.5 -2l-5 -3l-3.8 -1.2l-3.2 -0.3l-0.3 0.3l-1.7 0l-0.3 0.2l-3.7 0.5l-4.5 1.5l-0.8 0l-1.5 0.8l-2.7 0.7l-2 1l-1.3 0.3l-0.7 0.5l-1.3 0.2l-0.7 0.5l-1.3 0.3l-0.7 0.5l-6.3 1.7l-4 -0.5l-0.2 -0.2l-3.8 -0.8l-1 -0.5l-0.7 0l-3.5 -1.2l-0.8 0l-1 -0.5l-0.7 0l-1 -0.5l-0.8 0l-2.2 -0.8l-1 0l-1.3 -0.5l-3 -0.2l-0.2 -0.3l-2.3 0l-0.2 -0.2l-6 0l-0.3 0.2l-2 0l-0.2 0.3l-2.8 0.2l-0.2 0.3l-3.8 0.7l-6 2l-0.7 0.5l-1.3 0.3l-0.7 0.5l-1.3 0.2l-4.7 2l-6.3 1.8l-1.5 0l-0.2 -0.3l-3.8 -0.5l-2 -0.7l-1.7 -0.3l-1.8 -0.7l-0.7 0l-1 -0.5l-0.8 0l-1 -0.5l-0.7 0l-1 -0.5l-0.8 0l-4.2 -1.3l-1 0l-0.3 -0.2l-3 -0.3l-0.2 -0.2l-3 0l-0.3 -0.3l-4 0l-0.2 0.3l-4.3 0.2l-0.2 0.3l-2.3 0.2l-3 1l-0.7 0l-5.3 1.8l-0.7 0.5l-1.3 0.2l-0.7 0.5l-1.3 0.3l-4.7 2l-6 1.7l-2.3 0l-0.2 -0.2l-2.5 -0.3l-15.8 -4.5l-3.7 -0.5l-0.3 -0.2l-5.7 -0.3l-0.3 -0.2l-6.7 0.5l-0.3 0.2l-4.5 0.8l-7 2.2l-0.7 0.5l-3.3 1l-4 1.8l-6.5 2l-3.2 0l-0.3 -0.3l-2.2 -0.2l-3 -1l-0.8 0l-1 -0.5l-0.7 0l-1 -0.5l-0.8 0l-1.7 -0.8l-0.8 0l-1 -0.5l-0.7 0l-4.3 -1.2l-2.2 -0.3l-0.3 -0.2l-3.5 -0.3l-0.2 -0.2l-7.8 0l-0.2 0.2l-1.8 0l-0.2 0.3l-2.5 0.2l-0.3 0.3l-2.7 0.5l-1 0.5l-0.8 0l-6.5 2.2l-0.7 0.5l-1.3 0.3l-4 1.7l-4.5 1.5l-3 0.5l-0.2 0.3l-2.5 -0.3l-0.3 -0.2l-1 0l-0.2 -0.3l-3.8 -0.7l-5.2 -1.8l-0.8 0l-2.7 -1l-0.8 0l-2.2 -0.7l-1 0l-1.3 -0.5l-1.2 0l-1.8 -0.5l-2.5 0l-0.2 -0.3l-6 0l-0.3 0.3l-1.7 0l-7 2l-5.3 2.5l-0.5 0l-2.2 1.2l-0.5 0l-1.8 1l-0.5 0l-2.7 1.3l-0.8 0l-1.2 0.5l-6.5 0l-0.3 0.2l-3 0.3l-3.2 1l-4.3 2l-4.2 2.7l-6.8 5.5l-15.5 15.3l-6.2 5.7l-4.8 3.8l-0.2 0.5l91.5 -4l10.7 11l0.3 -0.3l3.2 0l0.3 -0.2l5.2 0l0.3 -0.3l5 0l0.2 -0.2l10.8 -0.3l0.2 -0.2l5 0l0.3 -0.3l5.7 0l0.3 -0.2l5.7 0l0.3 -0.3l5.7 0l0.3 -0.2l6 0l0.2 -0.3l5.5 0l0.3 -0.2l5.2 0l0.3 -0.3l16.2 -0.5l0.3 -0.2l5 0l0.2 -0.3l11.5 -0.2l0.3 -0.3l11.5 -0.2l0.2 -0.3l5.8 0l0.2 -0.2l5.8 0l0.2 -0.3l5.8 0l0.2 -0.2l15.8 -0.5l0.2 -0.3l5.3 0l0.2 -0.2l5.5 0l0.3 -0.3l5.2 0l0.3 -0.2l6 0l0.2 -0.3l5.5 0l0.3 -0.2l12 -0.3l0.2 -0.2l5.5 0l0.3 -0.3l10.5 -0.2l0.2 -0.3l5 0l0.3 -0.2l5.5 0l0.2 -0.3l16.8 -0.5l0.2 -0.2l5.8 0l0.2 -0.3l5.8 0l0.2 -0.2l6 0l0.3 -0.3l5.5 0l0.2 -0.2l10.8 -0.3l0.2 -0.2l10.5 -0.3l0.3 -0.2l5.5 0l0.2 -0.3l5.3 0l0.2 -0.2l5.5 0l0.3 -0.3l5.7 0l0.3 -0.2l12 -0.3l0.2 -0.2l5.8 0l0.2 -0.3l5.3 0l0.2 -0.2l5 0l0.3 -0.3l5.2 0l0.3 -0.2l5.2 0l0.3 -0.3z"/>
<path fill="#00b7ff" d="M584.4 256.1l-4.3 -4.5l-6.7 -8.2l-16.3 -21.5l-3.2 -3.8l-5.5 -5.5l-2.5 -2l-5 -3l-3.8 -1.2l-3.2 -0.3l-0.3 0.3l-1.7 0l-0.3 0.2l-3.7 0.5l-4.5 1.5l-0.8 0l-1.5 0.8l-2.7 0.7l-2 1l-1.3 0.3l-0.7 0.5l-1.3 0.2l-0.7 0.5l-1.3 0.3l-0.7 0.5l-6.3 1.7l-4 -0.5l-0.2 -0.2l-3.8 -0.8l-1 -0.5l-0.7 0l-3.5 -1.2l-0.8 0l-1 -0.5l-0.7 0l-1 -0.5l-0.8 0l-2.2 -0.8l-1 0l-1.3 -0.5l-3 -0.2l-0.2 -0.3l-2.3 0l-0.2 -0.2l-6 0l-0.3 0.2l-2 0l-0.2 0.3l-2.8 0.2l-0.2 0.3l-3.8 0.7l-6 2l-0.7 0.5l-1.3 0.3l-0.7 0.5l-1.3 0.2l-4.7 2l-6.3 1.8l-1.5 0l-0.2 -0.3l-3.8 -0.5l-2 -0.7l-1.7 -0.3l-1.8 -0.7l-0.7 0l-1 -0.5l-0.8 0l-1 -0.5l-0.7 0l-1 -0.5l-0.8 0l-4.2 -1.3l-1 0l-0.3 -0.2l-3 -0.3l-0.2 -0.2l-3 0l-0.3 -0.3l-4 0l-0.2 0.3l-4.3 0.2l-0.2 0.3l-2.3 0.2l-3 1l-0.7 0l-5.3 1.8l-0.7 0.5l-1.3 0.2l-0.7 0.5l-1.3 0.3l-4.7 2l-6 1.7l-2.3 0l-0.2 -0.2l-2.5 -0.3l-15.8 -4.5l-3.7 -0.5l-0.3 -0.2l-5.7 -0.3l-0.3 -0.2l-6.7 0.5l-0.3 0.2l-4.5 0.8l-7 2.2l-0.7 0.5l-3.3 1l-4 1.8l-6.5 2l-3.2 0l-0.3 -0.3l-2.2 -0.2l-3 -1l-0.8 0l-1 -0.5l-0.7 0l-1 -0.5l-0.8 0l-1.7 -0.8l-0.8 0l-1 -0.5l-0.7 0l-4.3 -1.2l-2.2 -0.3l-0.3 -0.2l-3.5 -0.3l-0.2 -0.2l-7.8 0l-0.2 0.2l-1.8 0l-0.2 0.3l-2.5 0.2l-0.3 0.3l-2.7 0.5l-1 0.5l-0.8 0l-6.5 2.2l-0.7 0.5l-1.3 0.3l-4 1.7l-4.5 1.5l-3 0.5l-0.2 0.3l-2.5 -0.3l-0.3 -0.2l-1 0l-0.2 -0.3l-3.8 -0.7l-5.2 -1.8l-0.8 0l-2.7 -1l-0.8 0l-2.2 -0.7l-1 0l-1.3 -0.5l-1.2 0l-1.8 -0.5l-2.5 0l-0.2 -0.3l-6 0l-0.3 0.3l-1.7 0l-7 2l-5.3 2.5l-0.5 0l-2.2 1.2l-0.5 0l-1.8 1l-0.5 0l-2.7 1.3l-0.8 0l-1.2 0.5l-6.5 0l-0.3 0.2l-3 0.3l-3.2 1l-4.3 2l-4.2 2.7l-6.8 5.5l-15.5 15.3l-6.2 5.7l-3.5 2.8l-0.3 0.5l8.3 -0.3l0.2 -0.2l5.8 0l0.2 -0.3l5.8 0l0.2 -0.2l5.8 0l0.2 -0.3l5.5 0l0.3 -0.2l5 0l0.2 -0.3l5.5 0l0.3 -0.2l5.2 0l0.3 -0.3l5.2 0l0.3 -0.2l5.2 0l0.3 -0.3l5.5 0l0.2 -0.2l5.5 0l0.3 -0.3l17.7 -0.5l0.3 -0.2l10.5 10.7l0.5 0l0.2 -0.2l16.3 -0.5l0.2 -0.3l5 0l0.3 -0.2l5.5 0l0.2 -0.3l5.8 0l0.2 -0.2l5.3 0l0.2 -0.3l6 0l0.3 -0.2l5.5 0l0.2 -0.3l11.5 -0.2l0.3 -0.3l10.7 -0.2l0.3 -0.3l5 0l0.2 -0.2l5.5 0l0.3 -0.3l11 -0.2l0.2 -0.3l5.8 0l0.2 -0.2l5.5 0l0.3 -0.3l17.5 -0.5l0.2 -0.2l16.5 -0.5l0.3 -0.3l5 0l0.2 -0.2l5.5 0l0.3 -0.3l5.2 0l0.3 -0.2l5.7 0l0.3 -0.3l5.7 0l0.3 -0.2l5.2 0l0.3 -0.3l0.2 0.3l0.3 -0.3l17 -0.5l0.2 -0.2l16.3 -0.5l0.2 -0.3l5 0l0.3 -0.2l5.7 0l0.3 -0.3l5.5 0l0.2 -0.2l5.5 0l0.3 -0.3l11.7 -0.2l0.3 -0.3l11.2 -0.2l0.3 -0.3l5.2 0l0.3 -0.2l5.2 0l0.3 -0.3l5.2 0l0.3 -0.2l5.2 0l0.3 -0.3l5.5 0l0.2 -0.2l5.3 0l0.2 -0.3l5.8 0l0.2 -0.2l6 0l0.3 -0.3l5.2 0l0.3 -0.2l0.2 0.2l0.3 -0.2l5.5 0l0.2 -0.3l11 -0.2l0.3 -0.3l5.2 0l0.3 -0.2l5.2 0l0.3 -0.3l5 0l0.2 -0.2l5.5 0l0.3 -0.3z"/>
<path fill="#00c7ff" d="M583.4 255.1l-4.8 -5.2l-5.2 -6.5l-16.3 -21.5l-3.2 -3.8l-5.5 -5.5l-2.5 -2l-5 -3l-3.8 -1.2l-3.2 -0.3l-0.3 0.3l-1.7 0l-0.3 0.2l-3.7 0.5l-4.5 1.5l-0.8 0l-1.5 0.8l-2.7 0.7l-2 1l-1.3 0.3l-0.7 0.5l-1.3 0.2l-0.7 0.5l-1.3 0.3l-0.7 0.5l-6.3 1.7l-4 -0.5l-0.2 -0.2l-3.8 -0.8l-1 -0.5l-0.7 0l-3.5 -1.2l-0.8 0l-1 -0.5l-0.7 0l-1 -0.5l-0.8 0l-2.2 -0.8l-1 0l-1.3 -0.5l-3 -0.2l-0.2 -0.3l-2.3 0l-0.2 -0.2l-6 0l-0.3 0.2l-2 0l-0.2 0.3l-2.8 0.2l-0.2 0.3l-3.8 0.7l-6 2l-0.7 0.5l-1.3 0.3l-0.7 0.5l-1.3 0.2l-4.7 2l-6.3 1.8l-1.5 0l-0.2 -0.3l-3.8 -0.5l-2 -0.7l-1.7 -0.3l-1.8 -0.7l-0.7 0l-1 -0.5l-0.8 0l-1 -0.5l-0.7 0l-1 -0.5l-0.8 0l-4.2 -1.3l-1 0l-0.3 -0.2l-3 -0.3l-0.2 -0.2l-3 0l-0.3 -0.3l-4 0l-0.2 0.3l-4.3 0.2l-0.2 0.3l-2.3 0.2l-3 1l-0.7 0l-5.3 1.8l-0.7 0.5l-1.3 0.2l-0.7 0.5l-1.3 0.3l-4.7 2l-6 1.7l-2.3 0l-0.2 -0.2l-2.5 -0.3l-15.8 -4.5l-3.7 -0.5l-0.3 -0.2l-5.7 -0.3l-0.3 -0.2l-6.7 0.5l-0.3 0.2l-4.5 0.8l-7 2.2l-0.7 0.5l-3.3 1l-4 1.8l-6.5 2l-3.2 0l-0.3 -0.3l-2.2 -0.2l-3 -1l-0.8 0l-1 -0.5l-0.7 0l-1 -0.5l-0.8 0l-1.7 -0.8l-0.8 0l-1 -0.5l-0.7 0l-4.3 -1.2l-2.2 -0.3l-0.3 -0.2l-3.5 -0.3l-0.2 -0.2l-7.8 0l-0.2 0.2l-1.8 0l-0.2 0.3l-2.5 0.2l-0.3 0.3l-2.7 0.5l-1 0.5l-0.8 0l-6.5 2.2l-0.7 0.5l-1.3 0.3l-4 1.7l-4.5 1.5l-3 0.5l-0.2 0.3l-2.5 -0.3l-0.3 -0.2l-1 0l-0.2 -0.3l-3.8 -0.7l-5.2 -1.8l-0.8 0l-2.7 -1l-0.8 0l-2.2 -0.7l-1 0l-1.3 -0.5l-1.2 0l-1.8 -0.5l-2.5 0l-0.2 -0.3l-6 0l-0.3 0.3l-1.7 0l-7 2l-5.3 2.5l-0.5 0l-2.2 1.2l-0.5 0l-1.8 1l-0.5 0l-2.7 1.3l-0.8 0l-1.2 0.5l-6.5 0l-0.3 0.2l-3 0.3l-3.2 1l-4.3 2l-4.2 2.7l-6.8 5.5l-15.5 15.3l-9 8l87.5 -3.8l10 10.3l3 0l0.3 -0.3l5.5 0l0.2 -0.2l16.5 -0.5l0.3 -0.3l5.2 0l0.3 -0.2l17.2 -0.5l0.3 -0.3l5.5 0l0.2 -0.2l5.8 0l0.2 -0.3l16.8 -0.5l0.2 -0.2l10.5 -0.3l0.3 -0.2l11.5 -0.3l0.2 -0.2l5.3 0l0.2 -0.3l0.3 0.3l0.2 -0.3l11.3 -0.2l0.2 -0.3l5.5 0l0.3 -0.2l5.5 0l0.2 -0.3l11 -0.2l0.3 -0.3l5.2 0l0.3 -0.2l5.2 0l0.3 -0.3l5.2 0l0.3 -0.2l11.5 -0.3l0.2 -0.2l5.5 0l0.3 -0.3l5.7 0l0.3 -0.2l5.5 0l0.2 -0.3l5.5 0l0.3 -0.2l5.2 0l0.3 -0.3l11.2 -0.2l0.3 -0.3l5.2 0l0.3 -0.2l5.2 0l0.3 -0.3l5.5 0l0.2 -0.2l17.3 -0.5l0.2 -0.3l5.8 0l0.2 -0.2l5.3 0l0.2 -0.3l5.5 0l0.3 -0.2l5.2 0l0.3 -0.3l5.5 0l0.2 -0.2l5.3 0l0.2 -0.3l5.3 0l0.2 -0.2l5.5 0l0.3 -0.3l5.5 0l0.2 -0.2l5.5 0l0.3 -0.3l5.7 0l0.3 -0.2l5.5 0l0.2 -0.3l5.5 0l0.3 -0.2l5.7 0l0.3 -0.3l5.2 0l0.3 -0.2l5.2 0l0.3 -0.3l5.5 0l0.2 -0.2z"/>
<path fill="#00d7ff" d="M582.1 253.9l-8.7 -10.5l-16.3 -21.5l-3.2 -3.8l-5.5 -5.5l-2.5 -2l-5 -3l-3.8 -1.2l-3.2 -0.3l-0.3 0.3l-1.7 0l-0.3 0.2l-3.7 0.5l-4.5 1.5l-0.8 0l-1.5 0.8l-2.7 0.7l-2 1l-1.3 0.3l-0.7 0.5l-1.3 0.2l-0.7 0.5l-1.3 0.3l-0.7 0.5l-6.3 1.7l-4 -0.5l-0.2 -0.2l-3.8 -0.8l-1 -0.5l-0.7 0l-3.5 -1.2l-0.8 0l-1 -0.5l-0.7 0l-1 -0.5l-0.8 0l-2.2 -0.8l-1 0l-1.3 -0.5l-3 -0.2l-0.2 -0.3l-2.3 0l-0.2 -0.2l-6 0l-0.3 0.2l-2 0l-0.2 0.3l-2.8 0.2l-0.2 0.3l-3.8 0.7l-6 2l-0.7 0.5l-1.3 0.3l-0.7 0.5l-1.3 0.2l-4.7 2l-6.3 1.8l-1.5 0l-0.2 -0.3l-3.8 -0.5l-2 -0.7l-1.7 -0.3l-1.8 -0.7l-0.7 0l-1 -0.5l-0.8 0l-1 -0.5l-0.7 0l-1 -0.5l-0.8 0l-4.2 -1.3l-1 0l-0.3 -0.2l-3 -0.3l-0.2 -0.2l-3 0l-0.3 -0.3l-4 0l-0.2 0.3l-4.3 0.2l-0.2 0.3l-2.3 0.2l-3 1l-0.7 0l-5.3 1.8l-0.7 0.5l-1.3 0.2l-0.7 0.5l-1.3 0.3l-4.7 2l-6 1.7l-2.3 0l-0.2 -0.2l-2.5 -0.3l-15.8 -4.5l-3.7 -0.5l-0.3 -0.2l-5.7 -0.3l-0.3 -0.2l-6.7 0.5l-0.3 0.2l-4.5 0.8l-7 2.2l-0.7 0.5l-3.3 1l-4 1.8l-6.5 2l-3.2 0l-0.3 -0.3l-2.2 -0.2l-3 -1l-0.8 0l-1 -0.5l-0.7 0l-1 -0.5l-0.8 0l-1.7 -0.8l-0.8 0l-1 -0.5l-0.7 0l-4.3 -1.2l-2.2 -0.3l-0.3 -0.2l-3.5 -0.3l-0.2 -0.2l-7.8 0l-0.2 0.2l-1.8 0l-0.2 0.3l-2.5 0.2l-0.3 0.3l-2.7 0.5l-1 0.5l-0.8 0l-6.5 2.2l-0.7 0.5l-1.3 0.3l-4 1.7l-4.5 1.5l-3 0.5l-0.2 0.3l-2.5 -0.3l-0.3 -0.2l-1 0l-0.2 -0.3l-3.8 -0.7l-5.2 -1.8l-0.8 0l-2.7 -1l-0.8 0l-2.2 -0.7l-1 0l-1.3 -0.5l-1.2 0l-1.8 -0.5l-2.5 0l-0.2 -0.3l-6 0l-0.3 0.3l-1.7 0l-7 2l-5.3 2.5l-0.5 0l-2.2 1.2l-0.5 0l-1.8 1l-0.5 0l-2.7 1.3l-0.8 0l-1.2 0.5l-6.5 0l-0.3 0.2l-3 0.3l-3.2 1l-4.3 2l-4.2 2.7l-6.8 5.5l-15.5 15.3l-7.7 7l9.5 -0.3l0.2 -0.2l5.5 0l0.3 -0.3l5.5 0l0.2 -0.2l5.8 0l0.2 -0.3l5.5 0l0.3 -0.2l5.2 0l0.3 -0.3l5.5 0l0.2 -0.2l5.3 0l0.2 -0.3l5.5 0l0.3 -0.2l5.5 0l0.2 -0.3l5.5 0l0.3 -0.2l5.5 0l0.2 -0.3l5.5 0l0.3 -0.2l5.5 0l0.2 -0.3l1.3 0l3.5 4l6.2 6.3l0.3 -0.3l11.2 -0.2l0.3 -0.3l10.7 -0.2l0.3 -0.3l5.2 0l0.3 -0.2l5.7 0l0.3 -0.3l11 -0.2l0.2 -0.3l6 0l0.3 -0.2l5.2 0l0.3 -0.3l17 -0.5l0.2 -0.2l5.3 0l0.2 -0.3l5.3 0l0.2 -0.2l5.8 0l0.2 -0.3l5.3 0l0.2 -0.2l5.5 0l0.3 -0.3l5.5 0l0.2 -0.2l11.5 -0.3l0.3 -0.2l5.2 0l0.3 -0.3l11.2 -0.2l0.3 -0.3l5.2 0l0.3 -0.2l5.5 0l0.2 -0.3l16.8 -0.5l0.2 -0.2l5.5 0l0.3 -0.3l5.5 0l0.2 -0.2l5.8 0l0.2 -0.3l5.3 0l0.2 -0.2l11.3 -0.3l0.2 -0.2l5.3 0l0.2 -0.3l5.5 0l0.3 -0.2l11.2 -0.3l0.3 -0.2l5.2 0l0.3 -0.3l17.2 -0.5l0.3 -0.2l5.2 0l0.3 -0.3l5.7 0l0.3 -0.2l5.2 0l0.3 -0.3l5.7 0l0.3 -0.2l5 0l0.2 -0.3l5.5 0l0.3 -0.2l5.5 0l0.2 -0.3l5.5 0l0.3 -0.2l11.2 -0.3l0.3 -0.2l5.7 0l0.3 -0.3l11.2 -0.2l0.3 -0.3l5.2 0l0.3 -0.2l5.2 0l0.3 -0.3l5.5 0l0.2 -0.2l5.5 0l0.3 -0.3l5 0l0.2 -0.2z"/>
<path fill="#00e7ff" d="M581.4 252.9l-8 -9.5l-16.3 -21.5l-3.2 -3.8l-5.5 -5.5l-2.5 -2l-5 -3l-3.8 -1.2l-3.2 -0.3l-0.3 0.3l-1.7 0l-0.3 0.2l-3.7 0.5l-4.5 1.5l-0.8 0l-1.5 0.8l-2.7 0.7l-2 1l-1.3 0.3l-0.7 0.5l-1.3 0.2l-0.7 0.5l-1.3 0.3l-0.7 0.5l-6.3 1.7l-4 -0.5l-0.2 -0.2l-3.8 -0.8l-1 -0.5l-0.7 0l-3.5 -1.2l-0.8 0l-1 -0.5l-0.7 0l-1 -0.5l-0.8 0l-2.2 -0.8l-1 0l-1.3 -0.5l-3 -0.2l-0.2 -0.3l-2.3 0l-0.2 -0.2l-6 0l-0.3 0.2l-2 0l-0.2 0.3l-2.8 0.2l-0.2 0.3l-3.8 0.7l-6 2l-0.7 0.5l-1.3 0.3l-0.7 0.5l-1.3 0.2l-4.7 2l-6.3 1.8l-1.5 0l-0.2 -0.3l-3.8 -0.5l-2 -0.7l-1.7 -0.3l-1.8 -0.7l-0.7 0l-1 -0.5l-0.8 0l-1 -0.5l-0.7 0l-1 -0.5l-0.8 0l-4.2 -1.3l-1 0l-0.3 -0.2l-3 -0.3l-0.2 -0.2l-3 0l-0.3 -0.3l-4 0l-0.2 0.3l-4.3 0.2l-0.2 0.3l-2.3 0.2l-3 1l-0.7 0l-5.3 1.8l-0.7 0.5l-1.3 0.2l-0.7 0.5l-1.3 0.3l-4.7 2l-6 1.7l-2.3 0l-0.2 -0.2l-2.5 -0.3l-15.8 -4.5l-3.7 -0.5l-0.3 -0.2l-5.7 -0.3l-0.3 -0.2l-6.7 0.5l-0.3 0.2l-4.5 0.8l-7 2.2l-0.7 0.5l-3.3 1l-4 1.8l-6.5 2l-3.2 0l-0.3 -0.3l-2.2 -0.2l-3 -1l-0.8 0l-1 -0.5l-0.7 0l-1 -0.5l-0.8 0l-1.7 -0.8l-0.8 0l-1 -0.5l-0.7 0l-4.3 -1.2l-2.2 -0.3l-0.3 -0.2l-3.5 -0.3l-0.2 -0.2l-7.8 0l-0.2 0.2l-1.8 0l-0.2 0.3l-2.5 0.2l-0.3 0.3l-2.7 0.5l-1 0.5l-0.8 0l-6.5 2.2l-0.7 0.5l-1.3 0.3l-4 1.7l-4.5 1.5l-3 0.5l-0.2 0.3l-2.5 -0.3l-0.3 -0.2l-1 0l-0.2 -0.3l-3.8 -0.7l-5.2 -1.8l-0.8 0l-2.7 -1l-0.8 0l-2.2 -0.7l-1 0l-1.3 -0.5l-1.2 0l-1.8 -0.5l-2.5 0l-0.2 -0.3l-6 0l-0.3 0.3l-1.7 0l-7 2l-5.3 2.5l-0.5 0l-2.2 1.2l-0.5 0l-1.8 1l-0.5 0l-2.7 1.3l-0.8 0l-1.2 0.5l-6.5 0l-0.3 0.2l-3 0.3l-3.2 1l-4.3 2l-4.2 2.7l-6.8 5.5l-15.5 15.3l-6.7 6l15.7 -0.5l0.3 -0.3l5.7 0l0.3 -0.2l5.2 0l0.3 -0.3l5.5 0l0.2 -0.2l5.5 0l0.3 -0.3l5.5 0l0.2 -0.2l5.5 0l0.3 -0.3l5.5 0l0.2 -0.2l5.5 0l0.3 -0.3l11 -0.2l0.2 -0.3l5.5 0l0.3 -0.2l4.7 0l4.3 4.7l5 5l3 0l0.2 -0.2l11.3 -0.3l0.2 -0.2l5.3 0l0.2 -0.3l5.5 0l0.3 -0.2l11.2 -0.3l0.3 -0.2l5.2 0l0.3 -0.3l5.5 0l0.2 -0.2l5.5 0l0.3 -0.3l5.5 0l0.2 -0.2l5.5 0l0.3 -0.3l11.2 -0.2l0.3 -0.3l5.2 0l0.3 -0.2l5.5 0l0.2 -0.3l5.5 0l0.3 -0.2l5.5 0l0.2 -0.3l17 -0.5l0.3 -0.2l11 -0.3l0.2 -0.2l5.3 0l0.2 -0.3l5.8 0l0.2 -0.2l5.3 0l0.2 -0.3l5.5 0l0.3 -0.2l5.5 0l0.2 -0.3l5.3 0l0.2 -0.2l5.8 0l0.2 -0.3l5.5 0l0.3 -0.2l5.2 0l0.3 -0.3l5.5 0l0.2 -0.2l5.5 0l0.3 -0.3l5.5 0l0.2 -0.2l5.5 0l0.3 -0.3l11.2 -0.2l0.3 -0.3l5.2 0l0.3 -0.2l5.2 0l0.3 -0.3l6 0l0.2 -0.2l5.3 0l0.2 -0.3l5.5 0l0.3 -0.2l5.5 0l0.2 -0.3l5.3 0l0.2 -0.2l5.5 0l0.3 -0.3l5.5 0l0.2 -0.2l5.5 0l0.3 -0.3l5.2 0l0.3 -0.2l5.5 0l0.2 -0.3l5.5 0l0.3 -0.2l5.5 0l0.2 -0.3l5.8 0l0.2 -0.2l5.5 0l0.3 -0.3l5.2 0l0.3 -0.2l5.5 0l0.2 -0.3l5.5 0l0.3 -0.2l5.2 0l0.3 -0.3l5.5 0l0.2 -0.2l5.8 0l0.2 -0.3z"/>
<path fill="#00f7ff" d="M580.1 251.4l-1.5 -1.5l-5.2 -6.5l-16.3 -21.5l-3.2 -3.8l-5.5 -5.5l-2.5 -2l-5 -3l-3.8 -1.2l-3.2 -0.3l-0.3 0.3l-1.7 0l-0.3 0.2l-3.7 0.5l-4.5 1.5l-0.8 0l-1.5 0.8l-2.7 0.7l-2 1l-1.3 0.3l-0.7 0.5l-1.3 0.2l-0.7 0.5l-1.3 0.3l-0.7 0.5l-6.3 1.7l-4 -0.5l-0.2 -0.2l-3.8 -0.8l-1 -0.5l-0.7 0l-3.5 -1.2l-0.8 0l-1 -0.5l-0.7 0l-1 -0.5l-0.8 0l-2.2 -0.8l-1 0l-1.3 -0.5l-3 -0.2l-0.2 -0.3l-2.3 0l-0.2 -0.2l-6 0l-0.3 0.2l-2 0l-0.2 0.3l-2.8 0.2l-0.2 0.3l-3.8 0.7l-6 2l-0.7 0.5l-1.3 0.3l-0.7 0.5l-1.3 0.2l-4.7 2l-6.3 1.8l-1.5 0l-0.2 -0.3l-3.8 -0.5l-2 -0.7l-1.7 -0.3l-1.8 -0.7l-0.7 0l-1 -0.5l-0.8 0l-1 -0.5l-0.7 0l-1 -0.5l-0.8 0l-4.2 -1.3l-1 0l-0.3 -0.2l-3 -0.3l-0.2 -0.2l-3 0l-0.3 -0.3l-4 0l-0.2 0.3l-4.3 0.2l-0.2 0.3l-2.3 0.2l-3 1l-0.7 0l-5.3 1.8l-0.7 0.5l-1.3 0.2l-0.7 0.5l-1.3 0.3l-4.7 2l-6 1.7l-2.3 0l-0.2 -0.2l-2.5 -0.3l-15.8 -4.5l-3.7 -0.5l-0.3 -0.2l-5.7 -0.3l-0.3 -0.2l-6.7 0.5l-0.3 0.2l-4.5 0.8l-7 2.2l-0.7 0.5l-3.3 1l-4 1.8l-6.5 2l-3.2 0l-0.3 -0.3l-2.2 -0.2l-3 -1l-0.8 0l-1 -0.5l-0.7 0l-1 -0.5l-0.8 0l-1.7 -0.8l-0.8 0l-1 -0.5l-0.7 0l-4.3 -1.2l-2.2 -0.3l-0.3 -0.2l-3.5 -0.3l-0.2 -0.2l-7.8 0l-0.2 0.2l-1.8 0l-0.2 0.3l-2.5 0.2l-0.3 0.3l-2.7 0.5l-1 0.5l-0.8 0l-6.5 2.2l-0.7 0.5l-1.3 0.3l-4 1.7l-4.5 1.5l-3 0.5l-0.2 0.3l-2.5 -0.3l-0.3 -0.2l-1 0l-0.2 -0.3l-3.8 -0.7l-5.2 -1.8l-0.8 0l-2.7 -1l-0.8 0l-2.2 -0.7l-1 0l-1.3 -0.5l-1.2 0l-1.8 -0.5l-2.5 0l-0.2 -0.3l-6 0l-0.3 0.3l-1.7 0l-7 2l-5.3 2.5l-0.5 0l-2.2 1.2l-0.5 0l-1.8 1l-0.5 0l-2.7 1.3l-0.8 0l-1.2 0.5l-6.5 0l-0.3 0.2l-3 0.3l-3.2 1l-4.3 2l-4.2 2.7l-6.8 5.5l-15.5 15.3l-5.5 5l5 0l0.3 -0.3l5.2 0l0.3 -0.2l5.2 0l0.3 -0.3l5.5 0l0.2 -0.2l5.5 0l0.3 -0.3l5.5 0l0.2 -0.2l5.5 0l0.3 -0.3l5.2 0l0.3 -0.2l5.5 0l0.2 -0.3l5.8 0l0.2 -0.2l5.8 0l0.2 -0.3l5.3 0l0.2 -0.2l5.3 0l0.2 -0.3l8.3 -0.2l5 5.7l4 4l0.2 -0.2l17 -0.5l0.3 -0.3l11 -0.2l0.2 -0.3l5.8 0l0.2 -0.2l16.8 -0.5l0.2 -0.3l5.3 0l0.2 -0.2l5.3 0l0.2 -0.3l5.8 0l0.2 -0.2l5.3 0l0.2 -0.3l5.8 0l0.2 -0.2l5.5 0l0.3 -0.3l5.5 0l0.2 -0.2l5.5 0l0.3 -0.3l16.7 -0.5l0.3 -0.2l5.2 0l0.3 -0.3l5.2 0l0.3 -0.2l11.5 -0.3l0.2 -0.2l5.5 0l0.3 -0.3l5.7 0l0.3 -0.2l5.5 0l0.2 -0.3l16.5 -0.5l0.3 -0.2l5.5 0l0.2 -0.3l5.3 0l0.2 -0.2l11.5 -0.3l0.3 -0.2l11.2 -0.3l0.3 -0.2l5.5 0l0.2 -0.3l5.5 0l0.3 -0.2l16.7 -0.5l0.3 -0.3l5.5 0l0.2 -0.2l11 -0.3l0.3 -0.2l5.2 0l0.3 -0.3l5.7 0l0.3 -0.2l5.7 0l0.3 -0.3l11 -0.2l0.2 -0.3l11 -0.2l0.3 -0.3l5.7 0l0.3 -0.2l16.5 -0.5l0.2 -0.3l5.3 0l0.2 -0.2l5.8 0l0.2 -0.3l17 -0.5l0.3 -0.2l5.2 0l0.3 -0.3l0.7 0z"/>
<path fill="#09fff6" d="M579.4 250.6l-6 -7.2l-16.3 -21.5l-3.2 -3.8l-5.5 -5.5l-2.5 -2l-5 -3l-3.8 -1.2l-3.2 -0.3l-0.3 0.3l-1.7 0l-0.3 0.2l-3.7 0.5l-4.5 1.5l-0.8 0l-1.5 0.8l-2.7 0.7l-2 1l-1.3 0.3l-0.7 0.5l-1.3 0.2l-0.7 0.5l-1.3 0.3l-0.7 0.5l-6.3 1.7l-4 -0.5l-0.2 -0.2l-3.8 -0.8l-1 -0.5l-0.7 0l-3.5 -1.2l-0.8 0l-1 -0.5l-0.7 0l-1 -0.5l-0.8 0l-2.2 -0.8l-1 0l-1.3 -0.5l-3 -0.2l-0.2 -0.3l-2.3 0l-0.2 -0.2l-6 0l-0.3 0.2l-2 0l-0.2 0.3l-2.8 0.2l-0.2 0.3l-3.8 0.7l-6 2l-0.7 0.5l-1.3 0.3l-0.7 0.5l-1.3 0.2l-4.7 2l-6.3 1.8l-1.5 0l-0.2 -0.3l-3.8 -0.5l-2 -0.7l-1.7 -0.3l-1.8 -0.7l-0.7 0l-1 -0.5l-0.8 0l-1 -0.5l-0.7 0l-1 -0.5l-0.8 0l-4.2 -1.3l-1 0l-0.3 -0.2l-3 -0.3l-0.2 -0.2l-3 0l-0.3 -0.3l-4 0l-0.2 0.3l-4.3 0.2l-0.2 0.3l-2.3 0.2l-3 1l-0.7 0l-5.3 1.8l-0.7 0.5l-1.3 0.2l-0.7 0.5l-1.3 0.3l-4.7 2l-6 1.7l-2.3 0l-0.2 -0.2l-2.5 -0.3l-15.8 -4.5l-3.7 -0.5l-0.3 -0.2l-5.7 -0.3l-0.3 -0.2l-6.7 0.5l-0.3 0.2l-4.5 0.8l-7 2.2l-0.7 0.5l-3.3 1l-4 1.8l-6.5 2l-3.2 0l-0.3 -0.3l-2.2 -0.2l-3 -1l-0.8 0l-1 -0.5l-0.7 0l-1 -0.5l-0.8 0l-1.7 -0.8l-0.8 0l-1 -0.5l-0.7 0l-4.3 -1.2l-2.2 -0.3l-0.3 -0.2l-3.5 -0.3l-0.2 -0.2l-7.8 0l-0.2 0.2l-1.8 0l-0.2 0.3l-2.5 0.2l-0.3 0.3l-2.7 0.5l-1 0.5l-0.8 0l-6.5 2.2l-0.7 0.5l-1.3 0.3l-4 1.7l-4.5 1.5l-3 0.5l-0.2 0.3l-2.5 -0.3l-0.3 -0.2l-1 0l-0.2 -0.3l-3.8 -0.7l-5.2 -1.8l-0.8 0l-2.7 -1l-0.8 0l-2.2 -0.7l-1 0l-1.3 -0.5l-1.2 0l-1.8 -0.5l-2.5 0l-0.2 -0.3l-6 0l-0.3 0.3l-1.7 0l-7 2l-5.3 2.5l-0.5 0l-2.2 1.2l-0.5 0l-1.8 1l-0.5 0l-2.7 1.3l-0.8 0l-1.2 0.5l-6.5 0l-0.3 0.2l-3 0.3l-3.2 1l-4.3 2l-4.2 2.7l-6.8 5.5l-15.5 15.3l-4.2 3.7l-0.3 0.5l0.3 -0.2l5.2 0l0.3 -0.3l5.2 0l0.3 -0.2l5.2 0l0.3 -0.3l5.2 0l0.3 -0.2l5.5 0l0.2 -0.3l5.3 0l0.2 -0.2l5.5 0l0.3 -0.3l0.2 0.3l0.3 -0.3l5.2 0l0.3 -0.2l5.7 0l0.3 -0.3l5.7 0l0.3 -0.2l5.5 0l0.2 -0.3l5.3 0l0.2 -0.2l5.3 0l0.2 -0.3l5.3 0l0.5 -0.2l8.7 9.5l2.8 0l0.2 -0.3l11.8 -0.2l0.2 -0.3l17 -0.5l0.3 -0.2l11 -0.3l0.2 -0.2l5.3 0l0.2 -0.3l5.3 0l0.2 -0.2l17.3 -0.5l0.2 -0.3l5.8 0l0.2 -0.2l16.8 -0.5l0.2 -0.3l5.5 0l0.3 -0.2l5.5 0l0.2 -0.3l5 0l0.3 -0.2l5.7 0l0.3 -0.3l4.7 0l0.3 -0.2l11.7 -0.3l0.3 -0.2l5.5 0l0.2 -0.3l5.5 0l0.3 -0.2l17 -0.5l0.2 -0.3l11 -0.2l0.3 -0.3l5.2 0l0.3 -0.2l5.5 0l0.2 -0.3l5.3 0l0.2 -0.2l17.5 -0.5l0.3 -0.3l5.2 0l0.3 -0.2l17.2 -0.5l0.3 -0.3l5.2 0l0.3 -0.2l5.2 0l0.3 -0.3l5.2 0l0.3 -0.2l5.2 0l0.3 -0.3l17.5 -0.5l0.2 -0.2l5.3 0l0.2 -0.3l5.8 0l0.2 -0.2l5.3 0l0.2 -0.3l5.5 0l0.3 -0.2l5.7 0l0.3 -0.3l5 0l0.2 -0.2l5.5 0l0.3 -0.3l5 0l0.2 -0.2l5.8 0l0.2 -0.3l5.8 0l0.2 -0.2l5.8 0l0.2 -0.3l5.3 0l0.2 -0.2z"/>
<path fill="#1affe5" d="M578.4 249.4l-5 -6l-16.3 -21.5l-3.2 -3.8l-5.5 -5.5l-2.5 -2l-5 -3l-3.8 -1.2l-3.2 -0.3l-0.3 0.3l-1.7 0l-0.3 0.2l-3.7 0.5l-4.5 1.5l-0.8 0l-1.5 0.8l-2.7 0.7l-2 1l-1.3 0.3l-0.7 0.5l-1.3 0.2l-0.7 0.5l-1.3 0.3l-0.7 0.5l-6.3 1.7l-4 -0.5l-0.2 -0.2l-3.8 -0.8l-1 -0.5l-0.7 0l-3.5 -1.2l-0.8 0l-1 -0.5l-0.7 0l-1 -0.5l-0.8 0l-2.2 -0.8l-1 0l-1.3 -0.5l-3 -0.2l-0.2 -0.3l-2.3 0l-0.2 -0.2l-6 0l-0.3 0.2l-2 0l-0.2 0.3l-2.8 0.2l-0.2 0.3l-3.8 0.7l-6 2l-0.7 0.5l-1.3 0.3l-0.7 0.5l-1.3 0.2l-4.7 2l-6.3 1.8l-1.5 0l-0.2 -0.3l-3.8 -0.5l-2 -0.7l-1.7 -0.3l-1.8 -0.7l-0.7 0l-1 -0.5l-0.8 0l-1 -0.5l-0.7 0l-1 -0.5l-0.8 0l-4.2 -1.3l-1 0l-0.3 -0.2l-3 -0.3l-0.2 -0.2l-3 0l-0.3 -0.3l-4 0l-0.2 0.3l-4.3 0.2l-0.2 0.3l-2.3 0.2l-3 1l-0.7 0l-5.3 1.8l-0.7 0.5l-1.3 0.2l-0.7 0.5l-1.3 0.3l-4.7 2l-6 1.7l-2.3 0l-0.2 -0.2l-2.5 -0.3l-15.8 -4.5l-3.7 -0.5l-0.3 -0.2l-5.7 -0.3l-0.3 -0.2l-6.7 0.5l-0.3 0.2l-4.5 0.8l-7 2.2l-0.7 0.5l-3.3 1l-4 1.8l-6.5 2l-3.2 0l-0.3 -0.3l-2.2 -0.2l-3 -1l-0.8 0l-1 -0.5l-0.7 0l-1 -0.5l-0.8 0l-1.7 -0.8l-0.8 0l-1 -0.5l-0.7 0l-4.3 -1.2l-2.2 -0.3l-0.3 -0.2l-3.5 -0.3l-0.2 -0.2l-7.8 0l-0.2 0.2l-1.8 0l-0.2 0.3l-2.5 0.2l-0.3 0.3l-2.7 0.5l-1 0.5l-0.8 0l-6.5 2.2l-0.7 0.5l-1.3 0.3l-4 1.7l-4.5 1.5l-3 0.5l-0.2 0.3l-2.5 -0.3l-0.3 -0.2l-1 0l-0.2 -0.3l-3.8 -0.7l-5.2 -1.8l-0.8 0l-2.7 -1l-0.8 0l-2.2 -0.7l-1 0l-1.3 -0.5l-1.2 0l-1.8 -0.5l-2.5 0l-0.2 -0.3l-6 0l-0.3 0.3l-1.7 0l-7 2l-5.3 2.5l-0.5 0l-2.2 1.2l-0.5 0l-1.8 1l-0.5 0l-2.7 1.3l-0.8 0l-1.2 0.5l-6.5 0l-0.3 0.2l-3 0.3l-3.2 1l-4.3 2l-4.2 2.7l-6.8 5.5l-15.7 15.3l-3 3.2l0.5 -0.2l16 -0.5l0.2 -0.3l5.3 0l0.2 -0.2l5.5 0l0.3 -0.3l5.5 0l0.2 -0.2l5.5 0l0.3 -0.3l5.7 0l0.3 -0.2l5.5 0l0.2 -0.3l6 0l0.3 -0.2l5.5 0l0.2 -0.3l5.3 0l0.2 -0.2l9 -0.3l8.5 9.3l0.3 -0.3l11.5 -0.2l0.2 -0.3l5.5 0l0.3 -0.2l6 0l0.2 -0.3l11 -0.2l0.3 -0.3l5.2 0l0.3 -0.2l5.5 0l0.2 -0.3l10.8 -0.2l0.2 -0.3l5 0l0.3 -0.2l6 0l0.2 -0.3l17.5 -0.5l0.3 -0.2l16.7 -0.5l0.3 -0.3l5.5 0l0.2 -0.2l10.5 -0.3l0.3 -0.2l5 0l0.2 -0.3l18 -0.5l0.3 -0.2l5.5 0l0.2 -0.3l5.3 0l0.2 -0.2l11.5 -0.3l0.3 -0.2l16.2 -0.5l0.3 -0.3l5 0l0.2 -0.2l17.8 -0.5l0.2 -0.3l17 -0.5l0.3 -0.2l5.2 0l0.3 -0.3l5.7 0l0.3 -0.2l10.5 -0.3l0.2 -0.2l5 0l0.3 -0.3l5.7 0l0.3 -0.2l5.7 0l0.3 -0.3l5.5 0l0.2 -0.2l5.8 0l0.2 -0.3l5.5 0l0.3 -0.2l5.5 0l0.2 -0.3l5.5 0l0.3 -0.2l5.5 0l0.2 -0.3l5.3 0l0.2 -0.2l10.8 -0.3l0.2 -0.2l5 0l0.3 -0.3l5.7 0l0.3 -0.2l5.7 0l0.3 -0.3l6 0l0.2 -0.2l5.5 0l0.3 -0.3l5.5 0z"/>
<path fill="#2bffd4" d="M577.4 248.1l-4 -4.7l-16.3 -21.5l-3.2 -3.8l-5.5 -5.5l-2.5 -2l-5 -3l-3.8 -1.2l-3.2 -0.3l-0.3 0.3l-1.7 0l-0.3 0.2l-3.7 0.5l-4.5 1.5l-0.8 0l-1.5 0.8l-2.7 0.7l-2 1l-1.3 0.3l-0.7 0.5l-1.3 0.2l-0.7 0.5l-1.3 0.3l-0.7 0.5l-6.3 1.7l-4 -0.5l-0.2 -0.2l-3.8 -0.8l-1 -0.5l-0.7 0l-3.5 -1.2l-0.8 0l-1 -0.5l-0.7 0l-1 -0.5l-0.8 0l-2.2 -0.8l-1 0l-1.3 -0.5l-3 -0.2l-0.2 -0.3l-2.3 0l-0.2 -0.2l-6 0l-0.3 0.2l-2 0l-0.2 0.3l-2.8 0.2l-0.2 0.3l-3.8 0.7l-6 2l-0.7 0.5l-1.3 0.3l-0.7 0.5l-1.3 0.2l-4.7 2l-6.3 1.8l-1.5 0l-0.2 -0.3l-3.8 -0.5l-2 -0.7l-1.7 -0.3l-1.8 -0.7l-0.7 0l-1 -0.5l-0.8 0l-1 -0.5l-0.7 0l-1 -0.5l-0.8 0l-4.2 -1.3l-1 0l-0.3 -0.2l-3 -0.3l-0.2 -0.2l-3 0l-0.3 -0.3l-4 0l-0.2 0.3l-4.3 0.2l-0.2 0.3l-2.3 0.2l-3 1l-0.7 0l-5.3 1.8l-0.7 0.5l-1.3 0.2l-0.7 0.5l-1.3 0.3l-4.7 2l-6 1.7l-2.3 0l-0.2 -0.2l-2.5 -0.3l-15.8 -4.5l-3.7 -0.5l-0.3 -0.2l-5.7 -0.3l-0.3 -0.2l-6.7 0.5l-0.3 0.2l-4.5 0.8l-7 2.2l-0.7 0.5l-3.3 1l-4 1.8l-6.5 2l-3.2 0l-0.3 -0.3l-2.2 -0.2l-3 -1l-0.8 0l-1 -0.5l-0.7 0l-1 -0.5l-0.8 0l-1.7 -0.8l-0.8 0l-1 -0.5l-0.7 0l-4.3 -1.2l-2.2 -0.3l-0.3 -0.2l-3.5 -0.3l-0.2 -0.2l-7.8 0l-0.2 0.2l-1.8 0l-0.2 0.3l-2.5 0.2l-0.3 0.3l-2.7 0.5l-1 0.5l-0.8 0l-6.5 2.2l-0.7 0.5l-1.3 0.3l-4 1.7l-4.5 1.5l-3 0.5l-0.2 0.3l-2.5 -0.3l-0.3 -0.2l-1 0l-0.2 -0.3l-3.8 -0.7l-5.2 -1.8l-0.8 0l-2.7 -1l-0.8 0l-2.2 -0.7l-1 0l-1.3 -0.5l-1.2 0l-1.8 -0.5l-2.5 0l-0.2 -0.3l-6 0l-0.3 0.3l-1.7 0l-7 2l-5.3 2.5l-0.5 0l-2.2 1.2l-0.5 0l-1.8 1l-0.5 0l-2.7 1.3l-0.8 0l-1.2 0.5l-6.5 0l-0.3 0.2l-3 0.3l-3.2 1l-4.3 2l-4.2 2.7l-6.8 5.5l-15.7 15.3l-2 2.2l0.7 0l0.3 -0.2l5.2 0l0.3 -0.3l5 0l0.2 -0.2l5 0l0.3 -0.3l5.5 0l0.2 -0.2l5.3 0l0.2 -0.3l11.5 -0.2l0.3 -0.3l5.5 0l0.2 -0.2l5.8 0l0.2 -0.3l5.8 0l0.2 -0.2l5.8 0l0.2 -0.3l5.3 0l0.2 -0.2l5 0l0.3 -0.3l1.5 0l8.2 9.3l0.3 -0.3l2.2 0l0.3 -0.2l6 0l0.2 -0.3l6 0l0.3 -0.2l5.5 0l0.2 -0.3l5.5 0l0.3 -0.2l5.7 0l0.3 -0.3l11 -0.2l0.2 -0.3l16 -0.5l0.3 -0.2l5.5 0l0.2 -0.3l5.8 0l0.2 -0.2l5.8 0l0.2 -0.3l5.8 0l0.2 -0.2l17 -0.5l0.3 -0.3l5.2 0l0.3 -0.2l16 -0.5l0.2 -0.3l5.5 0l0.3 -0.2l5.5 0l0.2 -0.3l0.3 0.3l0.2 -0.3l5.5 0l0.3 -0.2l5.7 0l0.3 -0.3l5.7 0l0.3 -0.2l5.2 0l0.3 -0.3l16.7 -0.5l0.3 -0.2l15.7 -0.5l0.3 -0.3l6 0l0.2 -0.2l17.8 -0.5l0.2 -0.3l17 -0.5l0.3 -0.2l10.5 -0.3l0.2 -0.2l10.5 -0.3l0.3 -0.2l5.7 0l0.3 -0.3l5.7 0l0.3 -0.2l6 0l0.2 -0.3l5.5 0l0.3 -0.2l5.2 0l0.3 -0.3l5.7 0l0.3 -0.2l5.5 0l0.2 -0.3l5 0l0.3 -0.2l10.7 -0.3l0.3 -0.2l5 0l0.2 -0.3l5.5 0l0.3 -0.2l6 0l0.2 -0.3l17.5 -0.5l0.3 -0.2l3 0z"/>
<path fill="#3dffc2" d="M576.6 247.4l-19.5 -25.5l-3.2 -3.8l-5.5 -5.5l-2.5 -2l-5 -3l-3.8 -1.2l-3.2 -0.3l-0.3 0.3l-1.7 0l-0.3 0.2l-3.7 0.5l-4.5 1.5l-0.8 0l-1.5 0.8l-2.7 0.7l-2 1l-1.3 0.3l-0.7 0.5l-1.3 0.2l-0.7 0.5l-1.3 0.3l-0.7 0.5l-6.3 1.7l-4 -0.5l-0.2 -0.2l-3.8 -0.8l-1 -0.5l-0.7 0l-3.5 -1.2l-0.8 0l-1 -0.5l-0.7 0l-1 -0.5l-0.8 0l-2.2 -0.8l-1 0l-1.3 -0.5l-3 -0.2l-0.2 -0.3l-2.3 0l-0.2 -0.2l-6 0l-0.3 0.2l-2 0l-0.2 0.3l-2.8 0.2l-0.2 0.3l-3.8 0.7l-6 2l-0.7 0.5l-1.3 0.3l-0.7 0.5l-1.3 0.2l-4.7 2l-6.3 1.8l-1.5 0l-0.2 -0.3l-3.8 -0.5l-2 -0.7l-1.7 -0.3l-1.8 -0.7l-0.7 0l-1 -0.5l-0.8 0l-1 -0.5l-0.7 0l-1 -0.5l-0.8 0l-4.2 -1.3l-1 0l-0.3 -0.2l-3 -0.3l-0.2 -0.2l-3 0l-0.3 -0.3l-4 0l-0.2 0.3l-4.3 0.2l-0.2 0.3l-2.3 0.2l-3 1l-0.7 0l-5.3 1.8l-0.7 0.5l-1.3 0.2l-0.7 0.5l-1.3 0.3l-4.7 2l-6 1.7l-2.3 0l-0.2 -0.2l-2.5 -0.3l-15.8 -4.5l-3.7 -0.5l-0.3 -0.2l-5.7 -0.3l-0.3 -0.2l-6.7 0.5l-0.3 0.2l-4.5 0.8l-7 2.2l-0.7 0.5l-3.3 1l-4 1.8l-6.5 2l-3.2 0l-0.3 -0.3l-2.2 -0.2l-3 -1l-0.8 0l-1 -0.5l-0.7 0l-1 -0.5l-0.8 0l-1.7 -0.8l-0.8 0l-1 -0.5l-0.7 0l-4.3 -1.2l-2.2 -0.3l-0.3 -0.2l-3.5 -0.3l-0.2 -0.2l-7.8 0l-0.2 0.2l-1.8 0l-0.2 0.3l-2.5 0.2l-0.3 0.3l-2.7 0.5l-1 0.5l-0.8 0l-6.5 2.2l-0.7 0.5l-1.3 0.3l-4 1.7l-4.5 1.5l-3 0.5l-0.2 0.3l-2.5 -0.3l-0.3 -0.2l-1 0l-0.2 -0.3l-3.8 -0.7l-5.2 -1.8l-0.8 0l-2.7 -1l-0.8 0l-2.2 -0.7l-1 0l-1.3 -0.5l-1.2 0l-1.8 -0.5l-2.5 0l-0.2 -0.3l-6 0l-0.3 0.3l-1.7 0l-7 2l-5.3 2.5l-0.5 0l-2.2 1.2l-0.5 0l-1.8 1l-0.5 0l-2.7 1.3l-0.8 0l-1.2 0.5l-6.5 0l-0.3 0.2l-3 0.3l-3.2 1l-4.3 2l-4.2 2.7l-6.8 5.5l-15.7 15.3l-1 1.2l1.2 0l0.3 -0.2l5.2 0l0.3 -0.3l4.7 0l0.3 -0.2l5 0l0.2 -0.3l11 -0.2l0.3 -0.3l5.5 0l0.2 -0.2l5.5 0l0.3 -0.3l5.7 0l0.3 -0.2l6 0l0.2 -0.3l6 0l0.3 -0.2l15.7 -0.5l8 8.7l0.3 -0.2l17.7 -0.5l0.3 -0.3l5.7 0l0.3 -0.2l5.7 0l0.3 -0.3l5.5 0l0.2 -0.2l5.3 0l0.2 -0.3l5 0l0.3 -0.2l5 0l0.2 -0.3l5 0l0.3 -0.2l5.5 0l0.2 -0.3l5.5 0l0.3 -0.2l6 0l0.2 -0.3l6 0l0.3 -0.2l5.5 0l0.2 -0.3l5.8 0l0.2 -0.2l5.5 0l0.3 -0.3l16.2 -0.5l0.3 -0.2l10.2 -0.3l0.3 -0.2l12 -0.3l0.2 -0.2l5.5 0l0.3 -0.3l0.2 0.3l0.3 -0.3l5.2 0l0.3 -0.2l6 0l0.2 -0.3l5.3 0l0.2 -0.2l16.3 -0.5l0.2 -0.3l10.3 -0.2l0.2 -0.3l5.8 0l0.2 -0.2l5.8 0l0.2 -0.3l5.8 0l0.2 -0.2l0.3 0.2l0.2 -0.2l5.5 0l0.3 -0.3l17 -0.5l0.2 -0.2l10.8 -0.3l0.2 -0.2l15.8 -0.5l0.2 -0.3l6 0l0.3 -0.2l6.2 0l0.3 -0.3l5.5 0l0.2 -0.2l5.8 0l0.2 -0.3l5.5 0l0.3 -0.2l5.2 0l0.3 -0.3l5.5 0l0.2 -0.2l10.5 -0.3l0.3 -0.2l10.2 -0.3l0.3 -0.2l6 0l0.2 -0.3l6 0l0.3 -0.2z"/>
<path fill="#4effb1" d="M575.6 246.1l-18.5 -24.2l-3.2 -3.8l-5.5 -5.5l-2.5 -2l-5 -3l-3.8 -1.2l-3.2 -0.3l-0.3 0.3l-1.7 0l-0.3 0.2l-3.7 0.5l-4.5 1.5l-0.8 0l-1.5 0.8l-2.7 0.7l-2 1l-1.3 0.3l-0.7 0.5l-1.3 0.2l-0.7 0.5l-1.3 0.3l-0.7 0.5l-6.3 1.7l-4 -0.5l-0.2 -0.2l-3.8 -0.8l-1 -0.5l-0.7 0l-3.5 -1.2l-0.8 0l-1 -0.5l-0.7 0l-1 -0.5l-0.8 0l-2.2 -0.8l-1 0l-1.3 -0.5l-3 -0.2l-0.2 -0.3l-2.3 0l-0.2 -0.2l-6 0l-0.3 0.2l-2 0l-0.2 0.3l-2.8 0.2l-0.2 0.3l-3.8 0.7l-6 2l-0.7 0.5l-1.3 0.3l-0.7 0.5l-1.3 0.2l-4.7 2l-6.3 1.8l-1.5 0l-0.2 -0.3l-3.8 -0.5l-2 -0.7l-1.7 -0.3l-1.8 -0.7l-0.7 0l-1 -0.5l-0.8 0l-1 -0.5l-0.7 0l-1 -0.5l-0.8 0l-4.2 -1.3l-1 0l-0.3 -0.2l-3 -0.3l-0.2 -0.2l-3 0l-0.3 -0.3l-4 0l-0.2 0.3l-4.3 0.2l-0.2 0.3l-2.3 0.2l-3 1l-0.7 0l-5.3 1.8l-0.7 0.5l-1.3 0.2l-0.7 0.5l-1.3 0.3l-4.7 2l-6 1.7l-2.3 0l-0.2 -0.2l-2.5 -0.3l-15.8 -4.5l-3.7 -0.5l-0.3 -0.2l-5.7 -0.3l-0.3 -0.2l-6.7 0.5l-0.3 0.2l-4.5 0.8l-7 2.2l-0.7 0.5l-3.3 1l-4 1.8l-6.5 2l-3.2 0l-0.3 -0.3l-2.2 -0.2l-3 -1l-0.8 0l-1 -0.5l-0.7 0l-1 -0.5l-0.8 0l-1.7 -0.8l-0.8 0l-1 -0.5l-0.7 0l-4.3 -1.2l-2.2 -0.3l-0.3 -0.2l-3.5 -0.3l-0.2 -0.2l-7.8 0l-0.2 0.2l-1.8 0l-0.2 0.3l-2.5 0.2l-0.3 0.3l-2.7 0.5l-1 0.5l-0.8 0l-6.5 2.2l-0.7 0.5l-1.3 0.3l-4 1.7l-4.5 1.5l-3 0.5l-0.2 0.3l-2.5 -0.3l-0.3 -0.2l-1 0l-0.2 -0.3l-3.8 -0.7l-5.2 -1.8l-0.8 0l-2.7 -1l-0.8 0l-2.2 -0.7l-1 0l-1.3 -0.5l-1.2 0l-1.8 -0.5l-2.5 0l-0.2 -0.3l-6 0l-0.3 0.3l-1.7 0l-7 2l-5.3 2.5l-0.5 0l-2.2 1.2l-0.5 0l-1.8 1l-0.5 0l-2.7 1.3l-0.8 0l-1.2 0.5l-6.5 0l-0.3 0.2l-3 0.3l-3.2 1l-4.3 2l-4.2 2.7l-6.8 5.5l-15.7 15.3l0 0.2l1.7 0l0.3 -0.2l5.2 0l0.3 -0.3l4.5 0l0.2 -0.2l5 0l0.3 -0.3l5.2 0l0.3 -0.2l5.2 0l0.3 -0.3l5.5 0l0.2 -0.2l5.8 0l0.2 -0.3l5.8 0l0.2 -0.2l6 0l0.3 -0.3l6.2 0l0.3 -0.2l5.5 0l0.2 -0.3l7.8 -0.2l7.5 8.5l3 0l0.2 -0.3l12.3 -0.2l0.2 -0.3l5.8 0l0.2 -0.2l0.3 0.2l0.2 -0.2l17 -0.5l0.3 -0.3l10.2 -0.2l0.3 -0.3l10 -0.2l0.2 -0.3l5.8 0l0.2 -0.2l6 0l0.3 -0.3l18.2 -0.5l0.3 -0.2l16.5 -0.5l0.2 -0.3l5 0l0.3 -0.2l10 -0.3l0.2 -0.2l18 -0.5l0.3 -0.3l6 0l0.2 -0.2l5.5 0l0.3 -0.3l5.7 0l0.3 -0.2l10.7 -0.3l0.3 -0.2l5 0l0.2 -0.3l5.3 0l0.2 -0.2l4.5 0l0.3 -0.3l18.2 -0.5l0.3 -0.2l11.5 -0.3l0.2 -0.2l5.8 0l0.2 -0.3l10.8 -0.2l0.2 -0.3l15.8 -0.5l0.2 -0.2l5 0l0.3 -0.3l18.5 -0.5l0.2 -0.2l17.3 -0.5l0.2 -0.3l5.3 0l0.2 -0.2l5 0l0.3 -0.3l5 0l0.2 -0.2l5.3 0l0.2 -0.3l4.8 0l0.2 -0.2l5.8 0l0.2 -0.3l6.3 0l0.2 -0.2l6 0l0.3 -0.3l5.7 0l0.3 -0.2z"/>
<path fill="#5fffa0" d="M574.9 245.1l-17.8 -23.2l-3.2 -3.8l-5.5 -5.5l-2.5 -2l-5 -3l-3.8 -1.2l-3.2 -0.3l-0.3 0.3l-1.7 0l-0.3 0.2l-3.7 0.5l-4.5 1.5l-0.8 0l-1.5 0.8l-2.7 0.7l-2 1l-1.3 0.3l-0.7 0.5l-1.3 0.2l-0.7 0.5l-1.3 0.3l-0.7 0.5l-6.3 1.7l-4 -0.5l-0.2 -0.2l-3.8 -0.8l-1 -0.5l-0.7 0l-3.5 -1.2l-0.8 0l-1 -0.5l-0.7 0l-1 -0.5l-0.8 0l-2.2 -0.8l-1 0l-1.3 -0.5l-3 -0.2l-0.2 -0.3l-2.3 0l-0.2 -0.2l-6 0l-0.3 0.2l-2 0l-0.2 0.3l-2.8 0.2l-0.2 0.3l-3.8 0.7l-6 2l-0.7 0.5l-1.3 0.3l-0.7 0.5l-1.3 0.2l-4.7 2l-6.3 1.8l-1.5 0l-0.2 -0.3l-3.8 -0.5l-2 -0.7l-1.7 -0.3l-1.8 -0.7l-0.7 0l-1 -0.5l-0.8 0l-1 -0.5l-0.7 0l-1 -0.5l-0.8 0l-4.2 -1.3l-1 0l-0.3 -0.2l-3 -0.3l-0.2 -0.2l-3 0l-0.3 -0.3l-4 0l-0.2 0.3l-4.3 0.2l-0.2 0.3l-2.3 0.2l-3 1l-0.7 0l-5.3 1.8l-0.7 0.5l-1.3 0.2l-0.7 0.5l-1.3 0.3l-4.7 2l-6 1.7l-2.3 0l-0.2 -0.2l-2.5 -0.3l-15.8 -4.5l-3.7 -0.5l-0.3 -0.2l-5.7 -0.3l-0.3 -0.2l-6.7 0.5l-0.3 0.2l-4.5 0.8l-7 2.2l-0.7 0.5l-3.3 1l-4 1.8l-6.5 2l-3.2 0l-0.3 -0.3l-2.2 -0.2l-3 -1l-0.8 0l-1 -0.5l-0.7 0l-1 -0.5l-0.8 0l-1.7 -0.8l-0.8 0l-1 -0.5l-0.7 0l-4.3 -1.2l-2.2 -0.3l-0.3 -0.2l-3.5 -0.3l-0.2 -0.2l-7.8 0l-0.2 0.2l-1.8 0l-0.2 0.3l-2.5 0.2l-0.3 0.3l-2.7 0.5l-1 0.5l-0.8 0l-6.5 2.2l-0.7 0.5l-1.3 0.3l-4 1.7l-4.5 1.5l-3 0.5l-0.2 0.3l-2.5 -0.3l-0.3 -0.2l-1 0l-0.2 -0.3l-3.8 -0.7l-5.2 -1.8l-0.8 0l-2.7 -1l-0.8 0l-2.2 -0.7l-1 0l-1.3 -0.5l-1.2 0l-1.8 -0.5l-2.5 0l-0.2 -0.3l-6 0l-0.3 0.3l-1.7 0l-7 2l-5.3 2.5l-0.5 0l-2.2 1.2l-0.5 0l-1.8 1l-0.5 0l-2.7 1.3l-0.8 0l-1.2 0.5l-6.5 0l-0.3 0.2l-3 0.3l-3.2 1l-4.3 2l-4.2 2.7l-6.8 5.5l-14.7 14.5l7.5 -0.2l0.2 -0.3l4.5 0l0.3 -0.2l5 0l0.2 -0.3l5.3 0l0.2 -0.2l5 0l0.3 -0.3l11.5 -0.2l0.2 -0.3l6.3 0l0.2 -0.2l5.8 0l0.2 -0.3l12 -0.2l0.3 -0.3l5 0l0.5 -0.2l7.5 8.5l0.5 -0.3l5.7 0l0.3 -0.2l6 0l0.2 -0.3l6.5 0l0.3 -0.2l17.2 -0.5l0.3 -0.3l5 0l0.2 -0.2l5 0l0.3 -0.3l5 0l0.2 -0.2l5 0l0.3 -0.3l5 0l0.2 -0.2l6 0l0.3 -0.3l6 0l0.2 -0.2l6 0l0.3 -0.3l0.2 0.3l0.3 -0.3l17 -0.5l0.2 -0.2l10.5 -0.3l0.3 -0.2l5 0l0.2 -0.3l10 -0.2l0.3 -0.3l6 0l0.2 -0.2l6.3 0l0.2 -0.3l6 0l0.3 -0.2l5.5 0l0.2 -0.3l0.3 0.3l0.2 -0.3l5.3 0l0.2 -0.2l5.8 0l0.2 -0.3l5 0l0.3 -0.2l15.5 -0.5l0.2 -0.3l4.8 0l0.2 -0.2l5.8 0l0.2 -0.3l6.5 0l0.3 -0.2l18.2 -0.5l0.3 -0.3l5 0l0.2 -0.2l5.8 0l0.2 -0.3l5 0l0.3 -0.2l10 -0.3l0.2 -0.2l4.8 0l0.2 -0.3l5.8 0l0.2 -0.2l5.8 0l0.2 -0.3l6.5 0l0.3 -0.2l17.5 -0.5l0.2 -0.3l10.8 -0.2l0.2 -0.3l4.8 0l0.2 -0.2l0.3 0.2l0.2 -0.2l15 -0.5l0.3 -0.3l0.2 0.3l0.3 -0.3l5.7 0l0.3 -0.2l6.2 0l0.3 -0.3z"/>
<path fill="#71ff8e" d="M573.9 243.9l-16.8 -22l-3.2 -3.8l-5.5 -5.5l-2.5 -2l-5 -3l-3.8 -1.2l-3.2 -0.3l-0.3 0.3l-1.7 0l-0.3 0.2l-3.7 0.5l-4.5 1.5l-0.8 0l-1.5 0.8l-2.7 0.7l-2 1l-1.3 0.3l-0.7 0.5l-1.3 0.2l-0.7 0.5l-1.3 0.3l-0.7 0.5l-6.3 1.7l-2.7 -0.2l-0.3 -0.3l-1 0l-0.2 -0.2l-3.8 -0.8l-3.5 -1.2l-0.7 0l-1 -0.5l-0.8 0l-1 -0.5l-0.7 0l-1 -0.5l-0.8 0l-2.2 -0.8l-1 0l-0.3 -0.2l-2.2 -0.3l-0.3 -0.2l-1.5 0l-0.2 -0.3l-2.3 0l-0.2 -0.2l-6 0l-0.3 0.2l-2 0l-0.2 0.3l-2.8 0.2l-0.2 0.3l-3.8 0.7l-6 2l-0.7 0.5l-1.3 0.3l-0.7 0.5l-1.3 0.2l-2 1l-2 0.5l-0.7 0.5l-3 1l-3 0.5l-0.3 0.3l-1.5 0l-0.2 -0.3l-3.8 -0.5l-2 -0.7l-1.7 -0.3l-1.8 -0.7l-0.7 0l-1 -0.5l-0.8 0l-1 -0.5l-0.7 0l-1 -0.5l-0.8 0l-4.2 -1.3l-1 0l-0.3 -0.2l-3 -0.3l-0.2 -0.2l-3 0l-0.3 -0.3l-4 0l-0.2 0.3l-4.3 0.2l-0.2 0.3l-2.3 0.2l-3 1l-0.7 0l-5.3 1.8l-0.7 0.5l-1.3 0.2l-0.7 0.5l-1.3 0.3l-4.7 2l-6 1.7l-2.3 0l-0.2 -0.2l-2.5 -0.3l-15.8 -4.5l-3.7 -0.5l-0.3 -0.2l-5.7 -0.3l-0.3 -0.2l-6.7 0.5l-0.3 0.2l-4.5 0.8l-7 2.2l-0.7 0.5l-3.3 1l-4 1.8l-6.5 2l-3.2 0l-0.3 -0.3l-2.2 -0.2l-3 -1l-0.8 0l-1 -0.5l-0.7 0l-1 -0.5l-0.8 0l-1.7 -0.8l-0.8 0l-1 -0.5l-0.7 0l-4.3 -1.2l-2.2 -0.3l-0.3 -0.2l-3.5 -0.3l-0.2 -0.2l-7.8 0l-0.2 0.2l-1.8 0l-0.2 0.3l-2.5 0.2l-0.3 0.3l-2.7 0.5l-1 0.5l-0.8 0l-6.5 2.2l-0.7 0.5l-1.3 0.3l-4 1.7l-4.5 1.5l-3 0.5l-0.2 0.3l-2.5 -0.3l-0.3 -0.2l-1 0l-0.2 -0.3l-3.8 -0.7l-5.2 -1.8l-0.8 0l-2.7 -1l-0.8 0l-2.2 -0.7l-1 0l-1.3 -0.5l-1.2 0l-1.8 -0.5l-2.5 0l-0.2 -0.3l-6 0l-0.3 0.3l-3 0.2l-5.7 1.8l-5.3 2.5l-0.5 0l-2.2 1.2l-0.5 0l-1.8 1l-0.5 0l-2.7 1.3l-0.8 0l-1.2 0.5l-6.5 0l-0.3 0.2l-3 0.3l-3.2 1l-4.3 2l-4.2 2.7l-6.8 5.5l-13.7 13.5l7.7 -0.2l0.3 -0.3l4.5 0l0.2 -0.2l4.8 0l0.2 -0.3l5.3 0l0.2 -0.2l5.3 0l0.2 -0.3l5.5 0l0.3 -0.2l5.7 0l0.3 -0.3l6.2 0l0.3 -0.2l6 0l0.2 -0.3l6.3 0l0.2 -0.2l9 -0.3l7.3 8l3 0l0.2 -0.2l6.5 0l0.3 -0.3l6.5 0l0.2 -0.2l5.5 0l0.3 -0.3l0.2 0.3l0.3 -0.3l5.7 0l0.3 -0.2l16 -0.5l0.2 -0.3l5 0l0.3 -0.2l4.7 0l0.3 -0.3l4.7 0l0.3 -0.2l18.7 -0.5l0.3 -0.3l6 0l0.2 -0.2l17 -0.5l0.3 -0.3l5 0l0.2 -0.2l4.8 0l0.2 -0.3l4.8 0l0.2 -0.2l4.8 0l0.2 -0.3l5.8 0l0.2 -0.2l6 0l0.3 -0.3l18.7 -0.5l0.3 -0.2l11 -0.3l0.2 -0.2l15.5 -0.5l0.3 -0.3l10 -0.2l0.2 -0.3l6.5 0l0.3 -0.2l6 0l0.2 -0.3l18 -0.5l0.3 -0.2l11 -0.3l0.2 -0.2l5 0l0.3 -0.3l4.7 0l0.3 -0.2l4.7 0l0.3 -0.3l4.7 0l0.3 -0.2l6.2 0l0.3 -0.3l18.7 -0.5l0.3 -0.2l5.7 0l0.3 -0.3l5.2 0l0.3 -0.2l5 0l0.2 -0.3l5.3 0l0.2 -0.2l5 0l0.3 -0.3l9.7 -0.2l0.3 -0.3l5.7 0l0.3 -0.2l6.2 0l0.3 -0.3l6.2 0l0.3 -0.2l5.7 0l0.3 -0.3l5.7 0l0.3 -0.2z"/>
<path fill="#82ff7d" d="M573.1 242.9l-16 -21l-3.2 -3.8l-5.5 -5.5l-2.5 -2l-5 -3l-3.8 -1.2l-3.2 -0.3l-0.3 0.3l-1.7 0l-0.3 0.2l-3.7 0.5l-4.5 1.5l-0.8 0l-1.5 0.8l-2.7 0.7l-2 1l-1.3 0.3l-0.7 0.5l-1.3 0.2l-0.7 0.5l-1.3 0.3l-0.7 0.5l-6.3 1.7l-2.7 -0.2l-0.3 -0.3l-1 0l-0.2 -0.2l-3.8 -0.8l-3.5 -1.2l-0.7 0l-1 -0.5l-0.8 0l-1 -0.5l-0.7 0l-1 -0.5l-0.8 0l-2.2 -0.8l-1 0l-0.3 -0.2l-2.2 -0.3l-0.3 -0.2l-1.5 0l-0.2 -0.3l-2.3 0l-0.2 -0.2l-6 0l-0.3 0.2l-2 0l-0.2 0.3l-2.8 0.2l-0.2 0.3l-3.8 0.7l-6 2l-0.7 0.5l-1.3 0.3l-0.7 0.5l-1.3 0.2l-2 1l-2 0.5l-0.7 0.5l-3 1l-3 0.5l-0.3 0.3l-1.5 0l-0.2 -0.3l-3.8 -0.5l-2 -0.7l-1.7 -0.3l-1.8 -0.7l-0.7 0l-1 -0.5l-0.8 0l-1 -0.5l-0.7 0l-1 -0.5l-0.8 0l-4.2 -1.3l-1 0l-0.3 -0.2l-3 -0.3l-0.2 -0.2l-3 0l-0.3 -0.3l-4 0l-0.2 0.3l-4.3 0.2l-0.2 0.3l-2.3 0.2l-3 1l-0.7 0l-5.3 1.8l-0.7 0.5l-1.3 0.2l-0.7 0.5l-1.3 0.3l-4.7 2l-6 1.7l-2.3 0l-0.2 -0.2l-2.5 -0.3l-15.8 -4.5l-3.7 -0.5l-0.3 -0.2l-5.7 -0.3l-0.3 -0.2l-6.7 0.5l-0.3 0.2l-4.5 0.8l-7 2.2l-0.7 0.5l-3.3 1l-4 1.8l-6.5 2l-3.2 0l-0.3 -0.3l-2.2 -0.2l-3 -1l-0.8 0l-1 -0.5l-0.7 0l-1 -0.5l-0.8 0l-1.7 -0.8l-0.8 0l-1 -0.5l-0.7 0l-4.3 -1.2l-2.2 -0.3l-0.3 -0.2l-3.5 -0.3l-0.2 -0.2l-7.8 0l-0.2 0.2l-1.8 0l-0.2 0.3l-2.5 0.2l-0.3 0.3l-2.7 0.5l-1 0.5l-0.8 0l-6.5 2.2l-0.7 0.5l-1.3 0.3l-4 1.7l-4.5 1.5l-3 0.5l-0.2 0.3l-2.5 -0.3l-0.3 -0.2l-1 0l-0.2 -0.3l-3.8 -0.7l-5.2 -1.8l-0.8 0l-2.7 -1l-0.8 0l-2.2 -0.7l-1 0l-1.3 -0.5l-1.2 0l-1.8 -0.5l-2.5 0l-0.2 -0.3l-6 0l-0.3 0.3l-3 0.2l-5.7 1.8l-5.3 2.5l-0.5 0l-2.2 1.2l-0.5 0l-1.8 1l-0.5 0l-2.7 1.3l-0.8 0l-1.2 0.5l-6.5 0l-0.3 0.2l-3 0.3l-3.2 1l-4.3 2l-4.2 2.7l-4.8 3.8l-5.7 5.2l-9 9l8 -0.2l0.2 -0.3l4.5 0l0.3 -0.2l4.5 0l0.2 -0.3l5.3 0l0.2 -0.2l5.3 0l0.2 -0.3l5.3 0l0.2 -0.2l19.3 -0.5l0.2 -0.3l6.3 0l0.2 -0.2l5.3 0l0.2 -0.3l1.3 0l6.7 7.8l0.5 0.2l0.3 -0.2l6 0l0.2 -0.3l6.3 0l0.2 -0.2l6.8 0l0.2 -0.3l17.3 -0.5l0.2 -0.2l4.8 0l0.2 -0.3l0.3 0.3l0.2 -0.3l14.5 -0.5l0.3 -0.2l5.2 0l0.3 -0.3l6.5 0l0.2 -0.2l6.3 0l0.2 -0.3l6 0l0.3 -0.2l6 0l0.2 -0.3l5.5 0l0.3 -0.2l5 0l0.2 -0.3l5.5 0l0.3 -0.2l4.7 0l0.3 -0.3l4.7 0l0.3 -0.2l4.7 0l0.3 -0.3l5 0l0.2 -0.2l6.3 0l0.2 -0.3l6.3 0l0.2 -0.2l6 0l0.3 -0.3l17.5 -0.5l0.2 -0.2l10.8 -0.3l0.2 -0.2l9.8 -0.3l0.2 -0.2l4.5 0l0.3 -0.3l5.7 0l0.3 -0.2l6.7 0l0.3 -0.3l6.2 0l0.3 -0.2l17.5 -0.5l0.2 -0.3l10.5 -0.2l0.3 -0.3l4.7 0l0.3 -0.2l4.7 0l0.3 -0.3l4.7 0l0.3 -0.2l5.7 0l0.3 -0.3l6.2 0l0.3 -0.2l6 0l0.2 -0.3l18.3 -0.5l0.2 -0.2l10.5 -0.3l0.3 -0.2l9.7 -0.3l0.3 -0.2l4.5 0l0.2 -0.3l5.3 0l0.2 -0.2l6.5 0l0.3 -0.3l6.5 0l0.2 -0.2l5.8 0l0.2 -0.3l0.3 0.3l0.2 -0.3z"/>
<path fill="#93ff6c" d="M572.1 241.6l-15 -19.7l-3.2 -3.8l-5.5 -5.5l-2.5 -2l-5 -3l-3.8 -1.2l-3.2 -0.3l-0.3 0.3l-1.7 0l-0.3 0.2l-3.7 0.5l-4.5 1.5l-0.8 0l-1.5 0.8l-2.7 0.7l-2 1l-1.3 0.3l-0.7 0.5l-1.3 0.2l-0.7 0.5l-1.3 0.3l-0.7 0.5l-6.3 1.7l-2.7 -0.2l-0.3 -0.3l-1 0l-0.2 -0.2l-3.8 -0.8l-3.5 -1.2l-0.7 0l-1 -0.5l-0.8 0l-1 -0.5l-0.7 0l-1 -0.5l-0.8 0l-2.2 -0.8l-1 0l-0.3 -0.2l-2.2 -0.3l-0.3 -0.2l-1.5 0l-0.2 -0.3l-2.3 0l-0.2 -0.2l-6 0l-0.3 0.2l-2 0l-0.2 0.3l-2.8 0.2l-0.2 0.3l-3.8 0.7l-6 2l-0.7 0.5l-1.3 0.3l-0.7 0.5l-1.3 0.2l-2 1l-2 0.5l-0.7 0.5l-3 1l-3 0.5l-0.3 0.3l-1.5 0l-0.2 -0.3l-3.8 -0.5l-2 -0.7l-1.7 -0.3l-1.8 -0.7l-0.7 0l-1 -0.5l-0.8 0l-1 -0.5l-0.7 0l-1 -0.5l-0.8 0l-4.2 -1.3l-1 0l-0.3 -0.2l-3 -0.3l-0.2 -0.2l-3 0l-0.3 -0.3l-4 0l-0.2 0.3l-4.3 0.2l-0.2 0.3l-2.3 0.2l-3 1l-0.7 0l-5.3 1.8l-0.7 0.5l-1.3 0.2l-0.7 0.5l-1.3 0.3l-4.7 2l-6 1.7l-2.3 0l-0.2 -0.2l-2.5 -0.3l-15.8 -4.5l-3.7 -0.5l-0.3 -0.2l-5.7 -0.3l-0.3 -0.2l-6.7 0.5l-0.3 0.2l-4.5 0.8l-7 2.2l-0.7 0.5l-3.3 1l-4 1.8l-6.5 2l-3.2 0l-0.3 -0.3l-2.2 -0.2l-3 -1l-0.8 0l-1 -0.5l-0.7 0l-1 -0.5l-0.8 0l-1.7 -0.8l-0.8 0l-1 -0.5l-0.7 0l-4.3 -1.2l-2.2 -0.3l-0.3 -0.2l-3.5 -0.3l-0.2 -0.2l-7.8 0l-0.2 0.2l-1.8 0l-0.2 0.3l-2.5 0.2l-0.3 0.3l-2.7 0.5l-1 0.5l-0.8 0l-6.5 2.2l-0.7 0.5l-1.3 0.3l-4 1.7l-4.5 1.5l-3 0.5l-0.2 0.3l-2.5 -0.3l-0.3 -0.2l-1 0l-0.2 -0.3l-3.8 -0.7l-5.2 -1.8l-0.8 0l-2.7 -1l-0.8 0l-2.2 -0.7l-1 0l-1.3 -0.5l-1.2 0l-1.8 -0.5l-2.5 0l-0.2 -0.3l-6 0l-0.3 0.3l-3 0.2l-5.7 1.8l-5.3 2.5l-0.5 0l-2.2 1.2l-0.5 0l-1.8 1l-0.5 0l-2.7 1.3l-0.8 0l-1.2 0.5l-6.5 0l-0.3 0.2l-1.7 0l-0.3 0.3l-2 0.2l-3.5 1.3l-4.2 2.2l-6.3 4.5l-7.2 6.5l-8 8l13 -0.5l0.2 -0.2l4.5 0l0.3 -0.3l5 0l0.2 -0.2l5.3 0l0.2 -0.3l5.8 0l0.2 -0.2l5.8 0l0.2 -0.3l6.3 0l0.2 -0.2l6.5 0l0.3 -0.3l11.2 -0.2l6.8 7.5l3.2 0l0.3 -0.3l20.2 -0.5l0.3 -0.2l16.5 -0.5l0.2 -0.3l4.8 0l0.2 -0.2l4.8 0l0.2 -0.3l4.8 0l0.2 -0.2l4.8 0l0.2 -0.3l19.5 -0.5l0.3 -0.2l5.7 0l0.3 -0.3l5.7 0l0.3 -0.2l11 -0.3l0.2 -0.2l4.8 0l0.2 -0.3l4.8 0l0.2 -0.2l4.8 0l0.2 -0.3l4.8 0l0.2 -0.2l19 -0.5l0.3 -0.3l6.2 0l0.3 -0.2l5.5 0l0.2 -0.3l16.5 -0.5l0.3 -0.2l4.7 0l0.3 -0.3l4.5 0l0.2 -0.2l4.5 0l0.3 -0.3l5.2 0l0.3 -0.2l6.5 0l0.2 -0.3l19.3 -0.5l0.2 -0.2l16.3 -0.5l0.2 -0.3l10 -0.2l0.3 -0.3l9.5 -0.2l0.2 -0.3l19.8 -0.5l0.2 -0.2l17.5 -0.5l0.3 -0.3l10.2 -0.2l0.3 -0.3l14.2 -0.5l0.3 -0.2l19.7 -0.5l0.3 -0.3l5.5 0l0.2 -0.2l0.3 0.2l0.2 -0.2l5.5 0l0.3 -0.3z"/>
<path fill="#a5ff5a" d="M571.4 240.6l-14.3 -18.7l-3.2 -3.8l-5.5 -5.5l-2.5 -2l-5 -3l-3.8 -1.2l-3.2 -0.3l-0.3 0.3l-1.7 0l-0.3 0.2l-3.7 0.5l-4.5 1.5l-0.8 0l-1.5 0.8l-2.7 0.7l-2 1l-1.3 0.3l-0.7 0.5l-1.3 0.2l-0.7 0.5l-1.3 0.3l-0.7 0.5l-6.3 1.7l-2.7 -0.2l-0.3 -0.3l-1 0l-0.2 -0.2l-3.8 -0.8l-3.5 -1.2l-0.7 0l-1 -0.5l-0.8 0l-1 -0.5l-0.7 0l-1 -0.5l-0.8 0l-2.2 -0.8l-1 0l-0.3 -0.2l-2.2 -0.3l-0.3 -0.2l-1.5 0l-0.2 -0.3l-2.3 0l-0.2 -0.2l-6 0l-0.3 0.2l-2 0l-0.2 0.3l-2.8 0.2l-0.2 0.3l-3.8 0.7l-6 2l-0.7 0.5l-1.3 0.3l-0.7 0.5l-1.3 0.2l-2 1l-2 0.5l-0.7 0.5l-3 1l-3 0.5l-0.3 0.3l-1.5 0l-0.2 -0.3l-3.8 -0.5l-2 -0.7l-1.7 -0.3l-1.8 -0.7l-0.7 0l-1 -0.5l-0.8 0l-1 -0.5l-0.7 0l-1 -0.5l-0.8 0l-4.2 -1.3l-1 0l-0.3 -0.2l-3 -0.3l-0.2 -0.2l-3 0l-0.3 -0.3l-4 0l-0.2 0.3l-4.3 0.2l-0.2 0.3l-2.3 0.2l-3 1l-0.7 0l-5.3 1.8l-0.7 0.5l-1.3 0.2l-0.7 0.5l-1.3 0.3l-4.7 2l-6 1.7l-2.3 0l-0.2 -0.2l-2.5 -0.3l-15.8 -4.5l-3.7 -0.5l-0.3 -0.2l-5.7 -0.3l-0.3 -0.2l-6.7 0.5l-0.3 0.2l-4.5 0.8l-7 2.2l-0.7 0.5l-3.3 1l-4 1.8l-6.5 2l-3.2 0l-0.3 -0.3l-2.2 -0.2l-3 -1l-0.8 0l-1 -0.5l-0.7 0l-1 -0.5l-0.8 0l-1.7 -0.8l-0.8 0l-1 -0.5l-0.7 0l-4.3 -1.2l-2.2 -0.3l-0.3 -0.2l-3.5 -0.3l-0.2 -0.2l-7.8 0l-0.2 0.2l-1.8 0l-0.2 0.3l-2.5 0.2l-0.3 0.3l-2.7 0.5l-1 0.5l-0.8 0l-6.5 2.2l-0.7 0.5l-1.3 0.3l-4 1.7l-4.5 1.5l-3 0.5l-0.2 0.3l-2.5 -0.3l-0.3 -0.2l-1 0l-0.2 -0.3l-3.8 -0.7l-5.2 -1.8l-0.8 0l-2.7 -1l-0.8 0l-2.2 -0.7l-1 0l-1.3 -0.5l-1.2 0l-1.8 -0.5l-2.5 0l-0.2 -0.3l-6 0l-0.3 0.3l-3 0.2l-5.7 1.8l-5.3 2.5l-0.5 0l-2.2 1.2l-0.5 0l-1.8 1l-0.5 0l-2.7 1.3l-0.8 0l-1.2 0.5l-6.5 0l-0.3 0.2l-1.7 0l-0.3 0.3l-2 0.2l-3.5 1.3l-4.2 2.2l-6.3 4.5l-7.2 6.5l-7 7l13 -0.5l0.2 -0.2l4.8 0l0.2 -0.3l4.8 0l0.2 -0.2l5.3 0l0.2 -0.3l5.5 0l0.3 -0.2l6 0l0.2 -0.3l6.3 0l0.2 -0.2l0.3 0.2l0.2 -0.2l6.3 0l0.2 -0.3l6.5 0l0.3 -0.2l2.2 0l4.8 5l2 2.5l0.7 0l0.3 -0.3l5.7 0l0.3 -0.2l6.7 0l0.3 -0.3l6.7 0l0.3 -0.2l5.7 0l0.3 -0.3l0.2 0.3l0.3 -0.3l11 -0.2l0.2 -0.3l10 -0.2l0.3 -0.3l4.5 0l0.2 -0.2l4.3 0l0.2 -0.3l5.5 0l0.3 -0.2l6 0l0.2 -0.3l6.8 0l0.2 -0.2l18.5 -0.5l0.3 -0.3l10.5 -0.2l0.2 -0.3l9.8 -0.2l0.2 -0.3l9.5 -0.2l0.3 -0.3l6.2 0l0.3 -0.2l6.7 0l0.3 -0.3l6.2 0l0.3 -0.2l17.7 -0.5l0.3 -0.3l15 -0.5l0.2 -0.2l4.5 0l0.3 -0.3l4.5 0l0.2 -0.2l13 -0.3l0.3 -0.2l6.2 0l0.3 -0.3l6 0l0.2 -0.2l0.3 0.2l0.2 -0.2l5.8 0l0.2 -0.3l15.8 -0.5l0.2 -0.2l9.5 -0.3l0.3 -0.2l4.5 0l0.2 -0.3l5.8 0l0.2 -0.2l6.5 0l0.3 -0.3l6.7 0l0.3 -0.2l6 0l0.2 -0.3l17.3 -0.5l0.2 -0.2l9.8 -0.3l0.2 -0.2l4.5 0l0.3 -0.3l4.5 0l0.2 -0.2l5.5 0l0.3 -0.3l6.5 0l0.2 -0.2l6.5 0l0.3 -0.3l6 0l0.2 -0.2z"/>
<path fill="#b6ff49" d="M570.4 239.4l-13.3 -17.5l-3.2 -3.8l-5.5 -5.5l-2.5 -2l-5 -3l-3.8 -1.2l-3.2 -0.3l-0.3 0.3l-1.7 0l-0.3 0.2l-3.7 0.5l-4.5 1.5l-0.8 0l-1.5 0.8l-2.7 0.7l-2 1l-1.3 0.3l-0.7 0.5l-1.3 0.2l-0.7 0.5l-1.3 0.3l-0.7 0.5l-6.3 1.7l-2.7 -0.2l-0.3 -0.3l-1 0l-0.2 -0.2l-3.8 -0.8l-3.5 -1.2l-0.7 0l-1 -0.5l-0.8 0l-1 -0.5l-0.7 0l-1 -0.5l-0.8 0l-2.2 -0.8l-1 0l-0.3 -0.2l-2.2 -0.3l-0.3 -0.2l-1.5 0l-0.2 -0.3l-2.3 0l-0.2 -0.2l-6 0l-0.3 0.2l-2 0l-0.2 0.3l-2.8 0.2l-0.2 0.3l-3.8 0.7l-6 2l-0.7 0.5l-1.3 0.3l-0.7 0.5l-1.3 0.2l-2 1l-2 0.5l-0.7 0.5l-3 1l-3 0.5l-0.3 0.3l-1.5 0l-0.2 -0.3l-3.8 -0.5l-2 -0.7l-1.7 -0.3l-1.8 -0.7l-0.7 0l-1 -0.5l-0.8 0l-1 -0.5l-0.7 0l-1 -0.5l-0.8 0l-4.2 -1.3l-1 0l-0.3 -0.2l-3 -0.3l-0.2 -0.2l-3 0l-0.3 -0.3l-4 0l-0.2 0.3l-4.3 0.2l-0.2 0.3l-2.3 0.2l-3 1l-0.7 0l-5.3 1.8l-0.7 0.5l-1.3 0.2l-0.7 0.5l-1.3 0.3l-4.7 2l-6 1.7l-2.3 0l-0.2 -0.2l-2.5 -0.3l-15.8 -4.5l-3.7 -0.5l-0.3 -0.2l-5.7 -0.3l-0.3 -0.2l-6.7 0.5l-0.3 0.2l-4.5 0.8l-7 2.2l-0.7 0.5l-3.3 1l-4 1.8l-6.5 2l-3.2 0l-0.3 -0.3l-2.2 -0.2l-3 -1l-0.8 0l-1 -0.5l-0.7 0l-1 -0.5l-0.8 0l-1.7 -0.8l-0.8 0l-1 -0.5l-0.7 0l-4.3 -1.2l-2.2 -0.3l-0.3 -0.2l-3.5 -0.3l-0.2 -0.2l-7.8 0l-0.2 0.2l-1.8 0l-0.2 0.3l-2.5 0.2l-0.3 0.3l-2.7 0.5l-1 0.5l-0.8 0l-6.5 2.2l-0.7 0.5l-1.3 0.3l-4 1.7l-4.5 1.5l-3 0.5l-0.2 0.3l-2.5 -0.3l-0.3 -0.2l-1 0l-0.2 -0.3l-3.8 -0.7l-5.2 -1.8l-0.8 0l-2.7 -1l-0.8 0l-2.2 -0.7l-1 0l-1.3 -0.5l-1.2 0l-1.8 -0.5l-2.5 0l-0.2 -0.3l-6 0l-0.3 0.3l-3 0.2l-5.7 1.8l-5.3 2.5l-0.5 0l-2.2 1.2l-0.5 0l-1.8 1l-0.5 0l-2.7 1.3l-0.8 0l-1.2 0.5l-6.5 0l-0.3 0.2l-1.7 0l-0.3 0.3l-2 0.2l-3.5 1.3l-4.2 2.2l-6.3 4.5l-7.2 6.5l-6 6l8.7 -0.2l0.3 -0.3l4.2 0l0.3 -0.2l4.5 0l0.2 -0.3l4.8 0l0.2 -0.2l5.3 0l0.2 -0.3l5.5 0l0.3 -0.2l6.2 0l0.3 -0.3l6.2 0l0.3 -0.2l13.5 -0.3l0.5 -0.2l6.5 7.2l3.2 0l0.3 -0.2l7 0l0.2 -0.3l7 0l0.3 -0.2l12.5 -0.3l0.2 -0.2l10.8 -0.3l0.2 -0.2l4.8 0l0.2 -0.3l9.3 -0.2l0.2 -0.3l4.3 0l0.2 -0.2l6.3 0l0.2 -0.3l7 0l0.3 -0.2l19 -0.5l0.2 -0.3l10.8 -0.2l0.2 -0.3l4.8 0l0.2 -0.2l4.5 0l0.3 -0.3l9.2 -0.2l0.3 -0.3l19.2 -0.5l0.3 -0.2l6.5 0l0.2 -0.3l6 0l0.3 -0.2l5.2 0l0.3 -0.3l5 0l0.2 -0.2l0.3 0.2l0.2 -0.2l9.5 -0.3l0.3 -0.2l4.5 0l0.2 -0.3l4.3 0l0.2 -0.2l5.3 0l0.2 -0.3l6.8 0l0.2 -0.2l7 0l0.3 -0.3l18.2 -0.5l0.3 -0.2l5.2 0l0.3 -0.3l9.7 -0.2l0.3 -0.3l14.2 -0.5l0.3 -0.2l6.5 0l0.2 -0.3l7 0l0.3 -0.2l12.5 -0.3l0.2 -0.2l5.8 0l0.2 -0.3l15.8 -0.5l0.2 -0.2l4.5 0l0.3 -0.3l9.2 -0.2l0.3 -0.3l20 -0.5l0.2 -0.2l5.8 0l0.2 -0.3l0.3 0.3l0.2 -0.3l5.8 0z"/>
<path fill="#c7ff38" d="M569.6 238.4l-12.5 -16.5l-3.2 -3.8l-5.5 -5.5l-2.5 -2l-5 -3l-3.8 -1.2l-3.2 -0.3l-0.3 0.3l-1.7 0l-0.3 0.2l-3.7 0.5l-4.5 1.5l-0.8 0l-1.5 0.8l-2.7 0.7l-2 1l-1.3 0.3l-0.7 0.5l-1.3 0.2l-0.7 0.5l-1.3 0.3l-0.7 0.5l-6.3 1.7l-2.7 -0.2l-0.3 -0.3l-1 0l-0.2 -0.2l-3.8 -0.8l-3.5 -1.2l-0.7 0l-1 -0.5l-0.8 0l-1 -0.5l-0.7 0l-1 -0.5l-0.8 0l-2.2 -0.8l-1 0l-0.3 -0.2l-2.2 -0.3l-0.3 -0.2l-1.5 0l-0.2 -0.3l-2.3 0l-0.2 -0.2l-6 0l-0.3 0.2l-2 0l-0.2 0.3l-2.8 0.2l-0.2 0.3l-3.8 0.7l-6 2l-0.7 0.5l-1.3 0.3l-0.7 0.5l-1.3 0.2l-2 1l-2 0.5l-0.7 0.5l-3 1l-3 0.5l-0.3 0.3l-1.5 0l-0.2 -0.3l-3.8 -0.5l-2 -0.7l-1.7 -0.3l-1.8 -0.7l-0.7 0l-1 -0.5l-0.8 0l-1 -0.5l-0.7 0l-1 -0.5l-0.8 0l-4.2 -1.3l-1 0l-0.3 -0.2l-3 -0.3l-0.2 -0.2l-3 0l-0.3 -0.3l-4 0l-0.2 0.3l-4.3 0.2l-0.2 0.3l-2.3 0.2l-3 1l-0.7 0l-5.3 1.8l-0.7 0.5l-1.3 0.2l-0.7 0.5l-1.3 0.3l-4.7 2l-6 1.7l-2.3 0l-0.2 -0.2l-2.5 -0.3l-15.8 -4.5l-3.7 -0.5l-0.3 -0.2l-5.7 -0.3l-0.3 -0.2l-6.7 0.5l-0.3 0.2l-4.5 0.8l-7 2.2l-0.7 0.5l-3.3 1l-4 1.8l-6.5 2l-3.2 0l-0.3 -0.3l-2.2 -0.2l-3 -1l-0.8 0l-1 -0.5l-0.7 0l-1 -0.5l-0.8 0l-1.7 -0.8l-0.8 0l-1 -0.5l-0.7 0l-4.3 -1.2l-2.2 -0.3l-0.3 -0.2l-3.5 -0.3l-0.2 -0.2l-7.8 0l-0.2 0.2l-1.8 0l-0.2 0.3l-2.5 0.2l-0.3 0.3l-2.7 0.5l-1 0.5l-0.8 0l-6.5 2.2l-0.7 0.5l-1.3 0.3l-4 1.7l-4.5 1.5l-3 0.5l-0.2 0.3l-2.5 -0.3l-0.3 -0.2l-1 0l-0.2 -0.3l-3.8 -0.7l-5.2 -1.8l-0.8 0l-2.7 -1l-0.8 0l-2.2 -0.7l-1 0l-1.3 -0.5l-1.2 0l-1.8 -0.5l-2.5 0l-0.2 -0.3l-6 0l-0.3 0.3l-3 0.2l-5.7 1.8l-5.3 2.5l-0.5 0l-2.2 1.2l-0.5 0l-1.8 1l-0.5 0l-2.7 1.3l-0.8 0l-1.2 0.5l-6.5 0l-0.3 0.2l-1.7 0l-0.3 0.3l-2 0.2l-3.5 1.3l-4.2 2.2l-6.3 4.5l-7.2 6.5l-5 5l4.5 0l0.2 -0.2l4.3 0l0.2 -0.3l8.5 -0.2l0.3 -0.3l4.7 0l0.3 -0.2l11.2 -0.3l0.3 -0.2l6.2 0l0.3 -0.3l18.7 -0.5l6.3 7l0.7 0l0.3 -0.2l6 0l0.2 -0.3l7.3 0l0.2 -0.2l7 0l0.3 -0.3l17.2 -0.5l0.3 -0.2l5 0l0.2 -0.3l4.5 0l0.3 -0.2l4.2 0l0.3 -0.3l4.2 0l0.3 -0.2l5.2 0l0.3 -0.3l6.7 0l0.3 -0.2l7 0l0.2 -0.3l6.3 0l0.2 -0.2l6.3 0l0.2 -0.3l10.8 -0.2l0.2 -0.3l10 -0.2l0.3 -0.3l4.5 0l0.2 -0.2l9 -0.3l0.3 -0.2l7 0l0.2 -0.3l6.5 0l0.3 -0.2l7 0l0.2 -0.3l17.3 -0.5l0.2 -0.2l10 -0.3l0.3 -0.2l4.5 0l0.2 -0.3l9.3 -0.2l0.2 -0.3l6 0l0.3 -0.2l6.7 0l0.3 -0.3l6.7 0l0.3 -0.2l12.2 -0.3l0.3 -0.2l10.7 -0.3l0.3 -0.2l4.7 0l0.3 -0.3l9.2 -0.2l0.3 -0.3l4.2 0l0.3 -0.2l5.5 0l0.2 -0.3l7.3 0l0.2 -0.2l6.8 0l0.2 -0.3l6.5 0l0.3 -0.2l5.5 0l0.2 -0.3l5.8 0l0.2 -0.2l10 -0.3l0.3 -0.2l4.5 0l0.2 -0.3l4.5 0l0.3 -0.2l4.5 0l0.2 -0.3l5 0l0.3 -0.2l6.7 0l0.3 -0.3l0.2 0.3l0.3 -0.3l6.7 0l0.3 -0.2l6 0l0.2 -0.3z"/>
<path fill="#d9ff26" d="M568.9 237.4l-11.8 -15.5l-3.2 -3.8l-5.5 -5.5l-2.5 -2l-5 -3l-3.8 -1.2l-3.2 -0.3l-0.3 0.3l-1.7 0l-0.3 0.2l-3.7 0.5l-4.5 1.5l-0.8 0l-1.5 0.8l-2.7 0.7l-2 1l-1.3 0.3l-0.7 0.5l-1.3 0.2l-0.7 0.5l-1.3 0.3l-0.7 0.5l-6.3 1.7l-2.7 -0.2l-0.3 -0.3l-1 0l-0.2 -0.2l-3.8 -0.8l-3.5 -1.2l-0.7 0l-1 -0.5l-0.8 0l-1 -0.5l-0.7 0l-1 -0.5l-0.8 0l-2.2 -0.8l-1 0l-0.3 -0.2l-2.2 -0.3l-0.3 -0.2l-1.5 0l-0.2 -0.3l-2.3 0l-0.2 -0.2l-6 0l-0.3 0.2l-2 0l-0.2 0.3l-2.8 0.2l-0.2 0.3l-3.8 0.7l-6 2l-0.7 0.5l-1.3 0.3l-0.7 0.5l-1.3 0.2l-2 1l-2 0.5l-0.7 0.5l-3 1l-3 0.5l-0.3 0.3l-1.5 0l-0.2 -0.3l-3.8 -0.5l-2 -0.7l-1.7 -0.3l-1.8 -0.7l-0.7 0l-1 -0.5l-0.8 0l-1 -0.5l-0.7 0l-1 -0.5l-0.8 0l-4.2 -1.3l-1 0l-0.3 -0.2l-3 -0.3l-0.2 -0.2l-3 0l-0.3 -0.3l-4 0l-0.2 0.3l-4.3 0.2l-0.2 0.3l-2.3 0.2l-3 1l-0.7 0l-5.3 1.8l-0.7 0.5l-1.3 0.2l-0.7 0.5l-1.3 0.3l-4.7 2l-6 1.7l-2.3 0l-0.2 -0.2l-2.5 -0.3l-15.8 -4.5l-3.7 -0.5l-0.3 -0.2l-5.7 -0.3l-0.3 -0.2l-6.7 0.5l-0.3 0.2l-4.5 0.8l-7 2.2l-0.7 0.5l-3.3 1l-4 1.8l-6.5 2l-3.2 0l-0.3 -0.3l-2.2 -0.2l-3 -1l-0.8 0l-1 -0.5l-0.7 0l-1 -0.5l-0.8 0l-1.7 -0.8l-0.8 0l-1 -0.5l-0.7 0l-4.3 -1.2l-2.2 -0.3l-0.3 -0.2l-3.5 -0.3l-0.2 -0.2l-7.8 0l-0.2 0.2l-1.8 0l-0.2 0.3l-2.5 0.2l-0.3 0.3l-2.7 0.5l-1 0.5l-0.8 0l-6.5 2.2l-0.7 0.5l-1.3 0.3l-4 1.7l-4.5 1.5l-3 0.5l-0.2 0.3l-2.5 -0.3l-0.3 -0.2l-1 0l-0.2 -0.3l-3.8 -0.7l-5.2 -1.8l-0.8 0l-2.7 -1l-0.8 0l-2.2 -0.7l-1 0l-1.3 -0.5l-1.2 0l-1.8 -0.5l-2.5 0l-0.2 -0.3l-6 0l-0.3 0.3l-3 0.2l-5.7 1.8l-5.3 2.5l-0.5 0l-2.2 1.2l-0.5 0l-1.8 1l-0.5 0l-2.7 1.3l-0.8 0l-1.2 0.5l-6.5 0l-0.3 0.2l-1.7 0l-0.3 0.3l-2 0.2l-3.5 1.3l-4.2 2.2l-5 3.5l-4.8 4l-7.7 7.5l4.7 0l0.3 -0.2l13 -0.5l0.2 -0.3l4.8 0l0.2 -0.2l5.3 0l0.2 -0.3l5.8 0l0.2 -0.2l6.3 0l0.2 -0.3l6.8 0l0.2 -0.2l7 0l0.3 -0.3l2.2 0l6.3 6.8l3.7 0l0.3 -0.3l14.7 -0.2l0.3 -0.3l6.7 0l0.3 -0.2l16.2 -0.5l0.3 -0.3l9.2 -0.2l0.3 -0.3l9 -0.2l0.2 -0.3l6.3 0l0.2 -0.2l7 0l0.3 -0.3l7 0l0.2 -0.2l17.8 -0.5l0.2 -0.3l5 0l0.3 -0.2l9.2 -0.3l0.3 -0.2l9 -0.3l0.2 -0.2l20.3 -0.5l0.2 -0.3l6.3 0l0.2 -0.2l6 0l0.3 -0.3l10.7 -0.2l0.3 -0.3l14 -0.5l0.2 -0.2l4.3 0l0.2 -0.3l5.3 0l0.2 -0.2l7 0l0.3 -0.3l6.7 0l0.3 -0.2l6.7 0l0.3 -0.3l17.2 -0.5l0.3 -0.2l4.5 0l0.2 -0.3l4.5 0l0.3 -0.2l4.5 0l0.2 -0.3l4.5 0l0.3 -0.2l4.5 0l0.2 -0.3l7 0l0.3 -0.2l6.7 0l0.3 -0.3l19.2 -0.5l0.3 -0.2l15.2 -0.5l0.3 -0.3l4.2 0l0.3 -0.2l4 0l0.2 -0.3l4.8 0l0.2 -0.2l6.3 0l0.2 -0.3l7 0l0.3 -0.2z"/>
<path fill="#eaff15" d="M567.9 235.9l-10.8 -14l-3.2 -3.8l-5.5 -5.5l-2.5 -2l-5 -3l-3.8 -1.2l-3.2 -0.3l-0.3 0.3l-1.7 0l-0.3 0.2l-3.7 0.5l-4.5 1.5l-0.8 0l-1.5 0.8l-2.7 0.7l-2 1l-1.3 0.3l-0.7 0.5l-1.3 0.2l-0.7 0.5l-1.3 0.3l-0.7 0.5l-6.3 1.7l-2.7 -0.2l-0.3 -0.3l-1 0l-0.2 -0.2l-3.8 -0.8l-3.5 -1.2l-0.7 0l-1 -0.5l-0.8 0l-1 -0.5l-0.7 0l-1 -0.5l-0.8 0l-2.2 -0.8l-1 0l-0.3 -0.2l-2.2 -0.3l-0.3 -0.2l-1.5 0l-0.2 -0.3l-2.3 0l-0.2 -0.2l-6 0l-0.3 0.2l-2 0l-0.2 0.3l-2.8 0.2l-0.2 0.3l-3.8 0.7l-6 2l-0.7 0.5l-1.3 0.3l-0.7 0.5l-1.3 0.2l-2 1l-2 0.5l-0.7 0.5l-3 1l-3 0.5l-0.3 0.3l-1.5 0l-0.2 -0.3l-3.8 -0.5l-2 -0.7l-1.7 -0.3l-1.8 -0.7l-0.7 0l-1 -0.5l-0.8 0l-1 -0.5l-0.7 0l-1 -0.5l-0.8 0l-4.2 -1.3l-1 0l-0.3 -0.2l-3 -0.3l-0.2 -0.2l-3 0l-0.3 -0.3l-4 0l-0.2 0.3l-4.3 0.2l-0.2 0.3l-2.3 0.2l-3 1l-0.7 0l-5.3 1.8l-0.7 0.5l-1.3 0.2l-0.7 0.5l-1.3 0.3l-4.7 2l-6 1.7l-2.3 0l-0.2 -0.2l-2.5 -0.3l-15.8 -4.5l-3.7 -0.5l-0.3 -0.2l-5.7 -0.3l-0.3 -0.2l-6.7 0.5l-0.3 0.2l-4.5 0.8l-7 2.2l-0.7 0.5l-3.3 1l-4 1.8l-6.5 2l-3.2 0l-0.3 -0.3l-2.2 -0.2l-3 -1l-0.8 0l-1 -0.5l-0.7 0l-1 -0.5l-0.8 0l-1.7 -0.8l-0.8 0l-1 -0.5l-0.7 0l-4.3 -1.2l-2.2 -0.3l-0.3 -0.2l-3.5 -0.3l-0.2 -0.2l-7.8 0l-0.2 0.2l-1.8 0l-0.2 0.3l-2.5 0.2l-0.3 0.3l-2.7 0.5l-1 0.5l-0.8 0l-6.5 2.2l-0.7 0.5l-1.3 0.3l-4 1.7l-4.5 1.5l-3 0.5l-0.2 0.3l-2.5 -0.3l-0.3 -0.2l-1 0l-0.2 -0.3l-3.8 -0.7l-5.2 -1.8l-0.8 0l-2.7 -1l-0.8 0l-2.2 -0.7l-1 0l-1.3 -0.5l-1.2 0l-1.8 -0.5l-2.5 0l-0.2 -0.3l-6 0l-0.3 0.3l-3 0.2l-5.7 1.8l-5.3 2.5l-0.5 0l-2.2 1.2l-0.5 0l-1.8 1l-0.5 0l-2.7 1.3l-0.8 0l-1.2 0.5l-6.5 0l-0.3 0.2l-1.7 0l-0.3 0.3l-2 0.2l-3.5 1.3l-4.2 2.2l-5 3.5l-4.8 4l-6.7 6.5l5 0l0.2 -0.2l4.3 0l0.2 -0.3l13 -0.5l0.3 -0.2l5.5 0l0.2 -0.3l5.5 0l0.3 -0.2l21 -0.5l0.5 -0.3l6 6.8l1 0l0.2 -0.3l6 0l0.3 -0.2l7.7 0l0.3 -0.3l7.2 0l0.3 -0.2l12 -0.3l0.2 -0.2l5 0l0.3 -0.3l9.2 -0.2l0.3 -0.3l4.2 0l0.3 -0.2l4.2 0l0.3 -0.3l5.2 0l0.3 -0.2l6.7 0l0.3 -0.3l7.2 0l0.3 -0.2l6.7 0l0.3 -0.3l11.7 -0.2l0.3 -0.3l15 -0.5l0.2 -0.2l13.3 -0.5l0.2 -0.3l7 0l0.3 -0.2l7.2 0l0.3 -0.3l7 0l0.2 -0.2l11.8 -0.3l0.2 -0.2l10.3 -0.3l0.2 -0.2l9.3 -0.3l0.2 -0.2l9 -0.3l0.3 -0.2l6.2 0l0.3 -0.3l7.2 0l0.3 -0.2l6.7 0l0.3 -0.3l18.2 -0.5l0.3 -0.2l9.5 -0.3l0.2 -0.2l4.3 0l0.2 -0.3l4.3 0l0.2 -0.2l4.3 0l0.2 -0.3l6 0l0.3 -0.2l7.2 0l0.3 -0.3l7 0l0.2 -0.2l6.5 0l0.3 -0.3l11.5 -0.2l0.2 -0.3l9.8 -0.2l0.2 -0.3l9 -0.2l0.3 -0.3l4 0l0.2 -0.2l5.3 0l0.2 -0.3l14.8 -0.2l0.2 -0.3l6.5 0l0.3 -0.2l5.7 0l0.3 -0.3l0.2 0.3l0.3 -0.3l2 0z"/>
<path fill="#fbff04" d="M567.1 234.9l-10 -13l-3.2 -3.8l-5.5 -5.5l-2.5 -2l-5 -3l-3.8 -1.2l-3.2 -0.3l-0.3 0.3l-1.7 0l-0.3 0.2l-3.7 0.5l-4.5 1.5l-0.8 0l-1.5 0.8l-2.7 0.7l-2 1l-1.3 0.3l-0.7 0.5l-1.3 0.2l-0.7 0.5l-1.3 0.3l-0.7 0.5l-6.3 1.7l-2.7 -0.2l-0.3 -0.3l-1 0l-0.2 -0.2l-3.8 -0.8l-3.5 -1.2l-0.7 0l-1 -0.5l-0.8 0l-1 -0.5l-0.7 0l-1 -0.5l-0.8 0l-2.2 -0.8l-1 0l-0.3 -0.2l-2.2 -0.3l-0.3 -0.2l-1.5 0l-0.2 -0.3l-2.3 0l-0.2 -0.2l-6 0l-0.3 0.2l-2 0l-0.2 0.3l-2.8 0.2l-0.2 0.3l-3.8 0.7l-6 2l-0.7 0.5l-1.3 0.3l-0.7 0.5l-1.3 0.2l-2 1l-2 0.5l-0.7 0.5l-3 1l-3 0.5l-0.3 0.3l-1.5 0l-0.2 -0.3l-3.8 -0.5l-2 -0.7l-1.7 -0.3l-1.8 -0.7l-0.7 0l-1 -0.5l-0.8 0l-1 -0.5l-0.7 0l-1 -0.5l-0.8 0l-4.2 -1.3l-1 0l-0.3 -0.2l-3 -0.3l-0.2 -0.2l-3 0l-0.3 -0.3l-4 0l-0.2 0.3l-4.3 0.2l-0.2 0.3l-2.3 0.2l-3 1l-0.7 0l-5.3 1.8l-0.7 0.5l-1.3 0.2l-0.7 0.5l-1.3 0.3l-4.7 2l-6 1.7l-2.3 0l-0.2 -0.2l-2.5 -0.3l-15.8 -4.5l-3.7 -0.5l-0.3 -0.2l-5.7 -0.3l-0.3 -0.2l-6.7 0.5l-0.3 0.2l-4.5 0.8l-7 2.2l-0.7 0.5l-3.3 1l-4 1.8l-6.5 2l-3.2 0l-0.3 -0.3l-2.2 -0.2l-3 -1l-0.8 0l-1 -0.5l-0.7 0l-1 -0.5l-0.8 0l-1.7 -0.8l-0.8 0l-1 -0.5l-0.7 0l-4.3 -1.2l-2.2 -0.3l-0.3 -0.2l-3.5 -0.3l-0.2 -0.2l-7.8 0l-0.2 0.2l-1.8 0l-0.2 0.3l-2.5 0.2l-0.3 0.3l-2.7 0.5l-1 0.5l-0.8 0l-6.5 2.2l-0.7 0.5l-1.3 0.3l-4 1.7l-4.5 1.5l-3 0.5l-0.2 0.3l-2.5 -0.3l-0.3 -0.2l-1 0l-0.2 -0.3l-3.8 -0.7l-5.2 -1.8l-0.8 0l-2.7 -1l-0.8 0l-2.2 -0.7l-1 0l-1.3 -0.5l-1.2 0l-1.8 -0.5l-2.5 0l-0.2 -0.3l-6 0l-0.3 0.3l-3 0.2l-5.7 1.8l-5.3 2.5l-0.5 0l-2.2 1.2l-0.5 0l-1.8 1l-0.5 0l-2.7 1.3l-0.8 0l-1.2 0.5l-6.5 0l-0.3 0.2l-1.7 0l-0.3 0.3l-2 0.2l-3.5 1.3l-4.2 2.2l-5 3.5l-4.8 4l-3.7 3.5l-2 2.3l0.2 -0.3l5 0l0.3 -0.2l4 0l0.2 -0.3l8.3 -0.2l0.2 -0.3l4.8 0l0.2 -0.2l5 0l0.3 -0.3l25.7 -0.7l5.8 6.2l4 0l0.2 -0.2l15.3 -0.3l0.2 -0.2l7 0l0.3 -0.3l16.2 -0.5l0.3 -0.2l8.7 -0.3l0.3 -0.2l8.5 -0.3l0.2 -0.2l6.8 0l0.2 -0.3l7.3 0l0.2 -0.2l7 0l0.3 -0.3l6.5 0l0.2 -0.2l11.3 -0.3l0.2 -0.2l14.3 -0.5l0.2 -0.3l8.5 -0.2l0.3 -0.3l6 0l0.2 -0.2l7 0l0.3 -0.3l7.2 0l0.3 -0.2l6.7 0l0.3 -0.3l11.5 -0.2l0.2 -0.3l5 0l0.3 -0.2l9 -0.3l0.2 -0.2l4.3 0l0.2 -0.3l4 0l0.3 -0.2l5 0l0.2 -0.3l0.3 0.3l0.2 -0.3l21.5 -0.5l0.3 -0.2l5.7 0l0.3 -0.3l0.2 0.3l0.3 -0.3l10.7 -0.2l0.3 -0.3l4.5 0l0.2 -0.2l4.3 0l0.2 -0.3l8.5 -0.2l0.3 -0.3l4.7 0l0.3 -0.2l14.5 -0.3l0.2 -0.2l0.3 0.2l0.2 -0.2l6.8 0l0.2 -0.3l5.8 0l0.2 -0.2l0.3 0.2l0.2 -0.2l15.8 -0.5l0.2 -0.3l9 -0.2l0.3 -0.3l8.5 -0.2l0.2 -0.3l21.8 -0.5l0.2 -0.2l11.5 -0.3z"/>
<path fill="#fff300" d="M566.4 233.9l-9.3 -12l-3.2 -3.8l-5.5 -5.5l-2.5 -2l-5 -3l-3.8 -1.2l-3.2 -0.3l-0.3 0.3l-1.7 0l-0.3 0.2l-3.7 0.5l-4.5 1.5l-0.8 0l-1.5 0.8l-2.7 0.7l-2 1l-1.3 0.3l-0.7 0.5l-1.3 0.2l-0.7 0.5l-1.3 0.3l-0.7 0.5l-6.3 1.7l-2.7 -0.2l-0.3 -0.3l-1 0l-0.2 -0.2l-3.8 -0.8l-3.5 -1.2l-0.7 0l-1 -0.5l-0.8 0l-1 -0.5l-0.7 0l-1 -0.5l-0.8 0l-2.2 -0.8l-1 0l-0.3 -0.2l-2.2 -0.3l-0.3 -0.2l-1.5 0l-0.2 -0.3l-2.3 0l-0.2 -0.2l-6 0l-0.3 0.2l-2 0l-0.2 0.3l-2.8 0.2l-0.2 0.3l-3.8 0.7l-6 2l-0.7 0.5l-1.3 0.3l-0.7 0.5l-1.3 0.2l-2 1l-2 0.5l-0.7 0.5l-3 1l-3 0.5l-0.3 0.3l-1.5 0l-0.2 -0.3l-3.8 -0.5l-2 -0.7l-1.7 -0.3l-1.8 -0.7l-0.7 0l-1 -0.5l-0.8 0l-1 -0.5l-0.7 0l-1 -0.5l-0.8 0l-4.2 -1.3l-1 0l-0.3 -0.2l-3 -0.3l-0.2 -0.2l-3 0l-0.3 -0.3l-4 0l-0.2 0.3l-4.3 0.2l-0.2 0.3l-2.3 0.2l-3 1l-0.7 0l-5.3 1.8l-0.7 0.5l-1.3 0.2l-0.7 0.5l-1.3 0.3l-4.7 2l-6 1.7l-2.3 0l-0.2 -0.2l-2.5 -0.3l-15.8 -4.5l-3.7 -0.5l-0.3 -0.2l-5.7 -0.3l-0.3 -0.2l-6.7 0.5l-0.3 0.2l-4.5 0.8l-7 2.2l-0.7 0.5l-3.3 1l-4 1.8l-6.5 2l-3.2 0l-0.3 -0.3l-2.2 -0.2l-3 -1l-0.8 0l-1 -0.5l-0.7 0l-1 -0.5l-0.8 0l-1.7 -0.8l-0.8 0l-1 -0.5l-0.7 0l-4.3 -1.2l-2.2 -0.3l-0.3 -0.2l-3.5 -0.3l-0.2 -0.2l-7.8 0l-0.2 0.2l-1.8 0l-0.2 0.3l-2.5 0.2l-0.3 0.3l-2.7 0.5l-1 0.5l-0.8 0l-6.5 2.2l-0.7 0.5l-1.3 0.3l-4 1.7l-4.5 1.5l-3 0.5l-0.2 0.3l-2.5 -0.3l-0.3 -0.2l-1 0l-0.2 -0.3l-3.8 -0.7l-5.2 -1.8l-0.8 0l-2.7 -1l-0.8 0l-2.2 -0.7l-1 0l-1.3 -0.5l-1.2 0l-1.8 -0.5l-2.5 0l-0.2 -0.3l-6 0l-0.3 0.3l-3 0.2l-5.7 1.8l-5.3 2.5l-0.5 0l-2.2 1.2l-0.5 0l-1.8 1l-0.5 0l-2.7 1.3l-0.8 0l-1.2 0.5l-6.5 0l-0.3 0.2l-1.7 0l-0.3 0.3l-2 0.2l-3.5 1.3l-4.2 2.2l-5 3.5l-4.8 4l-3.7 3.5l-1 1.3l0.5 -0.3l5 0l0.2 -0.2l4 0l0.3 -0.3l3.7 0l0.3 -0.2l4 0l0.2 -0.3l4.5 0l0.3 -0.2l5.5 0l0.2 -0.3l5.5 0l0.3 -0.2l6.7 0l0.3 -0.3l10.7 -0.2l5.8 6.2l1 0l0.2 -0.2l15.3 -0.3l0.2 -0.2l7.3 0l0.2 -0.3l5.8 0l0.2 -0.2l0.3 0.2l0.2 -0.2l5 0l0.3 -0.3l5.2 0l0.3 -0.2l8.7 -0.3l0.3 -0.2l8.5 -0.3l0.2 -0.2l5 0l0.3 -0.3l7.2 0l0.3 -0.2l7.7 0l0.3 -0.3l7 0l0.2 -0.2l5.5 0l0.3 -0.3l0.2 0.3l0.3 -0.3l5.5 0l0.2 -0.2l14.3 -0.5l0.2 -0.3l4 0l0.3 -0.2l4 0l0.2 -0.3l4.8 0l0.2 -0.2l7.3 0l0.2 -0.3l7.5 0l0.3 -0.2l19.2 -0.5l0.3 -0.3l10 -0.2l0.2 -0.3l4.3 0l0.2 -0.2l13 -0.5l0.3 -0.3l6.7 0l0.3 -0.2l7.5 0l0.2 -0.3l7 0l0.3 -0.2l6.7 0l0.3 -0.3l5.2 0l0.3 -0.2l5.5 0l0.2 -0.3l4.8 0l0.2 -0.2l8.8 -0.3l0.2 -0.2l8.5 -0.3l0.3 -0.2l6.2 0l0.3 -0.3l7.5 0l0.2 -0.2l20 -0.5l0.3 -0.3l10.7 -0.2l0.3 -0.3l8.7 -0.2l0.3 -0.3l4 0l0.2 -0.2l4 0l0.3 -0.3l5.2 0l0.3 -0.2l0.2 0.2l0.3 -0.2l7.2 0l0.3 -0.3l7.2 0l0.3 -0.2l7 0l0.2 -0.3l6 0l0.3 -0.2z"/>
<path fill="#ffe500" d="M565.6 232.9l-8.5 -11l-3.2 -3.8l-5.5 -5.5l-2.5 -2l-5 -3l-3.8 -1.2l-3.2 -0.3l-0.3 0.3l-1.7 0l-0.3 0.2l-3.7 0.5l-4.5 1.5l-0.8 0l-1.5 0.8l-2.7 0.7l-2 1l-1.3 0.3l-0.7 0.5l-1.3 0.2l-0.7 0.5l-1.3 0.3l-0.7 0.5l-6.3 1.7l-2.7 -0.2l-0.3 -0.3l-1 0l-0.2 -0.2l-3.8 -0.8l-3.5 -1.2l-0.7 0l-1 -0.5l-0.8 0l-1 -0.5l-0.7 0l-1 -0.5l-0.8 0l-2.2 -0.8l-1 0l-0.3 -0.2l-2.2 -0.3l-0.3 -0.2l-1.5 0l-0.2 -0.3l-2.3 0l-0.2 -0.2l-6 0l-0.3 0.2l-2 0l-0.2 0.3l-2.8 0.2l-0.2 0.3l-3.8 0.7l-6 2l-0.7 0.5l-1.3 0.3l-0.7 0.5l-1.3 0.2l-2 1l-2 0.5l-0.7 0.5l-3 1l-3 0.5l-0.3 0.3l-1.5 0l-0.2 -0.3l-3.8 -0.5l-2 -0.7l-1.7 -0.3l-1.8 -0.7l-0.7 0l-1 -0.5l-0.8 0l-1 -0.5l-0.7 0l-1 -0.5l-0.8 0l-4.2 -1.3l-1 0l-0.3 -0.2l-3 -0.3l-0.2 -0.2l-3 0l-0.3 -0.3l-4 0l-0.2 0.3l-4.3 0.2l-0.2 0.3l-2.3 0.2l-3 1l-0.7 0l-5.3 1.8l-0.7 0.5l-1.3 0.2l-0.7 0.5l-1.3 0.3l-4.7 2l-6 1.7l-2.3 0l-0.2 -0.2l-2.5 -0.3l-15.8 -4.5l-3.7 -0.5l-0.3 -0.2l-5.7 -0.3l-0.3 -0.2l-6.7 0.5l-0.3 0.2l-4.5 0.8l-7 2.2l-0.7 0.5l-3.3 1l-4 1.8l-6.5 2l-3.2 0l-0.3 -0.3l-2.2 -0.2l-3 -1l-0.8 0l-1 -0.5l-0.7 0l-1 -0.5l-0.8 0l-1.7 -0.8l-0.8 0l-1 -0.5l-0.7 0l-4.3 -1.2l-2.2 -0.3l-0.3 -0.2l-3.5 -0.3l-0.2 -0.2l-7.8 0l-0.2 0.2l-1.8 0l-0.2 0.3l-2.5 0.2l-0.3 0.3l-2.7 0.5l-1 0.5l-0.8 0l-6.5 2.2l-0.7 0.5l-1.3 0.3l-4 1.7l-4.5 1.5l-3 0.5l-0.2 0.3l-2.5 -0.3l-0.3 -0.2l-1 0l-0.2 -0.3l-3.8 -0.7l-5.2 -1.8l-0.8 0l-2.7 -1l-0.8 0l-2.2 -0.7l-1 0l-1.3 -0.5l-1.2 0l-1.8 -0.5l-2.5 0l-0.2 -0.3l-6 0l-0.3 0.3l-3 0.2l-5.7 1.8l-5.3 2.5l-0.5 0l-2.2 1.2l-0.5 0l-1.8 1l-0.5 0l-2.7 1.3l-0.8 0l-1.2 0.5l-6.5 0l-0.3 0.2l-1.7 0l-0.3 0.3l-2 0.2l-3.5 1.3l-4.2 2.2l-5 3.5l-4.8 4l-3.7 3.5l0 0.3l0.7 0l0.3 -0.3l8.7 -0.2l0.3 -0.3l3.7 0l0.3 -0.2l4 0l0.2 -0.3l4.5 0l0.3 -0.2l11.5 -0.3l0.2 -0.2l6.8 0l0.2 -0.3l7 0l0.3 -0.2l1.2 0l5.8 6l4.2 0l0.3 -0.3l8 0l0.2 -0.2l7.8 0l0.2 -0.3l6.8 0l0.2 -0.2l11.5 -0.3l0.3 -0.2l9 -0.3l0.2 -0.2l4 0l0.3 -0.3l8.2 -0.2l0.3 -0.3l7.2 0l0.3 -0.2l7.2 0l0.3 -0.3l7.2 0l0.3 -0.2l6.5 0l0.2 -0.3l11.3 -0.2l0.2 -0.3l13.8 -0.5l0.2 -0.2l8 -0.3l0.3 -0.2l14.5 -0.3l0.2 -0.2l7.3 0l0.2 -0.3l6.5 0l0.3 -0.2l11.5 -0.3l0.2 -0.2l4.8 0l0.2 -0.3l8.8 -0.2l0.2 -0.3l4 0l0.3 -0.2l3.7 0l0.3 -0.3l5.2 0l0.3 -0.2l0.2 0.2l0.3 -0.2l7.7 0l0.3 -0.3l7.2 0l0.3 -0.2l6.7 0l0.3 -0.3l12 -0.2l0.2 -0.3l5 0l0.3 -0.2l4 0l0.2 -0.3l0.3 0.3l0.2 -0.3l8.3 -0.2l0.2 -0.3l3.8 0l0.2 -0.2l4.8 0l0.2 -0.3l7.8 0l0.2 -0.2l7.5 0l0.3 -0.3l13.5 -0.2l0.2 -0.3l5.3 0l0.2 -0.2l5.3 0l0.2 -0.3l13.5 -0.5l0.3 -0.2l8 -0.3l0.2 -0.2l7.3 0l0.2 -0.3l8 0l0.3 -0.2l6.7 0l0.3 -0.3z"/>
<path fill="#ffd600" d="M564.6 231.6l-4.5 -6l-6.2 -7.5l-7 -6.7l-3.3 -2.3l-2.7 -1.5l-3.8 -1.2l-3.2 -0.3l-0.3 0.3l-1.7 0l-0.3 0.2l-3.7 0.5l-4.5 1.5l-0.8 0l-1.5 0.8l-2.7 0.7l-2 1l-1.3 0.3l-0.7 0.5l-1.3 0.2l-0.7 0.5l-1.3 0.3l-0.7 0.5l-6.3 1.7l-2.7 -0.2l-0.3 -0.3l-1 0l-0.2 -0.2l-3.8 -0.8l-3.5 -1.2l-0.7 0l-1 -0.5l-0.8 0l-1 -0.5l-0.7 0l-1 -0.5l-0.8 0l-2.2 -0.8l-1 0l-0.3 -0.2l-2.2 -0.3l-0.3 -0.2l-1.5 0l-0.2 -0.3l-2.3 0l-0.2 -0.2l-6 0l-0.3 0.2l-2 0l-0.2 0.3l-2.8 0.2l-0.2 0.3l-3.8 0.7l-6 2l-0.7 0.5l-1.3 0.3l-0.7 0.5l-1.3 0.2l-2 1l-2 0.5l-0.7 0.5l-3 1l-3 0.5l-0.3 0.3l-1.5 0l-0.2 -0.3l-3.8 -0.5l-2 -0.7l-1.7 -0.3l-1.8 -0.7l-0.7 0l-1 -0.5l-0.8 0l-1 -0.5l-0.7 0l-1 -0.5l-0.8 0l-4.2 -1.3l-1 0l-0.3 -0.2l-3 -0.3l-0.2 -0.2l-3 0l-0.3 -0.3l-4 0l-0.2 0.3l-4.3 0.2l-0.2 0.3l-2.3 0.2l-3 1l-0.7 0l-5.3 1.8l-0.7 0.5l-1.3 0.2l-0.7 0.5l-1.3 0.3l-4.7 2l-6 1.7l-2.3 0l-0.2 -0.2l-2.5 -0.3l-15.8 -4.5l-3.7 -0.5l-0.3 -0.2l-5.7 -0.3l-0.3 -0.2l-6.7 0.5l-0.3 0.2l-4.5 0.8l-7 2.2l-0.7 0.5l-3.3 1l-4 1.8l-6.5 2l-3.2 0l-0.3 -0.3l-2.2 -0.2l-3 -1l-0.8 0l-1 -0.5l-0.7 0l-1 -0.5l-0.8 0l-1.7 -0.8l-0.8 0l-1 -0.5l-0.7 0l-4.3 -1.2l-2.2 -0.3l-0.3 -0.2l-3.5 -0.3l-0.2 -0.2l-7.8 0l-0.2 0.2l-1.8 0l-0.2 0.3l-2.5 0.2l-0.3 0.3l-2.7 0.5l-1 0.5l-0.8 0l-6.5 2.2l-0.7 0.5l-1.3 0.3l-4 1.7l-4.5 1.5l-3 0.5l-0.2 0.3l-2.5 -0.3l-0.3 -0.2l-1 0l-0.2 -0.3l-3.8 -0.7l-5.2 -1.8l-0.8 0l-2.7 -1l-0.8 0l-2.2 -0.7l-1 0l-1.3 -0.5l-1.2 0l-1.8 -0.5l-2.5 0l-0.2 -0.3l-6 0l-0.3 0.3l-3 0.2l-5.7 1.8l-5.3 2.5l-0.5 0l-2.2 1.2l-0.5 0l-1.8 1l-0.5 0l-2.7 1.3l-0.8 0l-1.2 0.5l-6.5 0l-0.3 0.2l-1.7 0l-0.3 0.3l-2 0.2l-3.5 1.3l-3 1.5l-4.2 2.7l-4.8 3.8l-4.7 4.5l10 -0.5l0.2 -0.3l3.5 0l0.3 -0.2l4 0l0.2 -0.3l4.5 0l0.3 -0.2l11.5 -0.3l0.2 -0.2l6.5 0l0.3 -0.3l7 0l5.5 5.8l1.5 0l0.2 -0.3l6.5 0l0.3 -0.2l8.5 0l0.2 -0.3l7.8 0l0.2 -0.2l11.8 -0.3l0.2 -0.2l9.3 -0.3l0.2 -0.2l8.3 -0.3l0.2 -0.2l3.8 0l0.2 -0.3l5.3 0l0.2 -0.2l8.3 0l0.2 -0.3l7 0l0.3 -0.2l0.2 0.2l0.3 -0.2l6.7 0l0.3 -0.3l11.7 -0.2l0.3 -0.3l9.7 -0.2l0.3 -0.3l4 0l0.2 -0.2l3.8 0l0.2 -0.3l3.8 0l0.2 -0.2l4.8 0l0.2 -0.3l7.8 0l0.2 -0.2l7.5 0l0.3 -0.3l7.2 0l0.3 -0.2l12.5 -0.3l0.2 -0.2l9.5 -0.3l0.3 -0.2l4 0l0.2 -0.3l4 0l0.3 -0.2l8.2 -0.3l0.3 -0.2l7 0l0.2 -0.3l8.3 0l0.2 -0.2l20 -0.5l0.3 -0.3l9.7 -0.2l0.3 -0.3l4.2 0l0.3 -0.2l4 0l0.2 -0.3l8 -0.2l0.3 -0.3l6.5 0l0.2 -0.2l7.8 0l0.2 -0.3l7.8 0l0.2 -0.2l12.8 -0.3l0.2 -0.2l10.3 -0.3l0.2 -0.2l8.5 -0.3l0.3 -0.2l7.7 -0.3l0.3 -0.2l14.2 -0.3l0.3 -0.2l7 0l0.2 -0.3l0.3 0.3l0.2 -0.3l6.5 0l0.3 -0.2l6.2 0l0.3 -0.3z"/>
<path fill="#ffc700" d="M563.9 230.6l-3.8 -5l-6.2 -7.5l-7 -6.7l-3.3 -2.3l-2.7 -1.5l-3.8 -1.2l-3.2 -0.3l-0.3 0.3l-1.7 0l-0.3 0.2l-3.7 0.5l-4.5 1.5l-0.8 0l-1.5 0.8l-2.7 0.7l-2 1l-1.3 0.3l-0.7 0.5l-1.3 0.2l-0.7 0.5l-1.3 0.3l-0.7 0.5l-6.3 1.7l-2.7 -0.2l-0.3 -0.3l-1 0l-0.2 -0.2l-3.8 -0.8l-3.5 -1.2l-0.7 0l-1 -0.5l-0.8 0l-1 -0.5l-0.7 0l-1 -0.5l-0.8 0l-2.2 -0.8l-1 0l-0.3 -0.2l-2.2 -0.3l-0.3 -0.2l-1.5 0l-0.2 -0.3l-2.3 0l-0.2 -0.2l-6 0l-0.3 0.2l-2 0l-0.2 0.3l-2.8 0.2l-0.2 0.3l-3.8 0.7l-6 2l-0.7 0.5l-1.3 0.3l-0.7 0.5l-1.3 0.2l-2 1l-2 0.5l-0.7 0.5l-3 1l-3 0.5l-0.3 0.3l-1.5 0l-0.2 -0.3l-3.8 -0.5l-2 -0.7l-1.7 -0.3l-1.8 -0.7l-0.7 0l-1 -0.5l-0.8 0l-1 -0.5l-0.7 0l-1 -0.5l-0.8 0l-4.2 -1.3l-1 0l-0.3 -0.2l-3 -0.3l-0.2 -0.2l-3 0l-0.3 -0.3l-4 0l-0.2 0.3l-4.3 0.2l-0.2 0.3l-2.3 0.2l-3 1l-0.7 0l-5.3 1.8l-0.7 0.5l-1.3 0.2l-0.7 0.5l-1.3 0.3l-4.7 2l-6 1.7l-2.3 0l-0.2 -0.2l-2.5 -0.3l-15.8 -4.5l-3.7 -0.5l-0.3 -0.2l-5.7 -0.3l-0.3 -0.2l-6.7 0.5l-0.3 0.2l-4.5 0.8l-7 2.2l-0.7 0.5l-3.3 1l-4 1.8l-6.5 2l-3.2 0l-0.3 -0.3l-2.2 -0.2l-3 -1l-0.8 0l-1 -0.5l-0.7 0l-1 -0.5l-0.8 0l-1.7 -0.8l-0.8 0l-1 -0.5l-0.7 0l-4.3 -1.2l-2.2 -0.3l-0.3 -0.2l-3.5 -0.3l-0.2 -0.2l-7.8 0l-0.2 0.2l-1.8 0l-0.2 0.3l-2.5 0.2l-0.3 0.3l-2.7 0.5l-1 0.5l-0.8 0l-6.5 2.2l-0.7 0.5l-1.3 0.3l-4 1.7l-4.5 1.5l-3 0.5l-0.2 0.3l-2.5 -0.3l-0.3 -0.2l-1 0l-0.2 -0.3l-3.8 -0.7l-5.2 -1.8l-0.8 0l-2.7 -1l-0.8 0l-2.2 -0.7l-1 0l-1.3 -0.5l-1.2 0l-1.8 -0.5l-2.5 0l-0.2 -0.3l-6 0l-0.3 0.3l-3 0.2l-5.7 1.8l-5.3 2.5l-0.5 0l-2.2 1.2l-0.5 0l-1.8 1l-0.5 0l-2.7 1.3l-0.8 0l-1.2 0.5l-6.5 0l-0.3 0.2l-1.7 0l-0.3 0.3l-2 0.2l-3.5 1.3l-3 1.5l-4.2 2.7l-6.8 5.5l-1.5 1.8l10 -0.5l0.3 -0.3l3.5 0l0.2 -0.2l3.8 0l0.2 -0.3l4.5 0l0.3 -0.2l23.5 -0.8l5.5 5.8l0.2 -0.3l3.8 0l0.2 -0.2l8.8 0l0.2 -0.3l8.5 0l0.3 -0.2l6.7 0l0.3 -0.3l11 -0.2l0.2 -0.3l4.5 0l0.3 -0.2l8 -0.3l0.2 -0.2l8 -0.3l0.3 -0.2l7.5 0l0.2 -0.3l7.8 0l0.2 -0.2l7.8 0l0.2 -0.3l6.3 0l0.2 -0.2l11.3 -0.3l0.2 -0.2l9 -0.3l0.3 -0.2l3.7 0l0.3 -0.3l3.7 0l0.3 -0.2l3.7 0l0.3 -0.3l36 -1l0.2 -0.2l10 -0.3l0.3 -0.2l4.2 0l0.3 -0.3l4 0l0.2 -0.2l3.8 0l0.2 -0.3l3.8 0l0.2 -0.2l5.5 0l0.3 -0.3l8 0l0.2 -0.2l7.8 0l0.2 -0.3l13.5 -0.2l0.3 -0.3l10.2 -0.2l0.3 -0.3l8.7 -0.2l0.3 -0.3l7.5 -0.2l0.2 -0.3l5 0l0.3 -0.2l7.7 0l0.3 -0.3l7.7 0l0.3 -0.2l7.7 0l0.3 -0.3l11.7 -0.2l0.3 -0.3l9.5 -0.2l0.2 -0.3l8.3 -0.2l0.2 -0.3l8 -0.2l0.3 -0.3l7.5 0l0.2 -0.2l8 0l0.3 -0.3l7.5 0l0.2 -0.2z"/>
<path fill="#ffb800" d="M562.9 229.4l-2.8 -3.8l-6.2 -7.5l-7 -6.7l-3.3 -2.3l-2.7 -1.5l-3.8 -1.2l-3.2 -0.3l-0.3 0.3l-1.7 0l-0.3 0.2l-3.7 0.5l-4.5 1.5l-0.8 0l-1.5 0.8l-2.7 0.7l-2 1l-1.3 0.3l-0.7 0.5l-1.3 0.2l-0.7 0.5l-1.3 0.3l-0.7 0.5l-6.3 1.7l-2.7 -0.2l-0.3 -0.3l-1 0l-0.2 -0.2l-3.8 -0.8l-3.5 -1.2l-0.7 0l-1 -0.5l-0.8 0l-1 -0.5l-0.7 0l-1 -0.5l-0.8 0l-2.2 -0.8l-1 0l-0.3 -0.2l-2.2 -0.3l-0.3 -0.2l-1.5 0l-0.2 -0.3l-2.3 0l-0.2 -0.2l-6 0l-0.3 0.2l-2 0l-0.2 0.3l-2.8 0.2l-0.2 0.3l-3.8 0.7l-6 2l-0.7 0.5l-1.3 0.3l-0.7 0.5l-1.3 0.2l-2 1l-2 0.5l-0.7 0.5l-3 1l-3 0.5l-0.3 0.3l-1.5 0l-0.2 -0.3l-3.8 -0.5l-2 -0.7l-1.7 -0.3l-1.8 -0.7l-0.7 0l-1 -0.5l-0.8 0l-1 -0.5l-0.7 0l-1 -0.5l-0.8 0l-4.2 -1.3l-1 0l-0.3 -0.2l-3 -0.3l-0.2 -0.2l-3 0l-0.3 -0.3l-4 0l-0.2 0.3l-4.3 0.2l-0.2 0.3l-2.3 0.2l-3 1l-0.7 0l-5.3 1.8l-0.7 0.5l-1.3 0.2l-0.7 0.5l-1.3 0.3l-4.7 2l-6 1.7l-2.3 0l-0.2 -0.2l-2.5 -0.3l-15.8 -4.5l-3.7 -0.5l-0.3 -0.2l-5.7 -0.3l-0.3 -0.2l-6.7 0.5l-0.3 0.2l-4.5 0.8l-7 2.2l-0.7 0.5l-3.3 1l-4 1.8l-6.5 2l-3.2 0l-0.3 -0.3l-2.2 -0.2l-3 -1l-0.8 0l-1 -0.5l-0.7 0l-1 -0.5l-0.8 0l-1.7 -0.8l-0.8 0l-1 -0.5l-0.7 0l-4.3 -1.2l-2.2 -0.3l-0.3 -0.2l-3.5 -0.3l-0.2 -0.2l-7.8 0l-0.2 0.2l-1.8 0l-0.2 0.3l-2.5 0.2l-0.3 0.3l-2.7 0.5l-1 0.5l-0.8 0l-6.5 2.2l-0.7 0.5l-1.3 0.3l-4 1.7l-4.5 1.5l-3 0.5l-0.2 0.3l-2.5 -0.3l-0.3 -0.2l-1 0l-0.2 -0.3l-3.8 -0.7l-5.2 -1.8l-0.8 0l-2.7 -1l-0.8 0l-2.2 -0.7l-1 0l-1.3 -0.5l-1.2 0l-1.8 -0.5l-2.5 0l-0.2 -0.3l-6 0l-0.3 0.3l-3 0.2l-5.7 1.8l-5.3 2.5l-0.5 0l-2.2 1.2l-0.5 0l-1.8 1l-0.5 0l-2.7 1.3l-0.8 0l-1.2 0.5l-6.5 0l-0.3 0.2l-1.7 0l-4.5 1.3l-4.3 2l-4.2 2.7l-6.8 5.5l-0.5 0.8l10 -0.5l0.3 -0.3l3.5 0l0.2 -0.2l4 0l0.3 -0.3l4 0l0.2 -0.2l5.5 0l0.3 -0.3l6 0l0.2 -0.2l6.8 0l0.2 -0.3l0.3 0.3l0.2 -0.3l2 0l5.8 5.5l1 0l0.2 -0.2l7 0l0.3 -0.3l9.5 0l0.2 -0.2l7.5 0l0.3 -0.3l0.2 0.3l0.3 -0.3l6 0l0.2 -0.2l10 -0.3l0.3 -0.2l4.2 0l0.3 -0.3l7.7 -0.2l0.3 -0.3l3.5 0l0.2 -0.2l5.3 0l0.2 -0.3l8.5 0l0.3 -0.2l7.7 0l0.3 -0.3l7.2 0l0.3 -0.2l11.7 -0.3l0.3 -0.2l9.5 -0.3l0.2 -0.2l3.8 0l0.2 -0.3l7.5 -0.2l0.3 -0.3l4.2 0l0.3 -0.2l0.2 0.2l0.3 -0.2l24 -0.5l0.2 -0.3l6 0l0.3 -0.2l0.2 0.2l0.3 -0.2l10.2 -0.3l0.3 -0.2l8.7 -0.3l0.3 -0.2l11.7 -0.5l0.3 -0.3l7.2 0l0.3 -0.2l0.2 0.2l0.3 -0.2l22.5 -0.5l0.2 -0.3l5.8 0l0.2 -0.2l5 0l0.3 -0.3l8.7 -0.2l0.3 -0.3l3.7 0l0.3 -0.2l3.7 0l0.3 -0.3l3.7 0l0.3 -0.2l6.7 0l0.3 -0.3l8 0l0.2 -0.2l0.5 0.2l0.3 -0.2l7.5 0l0.2 -0.3l13 -0.2l0.3 -0.3l9.7 -0.2l0.3 -0.3l4 0l0.2 -0.2l3.8 0l0.2 -0.3l7.5 -0.2l0.3 -0.3l14.5 -0.2l0.2 -0.3l8 0l0.3 -0.2l7.2 0l0.3 -0.3l5.7 0z"/>
<path fill="#ffaa00" d="M562.1 228.4l-5 -6.5l-3.2 -3.8l-7 -6.7l-3.3 -2.3l-2.7 -1.5l-3.8 -1.2l-3.2 -0.3l-0.3 0.3l-1.7 0l-0.3 0.2l-3.7 0.5l-4.5 1.5l-0.8 0l-1.5 0.8l-2.7 0.7l-2 1l-1.3 0.3l-0.7 0.5l-1.3 0.2l-0.7 0.5l-1.3 0.3l-0.7 0.5l-6.3 1.7l-2.7 -0.2l-0.3 -0.3l-1 0l-0.2 -0.2l-3.8 -0.8l-3.5 -1.2l-0.7 0l-1 -0.5l-0.8 0l-1 -0.5l-0.7 0l-1 -0.5l-0.8 0l-2.2 -0.8l-1 0l-0.3 -0.2l-2.2 -0.3l-0.3 -0.2l-1.5 0l-0.2 -0.3l-2.3 0l-0.2 -0.2l-6 0l-0.3 0.2l-2 0l-0.2 0.3l-2.8 0.2l-0.2 0.3l-3.8 0.7l-6 2l-0.7 0.5l-1.3 0.3l-0.7 0.5l-1.3 0.2l-2 1l-2 0.5l-0.7 0.5l-3 1l-3 0.5l-0.3 0.3l-1.5 0l-0.2 -0.3l-3.8 -0.5l-2 -0.7l-1.7 -0.3l-1.8 -0.7l-0.7 0l-1 -0.5l-0.8 0l-1 -0.5l-0.7 0l-1 -0.5l-0.8 0l-4.2 -1.3l-1 0l-0.3 -0.2l-3 -0.3l-0.2 -0.2l-3 0l-0.3 -0.3l-4 0l-0.2 0.3l-4.3 0.2l-0.2 0.3l-2.3 0.2l-3 1l-0.7 0l-5.3 1.8l-0.7 0.5l-1.3 0.2l-0.7 0.5l-1.3 0.3l-4.7 2l-6 1.7l-2.3 0l-0.2 -0.2l-2.5 -0.3l-15.8 -4.5l-3.7 -0.5l-0.3 -0.2l-5.7 -0.3l-0.3 -0.2l-6.7 0.5l-0.3 0.2l-4.5 0.8l-7 2.2l-0.7 0.5l-3.3 1l-4 1.8l-6.5 2l-3.2 0l-0.3 -0.3l-2.2 -0.2l-3 -1l-0.8 0l-1 -0.5l-0.7 0l-1 -0.5l-0.8 0l-1.7 -0.8l-0.8 0l-1 -0.5l-0.7 0l-4.3 -1.2l-2.2 -0.3l-0.3 -0.2l-3.5 -0.3l-0.2 -0.2l-7.8 0l-0.2 0.2l-1.8 0l-0.2 0.3l-2.5 0.2l-0.3 0.3l-2.7 0.5l-1 0.5l-0.8 0l-6.5 2.2l-0.7 0.5l-1.3 0.3l-4 1.7l-4.5 1.5l-3 0.5l-0.2 0.3l-2.5 -0.3l-0.3 -0.2l-1 0l-0.2 -0.3l-3.8 -0.7l-5.2 -1.8l-0.8 0l-2.7 -1l-0.8 0l-2.2 -0.7l-1 0l-1.3 -0.5l-1.2 0l-1.8 -0.5l-2.5 0l-0.2 -0.3l-6 0l-0.3 0.3l-3 0.2l-5.7 1.8l-5.3 2.5l-0.5 0l-2.2 1.2l-0.5 0l-1.8 1l-0.5 0l-2.7 1.3l-0.8 0l-1.2 0.5l-6.5 0l-0.3 0.2l-1.7 0l-4.5 1.3l-4.3 2l-4.2 2.7l-4.8 3.8l-1.5 1.5l7 -0.3l0.3 -0.2l10.5 -0.5l0.2 -0.3l4.3 0l0.2 -0.2l12 -0.3l0.3 -0.2l6.7 0l0.3 -0.3l2.2 1.8l3.5 3.5l13.8 -0.3l0.2 -0.2l9 0l0.3 -0.3l7 0l0.2 -0.2l5.5 0l0.3 -0.3l9.5 -0.2l0.2 -0.3l7.5 -0.2l0.3 -0.3l3.5 0l0.2 -0.2l4 0l0.3 -0.3l7 0l0.2 -0.2l0.3 0.2l0.2 -0.2l8.8 0l0.2 -0.3l7.5 0l0.3 -0.2l0.2 0.2l0.3 -0.2l12 -0.3l0.2 -0.2l9.8 -0.3l0.2 -0.2l7.8 -0.3l0.2 -0.2l3.5 0l0.3 -0.3l3.5 0l0.2 -0.2l6.8 0l0.2 -0.3l8.8 0l0.2 -0.2l8 0l0.3 -0.3l13.2 -0.2l0.3 -0.3l9.7 -0.2l0.3 -0.3l7.7 -0.2l0.3 -0.3l3.5 0l0.2 -0.2l3.5 0l0.3 -0.3l36.5 -1l0.2 -0.2l10.3 -0.3l0.2 -0.2l4.3 0l0.2 -0.3l7.8 -0.2l0.2 -0.3l3.3 0l0.2 -0.2l5 0l0.3 -0.3l8.2 0l0.3 -0.2l8.5 0l0.2 -0.3l13.8 -0.2l0.2 -0.3l5.5 0l0.3 -0.2l9.2 -0.3l0.3 -0.2l3.7 0l0.3 -0.3l11.7 -0.5l0.3 -0.2l7.7 0l0.3 -0.3l8.2 0l0.3 -0.2l7.7 0l0.3 -0.3l0.2 0.3l0.3 -0.3z"/>
<path fill="#ff9b00" d="M561.4 227.4l-7.5 -9.3l-7 -6.7l-3.3 -2.3l-2.7 -1.5l-3.8 -1.2l-3.2 -0.3l-0.3 0.3l-1.7 0l-0.3 0.2l-3.7 0.5l-4.5 1.5l-0.8 0l-1.5 0.8l-2.7 0.7l-2 1l-1.3 0.3l-0.7 0.5l-1.3 0.2l-0.7 0.5l-1.3 0.3l-0.7 0.5l-6.3 1.7l-2.7 -0.2l-0.3 -0.3l-1 0l-0.2 -0.2l-3.8 -0.8l-3.5 -1.2l-0.7 0l-1 -0.5l-0.8 0l-1 -0.5l-0.7 0l-1 -0.5l-0.8 0l-2.2 -0.8l-1 0l-0.3 -0.2l-2.2 -0.3l-0.3 -0.2l-1.5 0l-0.2 -0.3l-2.3 0l-0.2 -0.2l-6 0l-0.3 0.2l-2 0l-0.2 0.3l-2.8 0.2l-0.2 0.3l-3.8 0.7l-6 2l-0.7 0.5l-1.3 0.3l-0.7 0.5l-1.3 0.2l-2 1l-2 0.5l-0.7 0.5l-3 1l-3 0.5l-0.3 0.3l-1.5 0l-0.2 -0.3l-3.8 -0.5l-2 -0.7l-1.7 -0.3l-1.8 -0.7l-0.7 0l-1 -0.5l-0.8 0l-1 -0.5l-0.7 0l-1 -0.5l-0.8 0l-4.2 -1.3l-1 0l-0.3 -0.2l-3 -0.3l-0.2 -0.2l-3 0l-0.3 -0.3l-4 0l-0.2 0.3l-4.3 0.2l-0.2 0.3l-2.3 0.2l-3 1l-0.7 0l-5.3 1.8l-0.7 0.5l-1.3 0.2l-0.7 0.5l-1.3 0.3l-4.7 2l-6 1.7l-2.3 0l-0.2 -0.2l-2.5 -0.3l-15.8 -4.5l-3.7 -0.5l-0.3 -0.2l-5.7 -0.3l-0.3 -0.2l-6.7 0.5l-0.3 0.2l-4.5 0.8l-7 2.2l-0.7 0.5l-3.3 1l-4 1.8l-6.5 2l-3.2 0l-0.3 -0.3l-2.2 -0.2l-3 -1l-0.8 0l-1 -0.5l-0.7 0l-1 -0.5l-0.8 0l-1.7 -0.8l-0.8 0l-1 -0.5l-0.7 0l-4.3 -1.2l-2.2 -0.3l-0.3 -0.2l-3.5 -0.3l-0.2 -0.2l-7.8 0l-0.2 0.2l-1.8 0l-0.2 0.3l-2.5 0.2l-0.3 0.3l-2.7 0.5l-1 0.5l-0.8 0l-6.5 2.2l-0.7 0.5l-1.3 0.3l-4 1.7l-4.5 1.5l-3 0.5l-0.2 0.3l-2.5 -0.3l-0.3 -0.2l-1 0l-0.2 -0.3l-3.8 -0.7l-5.2 -1.8l-0.8 0l-2.7 -1l-0.8 0l-2.2 -0.7l-1 0l-1.3 -0.5l-1.2 0l-1.8 -0.5l-2.5 0l-0.2 -0.3l-6 0l-0.3 0.3l-3 0.2l-5.7 1.8l-5.3 2.5l-0.5 0l-2.2 1.2l-0.5 0l-1.8 1l-0.5 0l-2.7 1.3l-0.8 0l-1.2 0.5l-6.5 0l-0.3 0.2l-1.7 0l-4.5 1.3l-5.5 2.7l-5 3.5l-2.8 2.3l-0.2 0.5l7 -0.3l0.2 -0.2l10.3 -0.5l0.2 -0.3l4.3 0l0.2 -0.2l17.5 -0.5l5.5 5l1 0l0.3 -0.3l7.7 0l0.3 -0.2l9.7 0l0.3 -0.3l8 0l0.2 -0.2l6 0l0.3 -0.3l10 -0.2l0.2 -0.3l7.8 -0.2l0.2 -0.3l7.3 -0.2l0.2 -0.3l5 0l0.3 -0.2l9 0l0.2 -0.3l0.3 0.3l0.2 -0.3l8 0l0.3 -0.2l7.2 0l0.3 -0.3l11.7 -0.2l0.3 -0.3l9 -0.2l0.2 -0.3l7.3 -0.2l0.2 -0.3l3.3 0l0.2 -0.2l4.5 0l0.3 -0.3l8.5 0l0.2 -0.2l8.8 0l0.2 -0.3l7.8 0l0.2 -0.2l12 -0.3l0.3 -0.2l9 -0.3l0.2 -0.2l3.8 0l0.2 -0.3l3.5 0l0.3 -0.2l3.2 0l0.3 -0.3l4 0l0.2 -0.2l7.8 0l0.2 -0.3l8.8 0l0.2 -0.2l0.3 0.2l0.2 -0.2l7.8 0l0.2 -0.3l12.5 -0.2l0.3 -0.3l4.7 0l0.3 -0.2l8.2 -0.3l0.3 -0.2l3.5 0l0.2 -0.3l7.3 -0.2l0.2 -0.3l6.5 0l0.3 -0.2l0.2 0.2l0.3 -0.2l9 0l0.2 -0.3l8 0l0.3 -0.2l13 -0.3l0.2 -0.2l5 0l0.3 -0.3l4.2 0l0.3 -0.2l11.5 -0.5l0.2 -0.3l3.3 0l0.2 -0.2z"/>
<path fill="#ff8c00" d="M560.4 226.1l-6.5 -8l-7 -6.7l-3.3 -2.3l-2.7 -1.5l-3.8 -1.2l-3.2 -0.3l-0.3 0.3l-1.7 0l-0.3 0.2l-3.7 0.5l-4.5 1.5l-0.8 0l-1.5 0.8l-2.7 0.7l-2 1l-1.3 0.3l-0.7 0.5l-1.3 0.2l-0.7 0.5l-1.3 0.3l-0.7 0.5l-6.3 1.7l-2.7 -0.2l-0.3 -0.3l-1 0l-0.2 -0.2l-3.8 -0.8l-3.5 -1.2l-0.7 0l-1 -0.5l-0.8 0l-1 -0.5l-0.7 0l-1 -0.5l-0.8 0l-2.2 -0.8l-1 0l-0.3 -0.2l-2.2 -0.3l-0.3 -0.2l-1.5 0l-0.2 -0.3l-2.3 0l-0.2 -0.2l-6 0l-0.3 0.2l-2 0l-0.2 0.3l-2.8 0.2l-0.2 0.3l-3.8 0.7l-6 2l-0.7 0.5l-1.3 0.3l-0.7 0.5l-1.3 0.2l-2 1l-2 0.5l-0.7 0.5l-3 1l-3 0.5l-0.3 0.3l-1.5 0l-0.2 -0.3l-3.8 -0.5l-2 -0.7l-1.7 -0.3l-1.8 -0.7l-0.7 0l-1 -0.5l-0.8 0l-1 -0.5l-0.7 0l-1 -0.5l-0.8 0l-4.2 -1.3l-1 0l-0.3 -0.2l-3 -0.3l-0.2 -0.2l-3 0l-0.3 -0.3l-4 0l-0.2 0.3l-4.3 0.2l-0.2 0.3l-2.3 0.2l-3 1l-0.7 0l-5.3 1.8l-0.7 0.5l-1.3 0.2l-0.7 0.5l-1.3 0.3l-4.7 2l-6 1.7l-2.3 0l-0.2 -0.2l-2.5 -0.3l-15.8 -4.5l-3.7 -0.5l-0.3 -0.2l-5.7 -0.3l-0.3 -0.2l-6.7 0.5l-0.3 0.2l-4.5 0.8l-7 2.2l-0.7 0.5l-3.3 1l-4 1.8l-6.5 2l-3.2 0l-0.3 -0.3l-2.2 -0.2l-3 -1l-0.8 0l-1 -0.5l-0.7 0l-1 -0.5l-0.8 0l-1.7 -0.8l-0.8 0l-1 -0.5l-0.7 0l-4.3 -1.2l-2.2 -0.3l-0.3 -0.2l-3.5 -0.3l-0.2 -0.2l-7.8 0l-0.2 0.2l-1.8 0l-0.2 0.3l-2.5 0.2l-0.3 0.3l-2.7 0.5l-1 0.5l-0.8 0l-6.5 2.2l-0.7 0.5l-1.3 0.3l-4 1.7l-4.5 1.5l-3 0.5l-0.2 0.3l-2.5 -0.3l-0.3 -0.2l-1 0l-0.2 -0.3l-3.8 -0.7l-5.2 -1.8l-0.8 0l-2.7 -1l-0.8 0l-2.2 -0.7l-1 0l-1.3 -0.5l-1.2 0l-1.8 -0.5l-2.5 0l-0.2 -0.3l-6 0l-0.3 0.3l-3 0.2l-5.7 1.8l-5.3 2.5l-0.5 0l-2.2 1.2l-0.5 0l-1.8 1l-0.5 0l-2.7 1.3l-0.8 0l-1.2 0.5l-6.5 0l-0.3 0.2l-1.7 0l-4.5 1.3l-5.5 2.7l-3 2l-4 3.3l4 0l0.2 -0.3l3 0l0.3 -0.2l3 0l0.2 -0.3l3 0l0.3 -0.2l3.7 0l0.3 -0.3l4.2 0l0.3 -0.2l15.2 -0.5l5.3 4.7l3.7 0l0.3 -0.2l10.2 0l0.3 -0.3l0.2 0.3l0.3 -0.3l9 0l0.2 -0.2l7 0l0.3 -0.3l10.7 -0.2l0.3 -0.3l7.7 -0.2l0.3 -0.3l3.5 0l0.2 -0.2l6.8 -0.3l0.2 -0.2l8 0l0.3 -0.3l9.5 0l0.2 -0.2l15 -0.3l0.3 -0.2l5.5 0l0.2 -0.3l4.8 0l0.2 -0.2l8.3 -0.3l0.2 -0.2l3.5 0l0.3 -0.3l7 -0.2l0.2 -0.3l32.3 -0.7l0.2 -0.3l5.8 0l0.2 -0.2l9.5 -0.3l0.3 -0.2l7.5 -0.3l0.2 -0.2l3.3 0l0.2 -0.3l3.3 0l0.2 -0.2l5.3 0l0.2 -0.3l0.3 0.3l0.2 -0.3l9.3 0l0.2 -0.2l9 0l0.3 -0.3l13.2 -0.2l0.3 -0.3l9.7 -0.2l0.3 -0.3l7.7 -0.2l0.3 -0.3l3.5 0l0.2 -0.2l3.3 0l0.2 -0.3l4.3 0l0.2 -0.2l9.3 0l0.2 -0.3l16.8 -0.2l0.2 -0.3l6.3 0l0.2 -0.2l5.5 0l0.3 -0.3l8.5 -0.2l0.2 -0.3l3.8 0l0.2 -0.2l3.5 0l0.3 -0.3l7 -0.2l0.2 -0.3l18 -0.2l0.3 -0.3l8 0l0.2 -0.2l6.3 0l0.2 -0.3z"/>
<path fill="#ff7d00" d="M559.6 225.1l-5.7 -7l-5.5 -5.5l-2.5 -2l-3.5 -2.2l-2.8 -1.3l-2.5 -0.7l-3.2 -0.3l-0.3 0.3l-1.7 0l-0.3 0.2l-3.7 0.5l-4.5 1.5l-0.8 0l-1.5 0.8l-2.7 0.7l-2 1l-1.3 0.3l-0.7 0.5l-1.3 0.2l-0.7 0.5l-1.3 0.3l-0.7 0.5l-6.3 1.7l-2.7 -0.2l-0.3 -0.3l-1 0l-0.2 -0.2l-3.8 -0.8l-3.5 -1.2l-0.7 0l-1 -0.5l-0.8 0l-1 -0.5l-0.7 0l-1 -0.5l-0.8 0l-2.2 -0.8l-1 0l-0.3 -0.2l-2.2 -0.3l-0.3 -0.2l-1.5 0l-0.2 -0.3l-2.3 0l-0.2 -0.2l-6 0l-0.3 0.2l-2 0l-0.2 0.3l-2.8 0.2l-0.2 0.3l-3.8 0.7l-6 2l-0.7 0.5l-1.3 0.3l-0.7 0.5l-1.3 0.2l-2 1l-2 0.5l-0.7 0.5l-3 1l-3 0.5l-0.3 0.3l-1.5 0l-0.2 -0.3l-3.8 -0.5l-2 -0.7l-1.7 -0.3l-1.8 -0.7l-0.7 0l-1 -0.5l-0.8 0l-1 -0.5l-0.7 0l-1 -0.5l-0.8 0l-4.2 -1.3l-1 0l-0.3 -0.2l-3 -0.3l-0.2 -0.2l-3 0l-0.3 -0.3l-4 0l-0.2 0.3l-4.3 0.2l-0.2 0.3l-2.3 0.2l-3 1l-0.7 0l-5.3 1.8l-0.7 0.5l-1.3 0.2l-0.7 0.5l-1.3 0.3l-4.7 2l-6 1.7l-2.3 0l-0.2 -0.2l-2.5 -0.3l-15.8 -4.5l-3.7 -0.5l-0.3 -0.2l-5.7 -0.3l-0.3 -0.2l-6.7 0.5l-0.3 0.2l-4.5 0.8l-7 2.2l-0.7 0.5l-3.3 1l-4 1.8l-6.5 2l-3.2 0l-0.3 -0.3l-2.2 -0.2l-3 -1l-0.8 0l-1 -0.5l-0.7 0l-1 -0.5l-0.8 0l-1.7 -0.8l-0.8 0l-1 -0.5l-0.7 0l-4.3 -1.2l-2.2 -0.3l-0.3 -0.2l-3.5 -0.3l-0.2 -0.2l-7.8 0l-0.2 0.2l-1.8 0l-0.2 0.3l-2.5 0.2l-0.3 0.3l-2.7 0.5l-1 0.5l-0.8 0l-6.5 2.2l-0.7 0.5l-1.3 0.3l-4 1.7l-4.5 1.5l-3 0.5l-0.2 0.3l-2.5 -0.3l-0.3 -0.2l-1 0l-0.2 -0.3l-3.8 -0.7l-5.2 -1.8l-0.8 0l-2.7 -1l-0.8 0l-2.2 -0.7l-1 0l-1.3 -0.5l-1.2 0l-1.8 -0.5l-2.5 0l-0.2 -0.3l-6 0l-0.3 0.3l-3 0.2l-5.7 1.8l-5.3 2.5l-0.5 0l-2.2 1.2l-0.5 0l-1.8 1l-0.5 0l-2.7 1.3l-0.8 0l-1.2 0.5l-6.5 0l-0.3 0.2l-1.7 0l-4.5 1.3l-5.5 2.7l-5.8 4.3l4.3 0l0.2 -0.3l3 0l0.3 -0.2l6 -0.3l0.2 -0.2l3.5 0l0.3 -0.3l9.7 -0.2l0.3 -0.3l6.7 0l0.8 -0.2l5.5 4.7l0.7 0l0.3 -0.2l7.2 0l0.3 -0.3l0.2 0.3l0.3 -0.3l19.5 -0.2l0.2 -0.3l6 0l0.3 -0.2l9.5 -0.3l0.2 -0.2l3.8 0l0.2 -0.3l3.3 0l0.2 -0.2l3.3 0l0.2 -0.3l3.3 0l0.2 -0.2l5 0l0.3 -0.3l19.5 -0.2l0.2 -0.3l7.3 0l0.2 -0.2l11.3 -0.3l0.2 -0.2l8.5 -0.3l0.3 -0.2l3.5 0l0.2 -0.3l3.3 0l0.2 -0.2l3 0l0.3 -0.3l3.7 0l0.3 -0.2l10 0l0.2 -0.3l9.3 0l0.2 -0.2l14 -0.3l0.3 -0.2l5.5 0l0.2 -0.3l4.5 0l0.3 -0.2l7.7 -0.3l0.3 -0.2l3.2 0l0.3 -0.3l3.2 0l0.3 -0.2l3.2 0l0.3 -0.3l8.5 0l0.2 -0.2l9.5 0l0.3 -0.3l0.2 0.3l0.3 -0.3l14.7 -0.2l0.3 -0.3l5.5 0l0.2 -0.2l4.5 0l0.3 -0.3l8 -0.2l0.2 -0.3l3.3 0l0.2 -0.2l3.3 0l0.2 -0.3l3.3 0l0.2 -0.2l33 -0.8l0.3 -0.2l5.7 0l0.3 -0.3l5 0l0.2 -0.2l8 -0.3l0.3 -0.2l3.5 0l0.2 -0.3l6.5 -0.2l0.3 -0.3z"/>
<path fill="#ff6f00" d="M558.6 223.9l-4.7 -5.8l-5.5 -5.5l-2.5 -2l-3.5 -2.2l-2.8 -1.3l-2.5 -0.7l-3.2 -0.3l-0.3 0.3l-1.7 0l-0.3 0.2l-3.7 0.5l-4.5 1.5l-0.8 0l-1.5 0.8l-2.7 0.7l-2 1l-1.3 0.3l-0.7 0.5l-1.3 0.2l-0.7 0.5l-1.3 0.3l-0.7 0.5l-6.3 1.7l-2.7 -0.2l-0.3 -0.3l-1 0l-0.2 -0.2l-3.8 -0.8l-3.5 -1.2l-0.7 0l-1 -0.5l-0.8 0l-1 -0.5l-0.7 0l-1 -0.5l-0.8 0l-2.2 -0.8l-1 0l-0.3 -0.2l-2.2 -0.3l-0.3 -0.2l-1.5 0l-0.2 -0.3l-2.3 0l-0.2 -0.2l-6 0l-0.3 0.2l-2 0l-0.2 0.3l-2.8 0.2l-0.2 0.3l-3.8 0.7l-6 2l-0.7 0.5l-1.3 0.3l-0.7 0.5l-1.3 0.2l-2 1l-2 0.5l-0.7 0.5l-3 1l-3 0.5l-0.3 0.3l-1.5 0l-0.2 -0.3l-3.8 -0.5l-2 -0.7l-1.7 -0.3l-1.8 -0.7l-0.7 0l-1 -0.5l-0.8 0l-1 -0.5l-0.7 0l-1 -0.5l-0.8 0l-4.2 -1.3l-1 0l-0.3 -0.2l-3 -0.3l-0.2 -0.2l-3 0l-0.3 -0.3l-4 0l-0.2 0.3l-4.3 0.2l-0.2 0.3l-2.3 0.2l-3 1l-0.7 0l-5.3 1.8l-0.7 0.5l-1.3 0.2l-0.7 0.5l-1.3 0.3l-4.7 2l-6 1.7l-2.3 0l-0.2 -0.2l-2.5 -0.3l-15.8 -4.5l-3.7 -0.5l-0.3 -0.2l-5.7 -0.3l-0.3 -0.2l-6.7 0.5l-0.3 0.2l-4.5 0.8l-7 2.2l-0.7 0.5l-3.3 1l-4 1.8l-6.5 2l-3.2 0l-0.3 -0.3l-2.2 -0.2l-3 -1l-0.8 0l-1 -0.5l-0.7 0l-1 -0.5l-0.8 0l-1.7 -0.8l-0.8 0l-1 -0.5l-0.7 0l-4.3 -1.2l-2.2 -0.3l-0.3 -0.2l-3.5 -0.3l-0.2 -0.2l-7.8 0l-0.2 0.2l-1.8 0l-0.2 0.3l-2.5 0.2l-0.3 0.3l-2.7 0.5l-1 0.5l-0.8 0l-6.5 2.2l-0.7 0.5l-1.3 0.3l-4 1.7l-4.5 1.5l-3 0.5l-0.2 0.3l-2.5 -0.3l-0.3 -0.2l-1 0l-0.2 -0.3l-3.8 -0.7l-5.2 -1.8l-0.8 0l-2.7 -1l-0.8 0l-2.2 -0.7l-1 0l-1.3 -0.5l-1.2 0l-1.8 -0.5l-2.5 0l-0.2 -0.3l-6 0l-0.3 0.3l-3 0.2l-5.7 1.8l-5.3 2.5l-0.5 0l-2.2 1.2l-0.5 0l-1.8 1l-0.5 0l-2.7 1.3l-0.8 0l-1.2 0.5l-6.5 0l-0.3 0.2l-1.7 0l-4.5 1.3l-4.3 2l-5.7 4l4.7 0l0.3 -0.3l2.7 0l0.3 -0.2l5.7 -0.3l0.3 -0.2l3.5 0l0.2 -0.3l4 0l0.3 -0.2l10.7 -0.3l2.5 1.8l3 2.7l0.3 -0.2l3.2 0l0.3 -0.3l21.5 -0.2l0.2 -0.3l7 0l0.3 -0.2l5.2 0l0.3 -0.3l8.7 -0.2l0.3 -0.3l6.7 -0.2l0.3 -0.3l6.5 -0.2l0.2 -0.3l18.3 -0.2l0.2 -0.3l0.5 0.3l0.3 -0.3l8.2 0l0.3 -0.2l12.5 -0.3l0.2 -0.2l4.5 0l0.3 -0.3l4 0l0.2 -0.2l7 -0.3l0.3 -0.2l3 0l0.2 -0.3l3 0l0.3 -0.2l33.7 -0.8l0.3 -0.2l5.7 0l0.3 -0.3l9.2 -0.2l0.3 -0.3l3.5 0l0.2 -0.2l3.3 0l0.2 -0.3l6.5 -0.2l0.3 -0.3l4.7 0l0.3 -0.2l10.2 0l0.3 -0.3l9.7 0l0.3 -0.2l13.5 -0.3l0.2 -0.2l9.8 -0.3l0.2 -0.2l3.5 0l0.3 -0.3l6.7 -0.2l0.3 -0.3l3 0l0.2 -0.2l3.8 0l0.2 -0.3l10 0l0.3 -0.2l9.5 0l0.2 -0.3l0.3 0.3l0.2 -0.3l14.3 -0.2l0.2 -0.3l5.3 0l0.2 -0.2l4.3 0l0.2 -0.3l7.5 -0.2l0.3 -0.3l10 -0.5l0.2 -0.2l19 -0.3l0.3 -0.2l8 0l0.2 -0.3l7 0l0.3 -0.2z"/>
<path fill="#ff6000" d="M557.9 222.9l-4 -4.8l-5.5 -5.5l-2.5 -2l-3.5 -2.2l-2.8 -1.3l-2.5 -0.7l-3.2 -0.3l-0.3 0.3l-1.7 0l-0.3 0.2l-3.7 0.5l-4.5 1.5l-0.8 0l-1.5 0.8l-2.7 0.7l-2 1l-1.3 0.3l-0.7 0.5l-1.3 0.2l-0.7 0.5l-1.3 0.3l-0.7 0.5l-6.3 1.7l-2.7 -0.2l-0.3 -0.3l-1 0l-0.2 -0.2l-3.8 -0.8l-3.5 -1.2l-0.7 0l-1 -0.5l-0.8 0l-1 -0.5l-0.7 0l-1 -0.5l-0.8 0l-2.2 -0.8l-1 0l-0.3 -0.2l-2.2 -0.3l-0.3 -0.2l-1.5 0l-0.2 -0.3l-2.3 0l-0.2 -0.2l-6 0l-0.3 0.2l-2 0l-0.2 0.3l-2.8 0.2l-0.2 0.3l-3.8 0.7l-6 2l-0.7 0.5l-1.3 0.3l-0.7 0.5l-1.3 0.2l-2 1l-2 0.5l-0.7 0.5l-3 1l-3 0.5l-0.3 0.3l-1.5 0l-0.2 -0.3l-3.8 -0.5l-2 -0.7l-1.7 -0.3l-1.8 -0.7l-0.7 0l-1 -0.5l-0.8 0l-1 -0.5l-0.7 0l-1 -0.5l-0.8 0l-4.2 -1.3l-1 0l-0.3 -0.2l-3 -0.3l-0.2 -0.2l-3 0l-0.3 -0.3l-4 0l-0.2 0.3l-4.3 0.2l-0.2 0.3l-2.3 0.2l-3 1l-0.7 0l-5.3 1.8l-0.7 0.5l-1.3 0.2l-0.7 0.5l-1.3 0.3l-4.7 2l-6 1.7l-2.3 0l-0.2 -0.2l-2.5 -0.3l-15.8 -4.5l-3.7 -0.5l-0.3 -0.2l-5.7 -0.3l-0.3 -0.2l-6.7 0.5l-0.3 0.2l-4.5 0.8l-7 2.2l-0.7 0.5l-3.3 1l-4 1.8l-6.5 2l-3.2 0l-0.3 -0.3l-2.2 -0.2l-3 -1l-0.8 0l-1 -0.5l-0.7 0l-1 -0.5l-0.8 0l-1.7 -0.8l-0.8 0l-1 -0.5l-0.7 0l-4.3 -1.2l-2.2 -0.3l-0.3 -0.2l-3.5 -0.3l-0.2 -0.2l-7.8 0l-0.2 0.2l-1.8 0l-0.2 0.3l-2.5 0.2l-0.3 0.3l-2.7 0.5l-1 0.5l-0.8 0l-6.5 2.2l-0.7 0.5l-1.3 0.3l-4 1.7l-4.5 1.5l-3 0.5l-0.2 0.3l-2.5 -0.3l-0.3 -0.2l-1 0l-0.2 -0.3l-3.8 -0.7l-5.2 -1.8l-0.8 0l-2.7 -1l-0.8 0l-2.2 -0.7l-1 0l-1.3 -0.5l-1.2 0l-1.8 -0.5l-2.5 0l-0.2 -0.3l-6 0l-0.3 0.3l-3 0.2l-5.7 1.8l-5.3 2.5l-0.5 0l-2.2 1.2l-0.5 0l-1.8 1l-0.5 0l-2.7 1.3l-0.8 0l-1.2 0.5l-6.5 0l-0.3 0.2l-1.7 0l-4.5 1.3l-4.3 2l-4.2 2.7l-0.3 0.5l0.8 -0.2l7.2 -0.3l0.3 -0.2l2.5 0l0.2 -0.3l2.8 0l0.2 -0.2l3.3 0l0.2 -0.3l12.8 -0.5l5.5 4.3l0.5 -0.3l7 0l0.2 -0.2l0.5 0.2l0.3 -0.2l21.5 -0.3l0.2 -0.2l5.8 0l0.2 -0.3l9.3 -0.2l0.2 -0.3l6.8 -0.2l0.2 -0.3l3 0l0.3 -0.2l2.7 0l0.3 -0.3l4.5 0l0.2 -0.2l10.8 0l0.2 -0.3l0.3 0.3l0.2 -0.3l9.8 0l0.2 -0.2l7.5 0l0.3 -0.3l11.2 -0.2l0.3 -0.3l8 -0.2l0.2 -0.3l6.3 -0.2l0.2 -0.3l2.8 0l0.2 -0.2l3.5 0l0.3 -0.3l9.7 0l0.3 -0.2l0.2 0.2l0.3 -0.2l10.2 0l0.3 -0.3l0.2 0.3l0.3 -0.3l7.5 0l0.2 -0.2l0.3 0.2l0.2 -0.2l5.8 0l0.2 -0.3l5.5 0l0.3 -0.2l8.2 -0.3l0.3 -0.2l3.2 0l0.3 -0.3l3 0l0.2 -0.2l6.3 -0.3l0.2 -0.2l35.5 -0.8l0.3 -0.2l5.2 0l0.3 -0.3l4.2 0l0.3 -0.2l4 0l0.2 -0.3l6.8 -0.2l0.2 -0.3l6 -0.2l0.3 -0.3l34.5 -0.7l0.2 -0.3l5.8 0l0.2 -0.2l9 -0.3l0.3 -0.2l3.5 0l0.2 -0.3l6.3 -0.2l0.2 -0.3l2.8 0l0.2 -0.2l5 0l0.3 -0.3l11.2 0l0.3 -0.2l9.2 0l0.3 -0.3l0.2 0.3l0.3 -0.3z"/>
<path fill="#ff5100" d="M556.9 221.6l-3 -3.5l-5.5 -5.5l-2.5 -2l-3.5 -2.2l-2.8 -1.3l-2.5 -0.7l-3.2 -0.3l-0.3 0.3l-1.7 0l-0.3 0.2l-3.7 0.5l-4.5 1.5l-0.8 0l-1.5 0.8l-2.7 0.7l-2 1l-1.3 0.3l-0.7 0.5l-1.3 0.2l-0.7 0.5l-1.3 0.3l-0.7 0.5l-6.3 1.7l-2.7 -0.2l-0.3 -0.3l-1 0l-0.2 -0.2l-3.8 -0.8l-3.5 -1.2l-0.7 0l-1 -0.5l-0.8 0l-1 -0.5l-0.7 0l-1 -0.5l-0.8 0l-2.2 -0.8l-1 0l-0.3 -0.2l-2.2 -0.3l-0.3 -0.2l-1.5 0l-0.2 -0.3l-2.3 0l-0.2 -0.2l-6 0l-0.3 0.2l-2 0l-0.2 0.3l-2.8 0.2l-0.2 0.3l-3.8 0.7l-6 2l-0.7 0.5l-1.3 0.3l-0.7 0.5l-1.3 0.2l-2 1l-2 0.5l-0.7 0.5l-3 1l-3 0.5l-0.3 0.3l-1.5 0l-0.2 -0.3l-3.8 -0.5l-2 -0.7l-1.7 -0.3l-1.8 -0.7l-0.7 0l-1 -0.5l-0.8 0l-1 -0.5l-0.7 0l-1 -0.5l-0.8 0l-4.2 -1.3l-1 0l-0.3 -0.2l-3 -0.3l-0.2 -0.2l-3 0l-0.3 -0.3l-4 0l-0.2 0.3l-4.3 0.2l-0.2 0.3l-2.3 0.2l-3 1l-0.7 0l-5.3 1.8l-0.7 0.5l-1.3 0.2l-0.7 0.5l-1.3 0.3l-4.7 2l-6 1.7l-2.3 0l-0.2 -0.2l-2.5 -0.3l-15.8 -4.5l-3.7 -0.5l-0.3 -0.2l-5.7 -0.3l-0.3 -0.2l-6.7 0.5l-0.3 0.2l-4.5 0.8l-7 2.2l-0.7 0.5l-3.3 1l-4 1.8l-6.5 2l-3.2 0l-0.3 -0.3l-2.2 -0.2l-3 -1l-0.8 0l-1 -0.5l-0.7 0l-1 -0.5l-0.8 0l-1.7 -0.8l-0.8 0l-1 -0.5l-0.7 0l-4.3 -1.2l-2.2 -0.3l-0.3 -0.2l-3.5 -0.3l-0.2 -0.2l-7.8 0l-0.2 0.2l-1.8 0l-0.2 0.3l-2.5 0.2l-0.3 0.3l-2.7 0.5l-1 0.5l-0.8 0l-6.5 2.2l-0.7 0.5l-1.3 0.3l-4 1.7l-4.5 1.5l-3 0.5l-0.2 0.3l-2.5 -0.3l-0.3 -0.2l-1 0l-0.2 -0.3l-3.8 -0.7l-5.2 -1.8l-0.8 0l-2.7 -1l-0.8 0l-2.2 -0.7l-1 0l-1.3 -0.5l-1.2 0l-1.8 -0.5l-2.5 0l-0.2 -0.3l-6 0l-0.3 0.3l-3 0.2l-5.7 1.8l-5.3 2.5l-0.5 0l-2.2 1.2l-0.5 0l-1.8 1l-0.5 0l-2.7 1.3l-0.8 0l-1.2 0.5l-6.5 0l-0.3 0.2l-1.7 0l-0.3 0.3l-2 0.2l-3.5 1.3l-3 1.5l-3.2 2.2l1.2 0l0.3 -0.2l4.2 0l0.3 -0.3l2.2 0l0.3 -0.2l2.2 0l0.3 -0.3l2.7 0l0.3 -0.2l7.7 -0.3l0.3 -0.2l5.2 0l0.3 -0.3l5.5 4l2.7 0l0.3 -0.2l11.7 0l0.3 -0.3l12 0l0.2 -0.2l6.8 0l0.2 -0.3l10 -0.2l0.3 -0.3l6.7 -0.2l0.3 -0.3l3 0l0.2 -0.2l5.8 -0.3l0.2 -0.2l36.3 -0.8l0.2 -0.2l5.3 0l0.2 -0.3l4.5 0l0.3 -0.2l7.2 -0.3l0.3 -0.2l2.7 0l0.3 -0.3l2.7 0l0.3 -0.2l2.7 0l0.3 -0.3l18 -0.2l0.2 -0.3l9.5 0l0.3 -0.2l13.5 -0.3l0.2 -0.2l8.8 -0.3l0.2 -0.2l3.3 0l0.2 -0.3l3 0l0.3 -0.2l2.7 0l0.3 -0.3l2.7 0l0.3 -0.2l4.2 0l0.3 -0.3l11.2 0l0.3 -0.2l0.2 0.2l0.3 -0.2l18.2 -0.3l0.3 -0.2l5.7 0l0.3 -0.3l4.7 0l0.3 -0.2l8 -0.3l0.2 -0.2l3 0l0.3 -0.3l9 -0.5l0.2 -0.2l10.5 0l0.3 -0.3l0.2 0.3l0.3 -0.3l19 -0.2l0.2 -0.3l6.3 0l0.2 -0.2l5.3 0l0.2 -0.3l8 -0.2l0.3 -0.3l3.2 0l0.3 -0.2l2.7 0l0.3 -0.3l5.7 -0.2l0.3 -0.3l20.7 -0.2l0.3 -0.3l8.5 0l0.2 -0.2l6.5 0l0.3 -0.3z"/>
<path fill="#ff4200" d="M555.9 220.6l-2 -2.5l-5.5 -5.5l-4.8 -3.5l-2.7 -1.5l-2.8 -1l-2.2 -0.2l-0.3 -0.3l-1.7 0l-0.3 0.3l-1.7 0l-0.3 0.2l-3.7 0.5l-4.5 1.5l-0.8 0l-1.5 0.8l-2.7 0.7l-2 1l-1.3 0.3l-0.7 0.5l-1.3 0.2l-0.7 0.5l-1.3 0.3l-0.7 0.5l-6.3 1.7l-2.7 -0.2l-0.3 -0.3l-1 0l-0.2 -0.2l-3.8 -0.8l-3.5 -1.2l-0.7 0l-1 -0.5l-0.8 0l-1 -0.5l-0.7 0l-1 -0.5l-0.8 0l-2.2 -0.8l-1 0l-0.3 -0.2l-2.2 -0.3l-0.3 -0.2l-1.5 0l-0.2 -0.3l-2.3 0l-0.2 -0.2l-6 0l-0.3 0.2l-2 0l-0.2 0.3l-2.8 0.2l-0.2 0.3l-3.8 0.7l-6 2l-0.7 0.5l-1.3 0.3l-0.7 0.5l-1.3 0.2l-2 1l-2 0.5l-0.7 0.5l-3 1l-3 0.5l-0.3 0.3l-1.5 0l-0.2 -0.3l-3.8 -0.5l-2 -0.7l-1.7 -0.3l-1.8 -0.7l-0.7 0l-1 -0.5l-0.8 0l-1 -0.5l-0.7 0l-1 -0.5l-0.8 0l-4.2 -1.3l-1 0l-0.3 -0.2l-3 -0.3l-0.2 -0.2l-3 0l-0.3 -0.3l-4 0l-0.2 0.3l-4.3 0.2l-0.2 0.3l-2.3 0.2l-3 1l-0.7 0l-5.3 1.8l-0.7 0.5l-1.3 0.2l-0.7 0.5l-1.3 0.3l-4.7 2l-6 1.7l-2.3 0l-0.2 -0.2l-2.5 -0.3l-15.8 -4.5l-3.7 -0.5l-0.3 -0.2l-5.7 -0.3l-0.3 -0.2l-6.7 0.5l-0.3 0.2l-4.5 0.8l-7 2.2l-0.7 0.5l-3.3 1l-4 1.8l-6.5 2l-3.2 0l-0.3 -0.3l-2.2 -0.2l-3 -1l-0.8 0l-1 -0.5l-0.7 0l-1 -0.5l-0.8 0l-1.7 -0.8l-0.8 0l-1 -0.5l-0.7 0l-4.3 -1.2l-2.2 -0.3l-0.3 -0.2l-3.5 -0.3l-0.2 -0.2l-7.8 0l-0.2 0.2l-1.8 0l-0.2 0.3l-2.5 0.2l-0.3 0.3l-2.7 0.5l-1 0.5l-0.8 0l-6.5 2.2l-0.7 0.5l-1.3 0.3l-4 1.7l-4.5 1.5l-3 0.5l-0.2 0.3l-2.5 -0.3l-0.3 -0.2l-1 0l-0.2 -0.3l-3.8 -0.7l-5.2 -1.8l-0.8 0l-2.7 -1l-0.8 0l-2.2 -0.7l-1 0l-1.3 -0.5l-1.2 0l-1.8 -0.5l-2.5 0l-0.2 -0.3l-6 0l-0.3 0.3l-3 0.2l-5.7 1.8l-5.3 2.5l-0.5 0l-2.2 1.2l-0.5 0l-1.8 1l-0.5 0l-2.7 1.3l-0.8 0l-1.2 0.5l-6.5 0l-0.3 0.2l-1.7 0l-0.3 0.3l-2 0.2l-3.5 1.3l-3 1.5l-1.7 1.2l6 -0.2l0.2 -0.3l2 0l0.3 -0.2l2 0l0.2 -0.3l2.8 0l0.2 -0.2l3 0l0.3 -0.3l7.5 -0.2l1.5 0.7l4.2 3l0.3 -0.2l5.5 0l0.2 -0.3l15.8 0l0.2 -0.2l0.3 0.2l0.2 -0.2l8.5 0l0.3 -0.3l0.2 0.3l0.3 -0.3l5.5 0l0.2 -0.2l9 -0.3l0.3 -0.2l6.2 -0.3l0.3 -0.2l2.5 0l0.2 -0.3l2.5 0l0.3 -0.2l3.2 0l0.3 -0.3l12.2 0l0.3 -0.2l19.5 -0.3l0.2 -0.2l5.8 0l0.2 -0.3l4.8 0l0.2 -0.2l7.8 -0.3l0.2 -0.2l2.8 0l0.2 -0.3l2.8 0l0.2 -0.2l5.8 -0.3l0.2 -0.2l10.3 0l0.2 -0.3l12.3 0l0.2 -0.2l14.8 -0.3l0.2 -0.2l4.8 0l0.2 -0.3l4.5 0l0.3 -0.2l6.7 -0.3l0.3 -0.2l2.5 0l0.2 -0.3l2.5 0l0.3 -0.2l2.5 0l0.2 -0.3l37.3 -0.7l0.2 -0.3l5.5 0l0.3 -0.2l4.2 0l0.3 -0.3l7 -0.2l0.2 -0.3l2.8 0l0.2 -0.2l2.5 0l0.3 -0.3l2.5 0l0.2 -0.2l29 -0.5l0.3 -0.3l7.2 0l0.3 -0.2l10.5 -0.3l0.2 -0.2l7.3 -0.3l0.2 -0.2l2.8 0l0.2 -0.3l2.5 0l0.3 -0.2l2.5 0l0.2 -0.3l3.5 0l0.3 -0.2l12.2 0l0.3 -0.3l0.5 0.3l0.2 -0.3l10.5 0l0.3 -0.2z"/>
<path fill="#ff3400" d="M554.9 219.4l-6.5 -6.8l-4.8 -3.5l-2.7 -1.5l-2.8 -1l-2.2 -0.2l-0.3 -0.3l-1.7 0l-0.3 0.3l-1.7 0l-0.3 0.2l-3.7 0.5l-4.5 1.5l-0.8 0l-1.5 0.8l-2.7 0.7l-2 1l-1.3 0.3l-0.7 0.5l-1.3 0.2l-0.7 0.5l-1.3 0.3l-0.7 0.5l-6.3 1.7l-2.7 -0.2l-0.3 -0.3l-1 0l-0.2 -0.2l-3.8 -0.8l-3.5 -1.2l-0.7 0l-1 -0.5l-0.8 0l-1 -0.5l-0.7 0l-1 -0.5l-0.8 0l-2.2 -0.8l-1 0l-0.3 -0.2l-2.2 -0.3l-0.3 -0.2l-1.5 0l-0.2 -0.3l-2.3 0l-0.2 -0.2l-6 0l-0.3 0.2l-2 0l-0.2 0.3l-2.8 0.2l-0.2 0.3l-3.8 0.7l-6 2l-0.7 0.5l-1.3 0.3l-0.7 0.5l-1.3 0.2l-2 1l-2 0.5l-0.7 0.5l-3 1l-3 0.5l-0.3 0.3l-1.5 0l-0.2 -0.3l-3.8 -0.5l-2 -0.7l-1.7 -0.3l-1.8 -0.7l-0.7 0l-1 -0.5l-0.8 0l-1 -0.5l-0.7 0l-1 -0.5l-0.8 0l-4.2 -1.3l-1 0l-0.3 -0.2l-3 -0.3l-0.2 -0.2l-3 0l-0.3 -0.3l-4 0l-0.2 0.3l-4.3 0.2l-0.2 0.3l-2.3 0.2l-3 1l-0.7 0l-5.3 1.8l-0.7 0.5l-1.3 0.2l-0.7 0.5l-1.3 0.3l-4.7 2l-6 1.7l-2.3 0l-0.2 -0.2l-2.5 -0.3l-15.8 -4.5l-3.7 -0.5l-0.3 -0.2l-5.7 -0.3l-0.3 -0.2l-6.7 0.5l-0.3 0.2l-4.5 0.8l-7 2.2l-0.7 0.5l-3.3 1l-4 1.8l-6.5 2l-3.2 0l-0.3 -0.3l-2.2 -0.2l-3 -1l-0.8 0l-1 -0.5l-0.7 0l-1 -0.5l-0.8 0l-1.7 -0.8l-0.8 0l-1 -0.5l-0.7 0l-4.3 -1.2l-2.2 -0.3l-0.3 -0.2l-3.5 -0.3l-0.2 -0.2l-7.8 0l-0.2 0.2l-1.8 0l-0.2 0.3l-2.5 0.2l-0.3 0.3l-2.7 0.5l-1 0.5l-0.8 0l-6.5 2.2l-0.7 0.5l-1.3 0.3l-4 1.7l-4.5 1.5l-3 0.5l-0.2 0.3l-2.5 -0.3l-0.3 -0.2l-1 0l-0.2 -0.3l-3.8 -0.7l-5.2 -1.8l-0.8 0l-2.7 -1l-0.8 0l-2.2 -0.7l-1 0l-1.3 -0.5l-1.2 0l-1.8 -0.5l-2.5 0l-0.2 -0.3l-6 0l-0.3 0.3l-3 0.2l-5.7 1.8l-5.3 2.5l-0.5 0l-2.2 1.2l-0.5 0l-1.8 1l-0.5 0l-2.7 1.3l-0.8 0l-1.2 0.5l-6.5 0l-0.3 0.2l-3 0.3l-4.5 1.5l-3.2 1.7l3.5 0l0.2 -0.2l2.5 0l0.3 -0.3l1.7 0l0.3 -0.2l4.7 -0.3l0.3 -0.2l3.2 0l0.3 -0.3l4.5 0l3 1.5l2.5 1.8l1.5 0l0.2 -0.3l12.5 0l0.3 -0.2l21 -0.3l0.2 -0.2l5 0l0.3 -0.3l4.2 0l0.3 -0.2l6.5 -0.3l0.2 -0.2l2.5 0l0.3 -0.3l5 -0.2l0.2 -0.3l38 -0.7l0.3 -0.3l5.2 0l0.3 -0.2l8.2 -0.3l0.3 -0.2l3 0l0.2 -0.3l2.5 0l0.3 -0.2l2.2 0l0.3 -0.3l2.2 0l0.3 -0.2l4.2 0l0.3 -0.3l14.5 0l0.2 -0.2l18.3 -0.3l0.2 -0.2l5.8 0l0.2 -0.3l8.3 -0.2l0.2 -0.3l6 -0.2l0.3 -0.3l8 -0.5l0.2 -0.2l13.3 0l0.2 -0.3l11.8 0l0.2 -0.2l14.3 -0.3l0.2 -0.2l4.5 0l0.3 -0.3l3.7 0l0.3 -0.2l6.2 -0.3l0.3 -0.2l2.5 0l0.2 -0.3l5 -0.2l0.3 -0.3l32.5 -0.5l0.2 -0.2l6.3 0l0.2 -0.3l5 0l0.3 -0.2l7.7 -0.3l0.3 -0.2l5.5 -0.3l0.2 -0.2l2.3 0l0.2 -0.3l2.3 0l0.2 -0.2l22 -0.3l0.3 -0.2l9 0l0.2 -0.3l6.8 0l0.2 -0.2l0.3 0.2z"/>
<path fill="#ff2500" d="M553.9 218.1l-5.5 -5.5l-4.8 -3.5l-2.7 -1.5l-2.8 -1l-2.2 -0.2l-0.3 -0.3l-1.7 0l-0.3 0.3l-1.7 0l-0.3 0.2l-3.7 0.5l-4.5 1.5l-0.8 0l-1.5 0.8l-2.7 0.7l-2 1l-1.3 0.3l-0.7 0.5l-1.3 0.2l-0.7 0.5l-1.3 0.3l-0.7 0.5l-6.3 1.7l-2.7 -0.2l-0.3 -0.3l-1 0l-0.2 -0.2l-3.8 -0.8l-3.5 -1.2l-0.7 0l-1 -0.5l-0.8 0l-1 -0.5l-0.7 0l-1 -0.5l-0.8 0l-2.2 -0.8l-1 0l-0.3 -0.2l-2.2 -0.3l-0.3 -0.2l-1.5 0l-0.2 -0.3l-2.3 0l-0.2 -0.2l-6 0l-0.3 0.2l-2 0l-0.2 0.3l-2.8 0.2l-0.2 0.3l-3.8 0.7l-6 2l-0.7 0.5l-1.3 0.3l-0.7 0.5l-1.3 0.2l-2 1l-2 0.5l-0.7 0.5l-3 1l-3 0.5l-0.3 0.3l-1.5 0l-0.2 -0.3l-3.8 -0.5l-2 -0.7l-1.7 -0.3l-1.8 -0.7l-0.7 0l-1 -0.5l-0.8 0l-1 -0.5l-0.7 0l-1 -0.5l-0.8 0l-4.2 -1.3l-1 0l-0.3 -0.2l-3 -0.3l-0.2 -0.2l-3 0l-0.3 -0.3l-4 0l-0.2 0.3l-4.3 0.2l-0.2 0.3l-2.3 0.2l-3 1l-0.7 0l-5.3 1.8l-0.7 0.5l-1.3 0.2l-0.7 0.5l-1.3 0.3l-4.7 2l-6 1.7l-2.3 0l-0.2 -0.2l-2.5 -0.3l-15.8 -4.5l-3.7 -0.5l-0.3 -0.2l-5.7 -0.3l-0.3 -0.2l-6.7 0.5l-0.3 0.2l-4.5 0.8l-7 2.2l-0.7 0.5l-3.3 1l-4 1.8l-6.5 2l-3.2 0l-0.3 -0.3l-2.2 -0.2l-3 -1l-0.8 0l-1 -0.5l-0.7 0l-1 -0.5l-0.8 0l-1.7 -0.8l-0.8 0l-1 -0.5l-0.7 0l-4.3 -1.2l-2.2 -0.3l-0.3 -0.2l-3.5 -0.3l-0.2 -0.2l-7.8 0l-0.2 0.2l-1.8 0l-0.2 0.3l-2.5 0.2l-0.3 0.3l-2.7 0.5l-1 0.5l-0.8 0l-6.5 2.2l-0.7 0.5l-1.3 0.3l-4 1.7l-4.5 1.5l-3 0.5l-0.2 0.3l-2.5 -0.3l-0.3 -0.2l-1 0l-0.2 -0.3l-3.8 -0.7l-5.2 -1.8l-0.8 0l-2.7 -1l-0.8 0l-2.2 -0.7l-1 0l-1.3 -0.5l-1.2 0l-1.8 -0.5l-2.5 0l-0.2 -0.3l-6 0l-0.3 0.3l-3 0.2l-5.7 1.8l-5.3 2.5l-0.5 0l-2.2 1.2l-0.5 0l-1.8 1l-0.5 0l-2.7 1.3l-0.8 0l-1.2 0.5l-6.5 0l-0.3 0.2l-1.7 0l-4.5 1.3l-2.8 1.2l4.5 0l0.3 -0.2l1.7 0l0.3 -0.3l3.5 -0.2l0.2 -0.3l7 -0.5l5.3 2.5l1 0.8l0.2 -0.3l2.8 0l0.2 -0.2l29.8 -0.3l0.2 -0.2l5.8 0l0.2 -0.3l4.5 0l0.3 -0.2l6.7 -0.3l0.3 -0.2l2.5 0l0.2 -0.3l2.3 0l0.2 -0.2l4.5 -0.3l0.3 -0.2l26.2 -0.3l0.3 -0.2l14.2 -0.3l0.3 -0.2l4.7 0l0.3 -0.3l7.2 -0.2l0.3 -0.3l2.5 0l0.2 -0.2l2.3 0l0.2 -0.3l4.5 -0.2l0.3 -0.3l23.7 -0.2l0.3 -0.3l0.2 0.3l0.3 -0.3l15.7 -0.2l0.3 -0.3l4.7 0l0.3 -0.2l7.5 -0.3l0.2 -0.2l2.8 0l0.2 -0.3l4.8 -0.2l0.2 -0.3l2 0l0.3 -0.2l5 0l0.2 -0.3l16.3 0l0.2 -0.2l0.5 0.2l0.3 -0.2l17 -0.3l0.2 -0.2l5.3 0l0.2 -0.3l7.8 -0.2l0.2 -0.3l5.5 -0.2l0.3 -0.3l2 0l0.2 -0.2l2 0l0.3 -0.3l2.7 0l0.3 -0.2l16 0l0.2 -0.3l19.3 -0.2l0.2 -0.3l5.5 0l0.3 -0.2l4.5 0l0.2 -0.3l6.8 -0.2l0.2 -0.3l2.5 0l0.3 -0.2l2.2 0l0.3 -0.3l4.5 -0.2l0.2 -0.3l26.8 -0.2l0.2 -0.3l7.8 0l0.2 -0.2l3.8 0z"/>
<path fill="#ff1600" d="M552.9 217.1l-4.5 -4.5l-2.5 -2l-3.5 -2.2l-4.3 -1.8l-2.2 -0.2l-0.3 -0.3l-1.7 0l-0.3 0.3l-1.7 0l-0.3 0.2l-3.7 0.5l-4.5 1.5l-0.8 0l-1.5 0.8l-2.7 0.7l-2 1l-1.3 0.3l-0.7 0.5l-1.3 0.2l-0.7 0.5l-1.3 0.3l-0.7 0.5l-6.3 1.7l-2.7 -0.2l-0.3 -0.3l-1 0l-0.2 -0.2l-3.8 -0.8l-3.5 -1.2l-0.7 0l-1 -0.5l-0.8 0l-1 -0.5l-0.7 0l-1 -0.5l-0.8 0l-2.2 -0.8l-1 0l-0.3 -0.2l-2.2 -0.3l-0.3 -0.2l-1.5 0l-0.2 -0.3l-2.3 0l-0.2 -0.2l-6 0l-0.3 0.2l-2 0l-0.2 0.3l-2.8 0.2l-0.2 0.3l-3.8 0.7l-6 2l-0.7 0.5l-1.3 0.3l-0.7 0.5l-1.3 0.2l-2 1l-2 0.5l-0.7 0.5l-3 1l-3 0.5l-0.3 0.3l-1.5 0l-0.2 -0.3l-3.8 -0.5l-2 -0.7l-1.7 -0.3l-1.8 -0.7l-0.7 0l-1 -0.5l-0.8 0l-1 -0.5l-0.7 0l-1 -0.5l-0.8 0l-4.2 -1.3l-1 0l-0.3 -0.2l-3 -0.3l-0.2 -0.2l-3 0l-0.3 -0.3l-4 0l-0.2 0.3l-4.3 0.2l-0.2 0.3l-2.3 0.2l-3 1l-0.7 0l-5.3 1.8l-0.7 0.5l-1.3 0.2l-0.7 0.5l-1.3 0.3l-4.7 2l-6 1.7l-2.3 0l-0.2 -0.2l-2.5 -0.3l-15.8 -4.5l-3.7 -0.5l-0.3 -0.2l-5.7 -0.3l-0.3 -0.2l-6.7 0.5l-0.3 0.2l-4.5 0.8l-7 2.2l-0.7 0.5l-3.3 1l-4 1.8l-6.5 2l-3.2 0l-0.3 -0.3l-2.2 -0.2l-3 -1l-0.8 0l-1 -0.5l-0.7 0l-1 -0.5l-0.8 0l-1.7 -0.8l-0.8 0l-1 -0.5l-0.7 0l-4.3 -1.2l-2.2 -0.3l-0.3 -0.2l-3.5 -0.3l-0.2 -0.2l-7.8 0l-0.2 0.2l-1.8 0l-0.2 0.3l-2.5 0.2l-0.3 0.3l-2.7 0.5l-1 0.5l-0.8 0l-6.5 2.2l-0.7 0.5l-1.3 0.3l-4 1.7l-4.5 1.5l-3 0.5l-0.2 0.3l-2.5 -0.3l-0.3 -0.2l-1 0l-0.2 -0.3l-3.8 -0.7l-5.2 -1.8l-0.8 0l-2.7 -1l-0.8 0l-2.2 -0.7l-1 0l-1.3 -0.5l-1.2 0l-1.8 -0.5l-2.5 0l-0.2 -0.3l-6 0l-0.3 0.3l-3 0.2l-5.7 1.8l-5.3 2.5l-0.5 0l-2.2 1.2l-0.5 0l-1.8 1l-0.5 0l-2.7 1.3l-0.8 0l-1.2 0.5l-6.5 0l-0.3 0.2l-1.7 0l-0.3 0.3l-2 0.2l-3 1.3l5 -0.3l0.3 -0.2l1.2 0l1.8 -0.5l1.7 0l0.3 -0.3l2 0l0.7 -0.2l3.3 1l3.2 1.7l0.5 -0.2l5.5 0l0.3 -0.3l0.5 0.3l0.2 -0.3l22.5 0l0.3 -0.2l7.7 0l0.3 -0.3l5 0l0.2 -0.2l3.8 0l0.2 -0.3l6 -0.2l0.3 -0.3l4.2 -0.2l0.3 -0.3l4 -0.2l0.2 -0.3l19.5 0l0.3 -0.2l18.5 -0.3l0.2 -0.2l5.3 0l0.2 -0.3l7.8 -0.2l0.2 -0.3l5 -0.2l0.3 -0.3l6 -0.5l0.2 -0.2l15.5 0l0.3 -0.3l0.5 0.3l0.2 -0.3l20.8 -0.2l0.2 -0.3l5.8 0l0.2 -0.2l4.3 0l0.2 -0.3l6.5 -0.2l0.3 -0.3l2.5 0l0.2 -0.2l1.8 0l0.2 -0.3l1.8 0l0.2 -0.2l1.8 0l0.2 -0.3l36.5 -0.5l0.3 -0.2l5.7 0l0.3 -0.3l8.7 -0.2l0.3 -0.3l2.7 0l0.3 -0.2l4.7 -0.3l0.3 -0.2l1.7 0l0.3 -0.3l1.7 0l0.3 -0.2l35 -0.5l0.2 -0.3l6.5 0l0.3 -0.2l5 0l0.2 -0.3l7 -0.2l0.3 -0.3l2.5 0l0.2 -0.2l4.3 -0.3l0.2 -0.2l1.5 0l0.3 -0.3l2.7 0l0.3 -0.2l20 0l0.2 -0.3l10.8 0l0.2 -0.2l7 0z"/>
<path fill="#ff0700" d="M551.9 216.1l-5 -4.7l-4.5 -3l-4.3 -1.8l-2.2 -0.2l-0.3 -0.3l-1.7 0l-0.3 0.3l-1.7 0l-0.3 0.2l-3.7 0.5l-4.5 1.5l-0.8 0l-1.5 0.8l-2.7 0.7l-2 1l-1.3 0.3l-0.7 0.5l-1.3 0.2l-0.7 0.5l-1.3 0.3l-0.7 0.5l-6.3 1.7l-2.7 -0.2l-0.3 -0.3l-1 0l-0.2 -0.2l-3.8 -0.8l-3.5 -1.2l-0.7 0l-1 -0.5l-0.8 0l-1 -0.5l-0.7 0l-1 -0.5l-0.8 0l-2.2 -0.8l-1 0l-0.3 -0.2l-2.2 -0.3l-0.3 -0.2l-1.5 0l-0.2 -0.3l-2.3 0l-0.2 -0.2l-6 0l-0.3 0.2l-2 0l-0.2 0.3l-2.8 0.2l-0.2 0.3l-3.8 0.7l-6 2l-0.7 0.5l-1.3 0.3l-0.7 0.5l-1.3 0.2l-2 1l-2 0.5l-0.7 0.5l-3 1l-3 0.5l-0.3 0.3l-1.5 0l-0.2 -0.3l-3.8 -0.5l-2 -0.7l-1.7 -0.3l-1.8 -0.7l-0.7 0l-1 -0.5l-0.8 0l-1 -0.5l-0.7 0l-1 -0.5l-0.8 0l-4.2 -1.3l-1 0l-0.3 -0.2l-3 -0.3l-0.2 -0.2l-3 0l-0.3 -0.3l-4 0l-0.2 0.3l-4.3 0.2l-0.2 0.3l-2.3 0.2l-3 1l-0.7 0l-5.3 1.8l-0.7 0.5l-1.3 0.2l-0.7 0.5l-1.3 0.3l-4.7 2l-6 1.7l-2.3 0l-0.2 -0.2l-2.5 -0.3l-15.8 -4.5l-3.7 -0.5l-0.3 -0.2l-5.7 -0.3l-0.3 -0.2l-6.7 0.5l-0.3 0.2l-4.5 0.8l-7 2.2l-0.7 0.5l-3.3 1l-4 1.8l-6.5 2l-3.2 0l-0.3 -0.3l-2.2 -0.2l-3 -1l-0.8 0l-1 -0.5l-0.7 0l-1 -0.5l-0.8 0l-1.7 -0.8l-0.8 0l-1 -0.5l-0.7 0l-4.3 -1.2l-2.2 -0.3l-0.3 -0.2l-3.5 -0.3l-0.2 -0.2l-7.8 0l-0.2 0.2l-1.8 0l-0.2 0.3l-2.5 0.2l-0.3 0.3l-2.7 0.5l-1 0.5l-0.8 0l-6.5 2.2l-0.7 0.5l-1.3 0.3l-4 1.7l-4.5 1.5l-3 0.5l-0.2 0.3l-2.5 -0.3l-0.3 -0.2l-1 0l-0.2 -0.3l-3.8 -0.7l-5.2 -1.8l-0.8 0l-2.7 -1l-0.8 0l-2.2 -0.7l-1 0l-1.3 -0.5l-1.2 0l-1.8 -0.5l-2.5 0l-0.2 -0.3l-6 0l-0.3 0.3l-3 0.2l-5.7 1.8l-5.3 2.5l-0.5 0l-2.2 1.2l-0.5 0l-1.8 1l-0.5 0l-2.7 1.3l-0.8 0l-1.2 0.5l-6.5 0l-0.3 0.2l-1.7 0l-0.3 0.3l-1 0l-1.7 0.5l3.7 0l0.3 -0.3l1.2 0l1.3 -0.5l3 0l0.2 0.3l2 0.2l3 1.3l0.5 -0.3l34.8 -0.2l0.2 -0.3l6.3 0l0.2 -0.2l4.3 0l0.2 -0.3l6.3 -0.2l0.2 -0.3l2 0l0.3 -0.2l1.7 0l0.3 -0.3l1.5 0l1.7 -0.5l3.3 0l0.2 -0.2l25 0l0.3 -0.3l9 0l0.2 -0.2l11 -0.3l0.3 -0.2l3.5 0l0.2 -0.3l5.3 -0.2l0.2 -0.3l1.8 0l0.2 -0.2l1.5 0l0.3 -0.3l3 -0.2l0.2 -0.3l23.5 0l0.3 -0.2l17.5 -0.3l0.2 -0.2l5 0l0.3 -0.3l7 -0.2l0.2 -0.3l2.3 0l0.2 -0.2l3.8 -0.3l0.2 -0.2l3 -0.3l0.3 -0.2l20 0l0.2 -0.3l20 -0.2l0.3 -0.3l5.2 0l0.3 -0.2l4.2 0l0.3 -0.3l5.7 -0.2l0.3 -0.3l2 0l0.2 -0.2l1.5 0l0.3 -0.3l1.2 0l1.8 -0.5l15 0l0.2 -0.2l0.3 0.2l0.2 -0.2l23.8 -0.3l0.2 -0.2l5.8 0l0.2 -0.3l4 0l0.3 -0.2l6.2 -0.3l0.3 -0.2l4 -0.3l0.2 -0.2l3 -0.3l0.3 -0.2l5 0l0.2 -0.3l23.5 0l0.3 -0.2l0.2 0.2l0.3 -0.2z"/>
<path fill="#f70000" d="M550.6 214.9l-3.7 -3.5l-4.5 -3l-4.3 -1.8l-2.2 -0.2l-0.3 -0.3l-1.7 0l-0.3 0.3l-1.7 0l-0.3 0.2l-3.7 0.5l-4.5 1.5l-0.8 0l-1.5 0.8l-2.7 0.7l-2 1l-1.3 0.3l-0.7 0.5l-1.3 0.2l-0.7 0.5l-1.3 0.3l-0.7 0.5l-6.3 1.7l-4 -0.5l-0.2 -0.2l-3.8 -0.8l-1 -0.5l-0.7 0l-3.5 -1.2l-0.8 0l-1 -0.5l-0.7 0l-1 -0.5l-0.8 0l-2.2 -0.8l-1 0l-1.3 -0.5l-3 -0.2l-0.2 -0.3l-2.3 0l-0.2 -0.2l-6 0l-0.3 0.2l-2 0l-0.2 0.3l-2.8 0.2l-0.2 0.3l-3.8 0.7l-6 2l-0.7 0.5l-1.3 0.3l-0.7 0.5l-1.3 0.2l-4.7 2l-6.3 1.8l-1.5 0l-0.2 -0.3l-3.8 -0.5l-2 -0.7l-1.7 -0.3l-1.8 -0.7l-0.7 0l-1 -0.5l-0.8 0l-1 -0.5l-0.7 0l-1 -0.5l-0.8 0l-4.2 -1.3l-1 0l-0.3 -0.2l-3 -0.3l-0.2 -0.2l-3 0l-0.3 -0.3l-4 0l-0.2 0.3l-4.3 0.2l-0.2 0.3l-2.3 0.2l-3 1l-0.7 0l-5.3 1.8l-0.7 0.5l-1.3 0.2l-0.7 0.5l-1.3 0.3l-4.7 2l-6 1.7l-2.3 0l-0.2 -0.2l-2.5 -0.3l-0.3 -0.2l-2.7 -0.5l-1 -0.5l-0.8 0l-1 -0.5l-0.7 0l-1 -0.5l-0.8 0l-3.5 -1.3l-0.7 0l-3.3 -1l-2.2 -0.2l-0.3 -0.3l-3.2 -0.2l-0.3 -0.3l-3.7 0l-0.3 -0.2l-1.2 0l-0.3 0.2l-5.2 0.3l-0.3 0.2l-4.5 0.8l-7 2.2l-0.7 0.5l-3.3 1l-4 1.8l-6.5 2l-3.2 0l-0.3 -0.3l-2.2 -0.2l-3 -1l-0.8 0l-1 -0.5l-0.7 0l-1 -0.5l-0.8 0l-1.7 -0.8l-0.8 0l-1 -0.5l-0.7 0l-4.3 -1.2l-2.2 -0.3l-0.3 -0.2l-3.5 -0.3l-0.2 -0.2l-7.8 0l-0.2 0.2l-1.8 0l-0.2 0.3l-2.5 0.2l-0.3 0.3l-2.7 0.5l-1 0.5l-0.8 0l-6.5 2.2l-0.7 0.5l-1.3 0.3l-4 1.7l-4.5 1.5l-3.7 0.8l-0.3 -0.3l-1.7 0l-0.3 -0.2l-1 0l-0.2 -0.3l-3.8 -0.7l-5.2 -1.8l-0.8 0l-2.7 -1l-0.8 0l-2.2 -0.7l-1 0l-1.3 -0.5l-1.2 0l-1.8 -0.5l-2.5 0l-0.2 -0.3l-6 0l-0.3 0.3l-3 0.2l-5.7 1.8l-5.3 2.5l-0.5 0l-2.2 1.2l-0.5 0l-1.8 1l-0.5 0l-2.7 1.3l-0.8 0l-1.2 0.5l-6.5 0l-0.3 0.2l-1 0l2.8 0l0.2 -0.2l0.8 0l0.2 0.2l1.8 0l1.5 0.5l0.7 -0.2l32.5 0l0.3 -0.3l8 0l0.2 -0.2l4.8 0l0.2 -0.3l3.8 0l0.2 -0.2l5.3 -0.3l0.2 -0.2l3.3 -0.3l2.7 -1l8.8 0l0.2 0.3l0.5 -0.3l0.8 0.3l0.2 -0.3l0.5 0.3l0.3 -0.3l0.2 0.3l1 0l0.3 -0.3l0.2 0.3l0.3 -0.3l0.5 0.3l0.5 -0.3l0.7 0.3l0.3 -0.3l26.7 -0.2l0.3 -0.3l5 0l0.2 -0.2l4.3 0l0.2 -0.3l5.5 -0.2l0.3 -0.3l3.2 -0.2l0.3 -0.3l1.7 -0.2l0.8 -0.5l32 0l0.2 -0.3l8.5 0l0.3 -0.2l5.7 0l0.3 -0.3l4.2 0l0.3 -0.2l5.7 -0.3l0.3 -0.2l2 0l0.2 -0.3l2.5 -0.2l1.8 -0.8l28.7 0l0.3 -0.2l10.2 0l0.3 -0.3l6.2 0l0.3 -0.2l4.5 0l0.2 -0.3l3.3 0l0.2 -0.2l5 -0.3l0.3 -0.2l2.7 -0.3l1.8 -0.7l25 0l0.2 -0.3l0.5 0.3l0.3 -0.3l11.5 0l0.2 -0.2l11.8 -0.3l0.2 -0.2l3.8 0l0.2 -0.3l2.5 0l0.3 -0.2l4.2 -0.3l4.3 -1.2l4.5 0l0.2 0.2l13 0l0.3 -0.2l0.2 0.2l0.5 -0.2l0.3 0.2l0.2 -0.2l15.3 0l0.2 -0.3l0.3 0.3l0.2 -0.3l6.8 0z"/>
<path fill="#e70000" d="M192.4 227.9l3.2 0l0.3 0.2l29.5 0l0.2 -0.2l6 0l0.3 -0.3l7.7 -0.2l0.3 -0.3l2.2 0l0.3 -0.2l3 -0.3l0.7 -0.2l0 -0.3l-1.2 0l-0.3 -0.2l-1 0l-0.2 -0.3l-3.8 -0.7l-5.2 -1.8l-0.8 0l-2.7 -1l-0.8 0l-2.2 -0.7l-1 0l-1.3 -0.5l-1.2 0l-1.8 -0.5l-2.5 0l-0.2 -0.3l-6 0l-0.3 0.3l-3 0.2l-5.7 1.8l-10.3 4.7zM250.9 225.4l8 0l0.2 0.2l29 -0.2l0.3 -0.3l6.5 0l0.2 -0.2l7.8 -0.3l0.2 -0.2l4.5 -0.3l0.3 -0.2l1.2 0l1.3 -0.5l-1 0l-0.3 -0.3l-4.2 -0.7l-1 -0.5l-4.3 -1l-3.5 -1.3l-0.7 0l-4.3 -1.2l-2.2 -0.3l-0.3 -0.2l-3.5 -0.3l-0.2 -0.2l-7.8 0l-0.2 0.2l-1.8 0l-0.2 0.3l-2.5 0.2l-0.3 0.3l-2.7 0.5l-1 0.5l-0.8 0l-6.5 2.2l-0.7 0.5l-1.3 0.3l-4 1.7zM315.6 222.4l0.5 0.2l34 0l0.3 -0.2l7.2 0l0.3 -0.3l8.5 -0.2l0.2 -0.3l2.8 0l0.2 -0.2l3.5 -0.3l1.3 -0.5l-6 -1.2l-1 -0.5l-0.8 0l-1 -0.5l-0.7 0l-3.5 -1.3l-0.8 0l-1 -0.5l-0.7 0l-3.3 -1l-3.7 -0.5l-0.3 -0.2l-1.7 0l-0.3 -0.3l-3.7 0l-0.3 -0.2l-1.2 0l-0.3 0.2l-5.2 0.3l-0.3 0.2l-4.5 0.8l-7 2.2l-0.7 0.5l-3.3 1l-4 1.8zM379.6 219.6l1.8 0l0.2 0.3l30 0l0.3 -0.3l0.2 0.3l0.3 -0.3l8 0l0.2 -0.2l9.3 -0.3l0.2 -0.2l5 -0.3l0.3 -0.2l1.5 0l1.7 -0.5l-0.2 -0.3l-1.3 0l-0.2 -0.2l-3.3 -0.5l-1 -0.5l-1.7 -0.3l-1.8 -0.7l-0.7 0l-4.5 -1.5l-0.8 0l-4.2 -1.3l-1 0l-0.3 -0.2l-3 -0.3l-0.2 -0.2l-3 0l-0.3 -0.3l-4 0l-0.2 0.3l-4.3 0.2l-0.2 0.3l-2.3 0.2l-3 1l-0.7 0l-5.3 1.8l-0.7 0.5l-1.3 0.2l-0.7 0.5l-1.3 0.3l-4.7 2zM443.6 216.9l3.8 0l0.2 0.2l26 0l0.3 -0.2l9 0l0.2 -0.3l5.5 0l0.3 -0.2l4.2 0l0.3 -0.3l5.5 -0.2l0.2 -0.3l2.8 -0.2l0.7 -0.3l0 -0.2l-1.2 0l-0.3 -0.3l-1 0l-0.2 -0.2l-3.8 -0.8l-3.5 -1.2l-0.7 0l-4.5 -1.5l-0.8 0l-2.2 -0.8l-1 0l-1.3 -0.5l-3 -0.2l-0.2 -0.3l-2.3 0l-0.2 -0.2l-6 0l-0.3 0.2l-2 0l-0.2 0.3l-2.8 0.2l-0.2 0.3l-3.8 0.7l-6 2l-0.7 0.5l-1.3 0.3l-0.7 0.5l-1.3 0.2l-4.7 2zM549.6 213.9l-3.7 -3.3l-5 -3l-3.8 -1.2l-3.2 -0.3l-0.3 0.3l-1.7 0l-0.3 0.2l-3.7 0.5l-4.5 1.5l-0.8 0l-1.5 0.8l-2.7 0.7l-2 1l-1.3 0.3l-0.7 0.5l-1.3 0.2l-0.7 0.5l-1.3 0.3l-0.7 0.5l-2.3 0.7l-0.7 0l7 0l0.2 0.3l19.3 0l0.2 -0.3l0.3 0.3l0.2 -0.3l10.8 0l0.2 -0.2z"/>
<path fill="#d70000" d="M195.4 226.6l1.5 0l0.2 0.3l10.3 0l0.2 0.2l19.8 -0.2l0.2 -0.3l5 0l0.3 -0.2l6.2 -0.3l0.3 -0.2l3 -0.3l0 -0.2l-2.8 -0.5l-5.2 -1.8l-0.8 0l-2.7 -1l-0.8 0l-2.2 -0.7l-1 0l-1.3 -0.5l-1.2 0l-1.8 -0.5l-2.5 0l-0.2 -0.3l-6 0l-0.3 0.3l-3 0.2l-5.7 1.8zM254.6 224.1l4.8 0l0.2 0.3l30.5 -0.3l0.3 -0.2l5.5 0l0.2 -0.3l6.5 -0.2l0.3 -0.3l2 0l1.7 -0.5l-1.7 -0.2l-1 -0.5l-4.3 -1l-3.5 -1.3l-0.7 0l-4.3 -1.2l-2.2 -0.3l-0.3 -0.2l-3.5 -0.3l-0.2 -0.2l-7.8 0l-0.2 0.2l-1.8 0l-0.2 0.3l-2.5 0.2l-0.3 0.3l-2.7 0.5l-1 0.5l-0.8 0zM319.1 221.4l7.3 0l0.2 0.2l0.3 -0.2l0.2 0.2l25.5 -0.2l0.3 -0.3l6 0l0.2 -0.2l7.3 -0.3l0.2 -0.2l2 0l0.3 -0.3l2.2 -0.2l-2.7 -0.5l-1 -0.5l-0.8 0l-1 -0.5l-0.7 0l-3.5 -1.3l-0.8 0l-1 -0.5l-0.7 0l-3.3 -1l-3.7 -0.5l-0.3 -0.2l-1.7 0l-0.3 -0.3l-3.7 0l-0.3 -0.2l-1.2 0l-0.3 0.2l-5.2 0.3l-0.3 0.2l-4.5 0.8l-7 2.2l-0.7 0.5l-3.3 1zM383.1 218.4l0.8 0l0.2 0.2l30.8 0l0.2 -0.2l11.3 -0.3l0.2 -0.2l3 0l0.3 -0.3l2.2 0l0.3 -0.2l2.7 -0.3l-4.2 -1l-1.8 -0.7l-0.7 0l-4.5 -1.5l-0.8 0l-4.2 -1.3l-1 0l-0.3 -0.2l-3 -0.3l-0.2 -0.2l-3 0l-0.3 -0.3l-4 0l-0.2 0.3l-4.3 0.2l-0.2 0.3l-4.3 0.7l-7 2.3l-6 2.5zM447.1 215.6l2.3 0l0.2 0.3l27.5 0l0.3 -0.3l7 0l0.2 -0.2l8.5 -0.3l0.3 -0.2l4.5 -0.3l0.2 -0.2l0.8 0l0 -0.3l-2.8 -0.5l-3.5 -1.2l-0.7 0l-4.5 -1.5l-0.8 0l-2.2 -0.8l-1 0l-1.3 -0.5l-3 -0.2l-0.2 -0.3l-2.3 0l-0.2 -0.2l-6 0l-0.3 0.2l-2 0l-0.2 0.3l-2.8 0.2l-0.2 0.3l-3.8 0.7l-6 2l-6 2.5zM548.4 212.6l-2.5 -2l-5 -3l-3.8 -1.2l-3.2 -0.3l-0.3 0.3l-3.2 0.2l-0.3 0.3l-1 0l-0.2 0.2l-1 0l-2 0.8l-0.8 0l-6.7 2.2l-6 2.5l-1.3 0.3l4.3 0l0.2 0.2l22.8 0l0.2 -0.2l8.5 0l0.3 -0.3z"/>
<path fill="#c70000" d="M198.1 225.6l6.3 0l0.2 0.3l16.5 0l0.3 -0.3l11.5 -0.2l0.2 -0.3l2.8 0l0.2 -0.2l3.3 -0.3l-3.3 -0.7l-5.2 -1.8l-0.8 0l-2.2 -0.7l-1 0l-1.3 -0.5l-1.2 0l-1.8 -0.5l-2.5 0l-0.2 -0.3l-6 0l-0.3 0.3l-3 0.2l-5.7 1.8l-5.3 2.5l-0.5 0l-1 0.5zM257.9 222.9l2.7 0l0.3 0.2l23.2 0l0.3 -0.2l11.7 -0.3l0.3 -0.2l3.2 0l0.3 -0.3l3.2 -0.2l-7 -2.3l-0.7 0l-4.3 -1.2l-2.2 -0.3l-0.3 -0.2l-3.5 -0.3l-0.2 -0.2l-7.8 0l-0.2 0.2l-1.8 0l-0.2 0.3l-1.3 0l-0.2 0.2l-1 0l-0.3 0.3l-2.7 0.5zM321.9 220.1l5 0l0.2 0.3l18 0l0.3 -0.3l14 -0.2l0.2 -0.3l5.8 -0.2l0.2 -0.3l1.5 0l0.3 -0.2l-4.3 -1l-3.5 -1.3l-0.7 0l-3.3 -1l-2.2 -0.2l-0.3 -0.3l-3.2 -0.2l-0.3 -0.3l-3.7 0l-0.3 -0.2l-1.2 0l-0.3 0.2l-5.2 0.3l-0.3 0.2l-4.5 0.8zM386.4 217.4l7.7 0l0.3 0.2l22.2 -0.2l0.3 -0.3l9.5 -0.2l0.2 -0.3l2.5 0l0.3 -0.2l2.2 -0.3l-0.7 0l-1.8 -0.7l-0.7 0l-4.5 -1.5l-0.8 0l-4.2 -1.3l-1 0l-0.3 -0.2l-3 -0.3l-0.2 -0.2l-3 0l-0.3 -0.3l-4 0l-0.2 0.3l-4.3 0.2l-0.2 0.3l-4.3 0.7l-7 2.3zM450.6 214.4l0.8 0l0.2 0.2l27.5 0l0.3 -0.2l10.5 -0.3l0.2 -0.2l2.5 0l0.3 -0.3l3 -0.2l-1.5 -0.3l-3.5 -1.2l-0.8 0l-1 -0.5l-0.7 0l-1 -0.5l-0.8 0l-2.2 -0.8l-1 0l-1.3 -0.5l-3 -0.2l-0.2 -0.3l-2.3 0l-0.2 -0.2l-6 0l-0.3 0.2l-2 0l-0.2 0.3l-2.8 0.2l-0.2 0.3l-3.8 0.7zM547.1 211.6l-3.5 -2.5l-2.7 -1.5l-2.8 -1l-2.2 -0.2l-0.3 -0.3l-3.7 0.3l-0.3 0.2l-1.2 0l-0.3 0.3l-3.2 0.5l-1 0.5l-0.8 0l-1.7 0.7l-1.5 0.3l-0.8 0.5l-2.7 0.7l-0.8 0.5l-3 1l2.3 0l0.2 0.3l24.3 0l0.2 -0.3z"/>
<path fill="#b70000" d="M200.4 224.4l3.5 0l0.2 0.2l19 0l0.3 -0.2l5.5 0l0.2 -0.3l3.3 0l0.2 -0.2l3.3 -0.3l-8 -2.2l-1 0l-0.3 -0.3l-2.2 -0.2l-0.3 -0.3l-1.2 0l-0.3 -0.2l-8.7 -0.3l-0.3 0.3l-1.7 0l-0.3 0.2l-3 0.5l-3.7 1.3zM261.1 221.6l1.3 0l0.2 0.3l23 0l0.3 -0.3l6 0l0.2 -0.2l3.8 0l0.2 -0.3l3.8 -0.2l-3.8 -1.3l-0.7 0l-4.3 -1.2l-3.7 -0.5l-0.3 -0.3l-2 0l-0.2 -0.2l-7.8 0l-0.2 0.2l-1.8 0l-0.2 0.3l-1.3 0l-0.2 0.2l-1 0l-0.3 0.3l-2.7 0.5zM325.1 218.9l2.8 0l0.2 0.2l19.8 0l0.2 -0.2l11 -0.3l0.3 -0.2l4.5 -0.3l0 -0.2l-0.8 0l-3.5 -1.3l-0.7 0l-3.3 -1l-2.2 -0.2l-0.3 -0.3l-3.2 -0.2l-0.3 -0.3l-3.7 0l-0.3 -0.2l-1.2 0l-0.3 0.2l-5.2 0.3l-0.3 0.2l-3.5 0.5zM389.1 216.1l5 0l0.3 0.3l14.7 0l0.3 -0.3l13.2 -0.2l0.3 -0.3l2.7 0l0.3 -0.2l1.7 0l0.5 -0.3l-3.2 -0.7l-1 -0.5l-4.8 -1l-0.2 -0.3l-1 0l-0.3 -0.2l-3 -0.3l-0.2 -0.2l-3 0l-0.3 -0.3l-4 0l-0.2 0.3l-2.5 0l-0.3 0.2l-1.5 0l-0.2 0.3l-2.3 0.2l-3 1l-0.7 0zM453.6 213.4l8.5 0l0.3 0.2l0.2 -0.2l0.3 0.2l17.5 -0.2l0.2 -0.3l5.3 0l0.2 -0.2l3 0l0.3 -0.3l3.2 -0.2l-0.7 0l-4.5 -1.5l-0.8 0l-2.2 -0.8l-1 0l-1.3 -0.5l-1.2 0l-0.3 -0.2l-4 -0.3l-0.2 -0.2l-6 0l-0.3 0.2l-2 0l-0.2 0.3l-2.8 0.2l-0.2 0.3l-3.8 0.7l-6 2zM545.4 210.4l-4.5 -2.8l-2.8 -1l-2.2 -0.2l-0.3 -0.3l-3.7 0.3l-0.3 0.2l-3.7 0.5l-4.5 1.5l-0.8 0l-1.5 0.8l-3.2 1l0.7 0l0.3 0.2l23.7 0l0.3 -0.2z"/>
<path fill="#a70000" d="M203.1 223.1l1.3 0l0.2 0.3l19 0l0.3 -0.3l4.5 0l0.2 -0.2l4 -0.3l-0.7 0l-1 -0.5l-0.8 0l-2.2 -0.7l-1 0l-1.3 -0.5l-2.7 -0.3l-0.3 -0.2l-8.7 -0.3l-0.3 0.3l-1.7 0l-0.3 0.2l-3 0.5zM264.6 220.6l21.8 0l0.2 -0.2l5 0l0.3 -0.3l4.5 -0.2l-5.3 -1.5l-3.7 -0.5l-0.3 -0.3l-2 0l-0.2 -0.2l-7.8 0l-0.2 0.2l-1.8 0l-0.2 0.3l-1.3 0l-0.2 0.2l-1 0l-0.3 0.3l-2.7 0.5l-1 0.5l-0.8 0l-3 1zM328.6 217.6l1 0l0.3 0.3l19 0l0.2 -0.3l9.3 -0.2l0.2 -0.3l1.8 0l0 -0.2l-4.5 -1l-0.3 -0.3l-3.7 -0.5l-0.3 -0.2l-7.2 -0.5l-0.3 0.2l-5.2 0.3l-0.3 0.2l-3.5 0.5zM392.6 214.9l2.8 0l0.2 0.2l14.8 0l0.2 -0.2l0.3 0.2l0.2 -0.2l10.8 -0.3l0.2 -0.2l2 0l0.5 -0.3l-5.5 -1.2l-0.2 -0.3l-2.5 -0.2l-0.3 -0.3l-4.7 -0.2l-0.3 -0.3l-4 0l-0.2 0.3l-2.5 0l-0.3 0.2l-1.5 0l-0.2 0.3l-2.3 0.2zM456.6 212.1l5.5 0l0.3 0.3l9.2 0l0.3 -0.3l0.2 0.3l0.3 -0.3l12.7 -0.2l0.3 -0.3l3.7 -0.2l-0.7 0l-1 -0.5l-0.8 0l-2.2 -0.8l-1 0l-1.3 -0.5l-3 -0.2l-0.2 -0.3l-2.3 0l-0.2 -0.2l-6 0l-0.3 0.2l-2 0l-0.2 0.3l-2.8 0.2zM543.6 209.1l-2.7 -1.5l-2.8 -1l-2.2 -0.2l-0.3 -0.3l-1.7 0l-0.3 0.3l-1.7 0l-0.3 0.2l-3.7 0.5l-4.5 1.5l-0.8 0l-1.7 0.8l22.7 0z"/>
<path fill="#970000" d="M206.4 222.1l16.5 0l0.2 -0.2l5.3 -0.3l-2.5 -0.5l-0.3 -0.2l-2.7 -0.3l-0.3 -0.2l-8.7 -0.3l-0.3 0.3l-1.7 0l-0.3 0.2l-3 0.5l-2.2 0.8zM267.6 219.4l18.3 0l0.2 -0.3l6.3 -0.2l-1.3 -0.5l-3.7 -0.5l-0.3 -0.3l-2 0l-0.2 -0.2l-7.8 0l-0.2 0.2l-1.8 0l-0.2 0.3l-2.5 0.2l-0.3 0.3l-2.7 0.5l-1 0.5zM332.4 216.4l0.5 0.2l15.7 0l0.3 -0.2l4.7 0l0.3 -0.3l2.2 0l0.5 -0.2l-3.2 -0.5l-0.3 -0.3l-1.2 0l-0.3 -0.2l-1.7 0l-0.3 -0.3l-3.7 0l-0.3 -0.2l-1.2 0l-0.3 0.2l-5.2 0.3l-0.3 0.2l-1 0l-0.2 0.3l-1 0l-0.3 0.2l-1 0l-2 0.8zM396.4 213.6l1.7 0l0.3 0.3l12.2 0l0.3 -0.3l6 0l0.2 -0.2l2.8 0l0.2 -0.3l0.8 0l-3 -0.5l-0.3 -0.2l-1.2 0l-0.3 -0.3l-1.5 0l-0.2 -0.2l-7.3 -0.3l-0.2 0.3l-4.3 0.2l-0.2 0.3l-2.3 0.2l-3 1zM460.4 210.9l11 0.2l0.2 -0.2l8.3 0l0.2 -0.3l5 -0.2l-1.7 -0.3l-1.3 -0.5l-3 -0.2l-0.2 -0.3l-2.3 0l-0.2 -0.2l-6 0l-0.3 0.2l-2 0l-0.2 0.3l-2.8 0.2l-0.2 0.3zM541.9 208.1l-3.8 -1.5l-2.2 -0.2l-0.3 -0.3l-5.2 0.5l-0.3 0.3l-2.2 0.2l-3.5 1z"/>
<path fill="#870000" d="M209.9 220.9l10 0l0.2 -0.3l2.8 0l-0.3 -0.2l-2.5 0l-0.2 -0.3l-6 0l-0.3 0.3l-1.7 0l-0.3 0.2zM272.9 218.1l10 0l0.2 -0.2l3.5 0l0.5 -0.3l-2 0l-0.2 -0.2l-7.8 0l-0.2 0.2l-1.8 0l-0.2 0.3zM337.6 215.1l0.8 0.3l6.7 0l0.3 -0.3l4.7 0l0.3 -0.2l1 0l-7 -0.5l-0.3 0.2l-3.2 0l-0.3 0.3zM401.4 212.4l12.2 0l0.3 -0.3l1.5 0l-0.8 0l-0.2 -0.2l-3 0l-0.3 -0.3l-4 0l-0.2 0.3l-2.5 0l-0.3 0.2zM465.1 209.6l11.8 0l0.2 -0.2l2.3 0l-0.5 -0.3l-2.3 0l-0.2 -0.2l-6 0l-0.3 0.2l-2 0l-0.2 0.3zM529.1 206.9l9.8 0l-1.8 -0.5l-1.2 0l-0.3 -0.3l-1.7 0l-0.3 0.3l-1.7 0l-0.3 0.2z"/></g>
<g><path class="ax" d="M40.5 278.3L40.5 189.4"/>
<path class="ax" d="M40.0 278.3L328.0 298.1"/>
<path class="ax" d="M328.0 298.1L677.5 282.8"/>
<path class="ax" d="M40.0 278.3L32.0 278.6"/>
<path class="ax" d="M40.0 248.7L32.0 249.0"/>
<path class="ax" d="M40.0 219.0L32.0 219.3"/>
<path class="ax" d="M40.0 189.4L32.0 189.7"/>
<path class="ax" d="M40.0 278.3L32.0 278.6"/>
<path class="ax" d="M88.0 281.6L80.0 281.9"/>
<path class="ax" d="M136.0 284.9L128.0 285.2"/>
<path class="ax" d="M184.0 288.2L176.0 288.5"/>
<path class="ax" d="M232.0 291.5L224.0 291.8"/>
<path class="ax" d="M280.0 294.8L272.0 295.1"/>
<path class="ax" d="M328.0 298.1L320.0 298.4"/>
<path class="ax" d="M328.0 298.1L336.0 298.6"/>
<path class="ax" d="M444.5 293.0L452.5 293.5"/>
<path class="ax" d="M561.0 287.9L569.0 288.4"/>
<path class="ax" d="M677.5 282.8L685.5 283.3"/></g>
<g><text x="26.0" y="286.6" text-anchor="middle">3</text>
<text x="74.3" y="291.9" text-anchor="middle">2</text>
<text x="121.3" y="296.2" text-anchor="middle">1</text>
<text x="170.0" y="298.6" text-anchor="middle">0</text>
<text x="217.0" y="301.8" text-anchor="middle">-1</text>
<text x="264.6" y="305.6" text-anchor="middle">-2</text>
<text x="312.5" y="308.8" text-anchor="middle">-3</text>
<text x="341.0" y="308.8" text-anchor="middle">0</text>
<text x="458.0" y="302.2" text-anchor="middle">5</text>
<text x="577.0" y="298.4" text-anchor="middle">10</text>
<text x="694.0" y="292.3" text-anchor="middle">15</text>
<text x="28.2" y="281.9" text-anchor="end">0</text>
<text x="28.2" y="252.2" text-anchor="end">0.5</text>
<text x="28.2" y="222.6" text-anchor="end">1</text>
<text x="28.2" y="193.0" text-anchor="end">1.5</text>
<text x="165.0" y="315.5" text-anchor="middle">r/r<tspan dy="5.6" font-size="8.6">0</tspan></text>
<text x="503.5" y="316.3" text-anchor="middle">Normalized distance</text>
<text transform="translate(8.4 233.2) rotate(-90)" text-anchor="middle" font-size="11.2">Normalized Intensity</text>
<text x="102.5" y="208.0" text-anchor="middle">(b)</text></g>
</svg>
</body></html>
